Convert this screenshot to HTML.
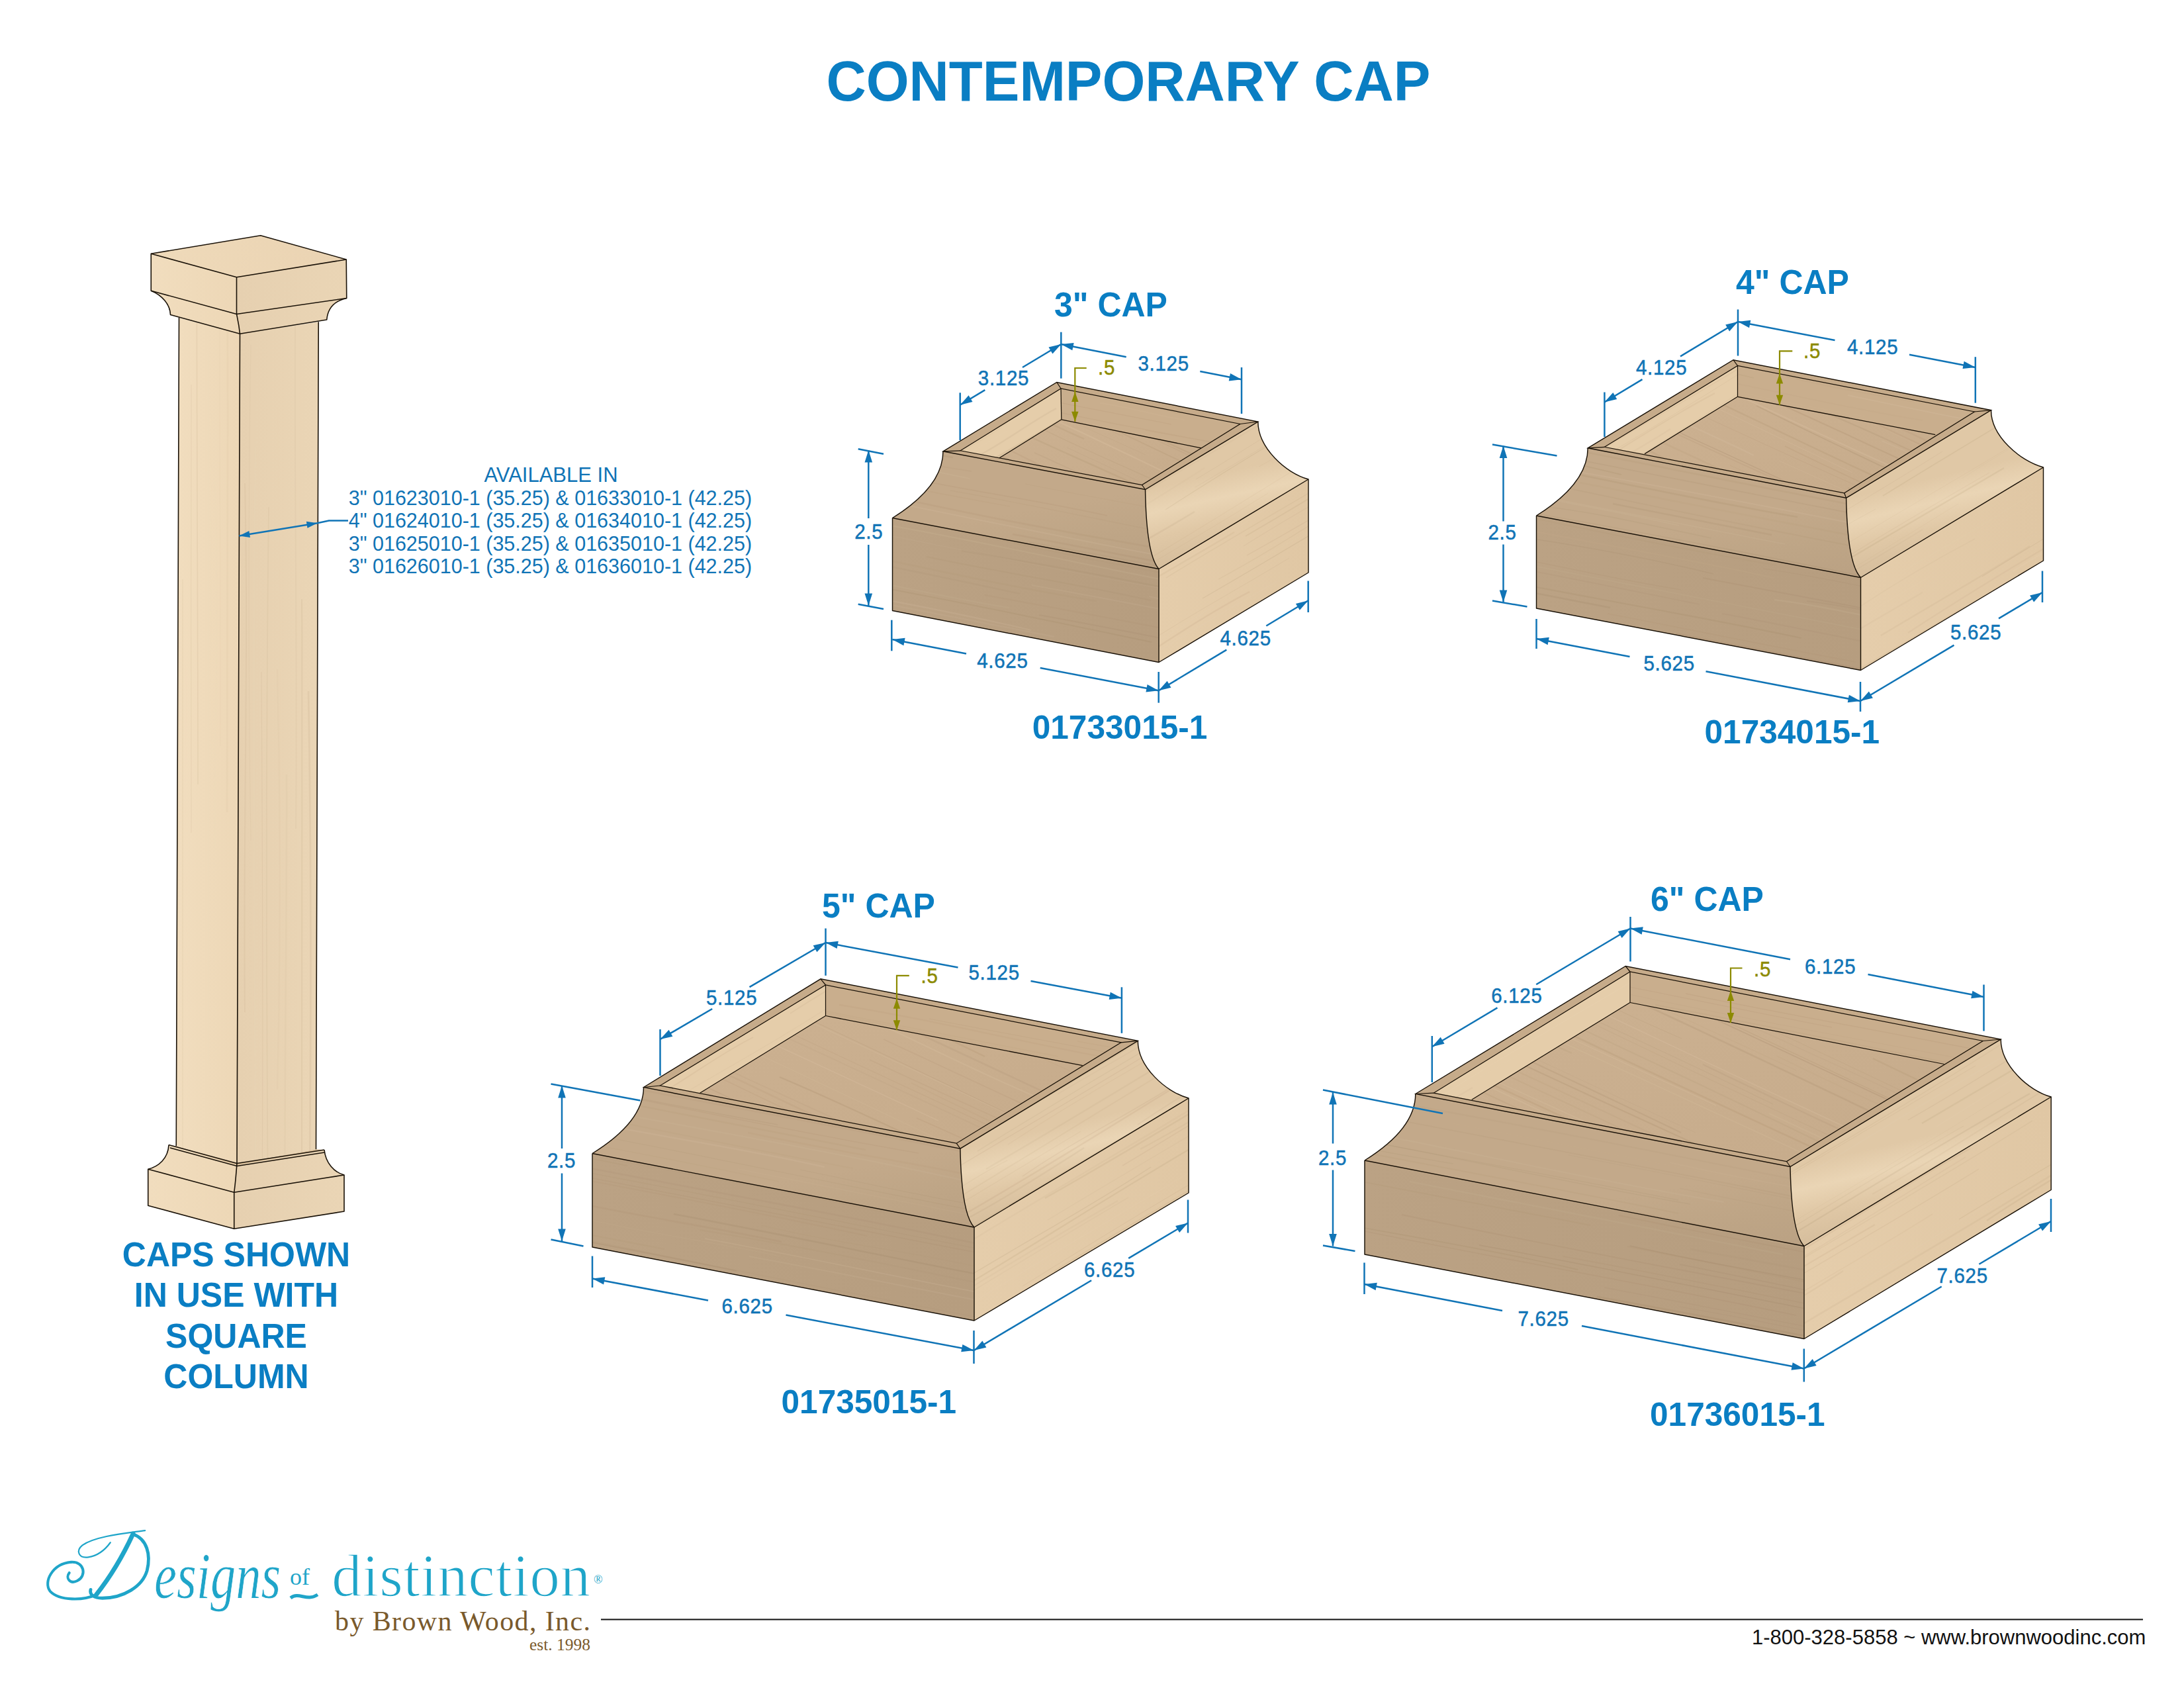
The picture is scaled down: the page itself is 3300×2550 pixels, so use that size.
<!DOCTYPE html>
<html><head><meta charset="utf-8"><title>Contemporary Cap</title>
<style>html,body{margin:0;padding:0;background:#fff;}body{width:3300px;height:2550px;position:relative;overflow:hidden;font-family:"Liberation Sans",sans-serif;}</style>
</head><body>
<svg width="3300" height="2550" viewBox="0 0 3300 2550" style="position:absolute;left:0;top:0"><defs>
<linearGradient id="gL" x1="0" y1="0" x2="1" y2="0"><stop offset="0" stop-color="#bba284"/><stop offset="1" stop-color="#b69d7f"/></linearGradient>
<linearGradient id="gR" x1="0" y1="0" x2="1" y2="0"><stop offset="0" stop-color="#e5cdab"/><stop offset="1" stop-color="#e0c7a4"/></linearGradient>
<linearGradient id="gCL" x1="0" y1="0" x2="0" y2="1"><stop offset="0" stop-color="#c1a788"/><stop offset="1" stop-color="#bfa586"/></linearGradient>
<linearGradient id="gCR" x1="0" y1="0" x2="0" y2="1"><stop offset="0" stop-color="#d9bf9b"/><stop offset="0.45" stop-color="#e6cfac"/><stop offset="1" stop-color="#ddc3a0"/></linearGradient>
<linearGradient id="gFl" x1="0" y1="0" x2="1" y2="1"><stop offset="0" stop-color="#ccb191"/><stop offset="1" stop-color="#c6ab8b"/></linearGradient>
<linearGradient id="gColL" x1="0" y1="0" x2="1" y2="0"><stop offset="0" stop-color="#f1ddbe"/><stop offset="1" stop-color="#edd7b6"/></linearGradient>
<linearGradient id="gColR" x1="0" y1="0" x2="1" y2="0"><stop offset="0" stop-color="#e6d0b0"/><stop offset="1" stop-color="#ead5b5"/></linearGradient>
<linearGradient id="gColT" x1="0" y1="0" x2="1" y2="0"><stop offset="0" stop-color="#efdaba"/><stop offset="1" stop-color="#ead3b2"/></linearGradient>
</defs>
<polygon points="270.5,480.0 362.5,504.2 358.0,1757.5 266.2,1731.2" fill="url(#gColL)" stroke="none" stroke-width="0" />
<polygon points="362.5,504.2 481.2,486.2 477.5,1736.2 358.0,1757.5" fill="url(#gColR)" stroke="none" stroke-width="0" />
<clipPath id="cp1"><path d="M 270.5,480.0 L 362.5,504.2 L 358.0,1757.5 L 266.2,1731.2 Z"/></clipPath>
<g clip-path="url(#cp1)" fill="none"><path d="M951,1340 C954,1471 953,1602 951,1733" stroke="#9c7a55" stroke-opacity="0.03" stroke-width="1.8"/><path d="M943,231 C941,620 941,1009 943,1398" stroke="#8a6a48" stroke-opacity="0.03" stroke-width="2.1"/><path d="M932,707 C936,1055 936,1403 932,1750" stroke="#7e6044" stroke-opacity="0.03" stroke-width="2.3"/><path d="M928,1374 C922,1604 925,1833 928,2062" stroke="#9c7a55" stroke-opacity="0.02" stroke-width="2.5"/><path d="M912,335 C913,517 907,698 912,879" stroke="#9c7a55" stroke-opacity="0.06" stroke-width="2.1"/><path d="M901,1190 C903,1496 907,1802 901,2108" stroke="#9c7a55" stroke-opacity="0.03" stroke-width="1.7"/><path d="M899,1266 C903,1524 893,1781 899,2039" stroke="#8a6a48" stroke-opacity="0.04" stroke-width="2.4"/><path d="M891,875 C895,1072 893,1268 891,1465" stroke="#8a6a48" stroke-opacity="0.03" stroke-width="2.1"/><path d="M879,160 C885,526 877,893 879,1260" stroke="#8a6a48" stroke-opacity="0.04" stroke-width="1.7"/><path d="M870,1062 C872,1208 868,1355 870,1501" stroke="#9c7a55" stroke-opacity="0.05" stroke-width="2.5"/><path d="M862,144 C866,470 862,796 862,1122" stroke="#9c7a55" stroke-opacity="0.07" stroke-width="1.4"/><path d="M854,846 C854,1060 860,1275 854,1489" stroke="#9c7a55" stroke-opacity="0.02" stroke-width="1.7"/><path d="M839,958 C842,1365 836,1772 839,2179" stroke="#f4e2c4" stroke-opacity="0.03" stroke-width="2.2"/><path d="M834,1303 C840,1504 836,1705 834,1905" stroke="#9c7a55" stroke-opacity="0.05" stroke-width="1.1"/><path d="M820,593 C825,874 818,1155 820,1436" stroke="#9c7a55" stroke-opacity="0.07" stroke-width="1.9"/><path d="M813,349 C812,635 818,922 813,1208" stroke="#8a6a48" stroke-opacity="0.05" stroke-width="2.2"/><path d="M808,563 C808,818 808,1074 808,1329" stroke="#7e6044" stroke-opacity="0.06" stroke-width="0.9"/><path d="M794,356 C794,673 795,991 794,1308" stroke="#7e6044" stroke-opacity="0.04" stroke-width="1.9"/><path d="M786,412 C792,684 788,955 786,1227" stroke="#8a6a48" stroke-opacity="0.08" stroke-width="2.0"/><path d="M783,259 C785,567 787,875 783,1182" stroke="#7e6044" stroke-opacity="0.04" stroke-width="2.4"/><path d="M767,639 C764,790 773,940 767,1091" stroke="#7e6044" stroke-opacity="0.03" stroke-width="0.9"/><path d="M764,116 C768,370 763,625 764,880" stroke="#7e6044" stroke-opacity="0.07" stroke-width="1.4"/><path d="M749,800 C748,1000 752,1200 749,1400" stroke="#7e6044" stroke-opacity="0.05" stroke-width="1.1"/><path d="M747,18 C751,406 747,794 747,1183" stroke="#8a6a48" stroke-opacity="0.08" stroke-width="2.6"/><path d="M732,901 C731,1074 728,1247 732,1420" stroke="#8a6a48" stroke-opacity="0.03" stroke-width="1.5"/><path d="M726,773 C724,909 726,1045 726,1181" stroke="#f4e2c4" stroke-opacity="0.06" stroke-width="1.4"/><path d="M720,1172 C725,1394 719,1616 720,1837" stroke="#8a6a48" stroke-opacity="0.03" stroke-width="1.0"/><path d="M711,1413 C713,1593 714,1773 711,1953" stroke="#8a6a48" stroke-opacity="0.03" stroke-width="1.7"/><path d="M699,305 C695,703 700,1101 699,1498" stroke="#f4e2c4" stroke-opacity="0.05" stroke-width="2.6"/><path d="M685,593 C680,990 684,1387 685,1784" stroke="#8a6a48" stroke-opacity="0.03" stroke-width="2.1"/><path d="M679,1407 C684,1557 675,1707 679,1856" stroke="#9c7a55" stroke-opacity="0.03" stroke-width="1.8"/><path d="M667,661 C664,856 665,1051 667,1247" stroke="#8a6a48" stroke-opacity="0.06" stroke-width="2.0"/><path d="M662,750 C660,1031 665,1312 662,1593" stroke="#f4e2c4" stroke-opacity="0.05" stroke-width="0.9"/><path d="M657,565 C656,768 660,970 657,1172" stroke="#f4e2c4" stroke-opacity="0.06" stroke-width="2.5"/><path d="M646,888 C650,1279 652,1671 646,2062" stroke="#f4e2c4" stroke-opacity="0.07" stroke-width="1.3"/><path d="M631,235 C630,570 637,906 631,1241" stroke="#7e6044" stroke-opacity="0.05" stroke-width="1.2"/><path d="M628,137 C623,540 634,943 628,1345" stroke="#9c7a55" stroke-opacity="0.03" stroke-width="1.8"/><path d="M619,1011 C621,1177 621,1343 619,1510" stroke="#f4e2c4" stroke-opacity="0.04" stroke-width="1.5"/><path d="M605,847 C606,1166 605,1485 605,1804" stroke="#8a6a48" stroke-opacity="0.04" stroke-width="1.3"/><path d="M598,751 C593,1169 602,1588 598,2006" stroke="#8a6a48" stroke-opacity="0.05" stroke-width="2.1"/><path d="M592,675 C593,897 597,1119 592,1341" stroke="#f4e2c4" stroke-opacity="0.05" stroke-width="2.0"/><path d="M583,971 C587,1285 589,1598 583,1911" stroke="#9c7a55" stroke-opacity="0.03" stroke-width="2.0"/><path d="M573,951 C575,1172 578,1393 573,1615" stroke="#f4e2c4" stroke-opacity="0.04" stroke-width="1.9"/><path d="M567,624 C566,953 564,1281 567,1610" stroke="#7e6044" stroke-opacity="0.07" stroke-width="2.3"/><path d="M551,807 C557,974 548,1142 551,1309" stroke="#9c7a55" stroke-opacity="0.04" stroke-width="2.6"/><path d="M544,514 C538,743 547,973 544,1203" stroke="#9c7a55" stroke-opacity="0.05" stroke-width="2.4"/><path d="M539,1173 C536,1315 536,1456 539,1598" stroke="#8a6a48" stroke-opacity="0.07" stroke-width="1.0"/><path d="M530,314 C532,506 533,699 530,891" stroke="#7e6044" stroke-opacity="0.05" stroke-width="1.3"/><path d="M519,856 C518,1101 520,1346 519,1591" stroke="#9c7a55" stroke-opacity="0.04" stroke-width="1.3"/><path d="M507,627 C511,956 511,1285 507,1614" stroke="#7e6044" stroke-opacity="0.04" stroke-width="2.3"/><path d="M504,1037 C500,1444 507,1852 504,2260" stroke="#9c7a55" stroke-opacity="0.08" stroke-width="2.3"/><path d="M495,767 C496,938 499,1109 495,1280" stroke="#9c7a55" stroke-opacity="0.03" stroke-width="1.7"/><path d="M482,1198 C479,1358 488,1517 482,1676" stroke="#7e6044" stroke-opacity="0.07" stroke-width="1.4"/><path d="M474,444 C476,635 479,826 474,1018" stroke="#9c7a55" stroke-opacity="0.03" stroke-width="1.7"/><path d="M463,260 C467,428 458,595 463,763" stroke="#7e6044" stroke-opacity="0.03" stroke-width="2.0"/><path d="M451,1073 C451,1277 452,1481 451,1686" stroke="#8a6a48" stroke-opacity="0.05" stroke-width="1.2"/><path d="M442,929 C443,1090 442,1251 442,1411" stroke="#8a6a48" stroke-opacity="0.03" stroke-width="2.3"/><path d="M434,1326 C431,1577 435,1828 434,2079" stroke="#9c7a55" stroke-opacity="0.03" stroke-width="1.3"/><path d="M427,1365 C431,1560 432,1755 427,1951" stroke="#8a6a48" stroke-opacity="0.03" stroke-width="1.2"/><path d="M417,705 C414,1031 416,1358 417,1684" stroke="#7e6044" stroke-opacity="0.04" stroke-width="1.5"/><path d="M414,995 C412,1413 415,1831 414,2249" stroke="#f4e2c4" stroke-opacity="0.05" stroke-width="2.6"/><path d="M401,473 C401,777 395,1080 401,1384" stroke="#9c7a55" stroke-opacity="0.08" stroke-width="0.9"/><path d="M395,215 C390,396 399,576 395,757" stroke="#8a6a48" stroke-opacity="0.08" stroke-width="2.2"/><path d="M385,299 C381,674 391,1050 385,1426" stroke="#8a6a48" stroke-opacity="0.06" stroke-width="1.2"/><path d="M378,126 C379,447 383,768 378,1090" stroke="#7e6044" stroke-opacity="0.05" stroke-width="1.1"/><path d="M360,141 C356,490 362,838 360,1187" stroke="#f4e2c4" stroke-opacity="0.04" stroke-width="2.3"/><path d="M354,1324 C355,1559 360,1794 354,2029" stroke="#f4e2c4" stroke-opacity="0.04" stroke-width="2.5"/><path d="M343,40 C346,436 343,831 343,1227" stroke="#7e6044" stroke-opacity="0.03" stroke-width="2.6"/><path d="M333,300 C330,575 334,851 333,1127" stroke="#9c7a55" stroke-opacity="0.03" stroke-width="1.1"/><path d="M325,726 C331,910 324,1094 325,1278" stroke="#f4e2c4" stroke-opacity="0.05" stroke-width="1.4"/><path d="M320,-55 C318,348 318,750 320,1153" stroke="#f4e2c4" stroke-opacity="0.08" stroke-width="1.0"/><path d="M315,534 C314,892 313,1250 315,1607" stroke="#f4e2c4" stroke-opacity="0.07" stroke-width="1.7"/><path d="M299,-6 C295,391 299,788 299,1185" stroke="#7e6044" stroke-opacity="0.08" stroke-width="1.6"/><path d="M289,581 C288,807 289,1032 289,1258" stroke="#9c7a55" stroke-opacity="0.06" stroke-width="1.6"/><path d="M281,1005 C280,1279 286,1553 281,1827" stroke="#f4e2c4" stroke-opacity="0.04" stroke-width="1.4"/><path d="M276,875 C274,1292 275,1708 276,2124" stroke="#8a6a48" stroke-opacity="0.06" stroke-width="1.4"/><path d="M266,1105 C266,1362 263,1620 266,1877" stroke="#9c7a55" stroke-opacity="0.04" stroke-width="1.2"/><path d="M254,640 C255,905 253,1170 254,1436" stroke="#f4e2c4" stroke-opacity="0.07" stroke-width="2.1"/><path d="M244,1303 C247,1438 250,1573 244,1708" stroke="#8a6a48" stroke-opacity="0.04" stroke-width="2.3"/><path d="M241,1145 C235,1280 239,1416 241,1552" stroke="#7e6044" stroke-opacity="0.04" stroke-width="2.4"/><path d="M226,412 C230,666 227,920 226,1175" stroke="#9c7a55" stroke-opacity="0.07" stroke-width="1.2"/><path d="M218,315 C223,576 212,836 218,1097" stroke="#9c7a55" stroke-opacity="0.07" stroke-width="2.5"/><path d="M215,1271 C213,1553 217,1836 215,2118" stroke="#8a6a48" stroke-opacity="0.03" stroke-width="1.0"/><path d="M200,996 C199,1160 195,1324 200,1488" stroke="#9c7a55" stroke-opacity="0.07" stroke-width="1.7"/><path d="M194,666 C199,921 193,1177 194,1432" stroke="#8a6a48" stroke-opacity="0.06" stroke-width="1.0"/><path d="M180,601 C177,811 180,1021 180,1231" stroke="#8a6a48" stroke-opacity="0.06" stroke-width="2.2"/><path d="M177,1107 C173,1381 173,1654 177,1928" stroke="#8a6a48" stroke-opacity="0.07" stroke-width="2.0"/><path d="M164,999 C170,1308 161,1618 164,1928" stroke="#7e6044" stroke-opacity="0.03" stroke-width="1.2"/><path d="M155,128 C153,390 150,652 155,914" stroke="#8a6a48" stroke-opacity="0.05" stroke-width="1.8"/><path d="M146,735 C140,928 145,1122 146,1315" stroke="#9c7a55" stroke-opacity="0.02" stroke-width="1.0"/><path d="M138,324 C137,542 132,760 138,978" stroke="#f4e2c4" stroke-opacity="0.08" stroke-width="2.1"/><path d="M132,574 C129,827 136,1080 132,1333" stroke="#f4e2c4" stroke-opacity="0.08" stroke-width="1.6"/><path d="M119,781 C115,1203 114,1625 119,2048" stroke="#f4e2c4" stroke-opacity="0.05" stroke-width="2.5"/><path d="M109,951 C109,1134 108,1317 109,1500" stroke="#7e6044" stroke-opacity="0.06" stroke-width="1.7"/><path d="M104,1227 C106,1499 101,1771 104,2044" stroke="#8a6a48" stroke-opacity="0.05" stroke-width="0.8"/><path d="M93,324 C91,564 94,804 93,1044" stroke="#f4e2c4" stroke-opacity="0.05" stroke-width="2.1"/><path d="M83,709 C77,863 78,1016 83,1169" stroke="#f4e2c4" stroke-opacity="0.03" stroke-width="1.8"/><path d="M80,1143 C84,1303 86,1463 80,1624" stroke="#9c7a55" stroke-opacity="0.06" stroke-width="1.4"/><path d="M69,816 C68,1190 73,1565 69,1939" stroke="#f4e2c4" stroke-opacity="0.06" stroke-width="1.0"/><path d="M61,1013 C63,1251 64,1490 61,1728" stroke="#7e6044" stroke-opacity="0.07" stroke-width="0.8"/><path d="M49,404 C51,624 45,844 49,1063" stroke="#8a6a48" stroke-opacity="0.04" stroke-width="2.5"/><path d="M41,526 C41,934 40,1341 41,1748" stroke="#8a6a48" stroke-opacity="0.08" stroke-width="1.7"/><path d="M28,1023 C26,1376 25,1730 28,2083" stroke="#f4e2c4" stroke-opacity="0.03" stroke-width="2.5"/><path d="M26,1029 C32,1255 26,1482 26,1708" stroke="#9c7a55" stroke-opacity="0.03" stroke-width="2.4"/><path d="M14,397 C17,722 8,1046 14,1371" stroke="#7e6044" stroke-opacity="0.04" stroke-width="2.0"/><path d="M8,-10 C4,358 2,727 8,1096" stroke="#8a6a48" stroke-opacity="0.06" stroke-width="1.9"/><path d="M-8,787 C-8,1210 -12,1633 -8,2057" stroke="#f4e2c4" stroke-opacity="0.08" stroke-width="0.8"/><path d="M-17,228 C-12,441 -13,653 -17,866" stroke="#9c7a55" stroke-opacity="0.07" stroke-width="1.0"/><path d="M-19,297 C-20,630 -22,963 -19,1296" stroke="#8a6a48" stroke-opacity="0.06" stroke-width="0.9"/><path d="M-35,228 C-31,463 -35,698 -35,933" stroke="#f4e2c4" stroke-opacity="0.06" stroke-width="2.2"/><path d="M-38,419 C-37,822 -35,1224 -38,1626" stroke="#7e6044" stroke-opacity="0.04" stroke-width="2.4"/><path d="M-52,523 C-53,830 -54,1137 -52,1444" stroke="#8a6a48" stroke-opacity="0.02" stroke-width="1.4"/><path d="M-57,512 C-52,723 -61,933 -57,1144" stroke="#7e6044" stroke-opacity="0.06" stroke-width="2.2"/><path d="M-72,443 C-71,687 -72,931 -72,1174" stroke="#9c7a55" stroke-opacity="0.05" stroke-width="1.5"/><path d="M-76,239 C-72,544 -80,849 -76,1153" stroke="#9c7a55" stroke-opacity="0.07" stroke-width="1.4"/><path d="M-85,677 C-80,847 -90,1018 -85,1188" stroke="#8a6a48" stroke-opacity="0.06" stroke-width="2.3"/><path d="M-95,1138 C-100,1275 -95,1411 -95,1547" stroke="#9c7a55" stroke-opacity="0.03" stroke-width="1.3"/><path d="M-106,647 C-102,993 -109,1339 -106,1685" stroke="#9c7a55" stroke-opacity="0.05" stroke-width="2.4"/><path d="M-115,-36 C-121,372 -120,779 -115,1186" stroke="#8a6a48" stroke-opacity="0.07" stroke-width="1.0"/><path d="M-126,615 C-125,964 -131,1313 -126,1662" stroke="#8a6a48" stroke-opacity="0.06" stroke-width="1.4"/><path d="M-135,1296 C-134,1447 -134,1599 -135,1750" stroke="#7e6044" stroke-opacity="0.07" stroke-width="1.6"/><path d="M-140,1291 C-142,1457 -141,1624 -140,1790" stroke="#f4e2c4" stroke-opacity="0.07" stroke-width="1.5"/><path d="M-153,609 C-150,737 -150,866 -153,994" stroke="#f4e2c4" stroke-opacity="0.03" stroke-width="2.2"/><path d="M-155,1099 C-159,1524 -161,1949 -155,2373" stroke="#f4e2c4" stroke-opacity="0.05" stroke-width="1.7"/><path d="M-165,400 C-166,681 -165,962 -165,1243" stroke="#f4e2c4" stroke-opacity="0.06" stroke-width="1.0"/><path d="M-178,1498 C-182,1646 -181,1795 -178,1943" stroke="#9c7a55" stroke-opacity="0.07" stroke-width="1.7"/><path d="M-190,1031 C-187,1276 -185,1522 -190,1767" stroke="#8a6a48" stroke-opacity="0.04" stroke-width="0.9"/><path d="M-198,439 C-200,645 -201,852 -198,1059" stroke="#8a6a48" stroke-opacity="0.08" stroke-width="2.0"/><path d="M-207,285 C-203,711 -204,1137 -207,1563" stroke="#7e6044" stroke-opacity="0.04" stroke-width="1.6"/><path d="M-212,1002 C-209,1296 -213,1590 -212,1883" stroke="#8a6a48" stroke-opacity="0.03" stroke-width="2.6"/><path d="M-226,1072 C-229,1213 -228,1354 -226,1495" stroke="#8a6a48" stroke-opacity="0.08" stroke-width="2.4"/><path d="M-230,127 C-226,541 -225,955 -230,1368" stroke="#9c7a55" stroke-opacity="0.08" stroke-width="2.2"/><path d="M-238,550 C-232,867 -232,1184 -238,1501" stroke="#7e6044" stroke-opacity="0.03" stroke-width="2.6"/><path d="M-248,492 C-248,624 -243,755 -248,887" stroke="#8a6a48" stroke-opacity="0.06" stroke-width="1.1"/><path d="M-257,329 C-252,653 -259,978 -257,1302" stroke="#8a6a48" stroke-opacity="0.07" stroke-width="1.2"/><path d="M-263,1143 C-262,1425 -265,1706 -263,1987" stroke="#9c7a55" stroke-opacity="0.08" stroke-width="2.2"/><path d="M-279,604 C-274,1004 -280,1403 -279,1802" stroke="#7e6044" stroke-opacity="0.05" stroke-width="0.8"/><path d="M-288,281 C-291,681 -289,1080 -288,1480" stroke="#f4e2c4" stroke-opacity="0.07" stroke-width="2.0"/><path d="M-297,1399 C-291,1615 -300,1831 -297,2047" stroke="#7e6044" stroke-opacity="0.03" stroke-width="2.4"/><path d="M-300,315 C-299,551 -296,788 -300,1025" stroke="#7e6044" stroke-opacity="0.06" stroke-width="1.7"/><path d="M-315,873 C-314,1141 -312,1409 -315,1677" stroke="#7e6044" stroke-opacity="0.03" stroke-width="1.2"/><path d="M-319,1445 C-316,1617 -320,1789 -319,1961" stroke="#7e6044" stroke-opacity="0.05" stroke-width="1.0"/></g>
<clipPath id="cp2"><path d="M 362.5,504.2 L 481.2,486.2 L 477.5,1736.2 L 358.0,1757.5 Z"/></clipPath>
<g clip-path="url(#cp2)" fill="none"><path d="M1059,843 C1057,1133 1065,1424 1059,1715" stroke="#8a6a48" stroke-opacity="0.06" stroke-width="1.3"/><path d="M1047,1207 C1043,1417 1045,1628 1047,1838" stroke="#8a6a48" stroke-opacity="0.03" stroke-width="2.1"/><path d="M1035,528 C1031,824 1030,1120 1035,1416" stroke="#9c7a55" stroke-opacity="0.08" stroke-width="1.3"/><path d="M1026,387 C1023,713 1024,1040 1026,1367" stroke="#9c7a55" stroke-opacity="0.02" stroke-width="2.4"/><path d="M1019,873 C1013,1112 1016,1350 1019,1589" stroke="#9c7a55" stroke-opacity="0.08" stroke-width="1.6"/><path d="M1007,795 C1003,1122 1003,1450 1007,1777" stroke="#9c7a55" stroke-opacity="0.06" stroke-width="0.9"/><path d="M1002,504 C1008,674 1004,845 1002,1015" stroke="#9c7a55" stroke-opacity="0.06" stroke-width="2.6"/><path d="M995,1176 C996,1369 997,1561 995,1754" stroke="#7e6044" stroke-opacity="0.04" stroke-width="2.4"/><path d="M983,504 C985,680 983,857 983,1033" stroke="#9c7a55" stroke-opacity="0.05" stroke-width="1.1"/><path d="M971,1124 C972,1506 977,1887 971,2268" stroke="#7e6044" stroke-opacity="0.03" stroke-width="2.3"/><path d="M962,741 C965,990 960,1240 962,1489" stroke="#f4e2c4" stroke-opacity="0.07" stroke-width="1.5"/><path d="M956,1376 C952,1580 954,1784 956,1988" stroke="#8a6a48" stroke-opacity="0.06" stroke-width="2.1"/><path d="M944,321 C941,502 949,683 944,863" stroke="#8a6a48" stroke-opacity="0.06" stroke-width="2.5"/><path d="M941,158 C942,525 941,892 941,1259" stroke="#9c7a55" stroke-opacity="0.03" stroke-width="1.3"/><path d="M927,977 C923,1107 924,1236 927,1365" stroke="#9c7a55" stroke-opacity="0.04" stroke-width="1.1"/><path d="M919,846 C918,1109 924,1373 919,1637" stroke="#9c7a55" stroke-opacity="0.05" stroke-width="2.4"/><path d="M914,653 C920,964 914,1275 914,1586" stroke="#f4e2c4" stroke-opacity="0.04" stroke-width="0.8"/><path d="M904,507 C904,653 903,798 904,944" stroke="#8a6a48" stroke-opacity="0.08" stroke-width="1.7"/><path d="M894,1193 C897,1478 895,1763 894,2048" stroke="#f4e2c4" stroke-opacity="0.05" stroke-width="1.4"/><path d="M888,174 C883,476 893,779 888,1082" stroke="#9c7a55" stroke-opacity="0.05" stroke-width="2.4"/><path d="M877,1139 C874,1537 881,1934 877,2332" stroke="#8a6a48" stroke-opacity="0.03" stroke-width="1.8"/><path d="M864,1329 C864,1535 870,1741 864,1948" stroke="#7e6044" stroke-opacity="0.05" stroke-width="1.0"/><path d="M857,367 C862,496 858,624 857,753" stroke="#f4e2c4" stroke-opacity="0.06" stroke-width="1.5"/><path d="M846,1125 C846,1430 841,1734 846,2039" stroke="#f4e2c4" stroke-opacity="0.07" stroke-width="0.9"/><path d="M843,293 C841,526 847,760 843,993" stroke="#9c7a55" stroke-opacity="0.03" stroke-width="2.1"/><path d="M828,286 C829,661 828,1037 828,1412" stroke="#f4e2c4" stroke-opacity="0.05" stroke-width="1.6"/><path d="M821,370 C825,777 819,1183 821,1590" stroke="#9c7a55" stroke-opacity="0.04" stroke-width="1.7"/><path d="M813,991 C818,1247 813,1504 813,1761" stroke="#f4e2c4" stroke-opacity="0.06" stroke-width="1.6"/><path d="M805,809 C805,1083 802,1358 805,1632" stroke="#8a6a48" stroke-opacity="0.07" stroke-width="2.2"/><path d="M796,91 C793,352 797,613 796,874" stroke="#8a6a48" stroke-opacity="0.06" stroke-width="1.3"/><path d="M787,642 C786,808 789,974 787,1140" stroke="#7e6044" stroke-opacity="0.03" stroke-width="1.8"/><path d="M777,470 C772,744 771,1019 777,1293" stroke="#8a6a48" stroke-opacity="0.05" stroke-width="1.3"/><path d="M766,850 C766,1211 762,1572 766,1932" stroke="#7e6044" stroke-opacity="0.08" stroke-width="1.2"/><path d="M762,938 C766,1240 761,1542 762,1844" stroke="#8a6a48" stroke-opacity="0.03" stroke-width="1.6"/><path d="M752,1236 C755,1503 748,1769 752,2036" stroke="#8a6a48" stroke-opacity="0.03" stroke-width="1.3"/><path d="M737,684 C739,899 740,1114 737,1329" stroke="#9c7a55" stroke-opacity="0.04" stroke-width="2.3"/><path d="M733,944 C731,1128 727,1312 733,1496" stroke="#7e6044" stroke-opacity="0.02" stroke-width="1.2"/><path d="M722,632 C724,842 716,1052 722,1263" stroke="#f4e2c4" stroke-opacity="0.07" stroke-width="2.2"/><path d="M715,431 C717,793 710,1154 715,1515" stroke="#f4e2c4" stroke-opacity="0.03" stroke-width="0.8"/><path d="M701,1168 C704,1429 695,1691 701,1952" stroke="#7e6044" stroke-opacity="0.06" stroke-width="1.2"/><path d="M695,415 C692,799 690,1182 695,1566" stroke="#9c7a55" stroke-opacity="0.03" stroke-width="2.0"/><path d="M682,755 C679,1008 685,1261 682,1514" stroke="#7e6044" stroke-opacity="0.03" stroke-width="2.3"/><path d="M675,1086 C676,1464 677,1841 675,2219" stroke="#f4e2c4" stroke-opacity="0.06" stroke-width="1.9"/><path d="M665,357 C670,707 663,1056 665,1405" stroke="#9c7a55" stroke-opacity="0.05" stroke-width="2.4"/><path d="M656,1427 C657,1611 650,1796 656,1980" stroke="#8a6a48" stroke-opacity="0.02" stroke-width="0.9"/><path d="M650,270 C652,516 646,761 650,1006" stroke="#8a6a48" stroke-opacity="0.07" stroke-width="1.0"/><path d="M640,612 C640,1027 641,1442 640,1857" stroke="#9c7a55" stroke-opacity="0.06" stroke-width="2.0"/><path d="M630,1168 C629,1438 634,1708 630,1979" stroke="#f4e2c4" stroke-opacity="0.03" stroke-width="2.0"/><path d="M627,83 C629,464 629,845 627,1225" stroke="#8a6a48" stroke-opacity="0.06" stroke-width="0.9"/><path d="M617,284 C614,503 614,721 617,940" stroke="#8a6a48" stroke-opacity="0.03" stroke-width="2.0"/><path d="M603,1348 C608,1482 604,1616 603,1750" stroke="#8a6a48" stroke-opacity="0.05" stroke-width="0.9"/><path d="M600,831 C598,976 596,1120 600,1265" stroke="#9c7a55" stroke-opacity="0.04" stroke-width="1.3"/><path d="M589,1112 C588,1467 586,1822 589,2177" stroke="#7e6044" stroke-opacity="0.04" stroke-width="2.3"/><path d="M575,287 C571,474 579,661 575,848" stroke="#7e6044" stroke-opacity="0.07" stroke-width="1.7"/><path d="M565,607 C560,855 568,1102 565,1350" stroke="#7e6044" stroke-opacity="0.03" stroke-width="2.3"/><path d="M561,795 C562,1164 561,1533 561,1902" stroke="#8a6a48" stroke-opacity="0.08" stroke-width="1.8"/><path d="M549,426 C547,606 554,786 549,965" stroke="#8a6a48" stroke-opacity="0.06" stroke-width="2.5"/><path d="M538,280 C538,572 540,864 538,1156" stroke="#9c7a55" stroke-opacity="0.07" stroke-width="1.3"/><path d="M537,-16 C542,393 536,802 537,1211" stroke="#9c7a55" stroke-opacity="0.07" stroke-width="1.7"/><path d="M521,447 C520,769 521,1091 521,1413" stroke="#8a6a48" stroke-opacity="0.03" stroke-width="1.4"/><path d="M514,595 C519,731 517,867 514,1003" stroke="#9c7a55" stroke-opacity="0.04" stroke-width="2.4"/><path d="M508,643 C509,1024 505,1406 508,1787" stroke="#8a6a48" stroke-opacity="0.08" stroke-width="1.8"/><path d="M494,1123 C494,1437 493,1751 494,2065" stroke="#8a6a48" stroke-opacity="0.07" stroke-width="1.5"/><path d="M487,521 C491,944 483,1368 487,1792" stroke="#f4e2c4" stroke-opacity="0.05" stroke-width="1.0"/><path d="M481,272 C486,661 483,1050 481,1440" stroke="#7e6044" stroke-opacity="0.03" stroke-width="2.6"/><path d="M466,1044 C472,1365 469,1685 466,2005" stroke="#8a6a48" stroke-opacity="0.08" stroke-width="2.6"/><path d="M456,905 C459,1258 454,1611 456,1965" stroke="#7e6044" stroke-opacity="0.08" stroke-width="1.8"/><path d="M454,757 C452,1024 454,1291 454,1558" stroke="#f4e2c4" stroke-opacity="0.04" stroke-width="2.6"/><path d="M447,368 C443,663 450,957 447,1252" stroke="#8a6a48" stroke-opacity="0.04" stroke-width="1.9"/><path d="M433,1170 C434,1443 427,1716 433,1990" stroke="#9c7a55" stroke-opacity="0.04" stroke-width="2.5"/><path d="M420,616 C424,1009 424,1402 420,1796" stroke="#f4e2c4" stroke-opacity="0.03" stroke-width="0.9"/><path d="M419,1011 C424,1222 424,1434 419,1646" stroke="#9c7a55" stroke-opacity="0.03" stroke-width="2.2"/><path d="M406,766 C401,1175 403,1583 406,1992" stroke="#7e6044" stroke-opacity="0.05" stroke-width="1.7"/><path d="M395,1015 C397,1331 398,1647 395,1963" stroke="#8a6a48" stroke-opacity="0.07" stroke-width="1.1"/><path d="M386,676 C381,1074 386,1472 386,1871" stroke="#f4e2c4" stroke-opacity="0.07" stroke-width="2.6"/><path d="M379,521 C375,770 375,1020 379,1270" stroke="#8a6a48" stroke-opacity="0.05" stroke-width="0.8"/><path d="M370,730 C376,996 367,1263 370,1529" stroke="#8a6a48" stroke-opacity="0.06" stroke-width="1.9"/><path d="M359,826 C362,1083 358,1341 359,1598" stroke="#9c7a55" stroke-opacity="0.06" stroke-width="1.8"/><path d="M353,836 C352,1002 354,1169 353,1336" stroke="#f4e2c4" stroke-opacity="0.03" stroke-width="2.5"/><path d="M341,1060 C341,1355 335,1649 341,1943" stroke="#9c7a55" stroke-opacity="0.07" stroke-width="1.5"/><path d="M332,416 C329,563 338,710 332,858" stroke="#f4e2c4" stroke-opacity="0.03" stroke-width="2.1"/><path d="M322,172 C316,511 326,850 322,1189" stroke="#9c7a55" stroke-opacity="0.08" stroke-width="2.2"/><path d="M313,1327 C317,1605 316,1884 313,2162" stroke="#9c7a55" stroke-opacity="0.07" stroke-width="1.6"/><path d="M307,920 C309,1319 313,1717 307,2116" stroke="#f4e2c4" stroke-opacity="0.03" stroke-width="2.1"/><path d="M302,488 C303,803 301,1117 302,1431" stroke="#8a6a48" stroke-opacity="0.06" stroke-width="2.2"/><path d="M289,292 C287,618 291,943 289,1269" stroke="#8a6a48" stroke-opacity="0.03" stroke-width="2.1"/><path d="M277,-91 C271,330 272,752 277,1173" stroke="#9c7a55" stroke-opacity="0.07" stroke-width="0.8"/><path d="M272,877 C271,1132 266,1387 272,1642" stroke="#9c7a55" stroke-opacity="0.03" stroke-width="2.2"/><path d="M266,-25 C265,319 271,663 266,1007" stroke="#9c7a55" stroke-opacity="0.05" stroke-width="1.8"/><path d="M253,676 C251,1082 252,1487 253,1893" stroke="#8a6a48" stroke-opacity="0.08" stroke-width="2.4"/><path d="M244,157 C246,414 239,672 244,929" stroke="#7e6044" stroke-opacity="0.03" stroke-width="1.0"/><path d="M237,829 C234,1134 235,1440 237,1746" stroke="#7e6044" stroke-opacity="0.03" stroke-width="1.1"/><path d="M225,711 C222,1105 220,1498 225,1891" stroke="#8a6a48" stroke-opacity="0.04" stroke-width="1.4"/><path d="M217,-10 C217,343 219,696 217,1048" stroke="#8a6a48" stroke-opacity="0.06" stroke-width="2.1"/><path d="M211,1291 C214,1594 206,1897 211,2200" stroke="#f4e2c4" stroke-opacity="0.08" stroke-width="1.0"/><path d="M200,891 C195,1178 203,1464 200,1751" stroke="#9c7a55" stroke-opacity="0.08" stroke-width="1.5"/><path d="M191,966 C188,1229 196,1491 191,1753" stroke="#7e6044" stroke-opacity="0.03" stroke-width="1.4"/><path d="M181,162 C175,582 182,1002 181,1422" stroke="#f4e2c4" stroke-opacity="0.06" stroke-width="2.0"/><path d="M172,1205 C170,1367 169,1529 172,1691" stroke="#7e6044" stroke-opacity="0.05" stroke-width="1.1"/><path d="M161,607 C159,772 167,938 161,1103" stroke="#8a6a48" stroke-opacity="0.04" stroke-width="1.5"/><path d="M158,981 C164,1191 161,1400 158,1610" stroke="#9c7a55" stroke-opacity="0.07" stroke-width="1.6"/><path d="M149,175 C148,392 143,610 149,828" stroke="#8a6a48" stroke-opacity="0.07" stroke-width="1.3"/><path d="M132,1451 C127,1644 136,1838 132,2032" stroke="#f4e2c4" stroke-opacity="0.07" stroke-width="1.1"/><path d="M125,764 C121,977 129,1190 125,1404" stroke="#9c7a55" stroke-opacity="0.07" stroke-width="1.0"/><path d="M116,194 C121,486 118,778 116,1070" stroke="#8a6a48" stroke-opacity="0.05" stroke-width="1.6"/><path d="M107,1260 C108,1549 105,1837 107,2125" stroke="#f4e2c4" stroke-opacity="0.06" stroke-width="1.3"/><path d="M101,22 C103,410 106,799 101,1187" stroke="#7e6044" stroke-opacity="0.08" stroke-width="1.9"/><path d="M87,-143 C90,274 82,691 87,1108" stroke="#7e6044" stroke-opacity="0.06" stroke-width="1.1"/><path d="M86,1082 C91,1439 84,1796 86,2153" stroke="#8a6a48" stroke-opacity="0.06" stroke-width="2.2"/><path d="M73,750 C74,1071 78,1392 73,1713" stroke="#7e6044" stroke-opacity="0.05" stroke-width="1.7"/><path d="M65,604 C71,914 70,1224 65,1534" stroke="#f4e2c4" stroke-opacity="0.06" stroke-width="1.5"/><path d="M53,735 C59,1073 52,1411 53,1749" stroke="#9c7a55" stroke-opacity="0.07" stroke-width="2.0"/><path d="M42,720 C48,1068 38,1415 42,1763" stroke="#7e6044" stroke-opacity="0.03" stroke-width="2.2"/><path d="M38,738 C35,1142 33,1546 38,1950" stroke="#f4e2c4" stroke-opacity="0.07" stroke-width="0.9"/><path d="M31,1017 C31,1174 26,1332 31,1489" stroke="#9c7a55" stroke-opacity="0.04" stroke-width="1.6"/><path d="M23,321 C29,576 24,831 23,1086" stroke="#7e6044" stroke-opacity="0.06" stroke-width="2.0"/><path d="M12,1320 C17,1531 11,1742 12,1952" stroke="#8a6a48" stroke-opacity="0.03" stroke-width="2.2"/><path d="M3,671 C1,1003 1,1335 3,1667" stroke="#9c7a55" stroke-opacity="0.05" stroke-width="1.3"/><path d="M-10,819 C-10,1066 -14,1314 -10,1562" stroke="#f4e2c4" stroke-opacity="0.08" stroke-width="2.3"/><path d="M-14,92 C-15,488 -12,883 -14,1278" stroke="#8a6a48" stroke-opacity="0.04" stroke-width="1.0"/><path d="M-24,1032 C-28,1424 -24,1817 -24,2210" stroke="#f4e2c4" stroke-opacity="0.05" stroke-width="2.0"/><path d="M-36,1402 C-30,1589 -38,1775 -36,1962" stroke="#9c7a55" stroke-opacity="0.03" stroke-width="1.6"/><path d="M-48,751 C-46,1175 -46,1600 -48,2024" stroke="#f4e2c4" stroke-opacity="0.08" stroke-width="1.3"/><path d="M-51,193 C-57,598 -54,1003 -51,1407" stroke="#8a6a48" stroke-opacity="0.05" stroke-width="1.8"/><path d="M-65,409 C-71,655 -64,901 -65,1147" stroke="#8a6a48" stroke-opacity="0.07" stroke-width="2.1"/><path d="M-69,466 C-71,693 -72,920 -69,1147" stroke="#7e6044" stroke-opacity="0.04" stroke-width="2.3"/><path d="M-81,697 C-78,929 -77,1162 -81,1394" stroke="#9c7a55" stroke-opacity="0.06" stroke-width="2.4"/><path d="M-88,1529 C-94,1676 -90,1823 -88,1969" stroke="#9c7a55" stroke-opacity="0.03" stroke-width="0.8"/><path d="M-101,661 C-105,1076 -100,1490 -101,1905" stroke="#7e6044" stroke-opacity="0.05" stroke-width="1.9"/><path d="M-109,1228 C-110,1372 -110,1516 -109,1659" stroke="#7e6044" stroke-opacity="0.07" stroke-width="0.9"/><path d="M-114,217 C-114,484 -116,752 -114,1019" stroke="#8a6a48" stroke-opacity="0.07" stroke-width="2.0"/><path d="M-127,436 C-132,638 -125,841 -127,1043" stroke="#9c7a55" stroke-opacity="0.07" stroke-width="0.9"/><path d="M-136,301 C-137,567 -141,834 -136,1101" stroke="#7e6044" stroke-opacity="0.04" stroke-width="1.5"/><path d="M-142,531 C-138,853 -142,1175 -142,1497" stroke="#f4e2c4" stroke-opacity="0.03" stroke-width="0.9"/><path d="M-149,499 C-144,658 -153,816 -149,974" stroke="#8a6a48" stroke-opacity="0.03" stroke-width="1.2"/><path d="M-162,142 C-162,559 -157,975 -162,1391" stroke="#f4e2c4" stroke-opacity="0.07" stroke-width="1.8"/><path d="M-167,390 C-166,679 -172,968 -167,1256" stroke="#f4e2c4" stroke-opacity="0.04" stroke-width="1.0"/><path d="M-183,1317 C-185,1609 -177,1901 -183,2193" stroke="#9c7a55" stroke-opacity="0.05" stroke-width="2.6"/><path d="M-186,139 C-190,410 -188,680 -186,950" stroke="#9c7a55" stroke-opacity="0.08" stroke-width="1.0"/><path d="M-200,1020 C-194,1187 -205,1354 -200,1521" stroke="#7e6044" stroke-opacity="0.04" stroke-width="1.9"/><path d="M-204,641 C-198,938 -201,1235 -204,1533" stroke="#7e6044" stroke-opacity="0.05" stroke-width="2.1"/><path d="M-220,485 C-224,783 -223,1081 -220,1378" stroke="#8a6a48" stroke-opacity="0.08" stroke-width="1.3"/></g>
<polygon points="223.8,1766.2 353.8,1801.2 353.8,1856.2 223.8,1821.2" fill="url(#gColL)" stroke="none" stroke-width="0" />
<polygon points="353.8,1801.2 520.0,1775.0 520.0,1830.0 353.8,1856.2" fill="url(#gColR)" stroke="none" stroke-width="0" />
<path d="M 255,1729.5 C 254,1750 240,1762 223.75,1766.25 L 353.75,1801.25 C 356,1785 357,1770 358,1757.5 Z" fill="url(#gColL)" stroke="none" stroke-width="0" />
<path d="M 358,1757.5 C 357,1770 356,1785 353.75,1801.25 L 520,1775 C 505,1771 492,1757 490,1737 Z" fill="url(#gColR)" stroke="none" stroke-width="0" />
<polygon points="255.0,1729.5 266.2,1731.2 358.0,1757.5 477.5,1736.2 490.0,1737.0 358.0,1760.0" fill="#d9bd96" stroke="none" stroke-width="0" />
<path d="M 255,1729.5 C 254,1750 240,1762 223.75,1766.25 L 223.75,1821.25 L 353.75,1856.25 L 520,1830 L 520,1775 C 505,1771 492,1757 490,1737" fill="none" stroke="#1a1208" stroke-width="1.6" stroke-linejoin="round"/>
<path d="M 223.75,1766.25 L 353.75,1801.25 L 520,1775" fill="none" stroke="#1a1208" stroke-width="1.6" stroke-linejoin="round"/>
<path d="M 353.75,1856.25 L 353.75,1801.25 C 356,1785 357,1770 358,1757.5" fill="none" stroke="#1a1208" stroke-width="1.6" stroke-linejoin="round"/>
<path d="M 255,1729.5 L 358,1757.5 L 490,1737" fill="none" stroke="#1a1208" stroke-width="1.6" stroke-linejoin="round"/>
<path d="M 257,1734 L 358,1761.5 L 490,1741" fill="none" stroke="#1a1208" stroke-width="1.6" stroke-linejoin="round"/>
<path d="M 266.25,1731.25 L 270.5,480 M 358,1757.5 L 362.5,504.25 M 477.5,1736.25 L 481.25,486.25" fill="none" stroke="#1a1208" stroke-width="1.6" stroke-linejoin="round"/>
<path d="M 228.25,439.25 C 245,446 257,460 257.5,475.5 L 362.5,504.25 C 361,490 359,482 357.5,474.5 Z" fill="url(#gColL)" stroke="none" stroke-width="0" />
<path d="M 357.5,474.5 C 359,482 361,490 362.5,504.25 L 493.75,483 C 495,468 503,455 523.75,450.5 Z" fill="url(#gColR)" stroke="none" stroke-width="0" />
<polygon points="228.2,383.2 357.5,418.8 357.5,474.5 228.2,439.2" fill="url(#gColL)" stroke="none" stroke-width="0" />
<polygon points="357.5,418.8 523.2,392.0 523.8,450.5 357.5,474.5" fill="url(#gColR)" stroke="none" stroke-width="0" />
<polygon points="228.2,383.2 393.8,355.8 523.2,392.0 357.5,418.8" fill="url(#gColT)" stroke="none" stroke-width="0" />
<path d="M 228.25,383.25 L 393.75,355.75 L 523.25,392 L 523.75,450.5 C 503,455 495,468 493.75,483 L 362.5,504.25 L 257.5,475.5 C 257,460 245,446 228.25,439.25 Z" fill="none" stroke="#1a1208" stroke-width="1.6" stroke-linejoin="round"/>
<path d="M 228.25,383.25 L 357.5,418.75 L 523.25,392 M 357.5,418.75 L 357.5,474.5 C 359,482 361,490 362.5,504.25" fill="none" stroke="#1a1208" stroke-width="1.6" stroke-linejoin="round"/>
<path d="M 228.25,439.25 L 357.5,474.5 L 523.75,450.5" fill="none" stroke="#1a1208" stroke-width="1.6" stroke-linejoin="round"/>
<polyline points="361.4,809.5 479.5,790.2 497,786.5 526,786.5" fill="none" stroke="#1074b6" stroke-width="2.4"/>
<polygon points="361.4,809.5 376.4,802.0 378.0,811.9" fill="#1074b6" stroke="none" stroke-width="0" />
<polygon points="479.5,790.2 464.5,797.7 462.9,787.8" fill="#1074b6" stroke="none" stroke-width="0" />
<linearGradient id="cr3" gradientUnits="userSpaceOnUse" x1="1730.5" y1="739.5" x2="1757.2" y2="859.5"><stop offset="0" stop-color="#e0c8a6"/><stop offset="0.3" stop-color="#ead5b5"/><stop offset="0.6" stop-color="#e0c8a6"/><stop offset="1" stop-color="#d5bd9c"/></linearGradient>
<linearGradient id="cl3" gradientUnits="userSpaceOnUse" x1="1730.5" y1="739.5" x2="1751.0" y2="859.5"><stop offset="0" stop-color="#c3a98a"/><stop offset="0.5" stop-color="#bea586"/><stop offset="1" stop-color="#baa183"/></linearGradient>
<polygon points="1348.5,782.5 1751.0,859.5 1751.0,1000.5 1348.5,922.5" fill="url(#gL)" stroke="none" stroke-width="0" />
<clipPath id="cp4"><path d="M 1348.5,782.5 L 1751.0,859.5 L 1751.0,1000.5 L 1348.5,922.5 Z"/></clipPath>
<g clip-path="url(#cp4)" fill="none"><path d="M1730,605 C1829,619 1925,645 2024,662" stroke="#9c7a55" stroke-opacity="0.09" stroke-width="2.2"/><path d="M1379,546 C1444,553 1508,565 1570,583" stroke="#f4e2c4" stroke-opacity="0.05" stroke-width="1.0"/><path d="M1205,517 C1337,548 1471,573 1605,595" stroke="#9c7a55" stroke-opacity="0.05" stroke-width="1.3"/><path d="M1446,579 C1530,600 1614,617 1700,629" stroke="#9c7a55" stroke-opacity="0.05" stroke-width="0.9"/><path d="M1457,588 C1645,629 1835,659 2024,698" stroke="#f4e2c4" stroke-opacity="0.07" stroke-width="0.9"/><path d="M1266,561 C1428,589 1589,623 1750,654" stroke="#f4e2c4" stroke-opacity="0.03" stroke-width="0.8"/><path d="M1432,605 C1560,632 1687,660 1816,679" stroke="#7e6044" stroke-opacity="0.04" stroke-width="1.1"/><path d="M1166,558 C1302,586 1438,616 1576,638" stroke="#9c7a55" stroke-opacity="0.08" stroke-width="1.8"/><path d="M1373,606 C1549,640 1723,680 1900,709" stroke="#7e6044" stroke-opacity="0.08" stroke-width="0.8"/><path d="M1397,620 C1501,646 1606,666 1713,682" stroke="#f4e2c4" stroke-opacity="0.05" stroke-width="1.3"/><path d="M1591,673 C1736,697 1879,725 2022,757" stroke="#9c7a55" stroke-opacity="0.04" stroke-width="2.1"/><path d="M1586,674 C1768,706 1947,751 2128,780" stroke="#7e6044" stroke-opacity="0.05" stroke-width="2.5"/><path d="M1264,624 C1386,643 1506,668 1626,694" stroke="#9c7a55" stroke-opacity="0.06" stroke-width="1.6"/><path d="M1793,732 C1857,746 1921,761 1985,769" stroke="#f4e2c4" stroke-opacity="0.10" stroke-width="2.1"/><path d="M1128,614 C1285,642 1440,680 1597,705" stroke="#8a6a48" stroke-opacity="0.06" stroke-width="1.9"/><path d="M1001,598 C1206,642 1412,683 1618,718" stroke="#8a6a48" stroke-opacity="0.03" stroke-width="2.4"/><path d="M1687,746 C1819,770 1952,794 2083,823" stroke="#7e6044" stroke-opacity="0.07" stroke-width="2.6"/><path d="M1327,685 C1521,723 1715,758 1909,798" stroke="#9c7a55" stroke-opacity="0.05" stroke-width="1.2"/><path d="M1549,736 C1618,743 1686,759 1754,776" stroke="#9c7a55" stroke-opacity="0.07" stroke-width="1.5"/><path d="M1337,701 C1520,738 1702,774 1885,808" stroke="#8a6a48" stroke-opacity="0.07" stroke-width="1.8"/><path d="M1689,782 C1821,806 1951,837 2083,859" stroke="#9c7a55" stroke-opacity="0.10" stroke-width="1.4"/><path d="M1224,696 C1331,719 1439,738 1546,758" stroke="#9c7a55" stroke-opacity="0.03" stroke-width="2.1"/><path d="M1305,725 C1382,744 1462,755 1540,771" stroke="#9c7a55" stroke-opacity="0.09" stroke-width="2.0"/><path d="M1217,719 C1374,746 1530,777 1686,810" stroke="#8a6a48" stroke-opacity="0.08" stroke-width="1.7"/><path d="M1037,691 C1206,723 1374,754 1542,789" stroke="#7e6044" stroke-opacity="0.07" stroke-width="2.1"/><path d="M1236,739 C1427,772 1616,818 1808,850" stroke="#f4e2c4" stroke-opacity="0.09" stroke-width="2.3"/><path d="M1567,808 C1715,839 1862,870 2011,894" stroke="#8a6a48" stroke-opacity="0.06" stroke-width="2.4"/><path d="M1033,716 C1212,749 1390,784 1567,820" stroke="#8a6a48" stroke-opacity="0.09" stroke-width="1.2"/><path d="M1455,804 C1590,833 1724,862 1860,883" stroke="#9c7a55" stroke-opacity="0.04" stroke-width="1.7"/><path d="M1265,780 C1465,813 1662,859 1861,896" stroke="#f4e2c4" stroke-opacity="0.08" stroke-width="2.1"/><path d="M1291,799 C1446,828 1600,863 1756,889" stroke="#f4e2c4" stroke-opacity="0.06" stroke-width="1.2"/><path d="M1453,832 C1654,865 1853,905 2052,948" stroke="#7e6044" stroke-opacity="0.05" stroke-width="2.3"/><path d="M1736,901 C1821,922 1907,938 1994,951" stroke="#f4e2c4" stroke-opacity="0.07" stroke-width="2.0"/><path d="M1400,841 C1513,865 1627,882 1739,907" stroke="#9c7a55" stroke-opacity="0.08" stroke-width="1.9"/><path d="M1559,884 C1726,914 1893,947 2059,982" stroke="#f4e2c4" stroke-opacity="0.07" stroke-width="2.1"/><path d="M1118,804 C1299,833 1476,879 1657,908" stroke="#9c7a55" stroke-opacity="0.04" stroke-width="2.5"/><path d="M1029,798 C1201,826 1371,860 1541,897" stroke="#7e6044" stroke-opacity="0.04" stroke-width="2.3"/><path d="M1488,899 C1683,934 1877,972 2072,1012" stroke="#9c7a55" stroke-opacity="0.06" stroke-width="2.0"/><path d="M1225,860 C1325,878 1424,902 1525,918" stroke="#f4e2c4" stroke-opacity="0.05" stroke-width="2.4"/><path d="M1570,929 C1738,959 1904,995 2070,1026" stroke="#7e6044" stroke-opacity="0.07" stroke-width="1.9"/><path d="M1137,853 C1339,886 1540,928 1740,970" stroke="#8a6a48" stroke-opacity="0.09" stroke-width="2.0"/><path d="M1158,874 C1292,897 1426,921 1558,952" stroke="#f4e2c4" stroke-opacity="0.09" stroke-width="2.3"/><path d="M1277,901 C1382,920 1487,941 1593,962" stroke="#f4e2c4" stroke-opacity="0.06" stroke-width="2.5"/><path d="M1339,921 C1484,950 1629,981 1775,1005" stroke="#f4e2c4" stroke-opacity="0.09" stroke-width="1.4"/><path d="M1201,904 C1343,933 1486,955 1626,987" stroke="#9c7a55" stroke-opacity="0.03" stroke-width="2.3"/><path d="M1422,956 C1520,977 1620,990 1717,1013" stroke="#f4e2c4" stroke-opacity="0.06" stroke-width="1.6"/><path d="M1174,919 C1373,958 1571,1001 1771,1035" stroke="#8a6a48" stroke-opacity="0.05" stroke-width="2.0"/><path d="M1171,925 C1356,966 1542,997 1728,1034" stroke="#9c7a55" stroke-opacity="0.04" stroke-width="2.6"/><path d="M1172,938 C1346,971 1522,1000 1695,1039" stroke="#9c7a55" stroke-opacity="0.06" stroke-width="2.0"/><path d="M1271,964 C1395,990 1519,1011 1643,1037" stroke="#8a6a48" stroke-opacity="0.04" stroke-width="1.4"/><path d="M1427,1009 C1515,1022 1602,1038 1688,1060" stroke="#7e6044" stroke-opacity="0.05" stroke-width="1.6"/><path d="M1570,1047 C1746,1080 1923,1113 2099,1150" stroke="#f4e2c4" stroke-opacity="0.08" stroke-width="1.8"/><path d="M1241,987 C1306,1006 1374,1015 1441,1026" stroke="#8a6a48" stroke-opacity="0.09" stroke-width="0.9"/><path d="M1319,1011 C1425,1036 1532,1055 1639,1073" stroke="#f4e2c4" stroke-opacity="0.10" stroke-width="0.8"/><path d="M1341,1024 C1477,1044 1612,1072 1746,1103" stroke="#f4e2c4" stroke-opacity="0.03" stroke-width="2.2"/><path d="M1104,989 C1209,1013 1315,1032 1420,1050" stroke="#f4e2c4" stroke-opacity="0.10" stroke-width="2.0"/><path d="M1444,1066 C1507,1079 1572,1090 1635,1103" stroke="#f4e2c4" stroke-opacity="0.08" stroke-width="1.7"/><path d="M1153,1017 C1274,1044 1397,1058 1518,1088" stroke="#9c7a55" stroke-opacity="0.09" stroke-width="1.1"/><path d="M1487,1091 C1595,1116 1705,1132 1814,1154" stroke="#f4e2c4" stroke-opacity="0.05" stroke-width="2.1"/><path d="M1693,1142 C1767,1157 1842,1171 1916,1185" stroke="#9c7a55" stroke-opacity="0.04" stroke-width="1.7"/><path d="M1609,1130 C1719,1147 1828,1174 1938,1194" stroke="#8a6a48" stroke-opacity="0.09" stroke-width="2.0"/><path d="M1415,1108 C1584,1138 1752,1172 1920,1206" stroke="#f4e2c4" stroke-opacity="0.06" stroke-width="1.4"/><path d="M930,1023 C1122,1062 1315,1096 1508,1135" stroke="#f4e2c4" stroke-opacity="0.10" stroke-width="1.6"/><path d="M1547,1152 C1669,1176 1791,1202 1914,1223" stroke="#9c7a55" stroke-opacity="0.05" stroke-width="1.1"/><path d="M1479,1144 C1630,1171 1780,1201 1929,1232" stroke="#9c7a55" stroke-opacity="0.08" stroke-width="2.4"/><path d="M1250,1110 C1365,1132 1480,1154 1594,1176" stroke="#7e6044" stroke-opacity="0.07" stroke-width="2.4"/><path d="M1409,1147 C1495,1168 1583,1181 1670,1198" stroke="#7e6044" stroke-opacity="0.07" stroke-width="0.8"/><path d="M923,1063 C1116,1106 1312,1136 1505,1176" stroke="#8a6a48" stroke-opacity="0.05" stroke-width="0.9"/><path d="M1230,1132 C1366,1158 1504,1181 1639,1212" stroke="#8a6a48" stroke-opacity="0.09" stroke-width="2.3"/><path d="M1289,1154 C1441,1182 1591,1215 1743,1242" stroke="#9c7a55" stroke-opacity="0.05" stroke-width="1.5"/><path d="M1548,1217 C1652,1236 1756,1260 1861,1278" stroke="#9c7a55" stroke-opacity="0.07" stroke-width="2.2"/></g>
<polygon points="1751.0,859.5 1977.0,724.0 1977.0,865.0 1751.0,1000.5" fill="url(#gR)" stroke="none" stroke-width="0" />
<clipPath id="cp5"><path d="M 1751.0,859.5 L 1977.0,724.0 L 1977.0,865.0 L 1751.0,1000.5 Z"/></clipPath>
<g clip-path="url(#cp5)" fill="none"><path d="M1801,638 C1848,611 1896,586 1940,555" stroke="#9c7a55" stroke-opacity="0.09" stroke-width="2.0"/><path d="M1575,789 C1674,731 1769,666 1870,611" stroke="#f4e2c4" stroke-opacity="0.06" stroke-width="1.0"/><path d="M1606,784 C1734,709 1862,635 1986,556" stroke="#f4e2c4" stroke-opacity="0.09" stroke-width="2.4"/><path d="M1731,720 C1799,682 1861,635 1931,600" stroke="#f4e2c4" stroke-opacity="0.04" stroke-width="1.5"/><path d="M1753,708 C1872,636 1994,569 2110,493" stroke="#f4e2c4" stroke-opacity="0.09" stroke-width="1.5"/><path d="M1534,852 C1607,805 1686,767 1757,718" stroke="#8a6a48" stroke-opacity="0.07" stroke-width="1.4"/><path d="M1688,776 C1778,717 1873,665 1965,610" stroke="#f4e2c4" stroke-opacity="0.05" stroke-width="1.4"/><path d="M1560,856 C1627,810 1699,774 1767,732" stroke="#9c7a55" stroke-opacity="0.09" stroke-width="1.7"/><path d="M1642,822 C1762,750 1884,681 2002,605" stroke="#f4e2c4" stroke-opacity="0.07" stroke-width="2.4"/><path d="M1513,912 C1600,861 1689,812 1773,756" stroke="#7e6044" stroke-opacity="0.08" stroke-width="2.5"/><path d="M1575,878 C1704,801 1834,726 1961,646" stroke="#9c7a55" stroke-opacity="0.06" stroke-width="1.0"/><path d="M1571,896 C1687,822 1805,752 1924,684" stroke="#8a6a48" stroke-opacity="0.04" stroke-width="2.2"/><path d="M1748,801 C1840,750 1930,696 2017,639" stroke="#f4e2c4" stroke-opacity="0.06" stroke-width="1.7"/><path d="M1617,888 C1658,864 1700,840 1740,814" stroke="#7e6044" stroke-opacity="0.04" stroke-width="1.4"/><path d="M1841,765 C1933,713 2021,655 2112,602" stroke="#9c7a55" stroke-opacity="0.07" stroke-width="0.8"/><path d="M1751,828 C1817,789 1882,748 1948,709" stroke="#7e6044" stroke-opacity="0.05" stroke-width="1.4"/><path d="M1722,856 C1763,832 1804,808 1844,783" stroke="#9c7a55" stroke-opacity="0.04" stroke-width="2.5"/><path d="M1656,905 C1768,839 1879,769 1992,703" stroke="#7e6044" stroke-opacity="0.07" stroke-width="1.7"/><path d="M1708,891 C1780,851 1852,811 1920,764" stroke="#f4e2c4" stroke-opacity="0.09" stroke-width="1.3"/><path d="M1558,988 C1658,923 1762,865 1865,804" stroke="#9c7a55" stroke-opacity="0.07" stroke-width="2.4"/><path d="M1762,873 C1888,795 2018,724 2143,645" stroke="#9c7a55" stroke-opacity="0.08" stroke-width="1.4"/><path d="M1882,810 C1974,756 2066,701 2156,645" stroke="#7e6044" stroke-opacity="0.08" stroke-width="1.7"/><path d="M1879,825 C1964,771 2053,724 2138,669" stroke="#8a6a48" stroke-opacity="0.05" stroke-width="1.2"/><path d="M1884,839 C1983,784 2080,726 2174,664" stroke="#8a6a48" stroke-opacity="0.08" stroke-width="1.4"/><path d="M1841,875 C1935,825 2023,763 2115,710" stroke="#9c7a55" stroke-opacity="0.08" stroke-width="1.3"/><path d="M1881,858 C1951,817 2023,779 2090,732" stroke="#f4e2c4" stroke-opacity="0.05" stroke-width="1.6"/><path d="M1817,904 C1926,841 2034,776 2141,710" stroke="#7e6044" stroke-opacity="0.09" stroke-width="1.1"/><path d="M1718,981 C1793,932 1872,889 1948,843" stroke="#8a6a48" stroke-opacity="0.08" stroke-width="0.9"/><path d="M1674,1012 C1730,984 1782,948 1835,915" stroke="#f4e2c4" stroke-opacity="0.06" stroke-width="1.5"/><path d="M1744,981 C1791,950 1838,920 1888,894" stroke="#8a6a48" stroke-opacity="0.07" stroke-width="2.5"/><path d="M1602,1075 C1711,1007 1820,940 1932,877" stroke="#f4e2c4" stroke-opacity="0.06" stroke-width="1.6"/><path d="M1975,866 C2016,843 2052,814 2095,794" stroke="#9c7a55" stroke-opacity="0.05" stroke-width="2.1"/><path d="M1752,1008 C1869,943 1983,874 2095,802" stroke="#7e6044" stroke-opacity="0.07" stroke-width="1.4"/><path d="M1774,1009 C1839,974 1899,929 1964,894" stroke="#8a6a48" stroke-opacity="0.04" stroke-width="2.5"/><path d="M1707,1059 C1798,998 1897,951 1988,890" stroke="#9c7a55" stroke-opacity="0.09" stroke-width="1.4"/><path d="M1908,947 C2018,878 2130,813 2242,747" stroke="#f4e2c4" stroke-opacity="0.07" stroke-width="1.2"/><path d="M1898,967 C1957,939 2007,897 2065,867" stroke="#7e6044" stroke-opacity="0.08" stroke-width="0.9"/><path d="M1814,1026 C1857,1002 1898,973 1942,949" stroke="#9c7a55" stroke-opacity="0.08" stroke-width="1.8"/><path d="M1976,934 C2052,892 2122,840 2199,800" stroke="#8a6a48" stroke-opacity="0.06" stroke-width="2.3"/><path d="M1735,1090 C1857,1011 1987,945 2109,865" stroke="#8a6a48" stroke-opacity="0.10" stroke-width="1.6"/><path d="M1682,1135 C1762,1092 1835,1038 1914,996" stroke="#8a6a48" stroke-opacity="0.05" stroke-width="2.1"/><path d="M1676,1145 C1787,1084 1890,1011 2001,950" stroke="#7e6044" stroke-opacity="0.10" stroke-width="1.3"/><path d="M1750,1111 C1872,1033 1998,962 2122,888" stroke="#8a6a48" stroke-opacity="0.05" stroke-width="1.3"/><path d="M1903,1035 C1953,1008 1997,971 2049,947" stroke="#f4e2c4" stroke-opacity="0.04" stroke-width="2.5"/><path d="M1771,1121 C1876,1063 1979,1002 2080,935" stroke="#7e6044" stroke-opacity="0.05" stroke-width="1.2"/><path d="M1737,1153 C1848,1084 1961,1018 2073,951" stroke="#8a6a48" stroke-opacity="0.10" stroke-width="2.4"/><path d="M1965,1027 C2034,987 2102,942 2172,903" stroke="#7e6044" stroke-opacity="0.07" stroke-width="1.5"/><path d="M1949,1047 C2032,998 2115,948 2197,898" stroke="#9c7a55" stroke-opacity="0.03" stroke-width="1.1"/><path d="M1828,1131 C1882,1096 1938,1067 1992,1032" stroke="#7e6044" stroke-opacity="0.10" stroke-width="1.9"/><path d="M1668,1240 C1795,1164 1919,1085 2048,1011" stroke="#7e6044" stroke-opacity="0.03" stroke-width="2.6"/></g>
<path d="M 1348.5,782.5 C 1382.9,761.1 1425.0,727.1 1425.0,681.8 L 1730.5,739.5 C 1731.5,799.5 1737.7,845.1 1751.0,859.5 Z" fill="url(#cl3)" stroke="none" stroke-width="0" />
<clipPath id="cp6"><path d="M 1348.5,782.5 C 1382.9,761.1 1425.0,727.1 1425.0,681.8 L 1730.5,739.5 C 1731.5,799.5 1737.7,845.1 1751.0,859.5 Z"/></clipPath>
<g clip-path="url(#cp6)" fill="none"><path d="M1409,421 C1481,441 1556,450 1630,464" stroke="#9c7a55" stroke-opacity="0.08" stroke-width="2.5"/><path d="M1287,405 C1458,442 1631,470 1803,506" stroke="#f4e2c4" stroke-opacity="0.04" stroke-width="0.9"/><path d="M1795,517 C1875,536 1958,545 2039,565" stroke="#8a6a48" stroke-opacity="0.07" stroke-width="1.9"/><path d="M1292,424 C1428,446 1565,471 1699,503" stroke="#7e6044" stroke-opacity="0.08" stroke-width="1.0"/><path d="M1310,438 C1471,473 1634,500 1796,532" stroke="#f4e2c4" stroke-opacity="0.09" stroke-width="1.7"/><path d="M987,382 C1194,419 1399,466 1607,502" stroke="#9c7a55" stroke-opacity="0.09" stroke-width="0.8"/><path d="M1387,472 C1487,488 1586,514 1686,530" stroke="#f4e2c4" stroke-opacity="0.07" stroke-width="0.8"/><path d="M1560,513 C1643,527 1727,543 1810,562" stroke="#9c7a55" stroke-opacity="0.03" stroke-width="1.7"/><path d="M1443,500 C1629,539 1816,573 2002,608" stroke="#9c7a55" stroke-opacity="0.06" stroke-width="2.3"/><path d="M1604,541 C1670,553 1735,566 1800,579" stroke="#7e6044" stroke-opacity="0.05" stroke-width="2.0"/><path d="M1579,543 C1702,570 1827,586 1949,615" stroke="#f4e2c4" stroke-opacity="0.06" stroke-width="1.2"/><path d="M1613,565 C1747,586 1881,614 2014,643" stroke="#9c7a55" stroke-opacity="0.09" stroke-width="2.1"/><path d="M1315,512 C1466,545 1619,570 1771,601" stroke="#f4e2c4" stroke-opacity="0.05" stroke-width="1.3"/><path d="M1751,604 C1817,621 1884,627 1950,642" stroke="#7e6044" stroke-opacity="0.06" stroke-width="1.3"/><path d="M1068,484 C1221,515 1373,548 1527,574" stroke="#7e6044" stroke-opacity="0.06" stroke-width="2.5"/><path d="M1428,559 C1540,576 1650,599 1760,624" stroke="#f4e2c4" stroke-opacity="0.08" stroke-width="0.8"/><path d="M1406,567 C1488,577 1567,603 1648,615" stroke="#7e6044" stroke-opacity="0.09" stroke-width="0.9"/><path d="M1695,631 C1825,659 1955,684 2085,707" stroke="#7e6044" stroke-opacity="0.05" stroke-width="2.0"/><path d="M1591,619 C1764,654 1936,691 2110,720" stroke="#8a6a48" stroke-opacity="0.05" stroke-width="1.4"/><path d="M1351,589 C1421,604 1492,615 1561,629" stroke="#8a6a48" stroke-opacity="0.07" stroke-width="2.0"/><path d="M1093,542 C1207,560 1320,587 1433,608" stroke="#7e6044" stroke-opacity="0.06" stroke-width="2.0"/><path d="M1584,652 C1755,682 1925,720 2096,752" stroke="#7e6044" stroke-opacity="0.08" stroke-width="2.5"/><path d="M1565,653 C1749,692 1936,723 2120,761" stroke="#8a6a48" stroke-opacity="0.06" stroke-width="2.2"/><path d="M1287,613 C1404,639 1523,659 1641,682" stroke="#9c7a55" stroke-opacity="0.09" stroke-width="1.6"/><path d="M1636,690 C1746,709 1855,738 1967,754" stroke="#9c7a55" stroke-opacity="0.05" stroke-width="0.9"/><path d="M1698,707 C1811,726 1922,753 2035,773" stroke="#9c7a55" stroke-opacity="0.08" stroke-width="1.3"/><path d="M1231,630 C1328,653 1427,663 1524,686" stroke="#8a6a48" stroke-opacity="0.05" stroke-width="2.1"/><path d="M1473,683 C1619,707 1763,737 1907,767" stroke="#f4e2c4" stroke-opacity="0.06" stroke-width="1.0"/><path d="M1012,598 C1204,634 1395,669 1586,710" stroke="#8a6a48" stroke-opacity="0.08" stroke-width="1.1"/><path d="M1232,651 C1301,664 1370,680 1440,691" stroke="#8a6a48" stroke-opacity="0.09" stroke-width="2.6"/><path d="M1156,651 C1260,673 1363,696 1468,712" stroke="#8a6a48" stroke-opacity="0.05" stroke-width="1.8"/><path d="M1549,731 C1724,766 1900,793 2074,833" stroke="#9c7a55" stroke-opacity="0.06" stroke-width="0.9"/><path d="M1092,650 C1217,671 1341,697 1465,723" stroke="#f4e2c4" stroke-opacity="0.07" stroke-width="2.0"/><path d="M1308,708 C1429,737 1552,752 1673,779" stroke="#8a6a48" stroke-opacity="0.07" stroke-width="1.7"/><path d="M1436,741 C1585,767 1733,801 1882,827" stroke="#9c7a55" stroke-opacity="0.06" stroke-width="1.3"/><path d="M1330,727 C1395,742 1461,753 1526,765" stroke="#9c7a55" stroke-opacity="0.05" stroke-width="1.6"/><path d="M1138,702 C1214,712 1288,733 1364,746" stroke="#9c7a55" stroke-opacity="0.10" stroke-width="1.7"/><path d="M1351,751 C1479,779 1608,804 1737,826" stroke="#9c7a55" stroke-opacity="0.09" stroke-width="2.6"/><path d="M1324,754 C1509,791 1693,830 1879,862" stroke="#f4e2c4" stroke-opacity="0.09" stroke-width="2.0"/><path d="M1530,807 C1672,833 1813,861 1954,890" stroke="#8a6a48" stroke-opacity="0.08" stroke-width="2.4"/><path d="M1555,819 C1754,854 1952,894 2149,935" stroke="#7e6044" stroke-opacity="0.05" stroke-width="1.7"/><path d="M1361,791 C1433,807 1505,823 1578,833" stroke="#7e6044" stroke-opacity="0.04" stroke-width="2.4"/><path d="M1371,802 C1581,842 1790,889 2001,924" stroke="#f4e2c4" stroke-opacity="0.07" stroke-width="2.5"/><path d="M1196,778 C1262,795 1330,798 1396,817" stroke="#7e6044" stroke-opacity="0.06" stroke-width="1.8"/><path d="M1585,858 C1698,879 1810,905 1923,924" stroke="#f4e2c4" stroke-opacity="0.04" stroke-width="2.1"/><path d="M1455,842 C1537,854 1617,876 1699,889" stroke="#7e6044" stroke-opacity="0.07" stroke-width="2.3"/><path d="M1253,811 C1435,852 1619,884 1803,918" stroke="#8a6a48" stroke-opacity="0.05" stroke-width="2.1"/><path d="M1464,863 C1553,876 1641,902 1731,915" stroke="#7e6044" stroke-opacity="0.03" stroke-width="1.3"/><path d="M1540,891 C1658,914 1774,941 1893,960" stroke="#f4e2c4" stroke-opacity="0.05" stroke-width="1.0"/><path d="M1104,810 C1187,826 1270,839 1353,858" stroke="#9c7a55" stroke-opacity="0.08" stroke-width="1.1"/><path d="M1533,910 C1674,933 1813,964 1953,992" stroke="#f4e2c4" stroke-opacity="0.06" stroke-width="1.6"/><path d="M1546,916 C1669,940 1792,965 1915,988" stroke="#f4e2c4" stroke-opacity="0.09" stroke-width="0.8"/><path d="M1701,961 C1779,973 1855,996 1934,1006" stroke="#8a6a48" stroke-opacity="0.08" stroke-width="1.1"/><path d="M1343,892 C1484,923 1625,948 1766,974" stroke="#7e6044" stroke-opacity="0.03" stroke-width="2.1"/><path d="M1370,907 C1570,950 1772,986 1973,1025" stroke="#9c7a55" stroke-opacity="0.04" stroke-width="1.2"/><path d="M1225,891 C1298,904 1371,916 1444,933" stroke="#9c7a55" stroke-opacity="0.07" stroke-width="1.4"/><path d="M1216,901 C1345,925 1474,950 1602,976" stroke="#8a6a48" stroke-opacity="0.08" stroke-width="1.5"/><path d="M1193,908 C1395,944 1596,981 1796,1026" stroke="#8a6a48" stroke-opacity="0.05" stroke-width="1.2"/><path d="M1179,907 C1321,933 1462,961 1603,990" stroke="#9c7a55" stroke-opacity="0.09" stroke-width="2.4"/><path d="M1445,973 C1523,993 1601,1010 1681,1019" stroke="#8a6a48" stroke-opacity="0.07" stroke-width="1.3"/><path d="M1063,907 C1261,950 1460,986 1659,1023" stroke="#7e6044" stroke-opacity="0.08" stroke-width="1.4"/><path d="M1481,994 C1690,1039 1900,1079 2111,1117" stroke="#8a6a48" stroke-opacity="0.04" stroke-width="1.0"/><path d="M1411,996 C1539,1022 1667,1047 1795,1070" stroke="#f4e2c4" stroke-opacity="0.05" stroke-width="2.5"/><path d="M1376,991 C1450,1010 1526,1018 1600,1035" stroke="#9c7a55" stroke-opacity="0.03" stroke-width="2.2"/><path d="M1111,955 C1223,972 1332,1002 1444,1020" stroke="#8a6a48" stroke-opacity="0.07" stroke-width="1.9"/><path d="M1454,1032 C1601,1063 1748,1089 1895,1118" stroke="#7e6044" stroke-opacity="0.09" stroke-width="2.0"/><path d="M1189,991 C1368,1022 1545,1059 1723,1095" stroke="#8a6a48" stroke-opacity="0.05" stroke-width="2.1"/><path d="M1518,1057 C1595,1072 1672,1083 1748,1102" stroke="#7e6044" stroke-opacity="0.10" stroke-width="0.8"/><path d="M1212,1014 C1385,1044 1557,1083 1730,1114" stroke="#7e6044" stroke-opacity="0.04" stroke-width="2.5"/><path d="M1590,1092 C1721,1112 1851,1145 1982,1168" stroke="#9c7a55" stroke-opacity="0.04" stroke-width="1.3"/><path d="M1441,1072 C1589,1097 1735,1127 1881,1158" stroke="#7e6044" stroke-opacity="0.05" stroke-width="2.3"/></g>
<path d="M 1751.0,859.5 C 1737.7,845.1 1731.5,799.5 1730.5,739.5 L 1900.8,637.0 C 1900.8,676.1 1942.7,714.9 1977.0,724.0 Z" fill="url(#cr3)" stroke="none" stroke-width="0" />
<clipPath id="cp7"><path d="M 1751.0,859.5 C 1737.7,845.1 1731.5,799.5 1730.5,739.5 L 1900.8,637.0 C 1900.8,676.1 1942.7,714.9 1977.0,724.0 Z"/></clipPath>
<g clip-path="url(#cp7)" fill="none"><path d="M1845,506 C1904,468 1966,435 2025,398" stroke="#8a6a48" stroke-opacity="0.06" stroke-width="0.8"/><path d="M1743,568 C1814,528 1885,490 1951,444" stroke="#f4e2c4" stroke-opacity="0.09" stroke-width="2.0"/><path d="M1615,666 C1736,592 1857,519 1979,447" stroke="#7e6044" stroke-opacity="0.05" stroke-width="2.0"/><path d="M1788,567 C1897,501 2004,433 2115,370" stroke="#7e6044" stroke-opacity="0.08" stroke-width="2.0"/><path d="M1581,707 C1650,669 1717,628 1783,585" stroke="#8a6a48" stroke-opacity="0.10" stroke-width="1.6"/><path d="M1472,773 C1598,700 1725,627 1848,548" stroke="#f4e2c4" stroke-opacity="0.09" stroke-width="1.8"/><path d="M1503,773 C1578,733 1652,691 1721,642" stroke="#9c7a55" stroke-opacity="0.04" stroke-width="1.4"/><path d="M1797,603 C1909,539 2021,475 2130,404" stroke="#f4e2c4" stroke-opacity="0.09" stroke-width="1.3"/><path d="M1538,772 C1664,692 1795,619 1923,540" stroke="#f4e2c4" stroke-opacity="0.08" stroke-width="2.0"/><path d="M1616,730 C1690,681 1766,637 1843,593" stroke="#f4e2c4" stroke-opacity="0.04" stroke-width="2.5"/><path d="M1830,617 C1871,590 1916,571 1955,542" stroke="#f4e2c4" stroke-opacity="0.03" stroke-width="2.5"/><path d="M1586,768 C1636,732 1694,709 1744,673" stroke="#f4e2c4" stroke-opacity="0.07" stroke-width="1.9"/><path d="M1561,799 C1617,765 1671,727 1729,698" stroke="#7e6044" stroke-opacity="0.06" stroke-width="1.8"/><path d="M1734,703 C1787,675 1837,640 1889,610" stroke="#7e6044" stroke-opacity="0.04" stroke-width="1.4"/><path d="M1744,714 C1820,668 1897,623 1973,576" stroke="#7e6044" stroke-opacity="0.03" stroke-width="0.8"/><path d="M1505,860 C1631,778 1764,711 1890,629" stroke="#8a6a48" stroke-opacity="0.05" stroke-width="2.4"/><path d="M1472,893 C1599,816 1731,745 1855,663" stroke="#9c7a55" stroke-opacity="0.07" stroke-width="1.5"/><path d="M1652,793 C1772,714 1899,647 2020,571" stroke="#8a6a48" stroke-opacity="0.04" stroke-width="2.0"/><path d="M1514,890 C1618,833 1720,771 1820,707" stroke="#9c7a55" stroke-opacity="0.03" stroke-width="2.2"/><path d="M1807,724 C1892,674 1973,617 2061,571" stroke="#8a6a48" stroke-opacity="0.08" stroke-width="0.9"/><path d="M1806,736 C1923,668 2038,596 2155,526" stroke="#7e6044" stroke-opacity="0.04" stroke-width="1.3"/><path d="M1761,770 C1887,688 2017,612 2148,538" stroke="#8a6a48" stroke-opacity="0.09" stroke-width="1.2"/><path d="M1616,868 C1744,789 1873,710 2003,635" stroke="#f4e2c4" stroke-opacity="0.05" stroke-width="0.9"/><path d="M1902,705 C1994,655 2080,597 2170,544" stroke="#9c7a55" stroke-opacity="0.04" stroke-width="1.1"/><path d="M1642,871 C1694,835 1751,806 1805,773" stroke="#7e6044" stroke-opacity="0.07" stroke-width="2.6"/><path d="M1987,680 C2033,652 2077,622 2125,597" stroke="#8a6a48" stroke-opacity="0.07" stroke-width="2.4"/><path d="M1620,911 C1744,842 1863,767 1983,693" stroke="#9c7a55" stroke-opacity="0.05" stroke-width="1.1"/><path d="M1644,908 C1735,853 1827,801 1916,745" stroke="#9c7a55" stroke-opacity="0.06" stroke-width="0.9"/><path d="M1964,725 C2022,684 2088,655 2147,615" stroke="#f4e2c4" stroke-opacity="0.05" stroke-width="1.0"/><path d="M1604,957 C1688,912 1768,860 1849,810" stroke="#9c7a55" stroke-opacity="0.05" stroke-width="2.5"/><path d="M1899,787 C2006,722 2113,656 2221,594" stroke="#f4e2c4" stroke-opacity="0.06" stroke-width="1.0"/><path d="M1711,912 C1757,881 1808,859 1853,827" stroke="#7e6044" stroke-opacity="0.07" stroke-width="2.4"/><path d="M1566,1003 C1669,937 1775,876 1880,814" stroke="#8a6a48" stroke-opacity="0.04" stroke-width="2.0"/><path d="M1857,847 C1899,816 1944,791 1990,767" stroke="#f4e2c4" stroke-opacity="0.06" stroke-width="2.2"/><path d="M1932,804 C1997,762 2066,729 2130,685" stroke="#7e6044" stroke-opacity="0.09" stroke-width="2.3"/><path d="M1634,998 C1698,959 1760,916 1828,881" stroke="#f4e2c4" stroke-opacity="0.05" stroke-width="2.0"/><path d="M1709,964 C1758,935 1804,902 1855,876" stroke="#f4e2c4" stroke-opacity="0.08" stroke-width="1.1"/><path d="M1761,943 C1826,901 1893,862 1960,824" stroke="#9c7a55" stroke-opacity="0.09" stroke-width="1.4"/><path d="M1840,905 C1880,880 1921,859 1960,833" stroke="#9c7a55" stroke-opacity="0.05" stroke-width="1.3"/><path d="M1715,995 C1787,956 1856,914 1923,869" stroke="#8a6a48" stroke-opacity="0.04" stroke-width="2.1"/><path d="M1955,859 C2066,793 2173,721 2286,660" stroke="#7e6044" stroke-opacity="0.05" stroke-width="1.1"/><path d="M1905,894 C2003,838 2098,775 2197,719" stroke="#f4e2c4" stroke-opacity="0.07" stroke-width="2.5"/><path d="M2046,827 C2091,797 2137,768 2185,744" stroke="#f4e2c4" stroke-opacity="0.09" stroke-width="1.0"/><path d="M1625,1084 C1744,1010 1867,944 1984,868" stroke="#9c7a55" stroke-opacity="0.06" stroke-width="1.0"/><path d="M2011,861 C2072,826 2131,786 2193,752" stroke="#7e6044" stroke-opacity="0.06" stroke-width="1.6"/><path d="M1886,956 C1955,912 2026,872 2096,830" stroke="#9c7a55" stroke-opacity="0.05" stroke-width="1.3"/><path d="M1690,1085 C1806,1020 1920,952 2031,880" stroke="#8a6a48" stroke-opacity="0.04" stroke-width="2.2"/><path d="M1674,1102 C1777,1041 1877,978 1980,918" stroke="#f4e2c4" stroke-opacity="0.06" stroke-width="2.3"/><path d="M1961,942 C2075,874 2191,809 2302,737" stroke="#9c7a55" stroke-opacity="0.06" stroke-width="2.6"/><path d="M1662,1127 C1764,1063 1869,1004 1972,941" stroke="#f4e2c4" stroke-opacity="0.05" stroke-width="1.9"/></g>
<polygon points="1425.0,681.8 1596.8,577.5 1900.8,637.0 1730.5,739.5" fill="#c6ab8a" stroke="none" stroke-width="0" />
<polygon points="1451.2,680.8 1603.0,587.0 1603.8,633.8 1510.0,691.8" fill="#e5cdaa" stroke="none" stroke-width="0" />
<clipPath id="cp8"><path d="M 1451.2,680.8 L 1603.0,587.0 L 1603.8,633.8 L 1510.0,691.8 Z"/></clipPath>
<g clip-path="url(#cp8)" fill="none"><path d="M1279,598 C1359,548 1439,498 1521,453" stroke="#9c7a55" stroke-opacity="0.07" stroke-width="2.3"/><path d="M1525,462 C1558,439 1590,416 1627,400" stroke="#7e6044" stroke-opacity="0.04" stroke-width="0.8"/><path d="M1266,630 C1365,572 1461,508 1561,453" stroke="#9c7a55" stroke-opacity="0.05" stroke-width="0.9"/><path d="M1455,528 C1539,481 1624,433 1704,379" stroke="#f4e2c4" stroke-opacity="0.09" stroke-width="1.1"/><path d="M1299,627 C1382,570 1470,520 1559,471" stroke="#8a6a48" stroke-opacity="0.07" stroke-width="1.4"/><path d="M1215,686 C1299,630 1388,583 1473,531" stroke="#f4e2c4" stroke-opacity="0.05" stroke-width="1.6"/><path d="M1308,646 C1344,620 1386,604 1422,578" stroke="#7e6044" stroke-opacity="0.05" stroke-width="1.8"/><path d="M1413,589 C1468,556 1520,518 1578,490" stroke="#7e6044" stroke-opacity="0.05" stroke-width="2.0"/><path d="M1367,626 C1451,570 1543,526 1627,470" stroke="#9c7a55" stroke-opacity="0.08" stroke-width="0.9"/><path d="M1382,633 C1469,587 1549,529 1635,481" stroke="#7e6044" stroke-opacity="0.05" stroke-width="1.7"/><path d="M1475,591 C1562,537 1650,482 1740,432" stroke="#f4e2c4" stroke-opacity="0.06" stroke-width="2.0"/><path d="M1289,707 C1356,670 1417,623 1485,589" stroke="#7e6044" stroke-opacity="0.09" stroke-width="2.6"/><path d="M1366,677 C1442,632 1517,586 1592,541" stroke="#9c7a55" stroke-opacity="0.06" stroke-width="1.8"/><path d="M1407,662 C1448,639 1487,613 1527,590" stroke="#8a6a48" stroke-opacity="0.03" stroke-width="1.3"/><path d="M1241,771 C1315,721 1390,675 1469,634" stroke="#9c7a55" stroke-opacity="0.06" stroke-width="0.9"/><path d="M1427,675 C1521,620 1612,559 1707,507" stroke="#7e6044" stroke-opacity="0.07" stroke-width="1.5"/><path d="M1451,667 C1530,617 1610,566 1692,522" stroke="#f4e2c4" stroke-opacity="0.05" stroke-width="0.9"/><path d="M1495,651 C1551,616 1606,579 1665,549" stroke="#9c7a55" stroke-opacity="0.10" stroke-width="1.8"/><path d="M1379,725 C1425,694 1476,673 1521,640" stroke="#7e6044" stroke-opacity="0.06" stroke-width="0.9"/><path d="M1346,757 C1403,719 1463,687 1521,651" stroke="#f4e2c4" stroke-opacity="0.09" stroke-width="1.0"/><path d="M1470,693 C1514,671 1553,640 1596,617" stroke="#7e6044" stroke-opacity="0.07" stroke-width="2.4"/><path d="M1471,711 C1525,679 1581,650 1632,614" stroke="#7e6044" stroke-opacity="0.10" stroke-width="2.5"/><path d="M1483,707 C1520,690 1552,664 1588,643" stroke="#9c7a55" stroke-opacity="0.09" stroke-width="1.6"/><path d="M1590,657 C1651,619 1715,583 1777,545" stroke="#8a6a48" stroke-opacity="0.07" stroke-width="1.9"/><path d="M1600,660 C1661,627 1720,590 1778,553" stroke="#9c7a55" stroke-opacity="0.10" stroke-width="1.0"/><path d="M1390,799 C1426,779 1459,754 1496,736" stroke="#f4e2c4" stroke-opacity="0.10" stroke-width="1.2"/><path d="M1524,730 C1596,687 1666,641 1739,601" stroke="#9c7a55" stroke-opacity="0.05" stroke-width="2.1"/><path d="M1398,817 C1432,793 1468,772 1506,753" stroke="#8a6a48" stroke-opacity="0.04" stroke-width="1.5"/><path d="M1316,879 C1386,836 1456,791 1528,751" stroke="#8a6a48" stroke-opacity="0.04" stroke-width="2.4"/><path d="M1340,866 C1420,825 1492,770 1572,727" stroke="#8a6a48" stroke-opacity="0.05" stroke-width="2.5"/><path d="M1429,824 C1528,767 1625,706 1723,647" stroke="#8a6a48" stroke-opacity="0.10" stroke-width="2.0"/><path d="M1365,878 C1464,816 1565,760 1664,698" stroke="#8a6a48" stroke-opacity="0.06" stroke-width="1.4"/><path d="M1651,713 C1705,675 1762,642 1820,611" stroke="#7e6044" stroke-opacity="0.07" stroke-width="1.3"/><path d="M1425,864 C1466,836 1511,816 1552,788" stroke="#7e6044" stroke-opacity="0.07" stroke-width="2.6"/><path d="M1371,903 C1472,838 1574,775 1680,717" stroke="#8a6a48" stroke-opacity="0.09" stroke-width="0.8"/><path d="M1426,886 C1469,866 1508,838 1549,813" stroke="#8a6a48" stroke-opacity="0.08" stroke-width="2.5"/><path d="M1602,784 C1647,759 1692,735 1734,705" stroke="#7e6044" stroke-opacity="0.08" stroke-width="1.4"/><path d="M1608,796 C1709,735 1810,674 1911,614" stroke="#f4e2c4" stroke-opacity="0.08" stroke-width="1.7"/><path d="M1469,887 C1551,834 1637,789 1719,736" stroke="#7e6044" stroke-opacity="0.04" stroke-width="2.5"/><path d="M1520,873 C1599,823 1682,780 1760,729" stroke="#f4e2c4" stroke-opacity="0.06" stroke-width="1.3"/></g>
<polygon points="1603.0,587.0 1873.8,640.5 1815.0,676.9 1603.8,633.8" fill="#c9ae8d" stroke="none" stroke-width="0" />
<clipPath id="cp9"><path d="M 1603.0,587.0 L 1873.8,640.5 L 1815.0,676.9 L 1603.8,633.8 Z"/></clipPath>
<g clip-path="url(#cp9)" fill="none"><path d="M1584,390 C1716,416 1848,442 1980,467" stroke="#8a6a48" stroke-opacity="0.08" stroke-width="2.2"/><path d="M1679,414 C1759,425 1838,443 1917,460" stroke="#f4e2c4" stroke-opacity="0.09" stroke-width="2.4"/><path d="M1801,451 C1846,455 1889,469 1933,477" stroke="#f4e2c4" stroke-opacity="0.05" stroke-width="1.5"/><path d="M1631,421 C1762,451 1894,474 2027,498" stroke="#8a6a48" stroke-opacity="0.07" stroke-width="1.8"/><path d="M1573,416 C1625,431 1679,442 1733,447" stroke="#f4e2c4" stroke-opacity="0.04" stroke-width="1.3"/><path d="M1653,448 C1789,472 1923,501 2057,526" stroke="#9c7a55" stroke-opacity="0.08" stroke-width="0.9"/><path d="M1436,410 C1522,422 1606,442 1691,459" stroke="#9c7a55" stroke-opacity="0.07" stroke-width="1.2"/><path d="M1551,444 C1692,473 1833,502 1975,527" stroke="#8a6a48" stroke-opacity="0.07" stroke-width="1.8"/><path d="M1699,480 C1814,503 1929,522 2043,547" stroke="#8a6a48" stroke-opacity="0.06" stroke-width="1.3"/><path d="M1457,442 C1533,462 1611,473 1689,487" stroke="#8a6a48" stroke-opacity="0.09" stroke-width="2.2"/><path d="M1457,451 C1526,462 1594,478 1663,491" stroke="#f4e2c4" stroke-opacity="0.05" stroke-width="1.9"/><path d="M1504,469 C1630,498 1756,523 1884,543" stroke="#8a6a48" stroke-opacity="0.10" stroke-width="1.4"/><path d="M1632,502 C1752,521 1872,548 1991,572" stroke="#9c7a55" stroke-opacity="0.05" stroke-width="1.7"/><path d="M1639,519 C1693,528 1745,542 1799,551" stroke="#7e6044" stroke-opacity="0.08" stroke-width="1.7"/><path d="M1399,478 C1538,502 1676,535 1815,559" stroke="#9c7a55" stroke-opacity="0.06" stroke-width="1.1"/><path d="M1486,501 C1615,529 1745,550 1874,576" stroke="#7e6044" stroke-opacity="0.07" stroke-width="1.3"/><path d="M1856,585 C1909,598 1963,603 2017,616" stroke="#9c7a55" stroke-opacity="0.06" stroke-width="1.5"/><path d="M1567,536 C1702,557 1836,586 1970,614" stroke="#9c7a55" stroke-opacity="0.05" stroke-width="2.5"/><path d="M1618,557 C1660,570 1704,571 1746,581" stroke="#f4e2c4" stroke-opacity="0.05" stroke-width="1.0"/><path d="M1699,581 C1830,613 1963,632 2095,658" stroke="#7e6044" stroke-opacity="0.08" stroke-width="2.0"/><path d="M1774,607 C1865,624 1955,641 2046,659" stroke="#f4e2c4" stroke-opacity="0.05" stroke-width="1.7"/><path d="M1591,576 C1676,597 1763,611 1850,626" stroke="#7e6044" stroke-opacity="0.05" stroke-width="0.9"/><path d="M1468,564 C1574,579 1679,599 1783,625" stroke="#9c7a55" stroke-opacity="0.07" stroke-width="1.8"/><path d="M1662,609 C1706,614 1747,629 1790,634" stroke="#f4e2c4" stroke-opacity="0.04" stroke-width="2.4"/><path d="M1378,565 C1508,591 1639,615 1770,641" stroke="#9c7a55" stroke-opacity="0.10" stroke-width="1.1"/><path d="M1532,608 C1672,640 1813,664 1953,690" stroke="#8a6a48" stroke-opacity="0.06" stroke-width="1.4"/><path d="M1730,650 C1864,675 2000,697 2133,728" stroke="#9c7a55" stroke-opacity="0.05" stroke-width="1.0"/><path d="M1591,636 C1716,655 1838,684 1962,708" stroke="#7e6044" stroke-opacity="0.07" stroke-width="1.8"/><path d="M1698,666 C1821,692 1943,714 2066,738" stroke="#9c7a55" stroke-opacity="0.03" stroke-width="1.5"/><path d="M1603,653 C1727,679 1852,701 1977,726" stroke="#7e6044" stroke-opacity="0.06" stroke-width="2.2"/><path d="M1494,640 C1581,651 1666,673 1752,690" stroke="#7e6044" stroke-opacity="0.06" stroke-width="2.6"/><path d="M1832,715 C1898,727 1964,742 2031,753" stroke="#9c7a55" stroke-opacity="0.08" stroke-width="1.5"/><path d="M1766,711 C1828,725 1889,737 1952,747" stroke="#f4e2c4" stroke-opacity="0.07" stroke-width="1.2"/><path d="M1795,731 C1882,746 1968,767 2055,781" stroke="#9c7a55" stroke-opacity="0.06" stroke-width="2.4"/><path d="M1669,717 C1753,731 1836,755 1921,766" stroke="#9c7a55" stroke-opacity="0.04" stroke-width="1.9"/><path d="M1425,680 C1547,701 1668,730 1791,751" stroke="#9c7a55" stroke-opacity="0.06" stroke-width="2.5"/><path d="M1422,687 C1531,703 1637,731 1746,750" stroke="#7e6044" stroke-opacity="0.06" stroke-width="1.4"/><path d="M1727,757 C1790,764 1852,779 1914,794" stroke="#9c7a55" stroke-opacity="0.03" stroke-width="2.0"/><path d="M1564,730 C1676,754 1789,776 1902,795" stroke="#f4e2c4" stroke-opacity="0.09" stroke-width="1.9"/><path d="M1733,771 C1788,779 1841,795 1896,802" stroke="#8a6a48" stroke-opacity="0.05" stroke-width="1.0"/><path d="M1364,715 C1506,738 1647,767 1787,798" stroke="#7e6044" stroke-opacity="0.05" stroke-width="2.2"/><path d="M1489,742 C1599,769 1709,789 1820,806" stroke="#9c7a55" stroke-opacity="0.04" stroke-width="1.8"/><path d="M1370,734 C1510,762 1650,791 1790,816" stroke="#7e6044" stroke-opacity="0.05" stroke-width="2.1"/><path d="M1514,766 C1637,795 1760,820 1884,838" stroke="#7e6044" stroke-opacity="0.09" stroke-width="2.4"/><path d="M1627,801 C1684,816 1743,818 1800,835" stroke="#7e6044" stroke-opacity="0.05" stroke-width="2.0"/><path d="M1642,807 C1765,834 1888,859 2012,879" stroke="#8a6a48" stroke-opacity="0.07" stroke-width="2.3"/><path d="M1304,758 C1440,786 1575,816 1712,837" stroke="#f4e2c4" stroke-opacity="0.06" stroke-width="0.8"/><path d="M1745,853 C1851,867 1955,896 2061,914" stroke="#9c7a55" stroke-opacity="0.05" stroke-width="1.2"/></g>
<polygon points="1510.0,691.8 1603.8,633.8 1815.0,676.9 1725.5,732.5" fill="url(#gFl)" stroke="none" stroke-width="0" />
<clipPath id="cp10"><path d="M 1510.0,691.8 L 1603.8,633.8 L 1815.0,676.9 L 1725.5,732.5 Z"/></clipPath>
<g clip-path="url(#cp10)" fill="none"><path d="M1487,333 C1550,357 1610,390 1671,419" stroke="#f4e2c4" stroke-opacity="0.07" stroke-width="0.8"/><path d="M1619,407 C1669,433 1720,456 1772,478" stroke="#7e6044" stroke-opacity="0.07" stroke-width="0.8"/><path d="M1595,407 C1700,452 1804,498 1905,551" stroke="#7e6044" stroke-opacity="0.11" stroke-width="0.8"/><path d="M1674,448 C1756,487 1840,519 1919,563" stroke="#7e6044" stroke-opacity="0.12" stroke-width="2.4"/><path d="M1711,477 C1799,524 1892,561 1982,604" stroke="#9c7a55" stroke-opacity="0.06" stroke-width="1.0"/><path d="M1847,557 C1922,592 1997,626 2071,662" stroke="#8a6a48" stroke-opacity="0.06" stroke-width="1.6"/><path d="M1459,386 C1585,451 1715,505 1842,565" stroke="#8a6a48" stroke-opacity="0.09" stroke-width="2.1"/><path d="M1425,382 C1508,415 1588,454 1668,495" stroke="#7e6044" stroke-opacity="0.12" stroke-width="1.1"/><path d="M1561,452 C1615,473 1664,506 1719,525" stroke="#f4e2c4" stroke-opacity="0.10" stroke-width="1.2"/><path d="M1534,444 C1641,500 1754,542 1861,596" stroke="#7e6044" stroke-opacity="0.06" stroke-width="1.9"/><path d="M1668,522 C1808,586 1946,655 2087,717" stroke="#8a6a48" stroke-opacity="0.06" stroke-width="0.9"/><path d="M1580,486 C1714,544 1843,615 1979,672" stroke="#8a6a48" stroke-opacity="0.07" stroke-width="2.0"/><path d="M1509,470 C1575,503 1642,532 1708,563" stroke="#9c7a55" stroke-opacity="0.09" stroke-width="2.3"/><path d="M1672,549 C1756,584 1838,626 1920,665" stroke="#8a6a48" stroke-opacity="0.10" stroke-width="1.4"/><path d="M1694,577 C1777,611 1856,655 1938,691" stroke="#9c7a55" stroke-opacity="0.08" stroke-width="1.0"/><path d="M1583,532 C1708,589 1833,645 1956,706" stroke="#7e6044" stroke-opacity="0.05" stroke-width="2.0"/><path d="M1420,460 C1485,495 1555,521 1621,553" stroke="#9c7a55" stroke-opacity="0.07" stroke-width="0.9"/><path d="M1684,597 C1808,655 1933,709 2055,770" stroke="#7e6044" stroke-opacity="0.09" stroke-width="1.3"/><path d="M1399,476 C1499,518 1598,563 1694,613" stroke="#8a6a48" stroke-opacity="0.12" stroke-width="2.5"/><path d="M1430,498 C1578,566 1727,630 1872,704" stroke="#f4e2c4" stroke-opacity="0.13" stroke-width="1.3"/><path d="M1646,612 C1790,685 1940,746 2086,817" stroke="#8a6a48" stroke-opacity="0.11" stroke-width="2.0"/><path d="M1650,619 C1766,674 1883,728 1999,782" stroke="#8a6a48" stroke-opacity="0.08" stroke-width="1.3"/><path d="M1555,587 C1698,655 1840,726 1986,788" stroke="#8a6a48" stroke-opacity="0.10" stroke-width="1.7"/><path d="M1306,477 C1435,540 1564,604 1697,659" stroke="#7e6044" stroke-opacity="0.06" stroke-width="0.9"/><path d="M1424,544 C1525,593 1628,641 1731,687" stroke="#8a6a48" stroke-opacity="0.05" stroke-width="0.9"/><path d="M1459,573 C1571,622 1680,675 1791,728" stroke="#f4e2c4" stroke-opacity="0.13" stroke-width="2.3"/><path d="M1458,580 C1520,604 1577,637 1638,663" stroke="#7e6044" stroke-opacity="0.08" stroke-width="2.4"/><path d="M1526,623 C1617,672 1713,709 1805,754" stroke="#7e6044" stroke-opacity="0.08" stroke-width="1.1"/><path d="M1612,676 C1726,728 1838,786 1953,836" stroke="#7e6044" stroke-opacity="0.06" stroke-width="0.8"/><path d="M1516,641 C1619,690 1725,733 1826,786" stroke="#8a6a48" stroke-opacity="0.09" stroke-width="2.4"/><path d="M1665,721 C1767,773 1872,819 1976,866" stroke="#9c7a55" stroke-opacity="0.08" stroke-width="0.9"/><path d="M1563,684 C1674,733 1781,791 1893,837" stroke="#7e6044" stroke-opacity="0.07" stroke-width="1.9"/><path d="M1356,595 C1404,614 1447,644 1496,661" stroke="#8a6a48" stroke-opacity="0.08" stroke-width="1.4"/><path d="M1442,642 C1513,670 1579,710 1650,739" stroke="#8a6a48" stroke-opacity="0.07" stroke-width="2.3"/><path d="M1463,664 C1577,723 1695,771 1811,826" stroke="#7e6044" stroke-opacity="0.12" stroke-width="2.4"/><path d="M1523,707 C1582,735 1640,765 1701,790" stroke="#9c7a55" stroke-opacity="0.09" stroke-width="1.2"/><path d="M1775,831 C1822,847 1863,878 1911,894" stroke="#9c7a55" stroke-opacity="0.10" stroke-width="1.6"/><path d="M1552,735 C1696,796 1835,866 1975,932" stroke="#7e6044" stroke-opacity="0.07" stroke-width="2.2"/><path d="M1238,603 C1368,668 1499,729 1631,786" stroke="#f4e2c4" stroke-opacity="0.11" stroke-width="2.6"/><path d="M1639,793 C1761,848 1884,901 2003,962" stroke="#8a6a48" stroke-opacity="0.04" stroke-width="2.6"/><path d="M1437,716 C1557,769 1675,824 1792,881" stroke="#f4e2c4" stroke-opacity="0.08" stroke-width="1.2"/><path d="M1658,827 C1766,878 1873,931 1983,979" stroke="#9c7a55" stroke-opacity="0.12" stroke-width="1.8"/><path d="M1511,770 C1632,831 1757,884 1879,942" stroke="#7e6044" stroke-opacity="0.09" stroke-width="1.3"/><path d="M1638,835 C1750,885 1859,939 1971,990" stroke="#8a6a48" stroke-opacity="0.12" stroke-width="1.7"/><path d="M1314,697 C1370,725 1429,745 1483,775" stroke="#f4e2c4" stroke-opacity="0.11" stroke-width="1.6"/><path d="M1668,864 C1718,882 1764,908 1812,932" stroke="#7e6044" stroke-opacity="0.12" stroke-width="2.3"/><path d="M1263,687 C1354,733 1447,775 1540,816" stroke="#f4e2c4" stroke-opacity="0.05" stroke-width="2.3"/><path d="M1390,761 C1445,789 1501,818 1559,840" stroke="#7e6044" stroke-opacity="0.05" stroke-width="1.1"/><path d="M1428,791 C1566,857 1707,916 1844,985" stroke="#7e6044" stroke-opacity="0.08" stroke-width="1.9"/><path d="M1465,816 C1577,865 1689,915 1798,971" stroke="#9c7a55" stroke-opacity="0.06" stroke-width="2.3"/><path d="M1255,728 C1347,772 1441,809 1531,857" stroke="#7e6044" stroke-opacity="0.07" stroke-width="2.2"/><path d="M1406,803 C1543,870 1683,932 1821,996" stroke="#8a6a48" stroke-opacity="0.05" stroke-width="2.4"/><path d="M1527,875 C1643,934 1764,980 1879,1040" stroke="#f4e2c4" stroke-opacity="0.06" stroke-width="1.4"/><path d="M1498,866 C1579,899 1655,940 1734,976" stroke="#7e6044" stroke-opacity="0.12" stroke-width="1.5"/></g>
<path d="M 1348.5,782.5 C 1382.9,761.1 1425.0,727.1 1425.0,681.8" fill="none" stroke="#1a1208" stroke-width="1.45" />
<path d="M 1900.8,637.0 C 1900.8,676.1 1942.7,714.9 1977.0,724.0" fill="none" stroke="#1a1208" stroke-width="1.45" />
<path d="M 1730.5,739.5 C 1731.5,799.5 1737.7,845.1 1751.0,859.5" fill="none" stroke="#1a1208" stroke-width="1.45" />
<polygon points="1425.0,681.8 1596.8,577.5 1900.8,637.0 1730.5,739.5" fill="none" stroke="#1a1208" stroke-width="1.45" />
<polygon points="1451.2,680.8 1603.0,587.0 1873.8,640.5 1725.5,732.5" fill="none" stroke="#1a1208" stroke-width="1.25" />
<line x1="1425.0" y1="681.8" x2="1451.2" y2="680.8" stroke="#1a1208" stroke-width="1.25"/>
<line x1="1596.8" y1="577.5" x2="1603.0" y2="587.0" stroke="#1a1208" stroke-width="1.25"/>
<line x1="1900.8" y1="637.0" x2="1873.8" y2="640.5" stroke="#1a1208" stroke-width="1.25"/>
<line x1="1730.5" y1="739.5" x2="1725.5" y2="732.5" stroke="#1a1208" stroke-width="1.25"/>
<line x1="1510.0" y1="691.8" x2="1603.8" y2="633.8" stroke="#1a1208" stroke-width="1.25"/>
<line x1="1603.8" y1="633.8" x2="1815.0" y2="676.9" stroke="#1a1208" stroke-width="1.25"/>
<line x1="1603.0" y1="587.0" x2="1603.8" y2="633.8" stroke="#1a1208" stroke-width="1.25"/>
<path d="M 1348.5,782.5 L 1348.5,922.5 L 1751.0,1000.5 L 1977.0,865.0 L 1977.0,724.0 L 1751.0,859.5" fill="none" stroke="#1a1208" stroke-width="1.45" stroke-linejoin="round"/>
<line x1="1348.5" y1="782.5" x2="1751.0" y2="859.5" stroke="#1a1208" stroke-width="1.45"/>
<line x1="1751.0" y1="859.5" x2="1751.0" y2="1000.5" stroke="#1a1208" stroke-width="1.45"/>
<linearGradient id="cr11" gradientUnits="userSpaceOnUse" x1="2789.6" y1="752.2" x2="2818.1" y2="872.5"><stop offset="0" stop-color="#e0c8a6"/><stop offset="0.3" stop-color="#ead5b5"/><stop offset="0.6" stop-color="#e0c8a6"/><stop offset="1" stop-color="#d5bd9c"/></linearGradient>
<linearGradient id="cl11" gradientUnits="userSpaceOnUse" x1="2789.6" y1="752.2" x2="2811.5" y2="872.5"><stop offset="0" stop-color="#c3a98a"/><stop offset="0.5" stop-color="#bea586"/><stop offset="1" stop-color="#baa183"/></linearGradient>
<polygon points="2321.5,779.0 2811.5,872.5 2811.5,1012.5 2321.5,919.0" fill="url(#gL)" stroke="none" stroke-width="0" />
<clipPath id="cp12"><path d="M 2321.5,779.0 L 2811.5,872.5 L 2811.5,1012.5 L 2321.5,919.0 Z"/></clipPath>
<g clip-path="url(#cp12)" fill="none"><path d="M2528,493 C2628,507 2725,536 2825,550" stroke="#9c7a55" stroke-opacity="0.09" stroke-width="2.5"/><path d="M2368,474 C2499,498 2630,520 2759,550" stroke="#8a6a48" stroke-opacity="0.03" stroke-width="1.0"/><path d="M2346,480 C2552,524 2758,565 2965,600" stroke="#8a6a48" stroke-opacity="0.08" stroke-width="2.0"/><path d="M2261,466 C2473,505 2684,546 2895,590" stroke="#8a6a48" stroke-opacity="0.04" stroke-width="1.6"/><path d="M2650,557 C2784,580 2917,607 3050,635" stroke="#7e6044" stroke-opacity="0.04" stroke-width="1.8"/><path d="M2639,560 C2764,582 2889,612 3015,633" stroke="#9c7a55" stroke-opacity="0.09" stroke-width="1.6"/><path d="M1939,435 C2192,483 2445,533 2698,583" stroke="#9c7a55" stroke-opacity="0.04" stroke-width="1.1"/><path d="M2693,591 C2849,626 3007,650 3163,683" stroke="#9c7a55" stroke-opacity="0.09" stroke-width="2.4"/><path d="M2639,588 C2798,617 2956,650 3115,681" stroke="#f4e2c4" stroke-opacity="0.10" stroke-width="1.9"/><path d="M2468,561 C2672,603 2878,635 3082,680" stroke="#7e6044" stroke-opacity="0.07" stroke-width="2.2"/><path d="M2549,591 C2672,611 2792,643 2916,662" stroke="#9c7a55" stroke-opacity="0.08" stroke-width="1.6"/><path d="M2777,640 C2855,661 2934,674 3014,686" stroke="#f4e2c4" stroke-opacity="0.03" stroke-width="1.0"/><path d="M2201,540 C2404,585 2610,617 2814,659" stroke="#7e6044" stroke-opacity="0.07" stroke-width="1.8"/><path d="M2545,613 C2714,648 2885,678 3054,713" stroke="#8a6a48" stroke-opacity="0.09" stroke-width="2.5"/><path d="M2626,642 C2767,672 2910,695 3051,725" stroke="#9c7a55" stroke-opacity="0.04" stroke-width="2.0"/><path d="M2298,584 C2410,600 2519,629 2629,648" stroke="#9c7a55" stroke-opacity="0.07" stroke-width="0.8"/><path d="M2553,647 C2792,697 3033,739 3272,787" stroke="#9c7a55" stroke-opacity="0.06" stroke-width="1.9"/><path d="M2354,617 C2584,657 2813,702 3041,751" stroke="#7e6044" stroke-opacity="0.05" stroke-width="1.9"/><path d="M2041,569 C2243,605 2443,649 2644,686" stroke="#7e6044" stroke-opacity="0.08" stroke-width="0.8"/><path d="M2291,623 C2474,663 2659,698 2844,730" stroke="#7e6044" stroke-opacity="0.04" stroke-width="1.4"/><path d="M2471,662 C2697,707 2923,750 3150,794" stroke="#8a6a48" stroke-opacity="0.05" stroke-width="1.8"/><path d="M2333,645 C2566,690 2800,732 3032,781" stroke="#f4e2c4" stroke-opacity="0.10" stroke-width="2.3"/><path d="M2018,597 C2166,622 2313,653 2460,683" stroke="#9c7a55" stroke-opacity="0.04" stroke-width="2.2"/><path d="M2311,666 C2547,713 2784,754 3019,803" stroke="#9c7a55" stroke-opacity="0.04" stroke-width="2.1"/><path d="M2595,725 C2705,742 2814,764 2923,788" stroke="#7e6044" stroke-opacity="0.05" stroke-width="1.7"/><path d="M2500,719 C2727,761 2953,808 3179,851" stroke="#f4e2c4" stroke-opacity="0.03" stroke-width="1.2"/><path d="M2144,655 C2295,681 2444,712 2593,742" stroke="#9c7a55" stroke-opacity="0.04" stroke-width="2.1"/><path d="M2540,747 C2718,788 2899,820 3080,852" stroke="#f4e2c4" stroke-opacity="0.04" stroke-width="2.6"/><path d="M2096,663 C2296,703 2497,737 2696,780" stroke="#9c7a55" stroke-opacity="0.08" stroke-width="1.2"/><path d="M2024,664 C2202,695 2379,733 2557,768" stroke="#9c7a55" stroke-opacity="0.08" stroke-width="1.6"/><path d="M2084,680 C2197,706 2310,729 2425,747" stroke="#f4e2c4" stroke-opacity="0.09" stroke-width="2.4"/><path d="M1998,674 C2224,721 2451,760 2676,806" stroke="#8a6a48" stroke-opacity="0.06" stroke-width="0.9"/><path d="M2726,821 C2830,839 2933,865 3037,882" stroke="#7e6044" stroke-opacity="0.08" stroke-width="1.2"/><path d="M2186,730 C2314,757 2443,775 2570,805" stroke="#7e6044" stroke-opacity="0.04" stroke-width="2.3"/><path d="M2118,727 C2222,745 2325,769 2429,787" stroke="#7e6044" stroke-opacity="0.09" stroke-width="1.7"/><path d="M2501,808 C2622,833 2744,856 2865,879" stroke="#8a6a48" stroke-opacity="0.05" stroke-width="2.1"/><path d="M2155,751 C2332,784 2508,825 2685,854" stroke="#9c7a55" stroke-opacity="0.04" stroke-width="1.7"/><path d="M2664,859 C2760,873 2854,894 2949,915" stroke="#8a6a48" stroke-opacity="0.06" stroke-width="1.1"/><path d="M2296,798 C2424,824 2554,845 2681,873" stroke="#f4e2c4" stroke-opacity="0.03" stroke-width="2.3"/><path d="M2316,814 C2408,828 2499,845 2589,867" stroke="#7e6044" stroke-opacity="0.07" stroke-width="1.6"/><path d="M2573,873 C2730,903 2888,931 3044,965" stroke="#8a6a48" stroke-opacity="0.08" stroke-width="1.9"/><path d="M2730,908 C2811,918 2891,937 2970,955" stroke="#7e6044" stroke-opacity="0.07" stroke-width="1.7"/><path d="M2681,906 C2776,918 2869,943 2964,961" stroke="#f4e2c4" stroke-opacity="0.08" stroke-width="2.5"/><path d="M2173,819 C2296,842 2417,871 2540,891" stroke="#9c7a55" stroke-opacity="0.09" stroke-width="1.2"/><path d="M2245,841 C2487,886 2727,936 2969,981" stroke="#f4e2c4" stroke-opacity="0.05" stroke-width="1.7"/><path d="M2007,804 C2195,838 2381,875 2568,913" stroke="#8a6a48" stroke-opacity="0.05" stroke-width="1.6"/><path d="M2602,927 C2771,958 2938,997 3107,1025" stroke="#8a6a48" stroke-opacity="0.05" stroke-width="2.2"/><path d="M2145,852 C2337,893 2530,923 2722,964" stroke="#8a6a48" stroke-opacity="0.09" stroke-width="2.2"/><path d="M2166,866 C2255,884 2344,901 2433,918" stroke="#7e6044" stroke-opacity="0.09" stroke-width="2.5"/><path d="M2429,927 C2554,951 2679,977 2804,1000" stroke="#9c7a55" stroke-opacity="0.05" stroke-width="1.6"/><path d="M2533,957 C2750,1001 2969,1036 3186,1084" stroke="#8a6a48" stroke-opacity="0.08" stroke-width="2.3"/><path d="M2419,937 C2546,967 2674,988 2802,1011" stroke="#f4e2c4" stroke-opacity="0.04" stroke-width="0.9"/><path d="M2474,958 C2632,991 2792,1016 2950,1051" stroke="#7e6044" stroke-opacity="0.07" stroke-width="2.6"/><path d="M2180,910 C2348,943 2516,977 2685,1008" stroke="#7e6044" stroke-opacity="0.06" stroke-width="1.6"/><path d="M2288,943 C2400,966 2514,983 2626,1008" stroke="#f4e2c4" stroke-opacity="0.08" stroke-width="1.0"/><path d="M2262,945 C2458,989 2656,1021 2853,1060" stroke="#7e6044" stroke-opacity="0.09" stroke-width="1.3"/><path d="M2189,945 C2294,961 2397,985 2501,1006" stroke="#7e6044" stroke-opacity="0.07" stroke-width="2.3"/><path d="M2176,948 C2336,975 2496,1007 2655,1041" stroke="#7e6044" stroke-opacity="0.06" stroke-width="2.5"/><path d="M2124,944 C2364,994 2604,1038 2845,1084" stroke="#f4e2c4" stroke-opacity="0.08" stroke-width="2.0"/><path d="M2581,1049 C2723,1081 2866,1105 3009,1132" stroke="#7e6044" stroke-opacity="0.07" stroke-width="1.8"/><path d="M2388,1019 C2562,1057 2740,1084 2915,1121" stroke="#9c7a55" stroke-opacity="0.03" stroke-width="2.1"/><path d="M2386,1029 C2517,1055 2650,1074 2780,1105" stroke="#8a6a48" stroke-opacity="0.05" stroke-width="1.6"/><path d="M1958,951 C2131,980 2303,1012 2474,1051" stroke="#8a6a48" stroke-opacity="0.10" stroke-width="2.1"/><path d="M2310,1030 C2492,1062 2672,1105 2855,1136" stroke="#8a6a48" stroke-opacity="0.08" stroke-width="1.6"/><path d="M2357,1045 C2511,1080 2666,1106 2820,1135" stroke="#f4e2c4" stroke-opacity="0.04" stroke-width="0.8"/><path d="M2004,985 C2141,1006 2275,1041 2412,1064" stroke="#8a6a48" stroke-opacity="0.07" stroke-width="1.5"/><path d="M2710,1135 C2803,1157 2897,1171 2990,1190" stroke="#7e6044" stroke-opacity="0.03" stroke-width="2.4"/><path d="M2340,1071 C2438,1092 2537,1110 2636,1128" stroke="#9c7a55" stroke-opacity="0.05" stroke-width="1.3"/><path d="M2406,1096 C2591,1128 2775,1166 2959,1204" stroke="#7e6044" stroke-opacity="0.07" stroke-width="1.2"/><path d="M2024,1025 C2234,1061 2442,1103 2650,1147" stroke="#9c7a55" stroke-opacity="0.08" stroke-width="1.8"/><path d="M2526,1138 C2710,1169 2891,1210 3073,1245" stroke="#8a6a48" stroke-opacity="0.06" stroke-width="1.9"/><path d="M2511,1142 C2611,1157 2710,1181 2809,1199" stroke="#7e6044" stroke-opacity="0.04" stroke-width="2.0"/><path d="M2704,1190 C2830,1217 2956,1239 3082,1263" stroke="#8a6a48" stroke-opacity="0.08" stroke-width="0.8"/><path d="M2021,1061 C2099,1082 2180,1089 2259,1107" stroke="#f4e2c4" stroke-opacity="0.08" stroke-width="1.9"/><path d="M2084,1085 C2220,1106 2353,1138 2488,1163" stroke="#9c7a55" stroke-opacity="0.04" stroke-width="1.9"/><path d="M2160,1107 C2342,1137 2521,1178 2701,1212" stroke="#8a6a48" stroke-opacity="0.03" stroke-width="1.6"/><path d="M2162,1116 C2283,1138 2403,1166 2524,1186" stroke="#f4e2c4" stroke-opacity="0.03" stroke-width="1.6"/><path d="M2393,1170 C2623,1215 2853,1257 3083,1304" stroke="#8a6a48" stroke-opacity="0.09" stroke-width="2.5"/><path d="M2215,1148 C2455,1196 2696,1237 2935,1288" stroke="#f4e2c4" stroke-opacity="0.08" stroke-width="2.5"/><path d="M2228,1162 C2470,1206 2709,1261 2951,1303" stroke="#f4e2c4" stroke-opacity="0.09" stroke-width="1.1"/><path d="M2410,1208 C2660,1252 2908,1307 3158,1354" stroke="#f4e2c4" stroke-opacity="0.07" stroke-width="1.1"/><path d="M1940,1120 C2167,1165 2394,1210 2621,1252" stroke="#9c7a55" stroke-opacity="0.08" stroke-width="2.3"/><path d="M2475,1232 C2649,1267 2824,1297 2997,1333" stroke="#8a6a48" stroke-opacity="0.04" stroke-width="1.9"/><path d="M2521,1258 C2681,1290 2841,1318 3001,1351" stroke="#8a6a48" stroke-opacity="0.06" stroke-width="2.1"/><path d="M2405,1238 C2636,1279 2865,1327 3095,1372" stroke="#8a6a48" stroke-opacity="0.03" stroke-width="2.5"/><path d="M2126,1192 C2370,1237 2615,1282 2858,1334" stroke="#9c7a55" stroke-opacity="0.09" stroke-width="1.1"/><path d="M2057,1191 C2162,1208 2266,1227 2369,1252" stroke="#f4e2c4" stroke-opacity="0.10" stroke-width="1.2"/></g>
<polygon points="2811.5,872.5 3087.5,706.0 3087.5,847.0 2811.5,1012.5" fill="url(#gR)" stroke="none" stroke-width="0" />
<clipPath id="cp13"><path d="M 2811.5,872.5 L 3087.5,706.0 L 3087.5,847.0 L 2811.5,1012.5 Z"/></clipPath>
<g clip-path="url(#cp13)" fill="none"><path d="M2498,812 C2603,750 2705,684 2811,624" stroke="#f4e2c4" stroke-opacity="0.03" stroke-width="1.1"/><path d="M2802,638 C2860,599 2924,570 2982,530" stroke="#7e6044" stroke-opacity="0.10" stroke-width="2.6"/><path d="M2719,708 C2806,661 2889,610 2971,556" stroke="#f4e2c4" stroke-opacity="0.08" stroke-width="2.4"/><path d="M2706,721 C2809,661 2913,602 3014,537" stroke="#f4e2c4" stroke-opacity="0.04" stroke-width="1.4"/><path d="M2909,613 C3006,550 3106,491 3207,434" stroke="#f4e2c4" stroke-opacity="0.04" stroke-width="1.1"/><path d="M2705,739 C2832,657 2966,588 3093,506" stroke="#9c7a55" stroke-opacity="0.07" stroke-width="2.2"/><path d="M2783,704 C2837,677 2888,648 2937,612" stroke="#7e6044" stroke-opacity="0.09" stroke-width="1.8"/><path d="M2564,850 C2711,758 2859,668 3010,582" stroke="#f4e2c4" stroke-opacity="0.10" stroke-width="1.0"/><path d="M2618,827 C2739,754 2860,680 2983,608" stroke="#7e6044" stroke-opacity="0.07" stroke-width="2.1"/><path d="M2716,782 C2778,742 2842,707 2905,669" stroke="#8a6a48" stroke-opacity="0.07" stroke-width="2.2"/><path d="M2669,818 C2761,769 2847,711 2935,658" stroke="#9c7a55" stroke-opacity="0.04" stroke-width="1.0"/><path d="M2670,825 C2744,774 2820,728 2899,687" stroke="#f4e2c4" stroke-opacity="0.06" stroke-width="1.0"/><path d="M2719,809 C2785,772 2852,736 2914,692" stroke="#9c7a55" stroke-opacity="0.08" stroke-width="1.1"/><path d="M2655,860 C2727,815 2804,776 2875,728" stroke="#9c7a55" stroke-opacity="0.03" stroke-width="1.3"/><path d="M2716,836 C2816,773 2917,712 3020,653" stroke="#8a6a48" stroke-opacity="0.05" stroke-width="2.0"/><path d="M2655,882 C2717,842 2784,809 2846,767" stroke="#8a6a48" stroke-opacity="0.10" stroke-width="1.9"/><path d="M2669,877 C2800,793 2938,722 3069,637" stroke="#8a6a48" stroke-opacity="0.08" stroke-width="1.4"/><path d="M2547,968 C2632,919 2715,868 2799,817" stroke="#7e6044" stroke-opacity="0.05" stroke-width="2.3"/><path d="M2906,762 C2995,706 3088,657 3176,600" stroke="#7e6044" stroke-opacity="0.05" stroke-width="1.9"/><path d="M2811,824 C2861,799 2908,768 2955,737" stroke="#7e6044" stroke-opacity="0.09" stroke-width="2.1"/><path d="M2736,884 C2894,793 3047,693 3206,602" stroke="#7e6044" stroke-opacity="0.09" stroke-width="1.3"/><path d="M2617,968 C2679,934 2740,896 2801,858" stroke="#f4e2c4" stroke-opacity="0.06" stroke-width="1.6"/><path d="M2815,854 C2898,802 2984,755 3067,703" stroke="#9c7a55" stroke-opacity="0.09" stroke-width="1.9"/><path d="M2558,1022 C2653,959 2753,904 2851,846" stroke="#f4e2c4" stroke-opacity="0.06" stroke-width="1.0"/><path d="M2633,985 C2686,952 2737,917 2793,889" stroke="#8a6a48" stroke-opacity="0.07" stroke-width="1.7"/><path d="M2716,944 C2841,863 2968,786 3098,714" stroke="#f4e2c4" stroke-opacity="0.05" stroke-width="1.0"/><path d="M2876,862 C2943,824 3010,786 3074,743" stroke="#f4e2c4" stroke-opacity="0.05" stroke-width="1.8"/><path d="M2997,803 C3084,758 3164,700 3249,652" stroke="#f4e2c4" stroke-opacity="0.04" stroke-width="1.2"/><path d="M2787,932 C2850,889 2916,850 2984,814" stroke="#7e6044" stroke-opacity="0.03" stroke-width="1.5"/><path d="M2573,1077 C2684,1004 2800,940 2914,872" stroke="#f4e2c4" stroke-opacity="0.04" stroke-width="1.8"/><path d="M2836,931 C2976,846 3116,763 3256,678" stroke="#f4e2c4" stroke-opacity="0.06" stroke-width="1.0"/><path d="M2577,1092 C2684,1024 2794,959 2905,895" stroke="#8a6a48" stroke-opacity="0.04" stroke-width="2.1"/><path d="M3048,822 C3140,767 3230,709 3323,656" stroke="#f4e2c4" stroke-opacity="0.06" stroke-width="1.0"/><path d="M2842,960 C2917,915 2993,872 3067,825" stroke="#8a6a48" stroke-opacity="0.06" stroke-width="2.3"/><path d="M2995,871 C3120,792 3250,721 3376,643" stroke="#7e6044" stroke-opacity="0.09" stroke-width="1.0"/><path d="M2883,956 C3018,868 3158,787 3298,706" stroke="#8a6a48" stroke-opacity="0.05" stroke-width="2.2"/><path d="M3041,863 C3148,797 3259,736 3365,668" stroke="#f4e2c4" stroke-opacity="0.09" stroke-width="2.1"/><path d="M2700,1079 C2786,1020 2880,973 2968,917" stroke="#9c7a55" stroke-opacity="0.07" stroke-width="2.3"/><path d="M2594,1160 C2734,1070 2879,989 3022,903" stroke="#9c7a55" stroke-opacity="0.04" stroke-width="2.3"/><path d="M2711,1097 C2815,1040 2916,976 3016,913" stroke="#9c7a55" stroke-opacity="0.10" stroke-width="2.4"/><path d="M2811,1051 C2960,959 3114,875 3262,780" stroke="#7e6044" stroke-opacity="0.04" stroke-width="0.8"/><path d="M2699,1125 C2765,1081 2833,1039 2904,1002" stroke="#9c7a55" stroke-opacity="0.09" stroke-width="2.5"/><path d="M2668,1158 C2750,1114 2830,1065 2908,1014" stroke="#8a6a48" stroke-opacity="0.08" stroke-width="1.8"/><path d="M2957,996 C3011,961 3068,932 3122,897" stroke="#8a6a48" stroke-opacity="0.07" stroke-width="1.6"/><path d="M2998,982 C3135,896 3274,814 3414,732" stroke="#8a6a48" stroke-opacity="0.09" stroke-width="1.8"/><path d="M3014,979 C3160,892 3308,806 3453,716" stroke="#9c7a55" stroke-opacity="0.03" stroke-width="1.0"/><path d="M2964,1019 C3060,958 3161,907 3255,844" stroke="#9c7a55" stroke-opacity="0.06" stroke-width="1.5"/><path d="M2968,1024 C3119,939 3265,847 3412,757" stroke="#8a6a48" stroke-opacity="0.06" stroke-width="2.0"/><path d="M2891,1080 C3029,994 3172,917 3309,829" stroke="#f4e2c4" stroke-opacity="0.05" stroke-width="1.4"/><path d="M2648,1243 C2802,1149 2957,1057 3111,964" stroke="#9c7a55" stroke-opacity="0.07" stroke-width="1.3"/><path d="M2813,1156 C2912,1101 3004,1036 3103,982" stroke="#7e6044" stroke-opacity="0.05" stroke-width="1.8"/><path d="M2955,1075 C3062,1016 3163,949 3268,887" stroke="#7e6044" stroke-opacity="0.05" stroke-width="1.3"/><path d="M2978,1079 C3045,1037 3113,997 3181,956" stroke="#8a6a48" stroke-opacity="0.08" stroke-width="2.2"/><path d="M3008,1065 C3099,1012 3190,959 3280,902" stroke="#7e6044" stroke-opacity="0.08" stroke-width="1.8"/><path d="M3093,1024 C3165,978 3238,936 3311,893" stroke="#f4e2c4" stroke-opacity="0.07" stroke-width="2.2"/><path d="M3198,977 C3258,935 3325,904 3386,864" stroke="#f4e2c4" stroke-opacity="0.10" stroke-width="1.7"/><path d="M2750,1251 C2822,1205 2895,1161 2970,1119" stroke="#8a6a48" stroke-opacity="0.06" stroke-width="1.7"/><path d="M2750,1260 C2895,1167 3046,1084 3193,994" stroke="#f4e2c4" stroke-opacity="0.09" stroke-width="1.9"/><path d="M3206,1001 C3266,972 3321,938 3375,900" stroke="#f4e2c4" stroke-opacity="0.05" stroke-width="2.3"/><path d="M3036,1113 C3119,1066 3200,1016 3281,966" stroke="#7e6044" stroke-opacity="0.07" stroke-width="0.8"/><path d="M2962,1164 C3062,1099 3164,1038 3268,980" stroke="#8a6a48" stroke-opacity="0.05" stroke-width="2.3"/></g>
<path d="M 2321.5,779.0 C 2356.5,757.2 2399.2,722.8 2399.2,676.8 L 2789.6,752.2 C 2790.7,812.4 2797.3,858.1 2811.5,872.5 Z" fill="url(#cl11)" stroke="none" stroke-width="0" />
<clipPath id="cp14"><path d="M 2321.5,779.0 C 2356.5,757.2 2399.2,722.8 2399.2,676.8 L 2789.6,752.2 C 2790.7,812.4 2797.3,858.1 2811.5,872.5 Z"/></clipPath>
<g clip-path="url(#cp14)" fill="none"><path d="M2199,307 C2406,343 2610,389 2816,427" stroke="#8a6a48" stroke-opacity="0.04" stroke-width="1.6"/><path d="M2513,378 C2606,390 2697,415 2790,432" stroke="#7e6044" stroke-opacity="0.09" stroke-width="1.5"/><path d="M2317,349 C2415,369 2513,391 2612,406" stroke="#8a6a48" stroke-opacity="0.04" stroke-width="2.5"/><path d="M2480,391 C2671,430 2863,461 3053,502" stroke="#9c7a55" stroke-opacity="0.08" stroke-width="2.4"/><path d="M2541,407 C2711,446 2883,469 3053,507" stroke="#8a6a48" stroke-opacity="0.07" stroke-width="1.4"/><path d="M2630,441 C2817,482 3005,517 3194,550" stroke="#9c7a55" stroke-opacity="0.04" stroke-width="2.0"/><path d="M2129,349 C2251,375 2373,398 2495,420" stroke="#8a6a48" stroke-opacity="0.05" stroke-width="1.1"/><path d="M2666,465 C2828,499 2991,528 3153,560" stroke="#7e6044" stroke-opacity="0.05" stroke-width="1.4"/><path d="M2740,486 C2886,508 3029,547 3175,570" stroke="#7e6044" stroke-opacity="0.04" stroke-width="1.2"/><path d="M2611,473 C2744,500 2878,521 3011,551" stroke="#9c7a55" stroke-opacity="0.05" stroke-width="2.5"/><path d="M2630,488 C2836,525 3041,566 3246,608" stroke="#9c7a55" stroke-opacity="0.10" stroke-width="2.0"/><path d="M2728,515 C2819,536 2912,547 3004,569" stroke="#7e6044" stroke-opacity="0.07" stroke-width="1.1"/><path d="M2114,404 C2245,433 2376,460 2508,481" stroke="#f4e2c4" stroke-opacity="0.06" stroke-width="1.4"/><path d="M1942,381 C2137,419 2334,455 2529,495" stroke="#f4e2c4" stroke-opacity="0.07" stroke-width="1.9"/><path d="M2702,531 C2802,549 2901,575 3002,590" stroke="#9c7a55" stroke-opacity="0.05" stroke-width="0.9"/><path d="M2690,544 C2828,572 2966,598 3105,625" stroke="#f4e2c4" stroke-opacity="0.04" stroke-width="1.7"/><path d="M2102,436 C2188,450 2274,466 2359,486" stroke="#f4e2c4" stroke-opacity="0.08" stroke-width="1.3"/><path d="M2181,464 C2307,483 2430,512 2555,537" stroke="#7e6044" stroke-opacity="0.07" stroke-width="1.2"/><path d="M2162,463 C2293,487 2423,519 2555,540" stroke="#7e6044" stroke-opacity="0.09" stroke-width="1.0"/><path d="M2646,570 C2829,607 3012,644 3195,676" stroke="#7e6044" stroke-opacity="0.09" stroke-width="2.5"/><path d="M2137,478 C2285,508 2434,533 2581,564" stroke="#8a6a48" stroke-opacity="0.03" stroke-width="1.2"/><path d="M2437,546 C2538,563 2638,581 2738,604" stroke="#8a6a48" stroke-opacity="0.03" stroke-width="1.0"/><path d="M2046,483 C2179,513 2313,534 2446,560" stroke="#f4e2c4" stroke-opacity="0.09" stroke-width="1.6"/><path d="M2248,526 C2452,560 2654,604 2857,644" stroke="#7e6044" stroke-opacity="0.10" stroke-width="1.2"/><path d="M2012,493 C2214,538 2419,569 2621,612" stroke="#9c7a55" stroke-opacity="0.09" stroke-width="1.7"/><path d="M2215,538 C2364,563 2513,590 2660,624" stroke="#8a6a48" stroke-opacity="0.05" stroke-width="2.1"/><path d="M2040,521 C2170,546 2300,575 2431,597" stroke="#9c7a55" stroke-opacity="0.03" stroke-width="2.3"/><path d="M2250,563 C2430,596 2609,636 2790,668" stroke="#8a6a48" stroke-opacity="0.03" stroke-width="2.1"/><path d="M2263,582 C2357,603 2453,616 2548,637" stroke="#f4e2c4" stroke-opacity="0.05" stroke-width="2.2"/><path d="M2228,578 C2325,597 2422,615 2519,634" stroke="#7e6044" stroke-opacity="0.10" stroke-width="1.0"/><path d="M1894,528 C2125,575 2358,612 2588,663" stroke="#f4e2c4" stroke-opacity="0.10" stroke-width="1.1"/><path d="M2132,582 C2253,609 2376,631 2499,654" stroke="#f4e2c4" stroke-opacity="0.04" stroke-width="0.9"/><path d="M1971,556 C2208,602 2445,649 2683,695" stroke="#7e6044" stroke-opacity="0.06" stroke-width="2.4"/><path d="M1943,562 C2164,602 2385,642 2604,690" stroke="#f4e2c4" stroke-opacity="0.04" stroke-width="2.0"/><path d="M2476,674 C2596,696 2716,722 2836,744" stroke="#f4e2c4" stroke-opacity="0.08" stroke-width="1.9"/><path d="M2291,644 C2448,672 2604,703 2760,735" stroke="#8a6a48" stroke-opacity="0.06" stroke-width="1.9"/><path d="M2426,679 C2659,721 2890,774 3124,814" stroke="#8a6a48" stroke-opacity="0.09" stroke-width="1.1"/><path d="M2180,642 C2420,685 2658,738 2898,781" stroke="#8a6a48" stroke-opacity="0.06" stroke-width="2.6"/><path d="M2264,671 C2518,720 2772,770 3026,820" stroke="#7e6044" stroke-opacity="0.07" stroke-width="1.8"/><path d="M2020,633 C2164,655 2308,683 2450,717" stroke="#8a6a48" stroke-opacity="0.09" stroke-width="2.0"/><path d="M2386,713 C2638,757 2888,808 3138,859" stroke="#f4e2c4" stroke-opacity="0.09" stroke-width="2.2"/><path d="M1987,640 C2231,681 2472,739 2716,781" stroke="#8a6a48" stroke-opacity="0.09" stroke-width="2.6"/><path d="M2387,729 C2572,766 2758,801 2943,837" stroke="#9c7a55" stroke-opacity="0.04" stroke-width="2.5"/><path d="M2348,733 C2601,787 2855,838 3110,882" stroke="#9c7a55" stroke-opacity="0.08" stroke-width="1.8"/><path d="M2437,761 C2517,776 2597,793 2677,808" stroke="#7e6044" stroke-opacity="0.08" stroke-width="2.4"/><path d="M1950,676 C2199,723 2448,772 2697,822" stroke="#f4e2c4" stroke-opacity="0.07" stroke-width="1.7"/><path d="M2116,712 C2256,741 2398,762 2537,794" stroke="#f4e2c4" stroke-opacity="0.07" stroke-width="1.7"/><path d="M2340,766 C2423,776 2504,796 2586,813" stroke="#7e6044" stroke-opacity="0.06" stroke-width="1.7"/><path d="M2322,776 C2563,818 2802,868 3041,916" stroke="#7e6044" stroke-opacity="0.09" stroke-width="1.1"/><path d="M2237,770 C2408,798 2576,839 2746,869" stroke="#7e6044" stroke-opacity="0.05" stroke-width="1.0"/><path d="M2451,817 C2664,860 2877,898 3090,941" stroke="#f4e2c4" stroke-opacity="0.04" stroke-width="1.8"/><path d="M1984,734 C2126,763 2268,789 2410,817" stroke="#9c7a55" stroke-opacity="0.03" stroke-width="1.3"/><path d="M2277,800 C2526,848 2774,899 3023,945" stroke="#7e6044" stroke-opacity="0.05" stroke-width="1.1"/><path d="M1861,727 C2094,770 2326,821 2559,863" stroke="#9c7a55" stroke-opacity="0.04" stroke-width="1.2"/><path d="M2490,861 C2711,904 2932,942 3152,990" stroke="#8a6a48" stroke-opacity="0.08" stroke-width="1.4"/><path d="M2752,922 C2861,939 2970,958 3077,985" stroke="#8a6a48" stroke-opacity="0.07" stroke-width="0.9"/><path d="M2056,799 C2161,813 2262,843 2367,859" stroke="#7e6044" stroke-opacity="0.04" stroke-width="1.8"/><path d="M2096,812 C2337,859 2577,911 2819,953" stroke="#7e6044" stroke-opacity="0.03" stroke-width="2.0"/><path d="M2315,867 C2518,902 2719,949 2922,985" stroke="#7e6044" stroke-opacity="0.09" stroke-width="1.9"/><path d="M2636,933 C2754,954 2872,979 2989,1001" stroke="#8a6a48" stroke-opacity="0.10" stroke-width="2.0"/><path d="M2028,823 C2121,837 2212,862 2304,877" stroke="#8a6a48" stroke-opacity="0.09" stroke-width="2.0"/><path d="M2607,950 C2778,984 2949,1016 3120,1050" stroke="#8a6a48" stroke-opacity="0.06" stroke-width="1.2"/><path d="M2130,862 C2301,900 2474,924 2646,962" stroke="#8a6a48" stroke-opacity="0.09" stroke-width="2.3"/><path d="M1919,835 C2108,866 2296,906 2483,945" stroke="#f4e2c4" stroke-opacity="0.06" stroke-width="2.6"/><path d="M2291,917 C2446,953 2603,976 2759,1008" stroke="#f4e2c4" stroke-opacity="0.06" stroke-width="1.0"/><path d="M2513,970 C2658,1001 2804,1030 2951,1055" stroke="#9c7a55" stroke-opacity="0.05" stroke-width="0.9"/><path d="M1853,848 C2066,893 2281,925 2493,973" stroke="#f4e2c4" stroke-opacity="0.06" stroke-width="1.6"/><path d="M2493,982 C2735,1027 2976,1078 3218,1123" stroke="#8a6a48" stroke-opacity="0.09" stroke-width="1.1"/><path d="M2400,973 C2638,1021 2879,1062 3117,1112" stroke="#f4e2c4" stroke-opacity="0.04" stroke-width="2.5"/><path d="M1955,891 C2090,920 2227,938 2362,970" stroke="#f4e2c4" stroke-opacity="0.03" stroke-width="1.2"/><path d="M2553,1020 C2776,1061 2999,1105 3222,1150" stroke="#9c7a55" stroke-opacity="0.04" stroke-width="2.2"/><path d="M2170,956 C2355,986 2537,1028 2720,1063" stroke="#9c7a55" stroke-opacity="0.05" stroke-width="1.8"/><path d="M2106,955 C2200,970 2293,987 2386,1010" stroke="#7e6044" stroke-opacity="0.07" stroke-width="0.9"/><path d="M1929,930 C2141,972 2354,1013 2567,1054" stroke="#8a6a48" stroke-opacity="0.07" stroke-width="2.5"/><path d="M2199,987 C2341,1011 2481,1045 2623,1070" stroke="#f4e2c4" stroke-opacity="0.05" stroke-width="0.8"/><path d="M2190,999 C2370,1038 2551,1073 2732,1104" stroke="#8a6a48" stroke-opacity="0.05" stroke-width="2.1"/><path d="M2173,1002 C2417,1052 2663,1097 2908,1145" stroke="#9c7a55" stroke-opacity="0.08" stroke-width="1.1"/><path d="M2293,1035 C2399,1060 2506,1082 2614,1098" stroke="#f4e2c4" stroke-opacity="0.08" stroke-width="1.0"/><path d="M1998,985 C2218,1023 2434,1075 2654,1113" stroke="#f4e2c4" stroke-opacity="0.06" stroke-width="2.1"/><path d="M2679,1131 C2766,1149 2854,1164 2941,1182" stroke="#f4e2c4" stroke-opacity="0.07" stroke-width="0.8"/><path d="M2077,1022 C2330,1067 2582,1118 2834,1169" stroke="#7e6044" stroke-opacity="0.05" stroke-width="1.8"/><path d="M2495,1111 C2682,1145 2868,1186 3055,1220" stroke="#f4e2c4" stroke-opacity="0.10" stroke-width="1.2"/><path d="M2190,1063 C2317,1093 2446,1109 2572,1137" stroke="#f4e2c4" stroke-opacity="0.09" stroke-width="1.0"/><path d="M1941,1025 C2128,1059 2315,1095 2501,1134" stroke="#7e6044" stroke-opacity="0.06" stroke-width="2.4"/><path d="M2373,1112 C2547,1142 2720,1179 2893,1213" stroke="#f4e2c4" stroke-opacity="0.10" stroke-width="2.5"/><path d="M2303,1107 C2440,1134 2577,1157 2713,1187" stroke="#f4e2c4" stroke-opacity="0.10" stroke-width="2.3"/><path d="M2266,1110 C2351,1128 2438,1139 2522,1160" stroke="#7e6044" stroke-opacity="0.05" stroke-width="2.0"/></g>
<path d="M 2811.5,872.5 C 2797.3,858.1 2790.7,812.4 2789.6,752.2 L 3008.5,619.7 C 3008.5,658.5 3051.9,696.5 3087.5,706.0 Z" fill="url(#cr11)" stroke="none" stroke-width="0" />
<clipPath id="cp15"><path d="M 2811.5,872.5 C 2797.3,858.1 2790.7,812.4 2789.6,752.2 L 3008.5,619.7 C 3008.5,658.5 3051.9,696.5 3087.5,706.0 Z"/></clipPath>
<g clip-path="url(#cp15)" fill="none"><path d="M2694,578 C2839,493 2981,402 3127,318" stroke="#8a6a48" stroke-opacity="0.06" stroke-width="1.6"/><path d="M2507,709 C2659,615 2816,530 2967,433" stroke="#9c7a55" stroke-opacity="0.10" stroke-width="2.0"/><path d="M2518,709 C2632,635 2750,568 2867,499" stroke="#8a6a48" stroke-opacity="0.08" stroke-width="2.3"/><path d="M2608,669 C2732,591 2857,515 2984,443" stroke="#9c7a55" stroke-opacity="0.06" stroke-width="2.1"/><path d="M2846,532 C2942,480 3030,415 3126,364" stroke="#7e6044" stroke-opacity="0.06" stroke-width="1.2"/><path d="M2732,617 C2844,551 2953,481 3066,417" stroke="#8a6a48" stroke-opacity="0.08" stroke-width="1.9"/><path d="M2590,712 C2708,636 2826,563 2949,496" stroke="#7e6044" stroke-opacity="0.06" stroke-width="1.6"/><path d="M2680,664 C2799,599 2913,526 3028,455" stroke="#9c7a55" stroke-opacity="0.06" stroke-width="0.9"/><path d="M2896,544 C3003,474 3115,414 3223,347" stroke="#8a6a48" stroke-opacity="0.09" stroke-width="2.1"/><path d="M2646,703 C2737,653 2826,599 2914,542" stroke="#f4e2c4" stroke-opacity="0.05" stroke-width="1.1"/><path d="M2547,778 C2700,686 2851,590 3006,502" stroke="#8a6a48" stroke-opacity="0.04" stroke-width="0.9"/><path d="M2800,637 C2939,558 3075,471 3213,389" stroke="#8a6a48" stroke-opacity="0.07" stroke-width="2.2"/><path d="M2528,806 C2660,726 2791,643 2926,566" stroke="#f4e2c4" stroke-opacity="0.08" stroke-width="1.7"/><path d="M2713,706 C2790,653 2870,605 2952,562" stroke="#8a6a48" stroke-opacity="0.04" stroke-width="1.6"/><path d="M2712,719 C2858,626 3008,539 3157,451" stroke="#f4e2c4" stroke-opacity="0.07" stroke-width="0.9"/><path d="M2861,638 C2961,580 3061,521 3158,459" stroke="#8a6a48" stroke-opacity="0.08" stroke-width="0.9"/><path d="M2789,690 C2852,646 2922,614 2986,572" stroke="#f4e2c4" stroke-opacity="0.07" stroke-width="2.6"/><path d="M2668,780 C2754,735 2834,681 2917,630" stroke="#7e6044" stroke-opacity="0.10" stroke-width="1.2"/><path d="M2868,672 C2923,641 2977,608 3030,575" stroke="#9c7a55" stroke-opacity="0.08" stroke-width="1.2"/><path d="M2890,661 C3002,600 3107,527 3218,464" stroke="#f4e2c4" stroke-opacity="0.04" stroke-width="2.0"/><path d="M2523,900 C2665,814 2808,730 2950,644" stroke="#f4e2c4" stroke-opacity="0.05" stroke-width="2.4"/><path d="M2817,733 C2962,640 3115,559 3262,466" stroke="#9c7a55" stroke-opacity="0.06" stroke-width="1.5"/><path d="M2962,650 C3019,610 3083,584 3139,543" stroke="#f4e2c4" stroke-opacity="0.04" stroke-width="2.1"/><path d="M2650,853 C2746,797 2841,741 2935,682" stroke="#8a6a48" stroke-opacity="0.05" stroke-width="1.1"/><path d="M2845,749 C2999,654 3155,562 3311,469" stroke="#8a6a48" stroke-opacity="0.09" stroke-width="1.8"/><path d="M2646,878 C2697,854 2739,815 2790,791" stroke="#9c7a55" stroke-opacity="0.10" stroke-width="1.2"/><path d="M2577,923 C2665,875 2745,816 2834,769" stroke="#7e6044" stroke-opacity="0.05" stroke-width="1.0"/><path d="M3060,645 C3129,602 3198,558 3269,519" stroke="#8a6a48" stroke-opacity="0.08" stroke-width="2.4"/><path d="M2698,879 C2815,804 2936,737 3054,665" stroke="#9c7a55" stroke-opacity="0.07" stroke-width="0.8"/><path d="M2964,723 C3060,661 3161,607 3258,546" stroke="#7e6044" stroke-opacity="0.03" stroke-width="0.9"/><path d="M2717,888 C2811,827 2909,770 3006,714" stroke="#9c7a55" stroke-opacity="0.06" stroke-width="1.3"/><path d="M2570,982 C2720,885 2875,797 3028,707" stroke="#8a6a48" stroke-opacity="0.09" stroke-width="2.2"/><path d="M2521,1025 C2668,938 2814,851 2959,761" stroke="#9c7a55" stroke-opacity="0.05" stroke-width="0.8"/><path d="M2585,992 C2691,928 2799,865 2905,800" stroke="#8a6a48" stroke-opacity="0.04" stroke-width="1.6"/><path d="M2906,819 C2970,782 3031,740 3096,705" stroke="#7e6044" stroke-opacity="0.07" stroke-width="1.8"/><path d="M2930,813 C3038,743 3148,677 3260,615" stroke="#f4e2c4" stroke-opacity="0.03" stroke-width="2.3"/><path d="M2639,992 C2727,938 2818,888 2905,832" stroke="#8a6a48" stroke-opacity="0.07" stroke-width="1.3"/><path d="M2905,845 C2963,811 3022,777 3079,741" stroke="#9c7a55" stroke-opacity="0.05" stroke-width="1.2"/><path d="M2584,1055 C2735,970 2880,875 3030,787" stroke="#f4e2c4" stroke-opacity="0.04" stroke-width="1.5"/><path d="M2766,955 C2910,870 3053,783 3196,697" stroke="#8a6a48" stroke-opacity="0.09" stroke-width="1.3"/><path d="M3044,797 C3147,741 3247,680 3345,616" stroke="#f4e2c4" stroke-opacity="0.09" stroke-width="1.0"/><path d="M2990,841 C3115,767 3239,692 3364,617" stroke="#f4e2c4" stroke-opacity="0.07" stroke-width="2.4"/><path d="M2706,1023 C2804,961 2903,901 3004,844" stroke="#f4e2c4" stroke-opacity="0.08" stroke-width="1.5"/><path d="M2699,1034 C2795,979 2887,919 2982,864" stroke="#7e6044" stroke-opacity="0.03" stroke-width="1.4"/><path d="M2954,895 C3005,871 3049,837 3098,809" stroke="#7e6044" stroke-opacity="0.05" stroke-width="1.5"/><path d="M2988,883 C3066,830 3151,786 3232,736" stroke="#7e6044" stroke-opacity="0.08" stroke-width="1.7"/><path d="M2752,1030 C2810,989 2872,953 2936,920" stroke="#9c7a55" stroke-opacity="0.08" stroke-width="1.4"/><path d="M2900,953 C2947,922 2997,896 3045,865" stroke="#8a6a48" stroke-opacity="0.08" stroke-width="1.8"/><path d="M2657,1115 C2751,1053 2851,999 2947,941" stroke="#f4e2c4" stroke-opacity="0.08" stroke-width="1.4"/><path d="M2625,1138 C2741,1064 2862,998 2979,925" stroke="#8a6a48" stroke-opacity="0.09" stroke-width="1.5"/><path d="M3011,920 C3113,857 3216,795 3319,735" stroke="#9c7a55" stroke-opacity="0.07" stroke-width="2.1"/><path d="M2770,1071 C2851,1026 2926,973 3008,929" stroke="#7e6044" stroke-opacity="0.09" stroke-width="1.8"/><path d="M3153,857 C3240,806 3327,754 3413,700" stroke="#8a6a48" stroke-opacity="0.04" stroke-width="1.8"/><path d="M2871,1036 C3007,958 3139,875 3274,795" stroke="#7e6044" stroke-opacity="0.03" stroke-width="1.3"/><path d="M3017,958 C3078,927 3135,892 3191,853" stroke="#f4e2c4" stroke-opacity="0.03" stroke-width="1.7"/><path d="M2665,1185 C2814,1095 2963,1007 3111,917" stroke="#8a6a48" stroke-opacity="0.09" stroke-width="1.3"/><path d="M2790,1113 C2876,1063 2961,1011 3045,959" stroke="#7e6044" stroke-opacity="0.05" stroke-width="2.2"/><path d="M2829,1106 C2955,1030 3083,956 3207,879" stroke="#f4e2c4" stroke-opacity="0.04" stroke-width="1.5"/><path d="M3192,900 C3277,850 3360,797 3445,748" stroke="#9c7a55" stroke-opacity="0.04" stroke-width="1.7"/><path d="M2795,1146 C2880,1102 2962,1053 3041,998" stroke="#7e6044" stroke-opacity="0.05" stroke-width="1.9"/><path d="M2998,1038 C3067,995 3135,952 3206,913" stroke="#9c7a55" stroke-opacity="0.03" stroke-width="2.3"/></g>
<polygon points="2399.2,676.8 2619.0,543.7 3008.5,619.7 2789.6,752.2" fill="#c6ab8a" stroke="none" stroke-width="0" />
<polygon points="2424.4,675.3 2625.5,552.5 2625.5,599.3 2485.0,685.6" fill="#e5cdaa" stroke="none" stroke-width="0" />
<clipPath id="cp16"><path d="M 2424.4,675.3 L 2625.5,552.5 L 2625.5,599.3 L 2485.0,685.6 Z"/></clipPath>
<g clip-path="url(#cp16)" fill="none"><path d="M2408,432 C2514,365 2626,307 2731,238" stroke="#f4e2c4" stroke-opacity="0.05" stroke-width="1.7"/><path d="M2066,649 C2194,573 2323,497 2450,419" stroke="#7e6044" stroke-opacity="0.06" stroke-width="1.9"/><path d="M2461,425 C2539,381 2614,331 2692,286" stroke="#7e6044" stroke-opacity="0.04" stroke-width="1.8"/><path d="M2309,525 C2403,464 2504,414 2597,352" stroke="#7e6044" stroke-opacity="0.10" stroke-width="2.3"/><path d="M2203,598 C2272,561 2337,519 2404,478" stroke="#7e6044" stroke-opacity="0.07" stroke-width="2.2"/><path d="M2224,597 C2343,523 2466,454 2585,381" stroke="#f4e2c4" stroke-opacity="0.08" stroke-width="1.8"/><path d="M2411,491 C2507,436 2603,382 2695,321" stroke="#9c7a55" stroke-opacity="0.10" stroke-width="2.1"/><path d="M2263,595 C2377,523 2495,457 2610,387" stroke="#9c7a55" stroke-opacity="0.06" stroke-width="1.0"/><path d="M2522,450 C2594,413 2658,364 2729,326" stroke="#9c7a55" stroke-opacity="0.08" stroke-width="2.5"/><path d="M2355,560 C2397,534 2442,514 2481,485" stroke="#7e6044" stroke-opacity="0.09" stroke-width="1.4"/><path d="M2271,617 C2323,580 2380,550 2435,518" stroke="#7e6044" stroke-opacity="0.08" stroke-width="1.4"/><path d="M2418,540 C2527,481 2629,413 2735,350" stroke="#9c7a55" stroke-opacity="0.05" stroke-width="1.6"/><path d="M2155,712 C2245,663 2330,608 2417,555" stroke="#9c7a55" stroke-opacity="0.05" stroke-width="1.7"/><path d="M2361,595 C2421,554 2483,517 2547,483" stroke="#8a6a48" stroke-opacity="0.05" stroke-width="1.6"/><path d="M2239,685 C2296,651 2351,612 2410,582" stroke="#7e6044" stroke-opacity="0.09" stroke-width="2.3"/><path d="M2172,735 C2294,661 2414,584 2539,515" stroke="#7e6044" stroke-opacity="0.05" stroke-width="1.0"/><path d="M2312,656 C2393,604 2478,557 2561,506" stroke="#f4e2c4" stroke-opacity="0.03" stroke-width="1.2"/><path d="M2385,622 C2473,567 2563,518 2650,463" stroke="#f4e2c4" stroke-opacity="0.04" stroke-width="1.4"/><path d="M2293,695 C2355,655 2422,621 2484,581" stroke="#7e6044" stroke-opacity="0.03" stroke-width="1.3"/><path d="M2310,690 C2414,626 2519,562 2625,501" stroke="#8a6a48" stroke-opacity="0.09" stroke-width="1.3"/><path d="M2505,586 C2571,539 2641,498 2712,461" stroke="#f4e2c4" stroke-opacity="0.04" stroke-width="1.3"/><path d="M2396,659 C2528,583 2660,507 2788,423" stroke="#8a6a48" stroke-opacity="0.06" stroke-width="2.5"/><path d="M2503,608 C2632,531 2762,453 2891,374" stroke="#8a6a48" stroke-opacity="0.04" stroke-width="1.1"/><path d="M2254,764 C2367,690 2485,625 2600,556" stroke="#8a6a48" stroke-opacity="0.06" stroke-width="1.1"/><path d="M2367,712 C2469,647 2576,590 2679,525" stroke="#9c7a55" stroke-opacity="0.09" stroke-width="1.2"/><path d="M2274,775 C2412,699 2546,617 2678,533" stroke="#8a6a48" stroke-opacity="0.08" stroke-width="0.8"/><path d="M2301,768 C2399,712 2492,647 2591,594" stroke="#9c7a55" stroke-opacity="0.08" stroke-width="2.1"/><path d="M2310,777 C2380,730 2454,693 2524,648" stroke="#7e6044" stroke-opacity="0.04" stroke-width="2.2"/><path d="M2219,839 C2357,762 2493,681 2626,595" stroke="#8a6a48" stroke-opacity="0.03" stroke-width="1.9"/><path d="M2375,760 C2448,711 2524,665 2601,624" stroke="#f4e2c4" stroke-opacity="0.09" stroke-width="1.0"/><path d="M2402,751 C2518,679 2636,610 2754,540" stroke="#f4e2c4" stroke-opacity="0.05" stroke-width="1.2"/><path d="M2520,689 C2645,621 2766,547 2885,470" stroke="#8a6a48" stroke-opacity="0.04" stroke-width="1.7"/><path d="M2561,676 C2626,642 2690,604 2751,562" stroke="#9c7a55" stroke-opacity="0.08" stroke-width="1.3"/><path d="M2490,736 C2535,712 2578,685 2621,657" stroke="#7e6044" stroke-opacity="0.08" stroke-width="2.3"/><path d="M2270,876 C2333,834 2398,797 2463,760" stroke="#f4e2c4" stroke-opacity="0.03" stroke-width="2.5"/><path d="M2424,792 C2504,737 2593,696 2674,642" stroke="#7e6044" stroke-opacity="0.08" stroke-width="1.4"/><path d="M2668,659 C2725,629 2778,592 2834,560" stroke="#7e6044" stroke-opacity="0.06" stroke-width="1.9"/><path d="M2549,740 C2617,697 2687,656 2757,615" stroke="#9c7a55" stroke-opacity="0.04" stroke-width="1.8"/><path d="M2298,905 C2393,853 2481,789 2577,738" stroke="#8a6a48" stroke-opacity="0.06" stroke-width="0.9"/><path d="M2288,920 C2372,866 2458,817 2544,767" stroke="#f4e2c4" stroke-opacity="0.05" stroke-width="1.6"/><path d="M2256,944 C2373,871 2495,806 2611,731" stroke="#f4e2c4" stroke-opacity="0.05" stroke-width="1.3"/><path d="M2696,698 C2767,661 2836,619 2903,574" stroke="#f4e2c4" stroke-opacity="0.10" stroke-width="2.2"/><path d="M2323,929 C2458,850 2594,771 2726,687" stroke="#9c7a55" stroke-opacity="0.05" stroke-width="1.5"/><path d="M2289,963 C2413,890 2540,819 2661,740" stroke="#f4e2c4" stroke-opacity="0.07" stroke-width="1.6"/><path d="M2451,873 C2498,839 2552,818 2600,784" stroke="#f4e2c4" stroke-opacity="0.03" stroke-width="2.0"/><path d="M2581,808 C2654,770 2724,728 2791,682" stroke="#8a6a48" stroke-opacity="0.08" stroke-width="2.5"/><path d="M2507,857 C2634,782 2759,704 2886,629" stroke="#9c7a55" stroke-opacity="0.07" stroke-width="2.6"/><path d="M2556,842 C2687,759 2823,685 2954,602" stroke="#9c7a55" stroke-opacity="0.04" stroke-width="2.4"/><path d="M2301,1007 C2387,951 2480,906 2565,849" stroke="#7e6044" stroke-opacity="0.05" stroke-width="2.5"/><path d="M2603,836 C2703,777 2801,715 2901,657" stroke="#8a6a48" stroke-opacity="0.06" stroke-width="2.4"/><path d="M2438,943 C2529,892 2619,838 2707,781" stroke="#7e6044" stroke-opacity="0.04" stroke-width="1.6"/><path d="M2415,967 C2493,922 2568,872 2647,828" stroke="#9c7a55" stroke-opacity="0.06" stroke-width="1.6"/><path d="M2506,920 C2627,852 2743,777 2862,707" stroke="#7e6044" stroke-opacity="0.10" stroke-width="1.8"/></g>
<polygon points="2625.5,552.5 2983.4,622.0 2924.2,656.6 2625.5,599.3" fill="#c9ae8d" stroke="none" stroke-width="0" />
<clipPath id="cp17"><path d="M 2625.5,552.5 L 2983.4,622.0 L 2924.2,656.6 L 2625.5,599.3 Z"/></clipPath>
<g clip-path="url(#cp17)" fill="none"><path d="M2878,329 C3008,354 3137,384 3267,404" stroke="#9c7a55" stroke-opacity="0.08" stroke-width="2.0"/><path d="M2558,276 C2639,297 2721,313 2803,324" stroke="#8a6a48" stroke-opacity="0.08" stroke-width="0.8"/><path d="M2662,312 C2746,326 2830,345 2913,361" stroke="#8a6a48" stroke-opacity="0.06" stroke-width="2.0"/><path d="M2528,296 C2678,327 2829,353 2979,384" stroke="#8a6a48" stroke-opacity="0.08" stroke-width="1.7"/><path d="M2974,385 C3069,399 3162,428 3258,440" stroke="#8a6a48" stroke-opacity="0.05" stroke-width="0.8"/><path d="M2724,347 C2879,377 3034,406 3188,438" stroke="#f4e2c4" stroke-opacity="0.07" stroke-width="2.1"/><path d="M2397,297 C2583,332 2769,364 2953,404" stroke="#f4e2c4" stroke-opacity="0.04" stroke-width="1.4"/><path d="M2597,340 C2657,355 2719,363 2780,375" stroke="#7e6044" stroke-opacity="0.05" stroke-width="1.3"/><path d="M2918,414 C3022,433 3126,452 3229,475" stroke="#7e6044" stroke-opacity="0.05" stroke-width="1.9"/><path d="M2392,324 C2523,355 2656,379 2790,401" stroke="#7e6044" stroke-opacity="0.03" stroke-width="1.0"/><path d="M2611,375 C2740,405 2870,427 3000,451" stroke="#f4e2c4" stroke-opacity="0.07" stroke-width="1.2"/><path d="M2850,429 C2955,445 3058,474 3163,490" stroke="#9c7a55" stroke-opacity="0.10" stroke-width="1.7"/><path d="M2610,389 C2733,414 2857,435 2980,461" stroke="#8a6a48" stroke-opacity="0.10" stroke-width="2.4"/><path d="M2841,448 C2936,465 3030,484 3125,503" stroke="#8a6a48" stroke-opacity="0.03" stroke-width="0.9"/><path d="M2893,462 C2967,473 3040,488 3112,505" stroke="#8a6a48" stroke-opacity="0.10" stroke-width="1.9"/><path d="M2814,454 C2891,470 2970,478 3047,499" stroke="#8a6a48" stroke-opacity="0.10" stroke-width="2.6"/><path d="M2754,451 C2941,486 3127,522 3313,560" stroke="#9c7a55" stroke-opacity="0.04" stroke-width="2.0"/><path d="M2462,410 C2569,426 2676,447 2782,472" stroke="#7e6044" stroke-opacity="0.10" stroke-width="2.0"/><path d="M2325,389 C2492,424 2661,451 2828,487" stroke="#8a6a48" stroke-opacity="0.10" stroke-width="2.5"/><path d="M2739,483 C2813,496 2885,517 2959,526" stroke="#7e6044" stroke-opacity="0.09" stroke-width="2.4"/><path d="M2910,527 C2972,542 3034,555 3098,564" stroke="#7e6044" stroke-opacity="0.09" stroke-width="2.0"/><path d="M2494,455 C2650,481 2802,521 2957,545" stroke="#f4e2c4" stroke-opacity="0.07" stroke-width="2.1"/><path d="M2878,538 C2979,552 3078,573 3177,596" stroke="#f4e2c4" stroke-opacity="0.06" stroke-width="2.5"/><path d="M2836,540 C2898,547 2959,560 3020,576" stroke="#9c7a55" stroke-opacity="0.04" stroke-width="2.3"/><path d="M2700,516 C2842,545 2985,568 3126,599" stroke="#8a6a48" stroke-opacity="0.05" stroke-width="1.7"/><path d="M2910,568 C2977,585 3046,600 3115,608" stroke="#8a6a48" stroke-opacity="0.07" stroke-width="1.9"/><path d="M2635,522 C2792,547 2947,581 3102,613" stroke="#9c7a55" stroke-opacity="0.05" stroke-width="2.2"/><path d="M2471,505 C2614,534 2759,558 2902,588" stroke="#9c7a55" stroke-opacity="0.08" stroke-width="1.6"/><path d="M2508,520 C2660,546 2811,578 2963,608" stroke="#7e6044" stroke-opacity="0.08" stroke-width="1.5"/><path d="M2700,569 C2763,585 2828,596 2893,607" stroke="#7e6044" stroke-opacity="0.04" stroke-width="1.4"/><path d="M2792,597 C2897,619 3001,641 3107,658" stroke="#f4e2c4" stroke-opacity="0.09" stroke-width="2.1"/><path d="M2478,538 C2536,547 2593,557 2650,571" stroke="#7e6044" stroke-opacity="0.05" stroke-width="1.5"/><path d="M2596,574 C2699,594 2801,619 2905,635" stroke="#9c7a55" stroke-opacity="0.03" stroke-width="2.0"/><path d="M2633,593 C2694,608 2756,618 2818,629" stroke="#f4e2c4" stroke-opacity="0.06" stroke-width="0.8"/><path d="M2554,585 C2625,596 2694,616 2765,626" stroke="#8a6a48" stroke-opacity="0.07" stroke-width="2.1"/><path d="M2311,546 C2477,582 2644,610 2810,643" stroke="#7e6044" stroke-opacity="0.04" stroke-width="2.1"/><path d="M2350,561 C2489,592 2629,617 2769,642" stroke="#7e6044" stroke-opacity="0.10" stroke-width="2.0"/><path d="M2427,584 C2524,601 2621,621 2717,640" stroke="#f4e2c4" stroke-opacity="0.04" stroke-width="1.8"/><path d="M2518,617 C2585,627 2651,642 2717,656" stroke="#7e6044" stroke-opacity="0.10" stroke-width="1.1"/><path d="M2441,612 C2560,639 2681,652 2800,681" stroke="#8a6a48" stroke-opacity="0.07" stroke-width="2.4"/><path d="M2722,672 C2818,687 2914,706 3008,728" stroke="#7e6044" stroke-opacity="0.08" stroke-width="1.9"/><path d="M2670,675 C2728,688 2785,699 2843,709" stroke="#8a6a48" stroke-opacity="0.03" stroke-width="0.9"/><path d="M2797,701 C2884,713 2968,740 3055,751" stroke="#8a6a48" stroke-opacity="0.07" stroke-width="1.3"/><path d="M2800,713 C2943,735 3083,767 3224,795" stroke="#7e6044" stroke-opacity="0.05" stroke-width="0.9"/><path d="M2650,697 C2773,722 2895,748 3018,769" stroke="#f4e2c4" stroke-opacity="0.04" stroke-width="2.1"/><path d="M2301,641 C2478,673 2653,713 2830,744" stroke="#f4e2c4" stroke-opacity="0.07" stroke-width="1.1"/><path d="M2736,732 C2856,750 2973,784 3094,801" stroke="#9c7a55" stroke-opacity="0.04" stroke-width="1.4"/><path d="M2849,766 C2967,791 3086,812 3205,835" stroke="#f4e2c4" stroke-opacity="0.05" stroke-width="1.1"/><path d="M2471,699 C2572,714 2670,739 2770,757" stroke="#7e6044" stroke-opacity="0.08" stroke-width="0.9"/><path d="M2608,730 C2703,748 2798,772 2894,785" stroke="#f4e2c4" stroke-opacity="0.08" stroke-width="1.6"/><path d="M2712,761 C2852,793 2994,813 3135,843" stroke="#9c7a55" stroke-opacity="0.09" stroke-width="2.1"/><path d="M2467,722 C2632,757 2800,781 2964,819" stroke="#8a6a48" stroke-opacity="0.09" stroke-width="1.9"/><path d="M2423,724 C2545,745 2665,775 2787,795" stroke="#9c7a55" stroke-opacity="0.10" stroke-width="1.9"/><path d="M2579,768 C2760,809 2944,837 3126,875" stroke="#f4e2c4" stroke-opacity="0.07" stroke-width="2.0"/><path d="M2841,826 C2964,856 3089,875 3212,899" stroke="#9c7a55" stroke-opacity="0.09" stroke-width="1.4"/><path d="M2730,808 C2892,839 3054,868 3216,903" stroke="#8a6a48" stroke-opacity="0.06" stroke-width="1.4"/><path d="M2709,815 C2864,846 3019,880 3176,906" stroke="#f4e2c4" stroke-opacity="0.04" stroke-width="1.0"/><path d="M2476,784 C2576,806 2678,819 2777,842" stroke="#9c7a55" stroke-opacity="0.04" stroke-width="0.9"/><path d="M2485,794 C2661,825 2836,861 3012,896" stroke="#9c7a55" stroke-opacity="0.04" stroke-width="1.7"/><path d="M2849,876 C2921,894 2994,904 3067,918" stroke="#f4e2c4" stroke-opacity="0.08" stroke-width="2.6"/><path d="M2564,829 C2653,845 2741,863 2830,881" stroke="#8a6a48" stroke-opacity="0.06" stroke-width="2.2"/><path d="M2424,813 C2587,849 2751,879 2916,908" stroke="#f4e2c4" stroke-opacity="0.08" stroke-width="2.4"/><path d="M2558,846 C2618,855 2678,865 2737,880" stroke="#f4e2c4" stroke-opacity="0.08" stroke-width="1.0"/></g>
<polygon points="2485.0,685.6 2625.5,599.3 2924.2,656.6 2786.7,744.8" fill="url(#gFl)" stroke="none" stroke-width="0" />
<clipPath id="cp18"><path d="M 2485.0,685.6 L 2625.5,599.3 L 2924.2,656.6 L 2786.7,744.8 Z"/></clipPath>
<g clip-path="url(#cp18)" fill="none"><path d="M2393,143 C2563,228 2736,303 2907,383" stroke="#9c7a55" stroke-opacity="0.09" stroke-width="1.9"/><path d="M2820,353 C2884,388 2950,420 3019,446" stroke="#7e6044" stroke-opacity="0.10" stroke-width="1.6"/><path d="M2659,282 C2799,347 2938,410 3076,477" stroke="#7e6044" stroke-opacity="0.06" stroke-width="2.2"/><path d="M2274,122 C2474,214 2673,308 2873,402" stroke="#f4e2c4" stroke-opacity="0.10" stroke-width="1.9"/><path d="M2459,214 C2627,293 2798,369 2966,451" stroke="#8a6a48" stroke-opacity="0.13" stroke-width="2.2"/><path d="M2801,385 C3005,474 3201,578 3405,667" stroke="#9c7a55" stroke-opacity="0.11" stroke-width="2.0"/><path d="M2802,390 C2900,431 2997,474 3090,524" stroke="#f4e2c4" stroke-opacity="0.12" stroke-width="2.2"/><path d="M2391,215 C2569,296 2743,384 2923,462" stroke="#7e6044" stroke-opacity="0.06" stroke-width="1.5"/><path d="M2389,222 C2478,265 2569,304 2658,348" stroke="#8a6a48" stroke-opacity="0.07" stroke-width="1.5"/><path d="M2578,324 C2756,411 2939,490 3118,576" stroke="#7e6044" stroke-opacity="0.12" stroke-width="2.2"/><path d="M2335,216 C2474,275 2609,345 2748,408" stroke="#8a6a48" stroke-opacity="0.12" stroke-width="2.2"/><path d="M2510,303 C2711,396 2911,492 3113,584" stroke="#9c7a55" stroke-opacity="0.09" stroke-width="1.5"/><path d="M2215,184 C2415,280 2617,373 2818,466" stroke="#8a6a48" stroke-opacity="0.13" stroke-width="1.9"/><path d="M2611,376 C2738,441 2870,495 2998,557" stroke="#f4e2c4" stroke-opacity="0.07" stroke-width="1.3"/><path d="M2450,312 C2643,406 2840,491 3034,584" stroke="#f4e2c4" stroke-opacity="0.13" stroke-width="0.9"/><path d="M2609,391 C2704,437 2801,482 2898,525" stroke="#f4e2c4" stroke-opacity="0.09" stroke-width="2.1"/><path d="M2810,492 C2970,568 3132,638 3291,716" stroke="#f4e2c4" stroke-opacity="0.11" stroke-width="2.3"/><path d="M2404,321 C2515,378 2628,431 2743,480" stroke="#7e6044" stroke-opacity="0.10" stroke-width="0.9"/><path d="M2663,453 C2779,508 2897,559 3012,616" stroke="#8a6a48" stroke-opacity="0.07" stroke-width="1.0"/><path d="M2600,425 C2789,511 2974,606 3165,689" stroke="#8a6a48" stroke-opacity="0.04" stroke-width="1.7"/><path d="M2322,311 C2437,359 2546,419 2660,468" stroke="#8a6a48" stroke-opacity="0.09" stroke-width="2.4"/><path d="M2407,360 C2512,412 2617,464 2725,509" stroke="#f4e2c4" stroke-opacity="0.08" stroke-width="1.3"/><path d="M2224,287 C2415,378 2609,464 2800,556" stroke="#8a6a48" stroke-opacity="0.06" stroke-width="1.5"/><path d="M2442,397 C2651,499 2864,593 3075,692" stroke="#7e6044" stroke-opacity="0.10" stroke-width="1.9"/><path d="M2941,633 C3029,668 3109,717 3196,752" stroke="#7e6044" stroke-opacity="0.12" stroke-width="1.5"/><path d="M2239,317 C2443,415 2651,505 2855,604" stroke="#7e6044" stroke-opacity="0.05" stroke-width="2.5"/><path d="M2613,499 C2706,539 2799,581 2889,628" stroke="#8a6a48" stroke-opacity="0.09" stroke-width="0.8"/><path d="M2427,424 C2586,500 2745,575 2906,647" stroke="#f4e2c4" stroke-opacity="0.05" stroke-width="1.1"/><path d="M2711,571 C2820,618 2925,677 3035,722" stroke="#8a6a48" stroke-opacity="0.07" stroke-width="2.6"/><path d="M2507,489 C2719,585 2930,684 3140,785" stroke="#9c7a55" stroke-opacity="0.10" stroke-width="1.9"/><path d="M2704,583 C2897,668 3085,764 3278,851" stroke="#f4e2c4" stroke-opacity="0.04" stroke-width="1.4"/><path d="M2755,622 C2873,671 2986,729 3102,783" stroke="#7e6044" stroke-opacity="0.09" stroke-width="2.0"/><path d="M2843,666 C2927,700 3004,747 3088,781" stroke="#f4e2c4" stroke-opacity="0.07" stroke-width="2.4"/><path d="M2614,576 C2814,666 3012,759 3209,854" stroke="#8a6a48" stroke-opacity="0.12" stroke-width="2.1"/><path d="M2474,523 C2630,600 2787,675 2948,744" stroke="#f4e2c4" stroke-opacity="0.12" stroke-width="2.2"/><path d="M2654,613 C2796,683 2939,751 3085,814" stroke="#7e6044" stroke-opacity="0.12" stroke-width="1.6"/><path d="M2268,440 C2361,490 2457,534 2554,574" stroke="#f4e2c4" stroke-opacity="0.13" stroke-width="2.3"/><path d="M2496,562 C2625,619 2751,684 2880,741" stroke="#8a6a48" stroke-opacity="0.10" stroke-width="2.2"/><path d="M2192,431 C2396,521 2597,618 2799,714" stroke="#f4e2c4" stroke-opacity="0.12" stroke-width="1.0"/><path d="M2697,674 C2902,774 3112,864 3318,963" stroke="#9c7a55" stroke-opacity="0.11" stroke-width="1.5"/><path d="M2253,475 C2445,570 2639,660 2835,747" stroke="#8a6a48" stroke-opacity="0.07" stroke-width="1.0"/><path d="M2792,737 C2908,786 3022,839 3134,896" stroke="#7e6044" stroke-opacity="0.11" stroke-width="1.6"/><path d="M2688,696 C2889,785 3086,880 3284,974" stroke="#f4e2c4" stroke-opacity="0.11" stroke-width="0.9"/><path d="M2394,569 C2478,612 2566,646 2650,688" stroke="#f4e2c4" stroke-opacity="0.09" stroke-width="2.5"/><path d="M2242,515 C2441,614 2643,708 2847,797" stroke="#8a6a48" stroke-opacity="0.08" stroke-width="1.8"/><path d="M2405,592 C2603,684 2802,774 2998,868" stroke="#7e6044" stroke-opacity="0.13" stroke-width="1.4"/><path d="M2614,703 C2740,758 2863,820 2988,877" stroke="#8a6a48" stroke-opacity="0.07" stroke-width="0.8"/><path d="M2726,768 C2832,814 2938,861 3041,915" stroke="#7e6044" stroke-opacity="0.10" stroke-width="1.2"/><path d="M2186,519 C2388,610 2590,703 2790,801" stroke="#9c7a55" stroke-opacity="0.08" stroke-width="2.6"/><path d="M2470,669 C2532,704 2598,729 2663,759" stroke="#7e6044" stroke-opacity="0.07" stroke-width="2.5"/><path d="M2657,768 C2752,818 2853,855 2949,904" stroke="#f4e2c4" stroke-opacity="0.05" stroke-width="2.5"/><path d="M2229,574 C2426,665 2625,754 2820,850" stroke="#f4e2c4" stroke-opacity="0.05" stroke-width="1.7"/><path d="M2129,533 C2280,598 2426,672 2575,741" stroke="#7e6044" stroke-opacity="0.13" stroke-width="0.9"/><path d="M2404,674 C2539,740 2675,804 2813,865" stroke="#9c7a55" stroke-opacity="0.11" stroke-width="1.4"/><path d="M2298,636 C2424,696 2549,760 2679,813" stroke="#f4e2c4" stroke-opacity="0.04" stroke-width="2.6"/><path d="M2208,602 C2344,668 2482,730 2619,793" stroke="#9c7a55" stroke-opacity="0.12" stroke-width="0.9"/><path d="M2097,560 C2247,629 2398,698 2547,770" stroke="#9c7a55" stroke-opacity="0.13" stroke-width="2.1"/><path d="M2320,678 C2452,736 2580,806 2713,862" stroke="#9c7a55" stroke-opacity="0.08" stroke-width="2.2"/><path d="M2530,783 C2736,883 2944,978 3152,1073" stroke="#9c7a55" stroke-opacity="0.04" stroke-width="1.0"/><path d="M2724,880 C2793,912 2863,943 2931,977" stroke="#7e6044" stroke-opacity="0.07" stroke-width="2.1"/><path d="M2443,763 C2608,842 2777,914 2941,995" stroke="#9c7a55" stroke-opacity="0.04" stroke-width="2.6"/><path d="M2487,792 C2564,822 2637,859 2710,896" stroke="#f4e2c4" stroke-opacity="0.12" stroke-width="2.0"/><path d="M2597,854 C2759,934 2926,1002 3088,1083" stroke="#8a6a48" stroke-opacity="0.08" stroke-width="1.2"/><path d="M2522,833 C2648,894 2778,947 2903,1010" stroke="#9c7a55" stroke-opacity="0.10" stroke-width="1.7"/><path d="M2558,857 C2658,900 2755,950 2854,995" stroke="#7e6044" stroke-opacity="0.07" stroke-width="1.2"/><path d="M2444,811 C2642,902 2839,998 3038,1088" stroke="#8a6a48" stroke-opacity="0.11" stroke-width="1.9"/><path d="M2524,857 C2715,943 2905,1029 3092,1123" stroke="#9c7a55" stroke-opacity="0.09" stroke-width="1.0"/><path d="M2503,857 C2677,940 2851,1024 3028,1101" stroke="#7e6044" stroke-opacity="0.08" stroke-width="1.6"/><path d="M2109,685 C2253,758 2403,817 2547,889" stroke="#7e6044" stroke-opacity="0.12" stroke-width="1.9"/><path d="M2068,681 C2249,766 2430,850 2611,935" stroke="#f4e2c4" stroke-opacity="0.05" stroke-width="2.4"/><path d="M2350,818 C2458,870 2567,920 2676,970" stroke="#7e6044" stroke-opacity="0.06" stroke-width="1.7"/><path d="M2234,771 C2413,855 2591,942 2772,1021" stroke="#8a6a48" stroke-opacity="0.07" stroke-width="2.4"/><path d="M2717,1007 C2834,1061 2949,1118 3067,1170" stroke="#8a6a48" stroke-opacity="0.06" stroke-width="1.2"/><path d="M2602,971 C2681,1007 2758,1045 2837,1080" stroke="#7e6044" stroke-opacity="0.08" stroke-width="2.3"/><path d="M2145,762 C2235,799 2321,843 2409,885" stroke="#f4e2c4" stroke-opacity="0.05" stroke-width="2.1"/><path d="M2502,939 C2574,968 2642,1004 2712,1036" stroke="#7e6044" stroke-opacity="0.04" stroke-width="1.9"/><path d="M2300,860 C2382,903 2469,937 2552,978" stroke="#8a6a48" stroke-opacity="0.07" stroke-width="1.2"/><path d="M2217,824 C2313,864 2405,913 2500,956" stroke="#7e6044" stroke-opacity="0.10" stroke-width="1.9"/></g>
<path d="M 2321.5,779.0 C 2356.5,757.2 2399.2,722.8 2399.2,676.8" fill="none" stroke="#1a1208" stroke-width="1.45" />
<path d="M 3008.5,619.7 C 3008.5,658.5 3051.9,696.5 3087.5,706.0" fill="none" stroke="#1a1208" stroke-width="1.45" />
<path d="M 2789.6,752.2 C 2790.7,812.4 2797.3,858.1 2811.5,872.5" fill="none" stroke="#1a1208" stroke-width="1.45" />
<polygon points="2399.2,676.8 2619.0,543.7 3008.5,619.7 2789.6,752.2" fill="none" stroke="#1a1208" stroke-width="1.45" />
<polygon points="2424.4,675.3 2625.5,552.5 2983.4,622.0 2786.7,744.8" fill="none" stroke="#1a1208" stroke-width="1.25" />
<line x1="2399.2" y1="676.8" x2="2424.4" y2="675.3" stroke="#1a1208" stroke-width="1.25"/>
<line x1="2619.0" y1="543.7" x2="2625.5" y2="552.5" stroke="#1a1208" stroke-width="1.25"/>
<line x1="3008.5" y1="619.7" x2="2983.4" y2="622.0" stroke="#1a1208" stroke-width="1.25"/>
<line x1="2789.6" y1="752.2" x2="2786.7" y2="744.8" stroke="#1a1208" stroke-width="1.25"/>
<line x1="2485.0" y1="685.6" x2="2625.5" y2="599.3" stroke="#1a1208" stroke-width="1.25"/>
<line x1="2625.5" y1="599.3" x2="2924.2" y2="656.6" stroke="#1a1208" stroke-width="1.25"/>
<line x1="2625.5" y1="552.5" x2="2625.5" y2="599.3" stroke="#1a1208" stroke-width="1.25"/>
<path d="M 2321.5,779.0 L 2321.5,919.0 L 2811.5,1012.5 L 3087.5,847.0 L 3087.5,706.0 L 2811.5,872.5" fill="none" stroke="#1a1208" stroke-width="1.45" stroke-linejoin="round"/>
<line x1="2321.5" y1="779.0" x2="2811.5" y2="872.5" stroke="#1a1208" stroke-width="1.45"/>
<line x1="2811.5" y1="872.5" x2="2811.5" y2="1012.5" stroke="#1a1208" stroke-width="1.45"/>
<linearGradient id="cr19" gradientUnits="userSpaceOnUse" x1="1450.9" y1="1735.2" x2="1478.3" y2="1854.0"><stop offset="0" stop-color="#e0c8a6"/><stop offset="0.3" stop-color="#ead5b5"/><stop offset="0.6" stop-color="#e0c8a6"/><stop offset="1" stop-color="#d5bd9c"/></linearGradient>
<linearGradient id="cl19" gradientUnits="userSpaceOnUse" x1="1450.9" y1="1735.2" x2="1472.0" y2="1854.0"><stop offset="0" stop-color="#c3a98a"/><stop offset="0.5" stop-color="#bea586"/><stop offset="1" stop-color="#baa183"/></linearGradient>
<polygon points="895.0,1742.5 1472.0,1854.0 1472.0,1995.0 895.0,1884.0" fill="url(#gL)" stroke="none" stroke-width="0" />
<clipPath id="cp20"><path d="M 895.0,1742.5 L 1472.0,1854.0 L 1472.0,1995.0 L 895.0,1884.0 Z"/></clipPath>
<g clip-path="url(#cp20)" fill="none"><path d="M833,1333 C994,1365 1154,1399 1315,1427" stroke="#7e6044" stroke-opacity="0.07" stroke-width="2.4"/><path d="M927,1359 C1024,1373 1118,1401 1214,1415" stroke="#9c7a55" stroke-opacity="0.04" stroke-width="1.3"/><path d="M828,1352 C942,1372 1056,1394 1169,1418" stroke="#f4e2c4" stroke-opacity="0.03" stroke-width="2.4"/><path d="M726,1346 C999,1404 1275,1451 1549,1506" stroke="#9c7a55" stroke-opacity="0.06" stroke-width="1.5"/><path d="M751,1354 C988,1404 1225,1452 1464,1492" stroke="#8a6a48" stroke-opacity="0.09" stroke-width="1.3"/><path d="M1218,1458 C1326,1476 1433,1495 1540,1520" stroke="#f4e2c4" stroke-opacity="0.07" stroke-width="2.4"/><path d="M1366,1495 C1492,1519 1618,1542 1743,1569" stroke="#8a6a48" stroke-opacity="0.10" stroke-width="1.0"/><path d="M669,1367 C855,1398 1037,1442 1222,1475" stroke="#9c7a55" stroke-opacity="0.06" stroke-width="1.9"/><path d="M976,1434 C1145,1473 1315,1499 1484,1533" stroke="#8a6a48" stroke-opacity="0.08" stroke-width="1.7"/><path d="M837,1415 C1097,1459 1355,1510 1613,1566" stroke="#8a6a48" stroke-opacity="0.08" stroke-width="1.5"/><path d="M1396,1536 C1525,1565 1656,1584 1785,1611" stroke="#f4e2c4" stroke-opacity="0.06" stroke-width="1.2"/><path d="M1357,1536 C1549,1570 1739,1608 1930,1647" stroke="#9c7a55" stroke-opacity="0.03" stroke-width="1.6"/><path d="M1372,1554 C1494,1573 1613,1600 1733,1624" stroke="#8a6a48" stroke-opacity="0.03" stroke-width="2.0"/><path d="M913,1466 C1078,1498 1244,1526 1408,1563" stroke="#8a6a48" stroke-opacity="0.06" stroke-width="0.9"/><path d="M841,1466 C1018,1495 1194,1533 1370,1569" stroke="#9c7a55" stroke-opacity="0.06" stroke-width="2.4"/><path d="M1029,1515 C1185,1549 1343,1575 1499,1606" stroke="#7e6044" stroke-opacity="0.08" stroke-width="2.4"/><path d="M893,1497 C996,1517 1099,1535 1202,1557" stroke="#7e6044" stroke-opacity="0.03" stroke-width="1.7"/><path d="M1080,1536 C1284,1570 1487,1610 1690,1654" stroke="#9c7a55" stroke-opacity="0.08" stroke-width="1.3"/><path d="M961,1530 C1146,1564 1330,1605 1516,1638" stroke="#9c7a55" stroke-opacity="0.07" stroke-width="1.9"/><path d="M827,1510 C1110,1563 1391,1623 1674,1675" stroke="#7e6044" stroke-opacity="0.04" stroke-width="1.7"/><path d="M546,1464 C721,1493 895,1526 1067,1566" stroke="#9c7a55" stroke-opacity="0.08" stroke-width="1.2"/><path d="M524,1465 C779,1519 1035,1566 1291,1614" stroke="#f4e2c4" stroke-opacity="0.05" stroke-width="1.1"/><path d="M1161,1601 C1301,1630 1440,1657 1580,1683" stroke="#9c7a55" stroke-opacity="0.10" stroke-width="2.4"/><path d="M1117,1605 C1408,1667 1701,1715 1992,1775" stroke="#7e6044" stroke-opacity="0.05" stroke-width="2.4"/><path d="M1013,1595 C1131,1620 1250,1639 1369,1664" stroke="#7e6044" stroke-opacity="0.09" stroke-width="1.3"/><path d="M624,1525 C838,1571 1052,1613 1268,1650" stroke="#f4e2c4" stroke-opacity="0.04" stroke-width="1.6"/><path d="M786,1564 C1071,1623 1358,1673 1643,1730" stroke="#f4e2c4" stroke-opacity="0.06" stroke-width="1.6"/><path d="M595,1539 C764,1576 935,1603 1104,1638" stroke="#9c7a55" stroke-opacity="0.04" stroke-width="0.8"/><path d="M913,1606 C1156,1651 1399,1695 1641,1748" stroke="#7e6044" stroke-opacity="0.05" stroke-width="1.0"/><path d="M651,1568 C872,1608 1092,1655 1313,1697" stroke="#f4e2c4" stroke-opacity="0.05" stroke-width="1.7"/><path d="M921,1626 C1192,1679 1464,1730 1734,1784" stroke="#7e6044" stroke-opacity="0.07" stroke-width="2.5"/><path d="M1432,1740 C1570,1770 1710,1792 1849,1821" stroke="#f4e2c4" stroke-opacity="0.05" stroke-width="2.3"/><path d="M888,1637 C1064,1672 1241,1705 1418,1740" stroke="#7e6044" stroke-opacity="0.09" stroke-width="1.2"/><path d="M1016,1678 C1180,1706 1341,1744 1504,1773" stroke="#f4e2c4" stroke-opacity="0.04" stroke-width="2.3"/><path d="M698,1627 C905,1664 1110,1709 1316,1747" stroke="#f4e2c4" stroke-opacity="0.04" stroke-width="1.6"/><path d="M719,1634 C947,1676 1173,1726 1401,1767" stroke="#8a6a48" stroke-opacity="0.06" stroke-width="1.8"/><path d="M845,1669 C1069,1712 1295,1751 1519,1800" stroke="#7e6044" stroke-opacity="0.08" stroke-width="2.1"/><path d="M1057,1718 C1197,1746 1337,1773 1477,1800" stroke="#f4e2c4" stroke-opacity="0.06" stroke-width="1.0"/><path d="M789,1677 C1054,1733 1320,1781 1586,1832" stroke="#8a6a48" stroke-opacity="0.04" stroke-width="2.0"/><path d="M753,1681 C887,1707 1022,1728 1155,1760" stroke="#f4e2c4" stroke-opacity="0.10" stroke-width="2.2"/><path d="M613,1664 C757,1692 900,1724 1045,1748" stroke="#8a6a48" stroke-opacity="0.06" stroke-width="2.4"/><path d="M713,1692 C1007,1752 1303,1803 1597,1863" stroke="#9c7a55" stroke-opacity="0.05" stroke-width="1.7"/><path d="M970,1751 C1229,1797 1486,1849 1744,1901" stroke="#f4e2c4" stroke-opacity="0.05" stroke-width="1.1"/><path d="M705,1709 C915,1753 1127,1786 1337,1832" stroke="#7e6044" stroke-opacity="0.03" stroke-width="1.0"/><path d="M585,1690 C707,1711 827,1737 948,1761" stroke="#9c7a55" stroke-opacity="0.07" stroke-width="1.9"/><path d="M726,1733 C989,1785 1253,1830 1515,1887" stroke="#8a6a48" stroke-opacity="0.05" stroke-width="2.5"/><path d="M843,1763 C1094,1809 1343,1861 1594,1909" stroke="#9c7a55" stroke-opacity="0.08" stroke-width="1.2"/><path d="M782,1758 C1077,1816 1372,1870 1666,1929" stroke="#9c7a55" stroke-opacity="0.09" stroke-width="1.5"/><path d="M733,1754 C925,1790 1118,1826 1310,1867" stroke="#9c7a55" stroke-opacity="0.05" stroke-width="2.0"/><path d="M1150,1851 C1265,1879 1382,1891 1496,1918" stroke="#9c7a55" stroke-opacity="0.04" stroke-width="1.0"/><path d="M1018,1834 C1237,1875 1456,1924 1676,1962" stroke="#7e6044" stroke-opacity="0.09" stroke-width="2.3"/><path d="M814,1805 C936,1833 1059,1850 1181,1876" stroke="#9c7a55" stroke-opacity="0.09" stroke-width="2.6"/><path d="M1057,1858 C1236,1887 1413,1925 1591,1961" stroke="#8a6a48" stroke-opacity="0.03" stroke-width="2.0"/><path d="M1065,1871 C1233,1902 1400,1939 1568,1969" stroke="#f4e2c4" stroke-opacity="0.10" stroke-width="1.6"/><path d="M861,1836 C966,1861 1073,1875 1179,1898" stroke="#f4e2c4" stroke-opacity="0.07" stroke-width="0.9"/><path d="M1132,1898 C1393,1946 1651,2000 1911,2050" stroke="#f4e2c4" stroke-opacity="0.07" stroke-width="2.2"/><path d="M545,1798 C697,1830 851,1857 1004,1887" stroke="#9c7a55" stroke-opacity="0.04" stroke-width="2.1"/><path d="M878,1871 C1168,1932 1459,1987 1751,2041" stroke="#8a6a48" stroke-opacity="0.04" stroke-width="0.9"/><path d="M474,1796 C686,1839 900,1876 1113,1920" stroke="#7e6044" stroke-opacity="0.10" stroke-width="2.1"/><path d="M674,1845 C853,1879 1032,1914 1211,1950" stroke="#9c7a55" stroke-opacity="0.04" stroke-width="2.5"/><path d="M1234,1968 C1414,2007 1596,2038 1777,2074" stroke="#f4e2c4" stroke-opacity="0.06" stroke-width="2.4"/><path d="M542,1841 C664,1861 786,1885 907,1912" stroke="#f4e2c4" stroke-opacity="0.05" stroke-width="1.5"/><path d="M841,1904 C951,1923 1059,1949 1169,1968" stroke="#8a6a48" stroke-opacity="0.07" stroke-width="1.5"/><path d="M891,1931 C1082,1963 1271,2007 1461,2042" stroke="#8a6a48" stroke-opacity="0.06" stroke-width="1.4"/><path d="M1050,1966 C1206,2000 1363,2028 1519,2057" stroke="#7e6044" stroke-opacity="0.07" stroke-width="2.1"/><path d="M338,1839 C594,1887 850,1936 1105,1988" stroke="#9c7a55" stroke-opacity="0.04" stroke-width="2.4"/><path d="M1157,2004 C1455,2064 1755,2118 2053,2178" stroke="#8a6a48" stroke-opacity="0.06" stroke-width="0.8"/><path d="M1343,2049 C1452,2074 1563,2091 1673,2113" stroke="#9c7a55" stroke-opacity="0.10" stroke-width="1.4"/><path d="M1321,2059 C1507,2098 1695,2126 1880,2168" stroke="#f4e2c4" stroke-opacity="0.08" stroke-width="1.1"/><path d="M921,1988 C1056,2013 1191,2046 1327,2067" stroke="#7e6044" stroke-opacity="0.07" stroke-width="1.7"/><path d="M605,1937 C733,1958 860,1988 987,2012" stroke="#9c7a55" stroke-opacity="0.08" stroke-width="1.6"/><path d="M1249,2074 C1425,2115 1604,2142 1781,2178" stroke="#7e6044" stroke-opacity="0.04" stroke-width="2.1"/><path d="M339,1903 C621,1962 903,2017 1187,2067" stroke="#8a6a48" stroke-opacity="0.04" stroke-width="2.5"/><path d="M736,1989 C893,2020 1050,2048 1206,2080" stroke="#9c7a55" stroke-opacity="0.10" stroke-width="1.7"/><path d="M1007,2051 C1117,2067 1225,2090 1333,2114" stroke="#f4e2c4" stroke-opacity="0.06" stroke-width="1.1"/><path d="M1157,2085 C1411,2133 1664,2185 1917,2233" stroke="#f4e2c4" stroke-opacity="0.04" stroke-width="0.8"/><path d="M429,1959 C729,2021 1031,2074 1332,2135" stroke="#f4e2c4" stroke-opacity="0.09" stroke-width="0.8"/><path d="M651,2007 C793,2034 936,2057 1078,2090" stroke="#f4e2c4" stroke-opacity="0.09" stroke-width="2.0"/><path d="M1090,2101 C1310,2139 1528,2187 1747,2229" stroke="#7e6044" stroke-opacity="0.10" stroke-width="2.0"/><path d="M1054,2110 C1248,2144 1441,2182 1634,2222" stroke="#f4e2c4" stroke-opacity="0.09" stroke-width="1.8"/><path d="M1114,2132 C1397,2186 1680,2238 1961,2297" stroke="#8a6a48" stroke-opacity="0.06" stroke-width="1.0"/><path d="M1068,2129 C1268,2172 1468,2212 1670,2246" stroke="#7e6044" stroke-opacity="0.06" stroke-width="1.2"/><path d="M815,2084 C949,2113 1086,2131 1219,2163" stroke="#9c7a55" stroke-opacity="0.06" stroke-width="1.4"/><path d="M916,2119 C1154,2162 1389,2211 1626,2257" stroke="#8a6a48" stroke-opacity="0.10" stroke-width="1.3"/><path d="M452,2036 C738,2091 1024,2146 1310,2203" stroke="#9c7a55" stroke-opacity="0.09" stroke-width="1.5"/><path d="M1181,2183 C1273,2200 1366,2218 1458,2237" stroke="#8a6a48" stroke-opacity="0.03" stroke-width="2.4"/><path d="M1189,2194 C1400,2237 1612,2271 1822,2317" stroke="#f4e2c4" stroke-opacity="0.04" stroke-width="2.2"/><path d="M1356,2243 C1472,2264 1587,2289 1703,2311" stroke="#8a6a48" stroke-opacity="0.04" stroke-width="1.1"/><path d="M467,2073 C632,2106 798,2135 963,2169" stroke="#f4e2c4" stroke-opacity="0.08" stroke-width="1.5"/><path d="M718,2130 C817,2149 916,2164 1013,2187" stroke="#7e6044" stroke-opacity="0.06" stroke-width="1.5"/><path d="M842,2171 C940,2190 1038,2207 1136,2228" stroke="#9c7a55" stroke-opacity="0.06" stroke-width="1.3"/><path d="M1019,2208 C1223,2248 1428,2283 1631,2327" stroke="#8a6a48" stroke-opacity="0.06" stroke-width="1.3"/><path d="M457,2107 C697,2159 937,2205 1178,2247" stroke="#9c7a55" stroke-opacity="0.03" stroke-width="1.2"/><path d="M1132,2252 C1319,2285 1505,2325 1692,2361" stroke="#f4e2c4" stroke-opacity="0.07" stroke-width="1.0"/><path d="M524,2141 C750,2179 974,2234 1200,2272" stroke="#f4e2c4" stroke-opacity="0.04" stroke-width="1.1"/><path d="M1268,2294 C1424,2330 1581,2360 1739,2386" stroke="#f4e2c4" stroke-opacity="0.06" stroke-width="1.6"/><path d="M427,2138 C615,2180 805,2213 995,2248" stroke="#f4e2c4" stroke-opacity="0.04" stroke-width="0.8"/><path d="M792,2221 C907,2241 1021,2267 1136,2287" stroke="#9c7a55" stroke-opacity="0.08" stroke-width="1.9"/><path d="M1197,2313 C1427,2356 1657,2402 1888,2448" stroke="#8a6a48" stroke-opacity="0.08" stroke-width="2.4"/><path d="M1053,2290 C1269,2331 1486,2369 1702,2416" stroke="#f4e2c4" stroke-opacity="0.06" stroke-width="1.6"/><path d="M779,2251 C945,2278 1108,2315 1272,2347" stroke="#f4e2c4" stroke-opacity="0.06" stroke-width="0.9"/><path d="M372,2173 C645,2222 916,2284 1189,2332" stroke="#9c7a55" stroke-opacity="0.05" stroke-width="1.0"/></g>
<polygon points="1472.0,1854.0 1796.0,1659.0 1796.0,1802.0 1472.0,1995.0" fill="url(#gR)" stroke="none" stroke-width="0" />
<clipPath id="cp21"><path d="M 1472.0,1854.0 L 1796.0,1659.0 L 1796.0,1802.0 L 1472.0,1995.0 Z"/></clipPath>
<g clip-path="url(#cp21)" fill="none"><path d="M1472,1557 C1558,1511 1640,1458 1723,1407" stroke="#f4e2c4" stroke-opacity="0.08" stroke-width="1.5"/><path d="M1043,1817 C1147,1761 1245,1695 1346,1635" stroke="#8a6a48" stroke-opacity="0.08" stroke-width="1.7"/><path d="M1644,1467 C1718,1429 1789,1386 1858,1338" stroke="#7e6044" stroke-opacity="0.05" stroke-width="1.3"/><path d="M1220,1735 C1388,1633 1557,1533 1725,1432" stroke="#8a6a48" stroke-opacity="0.09" stroke-width="1.5"/><path d="M1257,1727 C1343,1672 1435,1627 1520,1570" stroke="#f4e2c4" stroke-opacity="0.06" stroke-width="1.9"/><path d="M1338,1687 C1409,1644 1479,1599 1552,1559" stroke="#7e6044" stroke-opacity="0.08" stroke-width="2.4"/><path d="M1264,1745 C1402,1662 1539,1574 1680,1495" stroke="#7e6044" stroke-opacity="0.07" stroke-width="2.1"/><path d="M1248,1761 C1415,1662 1580,1558 1748,1460" stroke="#7e6044" stroke-opacity="0.10" stroke-width="2.1"/><path d="M1276,1750 C1450,1646 1624,1543 1796,1437" stroke="#8a6a48" stroke-opacity="0.03" stroke-width="2.3"/><path d="M1151,1842 C1283,1767 1409,1681 1542,1607" stroke="#8a6a48" stroke-opacity="0.08" stroke-width="1.9"/><path d="M1417,1695 C1602,1584 1784,1470 1971,1362" stroke="#9c7a55" stroke-opacity="0.04" stroke-width="1.0"/><path d="M1180,1848 C1346,1743 1517,1644 1686,1544" stroke="#f4e2c4" stroke-opacity="0.04" stroke-width="1.6"/><path d="M1409,1716 C1541,1642 1669,1561 1798,1482" stroke="#f4e2c4" stroke-opacity="0.09" stroke-width="2.3"/><path d="M1599,1608 C1669,1560 1746,1524 1817,1477" stroke="#9c7a55" stroke-opacity="0.08" stroke-width="2.5"/><path d="M1526,1671 C1684,1577 1841,1483 1998,1388" stroke="#9c7a55" stroke-opacity="0.10" stroke-width="1.3"/><path d="M1327,1801 C1498,1695 1672,1596 1843,1490" stroke="#7e6044" stroke-opacity="0.05" stroke-width="2.2"/><path d="M1147,1913 C1290,1825 1437,1744 1579,1654" stroke="#f4e2c4" stroke-opacity="0.08" stroke-width="0.9"/><path d="M1184,1909 C1307,1833 1429,1755 1557,1685" stroke="#f4e2c4" stroke-opacity="0.09" stroke-width="1.8"/><path d="M1402,1782 C1501,1721 1602,1663 1701,1602" stroke="#7e6044" stroke-opacity="0.05" stroke-width="1.6"/><path d="M1332,1833 C1475,1749 1615,1662 1757,1577" stroke="#f4e2c4" stroke-opacity="0.08" stroke-width="2.0"/><path d="M1131,1971 C1252,1897 1373,1821 1497,1751" stroke="#f4e2c4" stroke-opacity="0.05" stroke-width="0.9"/><path d="M1489,1763 C1586,1711 1675,1646 1771,1594" stroke="#8a6a48" stroke-opacity="0.03" stroke-width="1.8"/><path d="M1495,1773 C1669,1665 1844,1559 2022,1456" stroke="#f4e2c4" stroke-opacity="0.09" stroke-width="1.9"/><path d="M1218,1951 C1399,1841 1581,1731 1764,1622" stroke="#f4e2c4" stroke-opacity="0.06" stroke-width="2.0"/><path d="M1600,1730 C1738,1654 1871,1571 2004,1488" stroke="#7e6044" stroke-opacity="0.08" stroke-width="2.6"/><path d="M1690,1681 C1791,1619 1895,1560 1996,1497" stroke="#7e6044" stroke-opacity="0.03" stroke-width="1.5"/><path d="M1201,1984 C1382,1878 1562,1768 1742,1660" stroke="#9c7a55" stroke-opacity="0.08" stroke-width="1.3"/><path d="M1639,1732 C1774,1645 1916,1572 2051,1485" stroke="#f4e2c4" stroke-opacity="0.03" stroke-width="1.7"/><path d="M1284,1958 C1402,1884 1523,1816 1641,1743" stroke="#f4e2c4" stroke-opacity="0.07" stroke-width="2.0"/><path d="M1450,1866 C1537,1808 1626,1754 1719,1705" stroke="#7e6044" stroke-opacity="0.05" stroke-width="1.0"/><path d="M1468,1874 C1639,1770 1812,1670 1982,1565" stroke="#8a6a48" stroke-opacity="0.03" stroke-width="2.4"/><path d="M1579,1810 C1749,1714 1915,1611 2081,1508" stroke="#7e6044" stroke-opacity="0.08" stroke-width="2.3"/><path d="M1723,1736 C1829,1679 1929,1614 2031,1551" stroke="#8a6a48" stroke-opacity="0.06" stroke-width="2.0"/><path d="M1696,1761 C1812,1692 1925,1619 2042,1553" stroke="#8a6a48" stroke-opacity="0.08" stroke-width="1.5"/><path d="M1583,1843 C1767,1732 1953,1626 2134,1512" stroke="#7e6044" stroke-opacity="0.04" stroke-width="1.4"/><path d="M1439,1943 C1538,1882 1641,1827 1739,1763" stroke="#7e6044" stroke-opacity="0.09" stroke-width="1.4"/><path d="M1374,1992 C1532,1902 1684,1800 1842,1710" stroke="#8a6a48" stroke-opacity="0.09" stroke-width="2.1"/><path d="M1214,2100 C1372,2004 1528,1905 1689,1814" stroke="#8a6a48" stroke-opacity="0.04" stroke-width="2.1"/><path d="M1380,2004 C1489,1939 1596,1873 1705,1809" stroke="#7e6044" stroke-opacity="0.03" stroke-width="1.6"/><path d="M1479,1962 C1608,1882 1741,1807 1870,1727" stroke="#f4e2c4" stroke-opacity="0.09" stroke-width="1.1"/><path d="M1349,2044 C1532,1939 1709,1823 1892,1718" stroke="#f4e2c4" stroke-opacity="0.03" stroke-width="0.9"/><path d="M1545,1943 C1648,1879 1751,1815 1857,1755" stroke="#8a6a48" stroke-opacity="0.08" stroke-width="1.0"/><path d="M1593,1920 C1690,1860 1790,1804 1887,1743" stroke="#8a6a48" stroke-opacity="0.10" stroke-width="1.1"/><path d="M1327,2095 C1502,1991 1675,1881 1852,1780" stroke="#9c7a55" stroke-opacity="0.09" stroke-width="1.7"/><path d="M1656,1904 C1755,1838 1858,1779 1961,1721" stroke="#7e6044" stroke-opacity="0.05" stroke-width="2.5"/><path d="M1718,1882 C1852,1800 1986,1716 2123,1639" stroke="#7e6044" stroke-opacity="0.07" stroke-width="0.9"/><path d="M1641,1934 C1799,1835 1960,1740 2121,1645" stroke="#9c7a55" stroke-opacity="0.04" stroke-width="2.5"/><path d="M1376,2100 C1499,2030 1617,1949 1741,1881" stroke="#8a6a48" stroke-opacity="0.04" stroke-width="1.9"/><path d="M1660,1948 C1743,1905 1819,1852 1899,1805" stroke="#8a6a48" stroke-opacity="0.07" stroke-width="1.6"/><path d="M1569,2005 C1654,1958 1735,1902 1820,1854" stroke="#7e6044" stroke-opacity="0.08" stroke-width="2.4"/><path d="M1351,2146 C1428,2103 1504,2059 1577,2010" stroke="#9c7a55" stroke-opacity="0.10" stroke-width="2.5"/><path d="M1826,1873 C1903,1821 1988,1780 2066,1728" stroke="#8a6a48" stroke-opacity="0.06" stroke-width="2.5"/><path d="M1301,2199 C1455,2103 1613,2011 1769,1918" stroke="#9c7a55" stroke-opacity="0.05" stroke-width="2.4"/><path d="M1848,1879 C1935,1829 2022,1780 2105,1725" stroke="#9c7a55" stroke-opacity="0.06" stroke-width="2.0"/><path d="M1323,2206 C1503,2098 1683,1990 1864,1882" stroke="#9c7a55" stroke-opacity="0.04" stroke-width="1.9"/><path d="M1760,1957 C1851,1907 1938,1852 2026,1797" stroke="#8a6a48" stroke-opacity="0.09" stroke-width="1.3"/><path d="M1459,2152 C1600,2063 1746,1982 1887,1894" stroke="#7e6044" stroke-opacity="0.05" stroke-width="1.2"/><path d="M1544,2110 C1718,2004 1893,1898 2069,1795" stroke="#7e6044" stroke-opacity="0.05" stroke-width="1.1"/><path d="M1837,1941 C1899,1910 1956,1868 2016,1833" stroke="#7e6044" stroke-opacity="0.09" stroke-width="1.2"/><path d="M1514,2149 C1596,2098 1681,2053 1762,2000" stroke="#9c7a55" stroke-opacity="0.06" stroke-width="1.5"/><path d="M1493,2171 C1650,2078 1807,1984 1963,1889" stroke="#8a6a48" stroke-opacity="0.03" stroke-width="2.6"/><path d="M1404,2233 C1500,2171 1598,2113 1698,2056" stroke="#8a6a48" stroke-opacity="0.05" stroke-width="0.9"/><path d="M1841,1977 C1936,1914 2036,1859 2134,1801" stroke="#8a6a48" stroke-opacity="0.06" stroke-width="2.2"/><path d="M1366,2278 C1450,2233 1529,2178 1612,2130" stroke="#7e6044" stroke-opacity="0.10" stroke-width="2.3"/><path d="M1724,2078 C1896,1976 2063,1867 2237,1769" stroke="#9c7a55" stroke-opacity="0.07" stroke-width="2.5"/><path d="M1547,2195 C1652,2132 1758,2069 1863,2005" stroke="#8a6a48" stroke-opacity="0.08" stroke-width="1.3"/><path d="M1859,2009 C1950,1956 2038,1900 2129,1847" stroke="#7e6044" stroke-opacity="0.04" stroke-width="1.3"/><path d="M1686,2123 C1839,2035 1990,1943 2140,1851" stroke="#8a6a48" stroke-opacity="0.08" stroke-width="2.5"/><path d="M1695,2135 C1831,2047 1975,1971 2112,1885" stroke="#f4e2c4" stroke-opacity="0.06" stroke-width="2.1"/><path d="M1759,2107 C1929,2000 2102,1899 2275,1797" stroke="#f4e2c4" stroke-opacity="0.08" stroke-width="2.3"/><path d="M1898,2035 C2003,1978 2104,1914 2205,1850" stroke="#f4e2c4" stroke-opacity="0.04" stroke-width="1.9"/><path d="M1677,2175 C1738,2145 1795,2111 1850,2072" stroke="#8a6a48" stroke-opacity="0.05" stroke-width="1.0"/></g>
<path d="M 895.0,1742.5 C 929.9,1720.8 972.5,1687.5 972.5,1642.5 L 1450.9,1735.2 C 1452.0,1794.6 1458.3,1839.7 1472.0,1854.0 Z" fill="url(#cl19)" stroke="none" stroke-width="0" />
<clipPath id="cp22"><path d="M 895.0,1742.5 C 929.9,1720.8 972.5,1687.5 972.5,1642.5 L 1450.9,1735.2 C 1452.0,1794.6 1458.3,1839.7 1472.0,1854.0 Z"/></clipPath>
<g clip-path="url(#cp22)" fill="none"><path d="M1038,1258 C1247,1303 1457,1343 1668,1380" stroke="#7e6044" stroke-opacity="0.09" stroke-width="1.7"/><path d="M1079,1276 C1241,1310 1405,1337 1567,1370" stroke="#8a6a48" stroke-opacity="0.07" stroke-width="1.4"/><path d="M828,1235 C1020,1271 1211,1306 1401,1346" stroke="#f4e2c4" stroke-opacity="0.06" stroke-width="1.5"/><path d="M918,1262 C1195,1316 1470,1375 1748,1423" stroke="#7e6044" stroke-opacity="0.10" stroke-width="0.8"/><path d="M644,1212 C909,1262 1173,1315 1438,1366" stroke="#8a6a48" stroke-opacity="0.10" stroke-width="0.9"/><path d="M736,1241 C974,1293 1214,1331 1453,1381" stroke="#7e6044" stroke-opacity="0.09" stroke-width="1.3"/><path d="M1249,1346 C1467,1393 1686,1433 1905,1474" stroke="#9c7a55" stroke-opacity="0.07" stroke-width="2.4"/><path d="M1243,1356 C1337,1379 1431,1393 1526,1411" stroke="#7e6044" stroke-opacity="0.08" stroke-width="2.5"/><path d="M1125,1347 C1370,1393 1615,1439 1860,1489" stroke="#7e6044" stroke-opacity="0.08" stroke-width="1.4"/><path d="M655,1267 C894,1319 1136,1359 1376,1407" stroke="#8a6a48" stroke-opacity="0.04" stroke-width="1.6"/><path d="M874,1318 C995,1338 1116,1365 1237,1388" stroke="#9c7a55" stroke-opacity="0.08" stroke-width="0.9"/><path d="M722,1290 C928,1330 1134,1366 1339,1410" stroke="#7e6044" stroke-opacity="0.08" stroke-width="1.6"/><path d="M1189,1392 C1339,1423 1488,1454 1638,1479" stroke="#f4e2c4" stroke-opacity="0.08" stroke-width="1.1"/><path d="M487,1263 C700,1309 914,1351 1129,1388" stroke="#7e6044" stroke-opacity="0.09" stroke-width="1.7"/><path d="M702,1322 C957,1373 1213,1420 1469,1471" stroke="#9c7a55" stroke-opacity="0.10" stroke-width="2.6"/><path d="M716,1330 C967,1374 1217,1423 1466,1476" stroke="#9c7a55" stroke-opacity="0.06" stroke-width="2.3"/><path d="M1250,1446 C1448,1484 1648,1518 1846,1561" stroke="#f4e2c4" stroke-opacity="0.06" stroke-width="1.2"/><path d="M708,1349 C814,1372 922,1388 1028,1411" stroke="#9c7a55" stroke-opacity="0.03" stroke-width="1.1"/><path d="M1480,1505 C1575,1523 1670,1541 1765,1560" stroke="#9c7a55" stroke-opacity="0.05" stroke-width="2.2"/><path d="M961,1411 C1154,1448 1347,1488 1540,1524" stroke="#8a6a48" stroke-opacity="0.10" stroke-width="1.2"/><path d="M1177,1470 C1416,1520 1656,1565 1895,1610" stroke="#9c7a55" stroke-opacity="0.09" stroke-width="1.2"/><path d="M584,1362 C800,1401 1016,1441 1230,1488" stroke="#9c7a55" stroke-opacity="0.09" stroke-width="2.1"/><path d="M467,1349 C765,1412 1066,1462 1364,1523" stroke="#8a6a48" stroke-opacity="0.09" stroke-width="1.7"/><path d="M1309,1516 C1497,1554 1687,1587 1876,1626" stroke="#8a6a48" stroke-opacity="0.04" stroke-width="1.6"/><path d="M595,1392 C865,1441 1135,1493 1404,1549" stroke="#9c7a55" stroke-opacity="0.06" stroke-width="2.1"/><path d="M911,1463 C1181,1513 1450,1568 1719,1620" stroke="#9c7a55" stroke-opacity="0.07" stroke-width="1.3"/><path d="M1309,1544 C1521,1589 1734,1629 1947,1668" stroke="#7e6044" stroke-opacity="0.04" stroke-width="0.8"/><path d="M529,1405 C716,1441 904,1474 1091,1514" stroke="#f4e2c4" stroke-opacity="0.09" stroke-width="1.6"/><path d="M751,1455 C971,1502 1192,1546 1414,1584" stroke="#f4e2c4" stroke-opacity="0.03" stroke-width="2.2"/><path d="M613,1443 C745,1471 879,1494 1012,1520" stroke="#9c7a55" stroke-opacity="0.03" stroke-width="0.9"/><path d="M894,1503 C1005,1523 1116,1547 1227,1567" stroke="#9c7a55" stroke-opacity="0.10" stroke-width="2.2"/><path d="M1057,1539 C1321,1595 1585,1648 1851,1694" stroke="#8a6a48" stroke-opacity="0.06" stroke-width="2.2"/><path d="M471,1437 C760,1498 1052,1548 1341,1606" stroke="#7e6044" stroke-opacity="0.09" stroke-width="1.9"/><path d="M993,1551 C1125,1580 1258,1608 1392,1629" stroke="#8a6a48" stroke-opacity="0.07" stroke-width="2.0"/><path d="M973,1553 C1192,1597 1410,1643 1630,1680" stroke="#8a6a48" stroke-opacity="0.04" stroke-width="1.8"/><path d="M1359,1635 C1465,1658 1572,1675 1677,1697" stroke="#9c7a55" stroke-opacity="0.08" stroke-width="0.9"/><path d="M737,1529 C887,1554 1034,1590 1183,1616" stroke="#f4e2c4" stroke-opacity="0.07" stroke-width="1.9"/><path d="M1131,1613 C1254,1636 1377,1656 1499,1684" stroke="#8a6a48" stroke-opacity="0.09" stroke-width="2.4"/><path d="M691,1533 C815,1555 937,1583 1060,1605" stroke="#7e6044" stroke-opacity="0.06" stroke-width="1.8"/><path d="M1082,1619 C1199,1640 1316,1663 1432,1688" stroke="#8a6a48" stroke-opacity="0.07" stroke-width="1.4"/><path d="M1198,1653 C1471,1712 1747,1757 2021,1813" stroke="#8a6a48" stroke-opacity="0.05" stroke-width="1.4"/><path d="M1345,1688 C1460,1706 1573,1732 1688,1755" stroke="#9c7a55" stroke-opacity="0.08" stroke-width="1.6"/><path d="M888,1616 C1055,1648 1221,1685 1389,1714" stroke="#8a6a48" stroke-opacity="0.05" stroke-width="1.2"/><path d="M1322,1702 C1520,1746 1719,1783 1919,1818" stroke="#8a6a48" stroke-opacity="0.07" stroke-width="2.2"/><path d="M748,1605 C1047,1662 1346,1715 1644,1779" stroke="#8a6a48" stroke-opacity="0.05" stroke-width="2.4"/><path d="M848,1635 C956,1658 1065,1679 1175,1699" stroke="#7e6044" stroke-opacity="0.07" stroke-width="1.7"/><path d="M923,1652 C1078,1684 1232,1715 1388,1742" stroke="#8a6a48" stroke-opacity="0.07" stroke-width="1.4"/><path d="M557,1591 C808,1638 1058,1688 1308,1737" stroke="#9c7a55" stroke-opacity="0.07" stroke-width="2.4"/><path d="M1130,1711 C1261,1739 1394,1759 1525,1787" stroke="#9c7a55" stroke-opacity="0.05" stroke-width="2.5"/><path d="M965,1688 C1130,1718 1296,1748 1460,1784" stroke="#f4e2c4" stroke-opacity="0.06" stroke-width="2.4"/><path d="M494,1611 C760,1657 1024,1715 1289,1765" stroke="#9c7a55" stroke-opacity="0.04" stroke-width="2.0"/><path d="M801,1676 C948,1711 1098,1729 1246,1763" stroke="#f4e2c4" stroke-opacity="0.09" stroke-width="2.6"/><path d="M1209,1767 C1321,1790 1433,1816 1547,1832" stroke="#7e6044" stroke-opacity="0.06" stroke-width="1.0"/><path d="M741,1686 C985,1728 1226,1782 1469,1828" stroke="#7e6044" stroke-opacity="0.05" stroke-width="1.1"/><path d="M1115,1766 C1366,1815 1617,1867 1869,1912" stroke="#f4e2c4" stroke-opacity="0.04" stroke-width="1.7"/><path d="M765,1705 C903,1730 1040,1756 1177,1785" stroke="#9c7a55" stroke-opacity="0.04" stroke-width="1.6"/><path d="M1138,1793 C1367,1831 1594,1878 1821,1925" stroke="#8a6a48" stroke-opacity="0.05" stroke-width="1.9"/><path d="M932,1761 C1054,1785 1176,1814 1300,1833" stroke="#9c7a55" stroke-opacity="0.08" stroke-width="1.2"/><path d="M922,1769 C1082,1796 1239,1837 1399,1862" stroke="#f4e2c4" stroke-opacity="0.09" stroke-width="0.9"/><path d="M613,1716 C815,1752 1016,1793 1217,1833" stroke="#f4e2c4" stroke-opacity="0.04" stroke-width="2.4"/><path d="M969,1791 C1085,1813 1199,1841 1315,1859" stroke="#9c7a55" stroke-opacity="0.07" stroke-width="1.5"/><path d="M569,1727 C678,1746 786,1772 895,1791" stroke="#8a6a48" stroke-opacity="0.08" stroke-width="2.1"/><path d="M630,1745 C756,1764 879,1799 1004,1818" stroke="#9c7a55" stroke-opacity="0.09" stroke-width="1.4"/><path d="M714,1774 C856,1804 999,1830 1142,1857" stroke="#9c7a55" stroke-opacity="0.08" stroke-width="1.6"/><path d="M796,1798 C909,1820 1020,1847 1134,1864" stroke="#9c7a55" stroke-opacity="0.09" stroke-width="1.0"/><path d="M1086,1861 C1183,1880 1278,1903 1375,1917" stroke="#7e6044" stroke-opacity="0.04" stroke-width="1.5"/><path d="M420,1738 C657,1789 896,1829 1133,1877" stroke="#7e6044" stroke-opacity="0.06" stroke-width="1.6"/><path d="M1181,1897 C1359,1929 1536,1960 1712,2000" stroke="#7e6044" stroke-opacity="0.09" stroke-width="1.3"/><path d="M641,1808 C862,1851 1083,1895 1304,1937" stroke="#7e6044" stroke-opacity="0.06" stroke-width="1.2"/><path d="M981,1877 C1252,1934 1526,1978 1797,2036" stroke="#7e6044" stroke-opacity="0.07" stroke-width="2.3"/><path d="M1087,1907 C1213,1932 1338,1961 1465,1980" stroke="#f4e2c4" stroke-opacity="0.07" stroke-width="1.0"/><path d="M613,1831 C764,1856 913,1890 1063,1918" stroke="#8a6a48" stroke-opacity="0.04" stroke-width="1.8"/><path d="M840,1882 C954,1899 1067,1926 1180,1948" stroke="#7e6044" stroke-opacity="0.04" stroke-width="2.2"/><path d="M1064,1930 C1161,1944 1256,1963 1351,1986" stroke="#f4e2c4" stroke-opacity="0.03" stroke-width="2.5"/><path d="M1097,1950 C1360,2007 1626,2049 1890,2104" stroke="#f4e2c4" stroke-opacity="0.09" stroke-width="1.8"/><path d="M446,1827 C640,1869 836,1901 1031,1941" stroke="#9c7a55" stroke-opacity="0.08" stroke-width="1.7"/><path d="M413,1831 C602,1862 789,1900 976,1940" stroke="#9c7a55" stroke-opacity="0.10" stroke-width="2.5"/><path d="M1069,1973 C1193,2001 1317,2026 1442,2046" stroke="#f4e2c4" stroke-opacity="0.06" stroke-width="2.1"/><path d="M762,1917 C1008,1966 1256,2008 1502,2061" stroke="#f4e2c4" stroke-opacity="0.05" stroke-width="2.2"/><path d="M539,1884 C815,1936 1091,1990 1366,2045" stroke="#f4e2c4" stroke-opacity="0.08" stroke-width="1.9"/><path d="M518,1893 C627,1917 737,1939 848,1957" stroke="#7e6044" stroke-opacity="0.06" stroke-width="0.9"/><path d="M1116,2019 C1214,2038 1312,2063 1412,2077" stroke="#7e6044" stroke-opacity="0.09" stroke-width="1.8"/><path d="M416,1888 C601,1922 786,1957 971,1996" stroke="#9c7a55" stroke-opacity="0.04" stroke-width="1.1"/><path d="M502,1920 C730,1962 958,2006 1185,2052" stroke="#9c7a55" stroke-opacity="0.10" stroke-width="1.3"/><path d="M942,2009 C1119,2043 1295,2083 1473,2112" stroke="#f4e2c4" stroke-opacity="0.10" stroke-width="1.3"/><path d="M1319,2090 C1453,2116 1588,2143 1722,2168" stroke="#f4e2c4" stroke-opacity="0.07" stroke-width="1.1"/><path d="M308,1907 C605,1965 903,2021 1200,2080" stroke="#9c7a55" stroke-opacity="0.09" stroke-width="1.4"/><path d="M1148,2082 C1370,2121 1591,2166 1813,2211" stroke="#8a6a48" stroke-opacity="0.04" stroke-width="1.3"/><path d="M1025,2064 C1275,2113 1526,2158 1775,2210" stroke="#f4e2c4" stroke-opacity="0.08" stroke-width="1.0"/><path d="M264,1926 C553,1983 841,2042 1131,2095" stroke="#8a6a48" stroke-opacity="0.08" stroke-width="1.0"/><path d="M813,2043 C1110,2103 1409,2154 1706,2216" stroke="#8a6a48" stroke-opacity="0.03" stroke-width="2.1"/><path d="M451,1978 C699,2032 948,2073 1196,2123" stroke="#7e6044" stroke-opacity="0.07" stroke-width="1.8"/><path d="M1026,2097 C1117,2114 1209,2135 1301,2151" stroke="#9c7a55" stroke-opacity="0.09" stroke-width="2.5"/><path d="M854,2081 C1015,2114 1176,2147 1337,2174" stroke="#8a6a48" stroke-opacity="0.04" stroke-width="1.7"/><path d="M1081,2131 C1240,2167 1402,2190 1561,2225" stroke="#7e6044" stroke-opacity="0.04" stroke-width="2.4"/><path d="M534,2035 C695,2071 860,2095 1022,2130" stroke="#8a6a48" stroke-opacity="0.06" stroke-width="0.8"/><path d="M997,2131 C1267,2185 1539,2233 1809,2289" stroke="#8a6a48" stroke-opacity="0.05" stroke-width="1.1"/><path d="M776,2102 C939,2138 1104,2164 1267,2197" stroke="#f4e2c4" stroke-opacity="0.04" stroke-width="1.2"/><path d="M1104,2175 C1394,2232 1686,2286 1976,2344" stroke="#9c7a55" stroke-opacity="0.09" stroke-width="2.2"/><path d="M995,2161 C1164,2198 1336,2223 1505,2260" stroke="#7e6044" stroke-opacity="0.05" stroke-width="1.9"/><path d="M1220,2209 C1415,2242 1608,2287 1803,2322" stroke="#7e6044" stroke-opacity="0.06" stroke-width="2.2"/><path d="M759,2127 C1030,2177 1302,2228 1572,2285" stroke="#8a6a48" stroke-opacity="0.05" stroke-width="2.6"/></g>
<path d="M 1472.0,1854.0 C 1458.3,1839.7 1452.0,1794.6 1450.9,1735.2 L 1719.3,1572.4 C 1719.3,1611.4 1761.5,1649.8 1796.0,1659.0 Z" fill="url(#cr19)" stroke="none" stroke-width="0" />
<clipPath id="cp23"><path d="M 1472.0,1854.0 C 1458.3,1839.7 1452.0,1794.6 1450.9,1735.2 L 1719.3,1572.4 C 1719.3,1611.4 1761.5,1649.8 1796.0,1659.0 Z"/></clipPath>
<g clip-path="url(#cp23)" fill="none"><path d="M955,1753 C1125,1648 1298,1548 1469,1445" stroke="#8a6a48" stroke-opacity="0.04" stroke-width="0.9"/><path d="M1450,1459 C1520,1411 1597,1375 1667,1329" stroke="#9c7a55" stroke-opacity="0.05" stroke-width="2.3"/><path d="M1264,1584 C1322,1547 1383,1514 1442,1477" stroke="#8a6a48" stroke-opacity="0.06" stroke-width="2.5"/><path d="M1388,1520 C1559,1420 1731,1320 1899,1213" stroke="#8a6a48" stroke-opacity="0.04" stroke-width="1.7"/><path d="M1323,1565 C1405,1512 1492,1468 1573,1415" stroke="#8a6a48" stroke-opacity="0.04" stroke-width="2.1"/><path d="M1299,1598 C1423,1524 1544,1447 1669,1375" stroke="#9c7a55" stroke-opacity="0.08" stroke-width="1.3"/><path d="M1329,1585 C1395,1552 1455,1508 1519,1471" stroke="#8a6a48" stroke-opacity="0.06" stroke-width="1.8"/><path d="M1176,1693 C1310,1615 1444,1537 1575,1454" stroke="#7e6044" stroke-opacity="0.04" stroke-width="1.6"/><path d="M1424,1547 C1513,1500 1598,1445 1683,1391" stroke="#7e6044" stroke-opacity="0.10" stroke-width="1.6"/><path d="M1129,1742 C1221,1686 1316,1635 1406,1575" stroke="#8a6a48" stroke-opacity="0.07" stroke-width="1.4"/><path d="M1502,1526 C1567,1484 1634,1445 1702,1406" stroke="#7e6044" stroke-opacity="0.08" stroke-width="2.2"/><path d="M1193,1724 C1375,1614 1561,1509 1741,1395" stroke="#f4e2c4" stroke-opacity="0.05" stroke-width="0.9"/><path d="M1176,1738 C1286,1672 1398,1609 1506,1539" stroke="#9c7a55" stroke-opacity="0.08" stroke-width="1.7"/><path d="M1210,1737 C1358,1654 1500,1561 1646,1475" stroke="#8a6a48" stroke-opacity="0.04" stroke-width="2.5"/><path d="M1665,1472 C1759,1419 1850,1361 1942,1305" stroke="#8a6a48" stroke-opacity="0.04" stroke-width="2.5"/><path d="M1562,1537 C1627,1501 1690,1464 1751,1424" stroke="#9c7a55" stroke-opacity="0.04" stroke-width="1.4"/><path d="M1151,1797 C1287,1711 1426,1630 1564,1548" stroke="#8a6a48" stroke-opacity="0.10" stroke-width="2.1"/><path d="M1090,1841 C1245,1753 1395,1655 1549,1565" stroke="#7e6044" stroke-opacity="0.08" stroke-width="2.4"/><path d="M1355,1700 C1506,1614 1650,1517 1801,1432" stroke="#f4e2c4" stroke-opacity="0.06" stroke-width="1.7"/><path d="M1427,1664 C1504,1614 1587,1573 1664,1522" stroke="#f4e2c4" stroke-opacity="0.10" stroke-width="1.5"/><path d="M1032,1914 C1218,1807 1400,1693 1585,1582" stroke="#8a6a48" stroke-opacity="0.07" stroke-width="1.7"/><path d="M1582,1590 C1694,1524 1805,1457 1916,1390" stroke="#7e6044" stroke-opacity="0.10" stroke-width="2.4"/><path d="M1232,1813 C1318,1759 1408,1713 1493,1657" stroke="#9c7a55" stroke-opacity="0.09" stroke-width="1.0"/><path d="M1234,1818 C1377,1735 1514,1643 1658,1563" stroke="#f4e2c4" stroke-opacity="0.10" stroke-width="1.0"/><path d="M1467,1689 C1597,1615 1726,1537 1852,1458" stroke="#9c7a55" stroke-opacity="0.07" stroke-width="2.4"/><path d="M1250,1830 C1413,1727 1581,1633 1746,1532" stroke="#8a6a48" stroke-opacity="0.04" stroke-width="1.9"/><path d="M1562,1662 C1660,1604 1755,1543 1854,1487" stroke="#9c7a55" stroke-opacity="0.07" stroke-width="1.5"/><path d="M1460,1728 C1638,1626 1813,1517 1989,1411" stroke="#8a6a48" stroke-opacity="0.09" stroke-width="1.9"/><path d="M1598,1653 C1659,1616 1723,1583 1783,1542" stroke="#7e6044" stroke-opacity="0.04" stroke-width="1.7"/><path d="M1477,1739 C1593,1667 1710,1597 1828,1529" stroke="#7e6044" stroke-opacity="0.06" stroke-width="1.5"/><path d="M1358,1816 C1530,1713 1703,1614 1872,1507" stroke="#8a6a48" stroke-opacity="0.08" stroke-width="1.3"/><path d="M1523,1729 C1609,1673 1698,1621 1787,1571" stroke="#9c7a55" stroke-opacity="0.05" stroke-width="1.5"/><path d="M1490,1766 C1669,1662 1844,1553 2021,1447" stroke="#7e6044" stroke-opacity="0.05" stroke-width="2.3"/><path d="M1341,1862 C1403,1829 1458,1785 1522,1753" stroke="#9c7a55" stroke-opacity="0.07" stroke-width="1.1"/><path d="M1422,1825 C1587,1726 1750,1622 1917,1527" stroke="#9c7a55" stroke-opacity="0.07" stroke-width="1.8"/><path d="M1281,1921 C1399,1851 1515,1779 1633,1709" stroke="#9c7a55" stroke-opacity="0.06" stroke-width="1.3"/><path d="M1545,1777 C1620,1725 1703,1685 1780,1636" stroke="#8a6a48" stroke-opacity="0.08" stroke-width="1.5"/><path d="M1384,1876 C1531,1794 1673,1705 1816,1617" stroke="#9c7a55" stroke-opacity="0.10" stroke-width="2.3"/><path d="M1448,1848 C1513,1814 1575,1774 1638,1734" stroke="#7e6044" stroke-opacity="0.07" stroke-width="2.3"/><path d="M1719,1699 C1808,1639 1902,1586 1996,1532" stroke="#8a6a48" stroke-opacity="0.06" stroke-width="1.8"/><path d="M1304,1958 C1477,1848 1653,1741 1833,1640" stroke="#9c7a55" stroke-opacity="0.07" stroke-width="2.1"/><path d="M1434,1894 C1493,1862 1549,1827 1604,1792" stroke="#7e6044" stroke-opacity="0.08" stroke-width="1.8"/><path d="M1579,1815 C1740,1721 1901,1629 2057,1528" stroke="#7e6044" stroke-opacity="0.10" stroke-width="1.4"/><path d="M1351,1961 C1505,1867 1657,1770 1814,1682" stroke="#7e6044" stroke-opacity="0.03" stroke-width="1.7"/><path d="M1379,1953 C1500,1874 1624,1802 1749,1731" stroke="#7e6044" stroke-opacity="0.07" stroke-width="2.3"/><path d="M1546,1865 C1648,1802 1753,1743 1856,1679" stroke="#9c7a55" stroke-opacity="0.05" stroke-width="2.3"/><path d="M1601,1842 C1753,1746 1906,1653 2063,1565" stroke="#7e6044" stroke-opacity="0.07" stroke-width="2.4"/><path d="M1555,1883 C1676,1805 1804,1737 1926,1660" stroke="#f4e2c4" stroke-opacity="0.05" stroke-width="1.1"/><path d="M1325,2035 C1504,1924 1686,1819 1866,1710" stroke="#f4e2c4" stroke-opacity="0.03" stroke-width="2.2"/><path d="M1413,1985 C1585,1883 1757,1782 1927,1676" stroke="#8a6a48" stroke-opacity="0.06" stroke-width="0.9"/><path d="M1577,1900 C1658,1851 1742,1806 1820,1754" stroke="#7e6044" stroke-opacity="0.03" stroke-width="2.4"/><path d="M1327,2065 C1414,2019 1498,1968 1580,1913" stroke="#7e6044" stroke-opacity="0.07" stroke-width="2.4"/><path d="M1688,1849 C1751,1812 1814,1774 1877,1735" stroke="#8a6a48" stroke-opacity="0.05" stroke-width="1.9"/><path d="M1493,1985 C1600,1917 1712,1858 1819,1789" stroke="#7e6044" stroke-opacity="0.09" stroke-width="1.6"/><path d="M1313,2104 C1438,2022 1566,1947 1696,1874" stroke="#7e6044" stroke-opacity="0.08" stroke-width="1.2"/><path d="M1685,1890 C1855,1786 2025,1681 2198,1582" stroke="#9c7a55" stroke-opacity="0.03" stroke-width="2.0"/><path d="M1313,2124 C1448,2039 1584,1955 1724,1877" stroke="#8a6a48" stroke-opacity="0.09" stroke-width="1.5"/><path d="M1638,1939 C1771,1856 1910,1782 2042,1696" stroke="#9c7a55" stroke-opacity="0.09" stroke-width="1.0"/><path d="M1658,1931 C1720,1893 1780,1852 1845,1819" stroke="#9c7a55" stroke-opacity="0.10" stroke-width="2.2"/><path d="M1399,2096 C1475,2052 1551,2008 1625,1960" stroke="#f4e2c4" stroke-opacity="0.10" stroke-width="2.3"/><path d="M1831,1852 C1909,1801 1989,1752 2071,1709" stroke="#9c7a55" stroke-opacity="0.08" stroke-width="2.2"/><path d="M1404,2121 C1584,2017 1760,1905 1939,1800" stroke="#9c7a55" stroke-opacity="0.10" stroke-width="2.2"/><path d="M1797,1895 C1856,1863 1914,1827 1971,1791" stroke="#f4e2c4" stroke-opacity="0.06" stroke-width="1.0"/><path d="M1614,2017 C1741,1942 1864,1861 1993,1789" stroke="#9c7a55" stroke-opacity="0.10" stroke-width="2.4"/><path d="M1653,1998 C1763,1937 1872,1872 1977,1803" stroke="#8a6a48" stroke-opacity="0.04" stroke-width="2.3"/><path d="M1692,1992 C1780,1938 1872,1890 1958,1832" stroke="#f4e2c4" stroke-opacity="0.07" stroke-width="1.0"/><path d="M1612,2050 C1730,1979 1846,1904 1967,1837" stroke="#7e6044" stroke-opacity="0.04" stroke-width="2.3"/><path d="M1432,2169 C1489,2128 1553,2100 1611,2061" stroke="#8a6a48" stroke-opacity="0.09" stroke-width="1.4"/><path d="M1317,2244 C1447,2172 1571,2089 1700,2014" stroke="#8a6a48" stroke-opacity="0.07" stroke-width="1.7"/><path d="M1422,2190 C1601,2082 1781,1978 1958,1868" stroke="#8a6a48" stroke-opacity="0.09" stroke-width="1.3"/><path d="M1813,1963 C1967,1875 2121,1784 2271,1688" stroke="#7e6044" stroke-opacity="0.07" stroke-width="1.8"/><path d="M1684,2061 C1780,2002 1879,1948 1973,1887" stroke="#8a6a48" stroke-opacity="0.03" stroke-width="1.8"/></g>
<polygon points="972.5,1642.5 1240.0,1478.8 1719.3,1572.4 1450.9,1735.2" fill="#c6ab8a" stroke="none" stroke-width="0" />
<polygon points="997.5,1640.0 1247.5,1488.0 1247.5,1534.5 1057.5,1651.2" fill="#e5cdaa" stroke="none" stroke-width="0" />
<clipPath id="cp24"><path d="M 997.5,1640.0 L 1247.5,1488.0 L 1247.5,1534.5 L 1057.5,1651.2 Z"/></clipPath>
<g clip-path="url(#cp24)" fill="none"><path d="M895,1377 C998,1318 1101,1260 1200,1194" stroke="#7e6044" stroke-opacity="0.04" stroke-width="2.0"/><path d="M722,1496 C794,1452 864,1404 939,1366" stroke="#8a6a48" stroke-opacity="0.04" stroke-width="2.0"/><path d="M692,1525 C817,1449 942,1374 1067,1299" stroke="#9c7a55" stroke-opacity="0.08" stroke-width="1.3"/><path d="M924,1389 C977,1351 1038,1325 1092,1288" stroke="#8a6a48" stroke-opacity="0.04" stroke-width="0.8"/><path d="M526,1648 C696,1551 861,1448 1027,1347" stroke="#f4e2c4" stroke-opacity="0.08" stroke-width="1.0"/><path d="M673,1562 C733,1531 787,1490 847,1457" stroke="#8a6a48" stroke-opacity="0.07" stroke-width="2.4"/><path d="M638,1595 C782,1502 931,1418 1078,1330" stroke="#7e6044" stroke-opacity="0.05" stroke-width="1.4"/><path d="M942,1427 C1011,1388 1076,1341 1147,1304" stroke="#8a6a48" stroke-opacity="0.03" stroke-width="2.6"/><path d="M806,1521 C859,1490 915,1463 965,1426" stroke="#7e6044" stroke-opacity="0.04" stroke-width="1.2"/><path d="M912,1467 C1046,1385 1181,1304 1315,1224" stroke="#8a6a48" stroke-opacity="0.05" stroke-width="1.0"/><path d="M769,1561 C861,1513 949,1455 1038,1400" stroke="#7e6044" stroke-opacity="0.03" stroke-width="1.5"/><path d="M1034,1408 C1158,1328 1285,1255 1413,1181" stroke="#9c7a55" stroke-opacity="0.06" stroke-width="1.9"/><path d="M892,1506 C1023,1425 1156,1345 1289,1267" stroke="#8a6a48" stroke-opacity="0.07" stroke-width="1.8"/><path d="M817,1566 C978,1470 1136,1368 1300,1276" stroke="#7e6044" stroke-opacity="0.05" stroke-width="1.8"/><path d="M715,1633 C811,1574 910,1519 1005,1459" stroke="#7e6044" stroke-opacity="0.06" stroke-width="1.5"/><path d="M808,1589 C879,1541 955,1499 1029,1456" stroke="#9c7a55" stroke-opacity="0.09" stroke-width="1.8"/><path d="M794,1607 C913,1534 1034,1464 1153,1390" stroke="#8a6a48" stroke-opacity="0.10" stroke-width="2.6"/><path d="M965,1519 C1077,1451 1193,1388 1303,1316" stroke="#7e6044" stroke-opacity="0.08" stroke-width="1.9"/><path d="M961,1532 C1026,1488 1095,1450 1163,1411" stroke="#f4e2c4" stroke-opacity="0.05" stroke-width="2.3"/><path d="M619,1747 C755,1668 890,1588 1024,1504" stroke="#7e6044" stroke-opacity="0.05" stroke-width="1.5"/><path d="M911,1586 C1049,1506 1186,1426 1320,1340" stroke="#8a6a48" stroke-opacity="0.05" stroke-width="2.2"/><path d="M1010,1533 C1167,1444 1320,1349 1474,1255" stroke="#7e6044" stroke-opacity="0.06" stroke-width="1.6"/><path d="M1030,1527 C1138,1465 1241,1395 1350,1335" stroke="#7e6044" stroke-opacity="0.10" stroke-width="0.9"/><path d="M921,1604 C1032,1529 1153,1470 1265,1397" stroke="#7e6044" stroke-opacity="0.04" stroke-width="1.0"/><path d="M915,1627 C1009,1571 1101,1514 1195,1458" stroke="#9c7a55" stroke-opacity="0.07" stroke-width="1.8"/><path d="M1012,1577 C1103,1516 1200,1466 1293,1408" stroke="#8a6a48" stroke-opacity="0.06" stroke-width="1.3"/><path d="M708,1768 C822,1701 932,1627 1048,1564" stroke="#7e6044" stroke-opacity="0.05" stroke-width="1.6"/><path d="M734,1767 C834,1701 936,1639 1041,1582" stroke="#7e6044" stroke-opacity="0.07" stroke-width="1.0"/><path d="M832,1717 C959,1636 1088,1558 1219,1485" stroke="#f4e2c4" stroke-opacity="0.08" stroke-width="2.4"/><path d="M1078,1579 C1204,1501 1331,1425 1459,1350" stroke="#9c7a55" stroke-opacity="0.07" stroke-width="2.4"/><path d="M892,1699 C1039,1609 1187,1521 1335,1433" stroke="#9c7a55" stroke-opacity="0.08" stroke-width="1.0"/><path d="M1194,1531 C1302,1460 1420,1402 1528,1330" stroke="#9c7a55" stroke-opacity="0.08" stroke-width="1.8"/><path d="M983,1661 C1036,1632 1084,1594 1138,1567" stroke="#9c7a55" stroke-opacity="0.09" stroke-width="1.9"/><path d="M718,1833 C847,1758 972,1676 1103,1602" stroke="#f4e2c4" stroke-opacity="0.05" stroke-width="1.1"/><path d="M886,1741 C1011,1660 1145,1592 1270,1510" stroke="#7e6044" stroke-opacity="0.03" stroke-width="1.5"/><path d="M793,1812 C899,1749 1006,1688 1110,1621" stroke="#8a6a48" stroke-opacity="0.08" stroke-width="1.2"/><path d="M829,1799 C886,1768 940,1734 994,1700" stroke="#8a6a48" stroke-opacity="0.04" stroke-width="2.0"/><path d="M872,1790 C1013,1699 1161,1621 1302,1531" stroke="#9c7a55" stroke-opacity="0.08" stroke-width="2.4"/><path d="M742,1871 C865,1794 992,1724 1115,1647" stroke="#f4e2c4" stroke-opacity="0.04" stroke-width="1.6"/><path d="M1089,1672 C1212,1600 1333,1523 1456,1451" stroke="#9c7a55" stroke-opacity="0.03" stroke-width="2.6"/><path d="M1291,1561 C1371,1515 1448,1466 1528,1419" stroke="#7e6044" stroke-opacity="0.09" stroke-width="2.0"/><path d="M990,1756 C1081,1699 1177,1650 1267,1590" stroke="#f4e2c4" stroke-opacity="0.08" stroke-width="1.1"/><path d="M712,1933 C875,1832 1040,1737 1203,1638" stroke="#f4e2c4" stroke-opacity="0.04" stroke-width="2.3"/><path d="M951,1805 C1075,1736 1192,1657 1315,1586" stroke="#7e6044" stroke-opacity="0.06" stroke-width="1.3"/><path d="M1050,1751 C1155,1684 1261,1618 1370,1559" stroke="#f4e2c4" stroke-opacity="0.08" stroke-width="1.8"/><path d="M874,1870 C1031,1780 1187,1688 1339,1590" stroke="#7e6044" stroke-opacity="0.04" stroke-width="2.1"/><path d="M1044,1775 C1183,1697 1317,1610 1455,1528" stroke="#7e6044" stroke-opacity="0.09" stroke-width="1.1"/><path d="M811,1926 C939,1846 1072,1776 1199,1693" stroke="#8a6a48" stroke-opacity="0.06" stroke-width="2.1"/><path d="M1179,1713 C1328,1626 1475,1535 1624,1446" stroke="#7e6044" stroke-opacity="0.05" stroke-width="1.3"/><path d="M982,1842 C1139,1749 1295,1653 1452,1559" stroke="#8a6a48" stroke-opacity="0.04" stroke-width="1.8"/><path d="M895,1907 C976,1861 1053,1808 1135,1763" stroke="#9c7a55" stroke-opacity="0.06" stroke-width="0.9"/><path d="M1137,1780 C1205,1738 1274,1698 1343,1656" stroke="#8a6a48" stroke-opacity="0.08" stroke-width="0.9"/><path d="M1125,1788 C1185,1756 1238,1714 1299,1683" stroke="#f4e2c4" stroke-opacity="0.08" stroke-width="1.1"/><path d="M1024,1867 C1176,1775 1328,1683 1481,1593" stroke="#f4e2c4" stroke-opacity="0.09" stroke-width="1.8"/><path d="M1154,1794 C1264,1730 1371,1663 1479,1598" stroke="#f4e2c4" stroke-opacity="0.07" stroke-width="1.1"/><path d="M1131,1816 C1229,1757 1328,1703 1424,1640" stroke="#7e6044" stroke-opacity="0.04" stroke-width="1.2"/><path d="M970,1926 C1060,1871 1152,1821 1241,1764" stroke="#7e6044" stroke-opacity="0.04" stroke-width="1.8"/><path d="M1126,1850 C1196,1804 1267,1761 1340,1721" stroke="#8a6a48" stroke-opacity="0.05" stroke-width="1.2"/><path d="M1154,1842 C1222,1807 1284,1761 1351,1724" stroke="#f4e2c4" stroke-opacity="0.06" stroke-width="1.9"/><path d="M1157,1846 C1264,1782 1369,1715 1478,1653" stroke="#9c7a55" stroke-opacity="0.05" stroke-width="1.5"/><path d="M1364,1736 C1453,1683 1541,1630 1629,1577" stroke="#f4e2c4" stroke-opacity="0.08" stroke-width="1.5"/><path d="M1069,1921 C1158,1872 1240,1813 1329,1765" stroke="#f4e2c4" stroke-opacity="0.06" stroke-width="1.6"/><path d="M1135,1889 C1196,1858 1250,1816 1310,1784" stroke="#7e6044" stroke-opacity="0.09" stroke-width="2.4"/><path d="M1386,1756 C1468,1713 1543,1657 1624,1613" stroke="#9c7a55" stroke-opacity="0.07" stroke-width="2.3"/><path d="M961,2023 C1059,1965 1153,1900 1254,1847" stroke="#7e6044" stroke-opacity="0.09" stroke-width="1.6"/><path d="M937,2049 C1076,1969 1211,1880 1350,1800" stroke="#f4e2c4" stroke-opacity="0.09" stroke-width="2.4"/></g>
<polygon points="1247.5,1488.0 1694.0,1574.9 1635.7,1609.6 1247.5,1534.5" fill="#c9ae8d" stroke="none" stroke-width="0" />
<clipPath id="cp25"><path d="M 1247.5,1488.0 L 1694.0,1574.9 L 1635.7,1609.6 L 1247.5,1534.5 Z"/></clipPath>
<g clip-path="url(#cp25)" fill="none"><path d="M1271,1150 C1343,1163 1415,1177 1487,1192" stroke="#9c7a55" stroke-opacity="0.09" stroke-width="2.5"/><path d="M1438,1196 C1670,1241 1903,1280 2134,1331" stroke="#7e6044" stroke-opacity="0.04" stroke-width="1.4"/><path d="M1028,1119 C1197,1153 1367,1181 1535,1217" stroke="#f4e2c4" stroke-opacity="0.06" stroke-width="1.9"/><path d="M841,1091 C1072,1131 1301,1183 1532,1225" stroke="#f4e2c4" stroke-opacity="0.05" stroke-width="2.2"/><path d="M938,1122 C1163,1164 1387,1207 1610,1253" stroke="#9c7a55" stroke-opacity="0.06" stroke-width="2.0"/><path d="M1415,1223 C1551,1251 1689,1270 1825,1303" stroke="#9c7a55" stroke-opacity="0.06" stroke-width="2.5"/><path d="M1135,1176 C1266,1207 1398,1230 1530,1252" stroke="#7e6044" stroke-opacity="0.06" stroke-width="1.2"/><path d="M1387,1235 C1489,1253 1589,1280 1691,1294" stroke="#7e6044" stroke-opacity="0.07" stroke-width="2.2"/><path d="M1725,1311 C1817,1335 1909,1352 2003,1365" stroke="#9c7a55" stroke-opacity="0.06" stroke-width="1.1"/><path d="M1274,1238 C1358,1250 1440,1268 1523,1286" stroke="#7e6044" stroke-opacity="0.10" stroke-width="1.8"/><path d="M1173,1228 C1268,1249 1365,1260 1459,1284" stroke="#7e6044" stroke-opacity="0.10" stroke-width="1.5"/><path d="M1085,1219 C1184,1237 1282,1259 1381,1277" stroke="#9c7a55" stroke-opacity="0.05" stroke-width="2.5"/><path d="M1541,1312 C1615,1327 1690,1341 1765,1355" stroke="#f4e2c4" stroke-opacity="0.04" stroke-width="1.4"/><path d="M1613,1339 C1769,1372 1926,1404 2083,1431" stroke="#8a6a48" stroke-opacity="0.09" stroke-width="1.9"/><path d="M1100,1242 C1229,1266 1358,1291 1487,1318" stroke="#7e6044" stroke-opacity="0.08" stroke-width="1.1"/><path d="M1325,1304 C1445,1325 1564,1355 1685,1374" stroke="#7e6044" stroke-opacity="0.05" stroke-width="1.6"/><path d="M1406,1323 C1599,1359 1792,1401 1986,1436" stroke="#9c7a55" stroke-opacity="0.07" stroke-width="2.4"/><path d="M1385,1327 C1590,1371 1797,1405 2002,1447" stroke="#9c7a55" stroke-opacity="0.07" stroke-width="1.5"/><path d="M1153,1291 C1279,1316 1406,1341 1532,1365" stroke="#7e6044" stroke-opacity="0.07" stroke-width="1.8"/><path d="M923,1258 C1078,1292 1234,1324 1391,1349" stroke="#f4e2c4" stroke-opacity="0.05" stroke-width="1.7"/><path d="M1199,1320 C1304,1338 1409,1360 1514,1381" stroke="#f4e2c4" stroke-opacity="0.03" stroke-width="1.3"/><path d="M1624,1415 C1732,1433 1839,1458 1946,1477" stroke="#f4e2c4" stroke-opacity="0.06" stroke-width="1.8"/><path d="M1193,1339 C1370,1377 1547,1413 1725,1443" stroke="#7e6044" stroke-opacity="0.03" stroke-width="0.9"/><path d="M1425,1393 C1555,1415 1685,1439 1814,1468" stroke="#7e6044" stroke-opacity="0.09" stroke-width="0.9"/><path d="M1340,1382 C1509,1414 1678,1453 1849,1481" stroke="#9c7a55" stroke-opacity="0.07" stroke-width="1.4"/><path d="M986,1323 C1118,1344 1250,1369 1380,1400" stroke="#f4e2c4" stroke-opacity="0.05" stroke-width="1.1"/><path d="M1131,1366 C1207,1386 1283,1400 1360,1410" stroke="#9c7a55" stroke-opacity="0.07" stroke-width="1.6"/><path d="M953,1339 C1141,1370 1329,1406 1516,1449" stroke="#f4e2c4" stroke-opacity="0.04" stroke-width="2.2"/><path d="M1167,1385 C1346,1414 1522,1453 1700,1489" stroke="#9c7a55" stroke-opacity="0.07" stroke-width="2.2"/><path d="M1158,1392 C1328,1423 1497,1454 1665,1491" stroke="#9c7a55" stroke-opacity="0.07" stroke-width="1.4"/><path d="M1286,1432 C1393,1456 1500,1470 1607,1494" stroke="#9c7a55" stroke-opacity="0.03" stroke-width="1.7"/><path d="M860,1360 C1053,1397 1244,1438 1437,1472" stroke="#8a6a48" stroke-opacity="0.04" stroke-width="1.5"/><path d="M1212,1431 C1428,1477 1644,1514 1860,1557" stroke="#8a6a48" stroke-opacity="0.04" stroke-width="1.1"/><path d="M1486,1495 C1633,1520 1777,1556 1924,1580" stroke="#f4e2c4" stroke-opacity="0.05" stroke-width="0.8"/><path d="M886,1391 C1114,1431 1341,1476 1567,1524" stroke="#f4e2c4" stroke-opacity="0.03" stroke-width="2.6"/><path d="M1419,1504 C1532,1524 1645,1545 1757,1569" stroke="#f4e2c4" stroke-opacity="0.09" stroke-width="1.8"/><path d="M1290,1486 C1473,1528 1657,1559 1840,1593" stroke="#f4e2c4" stroke-opacity="0.03" stroke-width="2.1"/><path d="M1007,1437 C1211,1477 1415,1512 1618,1556" stroke="#8a6a48" stroke-opacity="0.09" stroke-width="1.2"/><path d="M1628,1573 C1728,1591 1828,1607 1927,1631" stroke="#9c7a55" stroke-opacity="0.05" stroke-width="1.7"/><path d="M1404,1539 C1583,1574 1764,1604 1943,1644" stroke="#7e6044" stroke-opacity="0.07" stroke-width="0.9"/><path d="M1268,1518 C1431,1544 1590,1586 1752,1612" stroke="#9c7a55" stroke-opacity="0.06" stroke-width="2.4"/><path d="M987,1477 C1191,1518 1395,1558 1599,1596" stroke="#9c7a55" stroke-opacity="0.04" stroke-width="1.6"/><path d="M1054,1494 C1270,1531 1484,1581 1700,1619" stroke="#9c7a55" stroke-opacity="0.03" stroke-width="1.9"/><path d="M1035,1503 C1138,1517 1238,1547 1340,1562" stroke="#9c7a55" stroke-opacity="0.05" stroke-width="1.4"/><path d="M1388,1582 C1524,1614 1661,1635 1798,1662" stroke="#7e6044" stroke-opacity="0.05" stroke-width="1.8"/><path d="M1348,1584 C1578,1627 1806,1678 2036,1717" stroke="#8a6a48" stroke-opacity="0.07" stroke-width="1.5"/><path d="M1082,1536 C1303,1582 1525,1621 1746,1665" stroke="#7e6044" stroke-opacity="0.08" stroke-width="1.5"/><path d="M1300,1585 C1428,1613 1559,1630 1686,1660" stroke="#f4e2c4" stroke-opacity="0.06" stroke-width="1.4"/><path d="M1384,1615 C1554,1642 1724,1675 1892,1713" stroke="#9c7a55" stroke-opacity="0.08" stroke-width="2.2"/><path d="M1316,1610 C1423,1626 1526,1655 1633,1671" stroke="#8a6a48" stroke-opacity="0.10" stroke-width="1.0"/><path d="M1072,1568 C1267,1609 1463,1638 1658,1682" stroke="#8a6a48" stroke-opacity="0.03" stroke-width="0.8"/><path d="M1620,1690 C1732,1712 1846,1729 1958,1756" stroke="#8a6a48" stroke-opacity="0.08" stroke-width="1.9"/><path d="M1265,1628 C1491,1671 1716,1720 1944,1760" stroke="#7e6044" stroke-opacity="0.08" stroke-width="1.2"/><path d="M1202,1624 C1335,1649 1467,1677 1601,1701" stroke="#9c7a55" stroke-opacity="0.03" stroke-width="1.7"/><path d="M1008,1597 C1114,1617 1221,1636 1326,1659" stroke="#7e6044" stroke-opacity="0.08" stroke-width="2.2"/><path d="M918,1585 C1059,1618 1203,1634 1344,1667" stroke="#9c7a55" stroke-opacity="0.06" stroke-width="1.8"/><path d="M924,1596 C1155,1638 1384,1691 1616,1731" stroke="#9c7a55" stroke-opacity="0.06" stroke-width="1.4"/><path d="M1416,1705 C1513,1719 1607,1745 1703,1761" stroke="#7e6044" stroke-opacity="0.07" stroke-width="2.4"/><path d="M1431,1718 C1569,1745 1708,1770 1846,1799" stroke="#9c7a55" stroke-opacity="0.08" stroke-width="1.9"/><path d="M1400,1717 C1512,1733 1623,1759 1733,1781" stroke="#f4e2c4" stroke-opacity="0.08" stroke-width="1.2"/><path d="M1604,1767 C1703,1790 1803,1805 1902,1825" stroke="#8a6a48" stroke-opacity="0.08" stroke-width="1.9"/><path d="M1526,1761 C1619,1775 1710,1802 1804,1815" stroke="#f4e2c4" stroke-opacity="0.08" stroke-width="1.2"/><path d="M1346,1740 C1451,1762 1557,1782 1662,1801" stroke="#8a6a48" stroke-opacity="0.07" stroke-width="1.3"/><path d="M1391,1755 C1520,1777 1648,1803 1776,1830" stroke="#7e6044" stroke-opacity="0.05" stroke-width="2.3"/><path d="M929,1674 C1093,1702 1256,1733 1418,1769" stroke="#7e6044" stroke-opacity="0.09" stroke-width="2.5"/><path d="M1379,1768 C1454,1786 1529,1803 1605,1812" stroke="#7e6044" stroke-opacity="0.10" stroke-width="1.3"/><path d="M968,1701 C1140,1732 1311,1772 1484,1801" stroke="#f4e2c4" stroke-opacity="0.09" stroke-width="1.9"/><path d="M1591,1834 C1704,1861 1821,1874 1934,1901" stroke="#9c7a55" stroke-opacity="0.09" stroke-width="1.9"/><path d="M1269,1777 C1438,1810 1607,1845 1776,1876" stroke="#7e6044" stroke-opacity="0.03" stroke-width="1.9"/><path d="M1447,1823 C1556,1839 1662,1869 1770,1886" stroke="#9c7a55" stroke-opacity="0.05" stroke-width="0.9"/><path d="M996,1743 C1070,1761 1145,1771 1219,1787" stroke="#8a6a48" stroke-opacity="0.08" stroke-width="1.8"/><path d="M752,1707 C964,1754 1178,1789 1390,1831" stroke="#7e6044" stroke-opacity="0.09" stroke-width="1.2"/><path d="M1075,1774 C1274,1816 1474,1849 1673,1890" stroke="#8a6a48" stroke-opacity="0.08" stroke-width="1.7"/><path d="M977,1763 C1164,1795 1350,1839 1538,1872" stroke="#9c7a55" stroke-opacity="0.06" stroke-width="1.3"/><path d="M1381,1857 C1460,1866 1538,1884 1616,1902" stroke="#7e6044" stroke-opacity="0.04" stroke-width="2.2"/><path d="M757,1743 C959,1785 1163,1816 1364,1861" stroke="#9c7a55" stroke-opacity="0.05" stroke-width="2.0"/><path d="M1032,1805 C1242,1844 1452,1886 1662,1927" stroke="#9c7a55" stroke-opacity="0.09" stroke-width="1.1"/><path d="M1111,1825 C1274,1857 1437,1891 1600,1920" stroke="#f4e2c4" stroke-opacity="0.09" stroke-width="0.9"/><path d="M1430,1898 C1517,1912 1602,1934 1689,1949" stroke="#f4e2c4" stroke-opacity="0.06" stroke-width="1.7"/></g>
<polygon points="1057.5,1651.2 1247.5,1534.5 1635.7,1609.6 1445.2,1727.2" fill="url(#gFl)" stroke="none" stroke-width="0" />
<clipPath id="cp26"><path d="M 1057.5,1651.2 L 1247.5,1534.5 L 1635.7,1609.6 L 1445.2,1727.2 Z"/></clipPath>
<g clip-path="url(#cp26)" fill="none"><path d="M1361,1131 C1528,1211 1695,1291 1864,1366" stroke="#f4e2c4" stroke-opacity="0.07" stroke-width="1.2"/><path d="M910,934 C1158,1044 1402,1161 1647,1278" stroke="#9c7a55" stroke-opacity="0.09" stroke-width="1.8"/><path d="M1152,1054 C1310,1125 1466,1199 1622,1273" stroke="#7e6044" stroke-opacity="0.11" stroke-width="0.8"/><path d="M1573,1262 C1744,1348 1919,1427 2094,1505" stroke="#7e6044" stroke-opacity="0.11" stroke-width="2.3"/><path d="M1581,1277 C1815,1391 2052,1500 2289,1607" stroke="#9c7a55" stroke-opacity="0.10" stroke-width="1.4"/><path d="M1127,1074 C1302,1154 1475,1241 1652,1319" stroke="#8a6a48" stroke-opacity="0.10" stroke-width="1.2"/><path d="M1090,1069 C1234,1135 1375,1206 1520,1269" stroke="#f4e2c4" stroke-opacity="0.10" stroke-width="1.6"/><path d="M948,1011 C1162,1116 1381,1210 1596,1313" stroke="#9c7a55" stroke-opacity="0.09" stroke-width="1.7"/><path d="M951,1020 C1176,1122 1397,1232 1622,1333" stroke="#f4e2c4" stroke-opacity="0.08" stroke-width="1.0"/><path d="M1452,1267 C1581,1327 1708,1392 1839,1447" stroke="#f4e2c4" stroke-opacity="0.12" stroke-width="2.3"/><path d="M784,967 C1064,1095 1340,1233 1621,1358" stroke="#7e6044" stroke-opacity="0.05" stroke-width="1.9"/><path d="M1124,1135 C1278,1212 1434,1285 1592,1353" stroke="#7e6044" stroke-opacity="0.09" stroke-width="1.5"/><path d="M1695,1410 C1811,1462 1925,1516 2040,1571" stroke="#7e6044" stroke-opacity="0.09" stroke-width="2.6"/><path d="M932,1063 C1075,1130 1219,1193 1360,1262" stroke="#9c7a55" stroke-opacity="0.12" stroke-width="1.0"/><path d="M1047,1121 C1304,1245 1565,1360 1823,1483" stroke="#9c7a55" stroke-opacity="0.06" stroke-width="1.5"/><path d="M726,985 C997,1115 1271,1237 1542,1366" stroke="#7e6044" stroke-opacity="0.10" stroke-width="2.5"/><path d="M1440,1326 C1700,1445 1955,1572 2217,1688" stroke="#8a6a48" stroke-opacity="0.10" stroke-width="2.1"/><path d="M950,1111 C1039,1153 1125,1198 1215,1235" stroke="#f4e2c4" stroke-opacity="0.06" stroke-width="2.3"/><path d="M1505,1376 C1746,1486 1985,1600 2225,1712" stroke="#f4e2c4" stroke-opacity="0.08" stroke-width="1.7"/><path d="M1478,1375 C1735,1493 1988,1619 2247,1733" stroke="#f4e2c4" stroke-opacity="0.11" stroke-width="1.8"/><path d="M1523,1406 C1652,1473 1784,1532 1917,1590" stroke="#8a6a48" stroke-opacity="0.06" stroke-width="2.1"/><path d="M1314,1318 C1443,1384 1578,1438 1708,1501" stroke="#9c7a55" stroke-opacity="0.13" stroke-width="2.3"/><path d="M1505,1424 C1726,1533 1951,1635 2176,1737" stroke="#9c7a55" stroke-opacity="0.12" stroke-width="1.9"/><path d="M1294,1329 C1545,1447 1795,1569 2049,1681" stroke="#7e6044" stroke-opacity="0.12" stroke-width="2.1"/><path d="M1365,1372 C1512,1441 1661,1505 1806,1577" stroke="#7e6044" stroke-opacity="0.11" stroke-width="2.0"/><path d="M1158,1286 C1380,1386 1598,1498 1821,1596" stroke="#9c7a55" stroke-opacity="0.11" stroke-width="0.8"/><path d="M1639,1523 C1758,1575 1872,1636 1990,1687" stroke="#8a6a48" stroke-opacity="0.06" stroke-width="1.7"/><path d="M1346,1392 C1557,1489 1766,1589 1977,1686" stroke="#f4e2c4" stroke-opacity="0.10" stroke-width="1.5"/><path d="M1489,1473 C1680,1558 1866,1652 2056,1737" stroke="#f4e2c4" stroke-opacity="0.09" stroke-width="1.7"/><path d="M1105,1300 C1367,1421 1630,1540 1889,1666" stroke="#8a6a48" stroke-opacity="0.12" stroke-width="1.9"/><path d="M1371,1439 C1471,1481 1564,1533 1663,1575" stroke="#8a6a48" stroke-opacity="0.04" stroke-width="0.9"/><path d="M1493,1503 C1586,1545 1677,1591 1771,1632" stroke="#f4e2c4" stroke-opacity="0.08" stroke-width="2.5"/><path d="M1170,1361 C1363,1449 1555,1537 1745,1629" stroke="#7e6044" stroke-opacity="0.11" stroke-width="1.7"/><path d="M708,1154 C919,1250 1127,1351 1337,1448" stroke="#9c7a55" stroke-opacity="0.07" stroke-width="1.4"/><path d="M802,1215 C986,1295 1167,1383 1347,1470" stroke="#f4e2c4" stroke-opacity="0.12" stroke-width="1.5"/><path d="M1253,1432 C1521,1557 1788,1681 2055,1806" stroke="#8a6a48" stroke-opacity="0.08" stroke-width="2.4"/><path d="M1288,1462 C1376,1500 1463,1539 1548,1584" stroke="#9c7a55" stroke-opacity="0.10" stroke-width="1.0"/><path d="M1438,1535 C1558,1594 1682,1644 1802,1705" stroke="#9c7a55" stroke-opacity="0.07" stroke-width="0.9"/><path d="M859,1273 C1038,1363 1223,1440 1403,1528" stroke="#9c7a55" stroke-opacity="0.06" stroke-width="2.2"/><path d="M947,1334 C1075,1391 1199,1454 1327,1511" stroke="#8a6a48" stroke-opacity="0.13" stroke-width="1.0"/><path d="M1028,1382 C1182,1452 1336,1522 1488,1596" stroke="#9c7a55" stroke-opacity="0.12" stroke-width="2.5"/><path d="M779,1274 C955,1360 1132,1443 1311,1522" stroke="#f4e2c4" stroke-opacity="0.12" stroke-width="2.0"/><path d="M1072,1416 C1301,1521 1530,1626 1757,1735" stroke="#7e6044" stroke-opacity="0.07" stroke-width="2.5"/><path d="M1246,1508 C1354,1557 1460,1612 1570,1659" stroke="#f4e2c4" stroke-opacity="0.10" stroke-width="2.1"/><path d="M792,1308 C898,1363 1009,1410 1117,1460" stroke="#f4e2c4" stroke-opacity="0.10" stroke-width="1.6"/><path d="M1335,1570 C1522,1657 1710,1744 1897,1832" stroke="#8a6a48" stroke-opacity="0.07" stroke-width="1.6"/><path d="M666,1271 C851,1361 1037,1449 1225,1532" stroke="#f4e2c4" stroke-opacity="0.09" stroke-width="1.5"/><path d="M929,1406 C1187,1528 1446,1648 1705,1768" stroke="#f4e2c4" stroke-opacity="0.10" stroke-width="1.2"/><path d="M1001,1440 C1207,1529 1409,1628 1612,1725" stroke="#7e6044" stroke-opacity="0.12" stroke-width="0.8"/><path d="M1314,1601 C1531,1701 1750,1798 1964,1905" stroke="#9c7a55" stroke-opacity="0.09" stroke-width="1.6"/><path d="M1377,1636 C1583,1739 1795,1827 2002,1928" stroke="#9c7a55" stroke-opacity="0.05" stroke-width="1.7"/><path d="M818,1385 C1057,1498 1295,1610 1534,1719" stroke="#9c7a55" stroke-opacity="0.09" stroke-width="1.1"/><path d="M990,1475 C1201,1574 1414,1670 1624,1771" stroke="#7e6044" stroke-opacity="0.04" stroke-width="1.9"/><path d="M625,1324 C888,1450 1154,1569 1418,1693" stroke="#f4e2c4" stroke-opacity="0.12" stroke-width="1.5"/><path d="M1492,1738 C1663,1814 1832,1895 2002,1976" stroke="#9c7a55" stroke-opacity="0.12" stroke-width="1.7"/><path d="M1385,1689 C1604,1786 1821,1888 2036,1993" stroke="#9c7a55" stroke-opacity="0.10" stroke-width="1.6"/><path d="M870,1466 C1075,1558 1277,1654 1479,1750" stroke="#f4e2c4" stroke-opacity="0.08" stroke-width="1.2"/><path d="M1418,1725 C1543,1784 1669,1842 1795,1901" stroke="#8a6a48" stroke-opacity="0.05" stroke-width="1.4"/><path d="M1178,1627 C1321,1688 1460,1758 1601,1824" stroke="#7e6044" stroke-opacity="0.11" stroke-width="2.2"/><path d="M1401,1743 C1613,1847 1831,1937 2042,2042" stroke="#9c7a55" stroke-opacity="0.09" stroke-width="2.5"/><path d="M1095,1614 C1269,1694 1444,1772 1615,1856" stroke="#8a6a48" stroke-opacity="0.05" stroke-width="1.9"/><path d="M936,1548 C1120,1629 1298,1722 1483,1803" stroke="#8a6a48" stroke-opacity="0.06" stroke-width="2.5"/><path d="M1013,1593 C1114,1639 1213,1691 1316,1734" stroke="#9c7a55" stroke-opacity="0.10" stroke-width="1.3"/><path d="M1394,1782 C1603,1876 1808,1979 2017,2073" stroke="#f4e2c4" stroke-opacity="0.10" stroke-width="1.4"/><path d="M1421,1802 C1526,1849 1631,1896 1734,1948" stroke="#7e6044" stroke-opacity="0.09" stroke-width="2.0"/><path d="M795,1515 C1066,1640 1335,1770 1607,1894" stroke="#7e6044" stroke-opacity="0.10" stroke-width="1.4"/><path d="M929,1590 C1095,1661 1258,1738 1419,1818" stroke="#7e6044" stroke-opacity="0.12" stroke-width="1.2"/><path d="M1185,1718 C1443,1835 1697,1960 1954,2076" stroke="#8a6a48" stroke-opacity="0.06" stroke-width="1.4"/><path d="M884,1592 C1012,1646 1135,1711 1262,1768" stroke="#f4e2c4" stroke-opacity="0.07" stroke-width="1.2"/><path d="M1279,1783 C1510,1897 1743,2006 1979,2110" stroke="#9c7a55" stroke-opacity="0.05" stroke-width="2.5"/><path d="M902,1621 C1009,1677 1120,1725 1230,1774" stroke="#9c7a55" stroke-opacity="0.12" stroke-width="2.1"/><path d="M1392,1855 C1579,1937 1761,2029 1948,2114" stroke="#7e6044" stroke-opacity="0.07" stroke-width="1.8"/><path d="M722,1551 C809,1588 892,1630 977,1670" stroke="#8a6a48" stroke-opacity="0.09" stroke-width="2.0"/><path d="M802,1599 C1050,1720 1301,1833 1551,1948" stroke="#8a6a48" stroke-opacity="0.06" stroke-width="1.4"/><path d="M927,1666 C1191,1785 1450,1915 1715,2033" stroke="#7e6044" stroke-opacity="0.10" stroke-width="1.6"/><path d="M815,1624 C1047,1731 1280,1838 1511,1949" stroke="#f4e2c4" stroke-opacity="0.10" stroke-width="1.4"/><path d="M1000,1726 C1127,1786 1254,1846 1382,1904" stroke="#8a6a48" stroke-opacity="0.04" stroke-width="2.4"/><path d="M1224,1839 C1349,1904 1480,1958 1607,2018" stroke="#8a6a48" stroke-opacity="0.08" stroke-width="1.9"/><path d="M1098,1787 C1186,1830 1273,1875 1364,1911" stroke="#f4e2c4" stroke-opacity="0.05" stroke-width="1.0"/><path d="M1197,1842 C1362,1922 1527,2001 1696,2075" stroke="#9c7a55" stroke-opacity="0.08" stroke-width="1.1"/><path d="M477,1526 C719,1644 965,1751 1208,1866" stroke="#9c7a55" stroke-opacity="0.09" stroke-width="2.5"/><path d="M1018,1783 C1137,1834 1255,1889 1371,1947" stroke="#8a6a48" stroke-opacity="0.12" stroke-width="1.7"/><path d="M866,1725 C1070,1815 1268,1917 1471,2008" stroke="#8a6a48" stroke-opacity="0.09" stroke-width="0.9"/><path d="M1136,1861 C1271,1923 1406,1985 1539,2050" stroke="#f4e2c4" stroke-opacity="0.06" stroke-width="1.1"/><path d="M965,1787 C1099,1850 1234,1911 1367,1975" stroke="#f4e2c4" stroke-opacity="0.13" stroke-width="2.5"/><path d="M1317,1958 C1440,2010 1557,2075 1679,2127" stroke="#8a6a48" stroke-opacity="0.09" stroke-width="1.6"/><path d="M1015,1830 C1177,1909 1343,1979 1504,2058" stroke="#f4e2c4" stroke-opacity="0.07" stroke-width="1.2"/><path d="M863,1776 C1058,1871 1257,1955 1452,2050" stroke="#f4e2c4" stroke-opacity="0.08" stroke-width="2.3"/><path d="M898,1798 C1007,1842 1113,1892 1216,1946" stroke="#8a6a48" stroke-opacity="0.11" stroke-width="1.3"/><path d="M1071,1888 C1269,1985 1469,2078 1670,2167" stroke="#f4e2c4" stroke-opacity="0.11" stroke-width="1.0"/><path d="M649,1702 C791,1763 931,1827 1069,1898" stroke="#9c7a55" stroke-opacity="0.11" stroke-width="2.6"/><path d="M1187,1963 C1463,2092 1741,2216 2015,2349" stroke="#7e6044" stroke-opacity="0.12" stroke-width="0.9"/><path d="M1219,1986 C1307,2022 1393,2062 1477,2107" stroke="#8a6a48" stroke-opacity="0.09" stroke-width="1.6"/><path d="M1089,1936 C1192,1980 1292,2033 1395,2079" stroke="#9c7a55" stroke-opacity="0.09" stroke-width="1.9"/><path d="M1249,2025 C1349,2076 1452,2122 1554,2168" stroke="#f4e2c4" stroke-opacity="0.04" stroke-width="1.3"/><path d="M714,1780 C879,1860 1045,1935 1211,2012" stroke="#7e6044" stroke-opacity="0.10" stroke-width="2.5"/><path d="M1051,1945 C1165,1998 1279,2053 1394,2104" stroke="#8a6a48" stroke-opacity="0.09" stroke-width="1.2"/><path d="M676,1786 C843,1868 1012,1945 1181,2022" stroke="#f4e2c4" stroke-opacity="0.10" stroke-width="1.1"/><path d="M1027,1961 C1192,2044 1363,2116 1530,2196" stroke="#7e6044" stroke-opacity="0.09" stroke-width="2.5"/><path d="M884,1896 C998,1945 1108,2000 1220,2052" stroke="#f4e2c4" stroke-opacity="0.04" stroke-width="2.3"/><path d="M763,1857 C877,1904 986,1960 1096,2012" stroke="#9c7a55" stroke-opacity="0.13" stroke-width="2.6"/><path d="M566,1770 C752,1859 940,1945 1127,2032" stroke="#9c7a55" stroke-opacity="0.06" stroke-width="1.5"/></g>
<path d="M 895.0,1742.5 C 929.9,1720.8 972.5,1687.5 972.5,1642.5" fill="none" stroke="#1a1208" stroke-width="1.45" />
<path d="M 1719.3,1572.4 C 1719.3,1611.4 1761.5,1649.8 1796.0,1659.0" fill="none" stroke="#1a1208" stroke-width="1.45" />
<path d="M 1450.9,1735.2 C 1452.0,1794.6 1458.3,1839.7 1472.0,1854.0" fill="none" stroke="#1a1208" stroke-width="1.45" />
<polygon points="972.5,1642.5 1240.0,1478.8 1719.3,1572.4 1450.9,1735.2" fill="none" stroke="#1a1208" stroke-width="1.45" />
<polygon points="997.5,1640.0 1247.5,1488.0 1694.0,1574.9 1445.2,1727.2" fill="none" stroke="#1a1208" stroke-width="1.25" />
<line x1="972.5" y1="1642.5" x2="997.5" y2="1640.0" stroke="#1a1208" stroke-width="1.25"/>
<line x1="1240.0" y1="1478.8" x2="1247.5" y2="1488.0" stroke="#1a1208" stroke-width="1.25"/>
<line x1="1719.3" y1="1572.4" x2="1694.0" y2="1574.9" stroke="#1a1208" stroke-width="1.25"/>
<line x1="1450.9" y1="1735.2" x2="1445.2" y2="1727.2" stroke="#1a1208" stroke-width="1.25"/>
<line x1="1057.5" y1="1651.2" x2="1247.5" y2="1534.5" stroke="#1a1208" stroke-width="1.25"/>
<line x1="1247.5" y1="1534.5" x2="1635.7" y2="1609.6" stroke="#1a1208" stroke-width="1.25"/>
<line x1="1247.5" y1="1488.0" x2="1247.5" y2="1534.5" stroke="#1a1208" stroke-width="1.25"/>
<path d="M 895.0,1742.5 L 895.0,1884.0 L 1472.0,1995.0 L 1796.0,1802.0 L 1796.0,1659.0 L 1472.0,1854.0" fill="none" stroke="#1a1208" stroke-width="1.45" stroke-linejoin="round"/>
<line x1="895.0" y1="1742.5" x2="1472.0" y2="1854.0" stroke="#1a1208" stroke-width="1.45"/>
<line x1="1472.0" y1="1854.0" x2="1472.0" y2="1995.0" stroke="#1a1208" stroke-width="1.45"/>
<linearGradient id="cr27" gradientUnits="userSpaceOnUse" x1="2705.0" y1="1762.5" x2="2732.3" y2="1882.5"><stop offset="0" stop-color="#e0c8a6"/><stop offset="0.3" stop-color="#ead5b5"/><stop offset="0.6" stop-color="#e0c8a6"/><stop offset="1" stop-color="#d5bd9c"/></linearGradient>
<linearGradient id="cl27" gradientUnits="userSpaceOnUse" x1="2705.0" y1="1762.5" x2="2726.0" y2="1882.5"><stop offset="0" stop-color="#c3a98a"/><stop offset="0.5" stop-color="#bea586"/><stop offset="1" stop-color="#baa183"/></linearGradient>
<polygon points="2062.0,1753.0 2726.0,1882.5 2726.0,2022.5 2062.0,1895.0" fill="url(#gL)" stroke="none" stroke-width="0" />
<clipPath id="cp28"><path d="M 2062.0,1753.0 L 2726.0,1882.5 L 2726.0,2022.5 L 2062.0,1895.0 Z"/></clipPath>
<g clip-path="url(#cp28)" fill="none"><path d="M2264,1328 C2445,1362 2626,1395 2806,1434" stroke="#f4e2c4" stroke-opacity="0.05" stroke-width="2.4"/><path d="M1970,1275 C2204,1324 2440,1368 2676,1412" stroke="#9c7a55" stroke-opacity="0.04" stroke-width="1.5"/><path d="M1918,1276 C2134,1322 2351,1361 2568,1402" stroke="#8a6a48" stroke-opacity="0.03" stroke-width="1.8"/><path d="M2458,1389 C2806,1453 3154,1518 3500,1591" stroke="#7e6044" stroke-opacity="0.09" stroke-width="2.1"/><path d="M1941,1300 C2213,1353 2486,1403 2757,1459" stroke="#7e6044" stroke-opacity="0.08" stroke-width="1.9"/><path d="M2677,1449 C2882,1492 3088,1531 3294,1569" stroke="#f4e2c4" stroke-opacity="0.06" stroke-width="2.4"/><path d="M2594,1446 C2810,1489 3026,1532 3242,1572" stroke="#9c7a55" stroke-opacity="0.08" stroke-width="2.5"/><path d="M2398,1419 C2718,1476 3036,1547 3356,1605" stroke="#9c7a55" stroke-opacity="0.06" stroke-width="2.0"/><path d="M2439,1430 C2752,1492 3066,1552 3380,1613" stroke="#8a6a48" stroke-opacity="0.08" stroke-width="2.1"/><path d="M2020,1360 C2243,1405 2466,1450 2690,1490" stroke="#9c7a55" stroke-opacity="0.07" stroke-width="1.3"/><path d="M2411,1448 C2741,1515 3073,1575 3403,1641" stroke="#7e6044" stroke-opacity="0.06" stroke-width="0.8"/><path d="M2561,1488 C2715,1522 2870,1548 3024,1578" stroke="#9c7a55" stroke-opacity="0.03" stroke-width="1.1"/><path d="M1951,1374 C2178,1420 2405,1464 2632,1507" stroke="#7e6044" stroke-opacity="0.09" stroke-width="1.6"/><path d="M2519,1491 C2777,1539 3035,1588 3292,1641" stroke="#9c7a55" stroke-opacity="0.09" stroke-width="1.5"/><path d="M2648,1530 C2822,1562 2996,1593 3169,1631" stroke="#9c7a55" stroke-opacity="0.04" stroke-width="1.0"/><path d="M2405,1487 C2692,1549 2982,1601 3271,1655" stroke="#9c7a55" stroke-opacity="0.04" stroke-width="1.7"/><path d="M2132,1448 C2308,1477 2481,1519 2657,1550" stroke="#f4e2c4" stroke-opacity="0.05" stroke-width="1.9"/><path d="M1548,1339 C1875,1407 2205,1462 2532,1530" stroke="#8a6a48" stroke-opacity="0.07" stroke-width="1.2"/><path d="M1982,1438 C2267,1491 2551,1547 2836,1604" stroke="#7e6044" stroke-opacity="0.08" stroke-width="1.4"/><path d="M2004,1447 C2154,1481 2304,1510 2455,1535" stroke="#8a6a48" stroke-opacity="0.07" stroke-width="1.8"/><path d="M2096,1480 C2392,1540 2689,1596 2986,1653" stroke="#8a6a48" stroke-opacity="0.06" stroke-width="1.7"/><path d="M2541,1572 C2824,1624 3105,1685 3388,1737" stroke="#f4e2c4" stroke-opacity="0.09" stroke-width="1.3"/><path d="M1708,1421 C2044,1486 2380,1547 2714,1617" stroke="#9c7a55" stroke-opacity="0.04" stroke-width="1.2"/><path d="M2414,1562 C2709,1613 3000,1681 3295,1733" stroke="#9c7a55" stroke-opacity="0.05" stroke-width="2.5"/><path d="M2445,1578 C2630,1614 2813,1656 2999,1686" stroke="#8a6a48" stroke-opacity="0.05" stroke-width="2.3"/><path d="M1647,1440 C1890,1488 2132,1536 2375,1581" stroke="#7e6044" stroke-opacity="0.06" stroke-width="1.8"/><path d="M2590,1630 C2828,1679 3068,1721 3306,1769" stroke="#f4e2c4" stroke-opacity="0.07" stroke-width="1.6"/><path d="M1787,1480 C2064,1533 2340,1593 2619,1642" stroke="#8a6a48" stroke-opacity="0.10" stroke-width="1.3"/><path d="M1672,1472 C1853,1505 2031,1548 2213,1577" stroke="#9c7a55" stroke-opacity="0.06" stroke-width="1.1"/><path d="M2396,1619 C2653,1663 2908,1720 3164,1768" stroke="#7e6044" stroke-opacity="0.10" stroke-width="2.4"/><path d="M2573,1663 C2683,1683 2792,1709 2903,1727" stroke="#7e6044" stroke-opacity="0.06" stroke-width="1.4"/><path d="M2137,1589 C2300,1615 2462,1648 2623,1683" stroke="#7e6044" stroke-opacity="0.05" stroke-width="1.9"/><path d="M2190,1604 C2363,1642 2539,1666 2712,1705" stroke="#7e6044" stroke-opacity="0.03" stroke-width="2.0"/><path d="M1860,1550 C2152,1604 2441,1666 2732,1719" stroke="#9c7a55" stroke-opacity="0.05" stroke-width="0.9"/><path d="M1997,1590 C2172,1623 2347,1662 2523,1692" stroke="#f4e2c4" stroke-opacity="0.10" stroke-width="1.3"/><path d="M1658,1530 C1892,1578 2128,1616 2362,1667" stroke="#9c7a55" stroke-opacity="0.09" stroke-width="1.5"/><path d="M2127,1626 C2368,1679 2612,1715 2852,1767" stroke="#9c7a55" stroke-opacity="0.08" stroke-width="2.4"/><path d="M1559,1530 C1907,1595 2254,1666 2602,1733" stroke="#f4e2c4" stroke-opacity="0.05" stroke-width="1.0"/><path d="M2296,1678 C2613,1735 2928,1800 3243,1862" stroke="#8a6a48" stroke-opacity="0.03" stroke-width="2.6"/><path d="M2079,1644 C2359,1702 2640,1755 2921,1808" stroke="#f4e2c4" stroke-opacity="0.04" stroke-width="1.6"/><path d="M2340,1708 C2557,1745 2774,1786 2989,1834" stroke="#f4e2c4" stroke-opacity="0.06" stroke-width="1.3"/><path d="M1711,1595 C2006,1658 2302,1711 2598,1767" stroke="#f4e2c4" stroke-opacity="0.08" stroke-width="0.9"/><path d="M1726,1602 C1926,1647 2128,1682 2330,1720" stroke="#f4e2c4" stroke-opacity="0.04" stroke-width="1.0"/><path d="M1447,1565 C1751,1621 2053,1682 2356,1742" stroke="#f4e2c4" stroke-opacity="0.09" stroke-width="2.5"/><path d="M1820,1646 C2038,1689 2256,1731 2474,1773" stroke="#7e6044" stroke-opacity="0.06" stroke-width="1.2"/><path d="M1870,1662 C2158,1722 2449,1770 2738,1831" stroke="#f4e2c4" stroke-opacity="0.09" stroke-width="2.5"/><path d="M1946,1682 C2134,1719 2324,1750 2512,1792" stroke="#8a6a48" stroke-opacity="0.10" stroke-width="1.7"/><path d="M1950,1700 C2142,1736 2333,1777 2525,1812" stroke="#9c7a55" stroke-opacity="0.04" stroke-width="2.3"/><path d="M2236,1757 C2549,1821 2863,1882 3177,1940" stroke="#8a6a48" stroke-opacity="0.04" stroke-width="1.2"/><path d="M2309,1781 C2532,1829 2757,1865 2981,1911" stroke="#9c7a55" stroke-opacity="0.06" stroke-width="1.9"/><path d="M1864,1703 C2116,1752 2367,1802 2618,1850" stroke="#7e6044" stroke-opacity="0.05" stroke-width="1.4"/><path d="M2672,1874 C2825,1904 2977,1940 3131,1964" stroke="#f4e2c4" stroke-opacity="0.08" stroke-width="1.8"/><path d="M2446,1836 C2763,1902 3083,1955 3400,2022" stroke="#9c7a55" stroke-opacity="0.09" stroke-width="1.9"/><path d="M2130,1785 C2318,1820 2506,1857 2694,1895" stroke="#f4e2c4" stroke-opacity="0.05" stroke-width="2.6"/><path d="M1708,1716 C1939,1764 2171,1806 2403,1851" stroke="#9c7a55" stroke-opacity="0.07" stroke-width="1.9"/><path d="M2554,1887 C2696,1913 2837,1937 2977,1969" stroke="#8a6a48" stroke-opacity="0.03" stroke-width="2.4"/><path d="M2463,1882 C2655,1925 2851,1951 3044,1995" stroke="#7e6044" stroke-opacity="0.10" stroke-width="1.5"/><path d="M2459,1883 C2698,1930 2937,1979 3176,2023" stroke="#9c7a55" stroke-opacity="0.05" stroke-width="1.8"/><path d="M2538,1910 C2714,1945 2890,1984 3068,2013" stroke="#7e6044" stroke-opacity="0.07" stroke-width="1.7"/><path d="M2118,1835 C2377,1889 2638,1937 2898,1986" stroke="#8a6a48" stroke-opacity="0.08" stroke-width="1.8"/><path d="M2362,1898 C2612,1943 2860,1999 3111,2043" stroke="#9c7a55" stroke-opacity="0.09" stroke-width="1.5"/><path d="M2235,1881 C2410,1912 2584,1949 2759,1983" stroke="#7e6044" stroke-opacity="0.10" stroke-width="1.6"/><path d="M2029,1849 C2148,1871 2267,1891 2384,1918" stroke="#8a6a48" stroke-opacity="0.09" stroke-width="1.8"/><path d="M2057,1859 C2275,1903 2495,1941 2714,1987" stroke="#8a6a48" stroke-opacity="0.07" stroke-width="1.7"/><path d="M2424,1945 C2736,2004 3047,2067 3360,2127" stroke="#8a6a48" stroke-opacity="0.05" stroke-width="1.3"/><path d="M2538,1974 C2692,2000 2845,2036 3000,2064" stroke="#8a6a48" stroke-opacity="0.06" stroke-width="0.9"/><path d="M2413,1959 C2732,2016 3050,2084 3368,2145" stroke="#8a6a48" stroke-opacity="0.10" stroke-width="2.4"/><path d="M2188,1926 C2419,1976 2651,2021 2884,2061" stroke="#9c7a55" stroke-opacity="0.07" stroke-width="1.2"/><path d="M2295,1952 C2541,2004 2790,2047 3037,2096" stroke="#7e6044" stroke-opacity="0.07" stroke-width="2.0"/><path d="M1588,1827 C1790,1865 1992,1905 2193,1944" stroke="#9c7a55" stroke-opacity="0.04" stroke-width="1.0"/><path d="M1635,1847 C1873,1887 2110,1935 2346,1985" stroke="#7e6044" stroke-opacity="0.04" stroke-width="1.0"/><path d="M2260,1976 C2381,2002 2504,2021 2625,2047" stroke="#7e6044" stroke-opacity="0.05" stroke-width="2.0"/><path d="M1797,1891 C1965,1920 2131,1959 2299,1989" stroke="#7e6044" stroke-opacity="0.09" stroke-width="1.5"/><path d="M2093,1964 C2261,1996 2427,2034 2596,2062" stroke="#9c7a55" stroke-opacity="0.10" stroke-width="1.8"/><path d="M2072,1970 C2417,2036 2761,2105 3105,2171" stroke="#8a6a48" stroke-opacity="0.08" stroke-width="1.0"/><path d="M1911,1949 C2124,1990 2337,2027 2549,2073" stroke="#8a6a48" stroke-opacity="0.07" stroke-width="2.0"/><path d="M2451,2061 C2719,2110 2985,2169 3254,2217" stroke="#9c7a55" stroke-opacity="0.07" stroke-width="2.3"/><path d="M1996,1984 C2274,2038 2552,2094 2831,2146" stroke="#9c7a55" stroke-opacity="0.04" stroke-width="1.3"/><path d="M1537,1903 C1744,1950 1953,1987 2162,2025" stroke="#8a6a48" stroke-opacity="0.06" stroke-width="2.2"/><path d="M2051,2006 C2161,2031 2273,2045 2383,2070" stroke="#7e6044" stroke-opacity="0.06" stroke-width="1.8"/><path d="M2092,2028 C2413,2092 2735,2149 3055,2215" stroke="#f4e2c4" stroke-opacity="0.08" stroke-width="2.0"/><path d="M1537,1928 C1775,1980 2014,2020 2253,2067" stroke="#f4e2c4" stroke-opacity="0.05" stroke-width="1.4"/><path d="M2222,2070 C2390,2096 2557,2130 2723,2167" stroke="#f4e2c4" stroke-opacity="0.07" stroke-width="1.1"/><path d="M2291,2091 C2468,2122 2644,2156 2820,2194" stroke="#f4e2c4" stroke-opacity="0.09" stroke-width="2.5"/><path d="M2114,2066 C2237,2095 2361,2116 2486,2138" stroke="#9c7a55" stroke-opacity="0.06" stroke-width="1.3"/><path d="M1345,1930 C1668,1994 1990,2059 2313,2118" stroke="#9c7a55" stroke-opacity="0.09" stroke-width="1.1"/><path d="M1947,2049 C2174,2090 2399,2134 2624,2181" stroke="#7e6044" stroke-opacity="0.05" stroke-width="2.3"/><path d="M2406,2151 C2701,2208 2994,2269 3289,2322" stroke="#9c7a55" stroke-opacity="0.10" stroke-width="2.6"/><path d="M2087,2097 C2361,2146 2633,2200 2905,2256" stroke="#8a6a48" stroke-opacity="0.07" stroke-width="2.5"/><path d="M1932,2075 C2167,2116 2401,2160 2634,2212" stroke="#7e6044" stroke-opacity="0.03" stroke-width="2.0"/><path d="M2132,2122 C2328,2161 2524,2200 2721,2237" stroke="#7e6044" stroke-opacity="0.06" stroke-width="1.3"/><path d="M2211,2150 C2494,2204 2777,2261 3060,2315" stroke="#f4e2c4" stroke-opacity="0.10" stroke-width="2.4"/><path d="M2395,2197 C2507,2219 2620,2238 2732,2263" stroke="#7e6044" stroke-opacity="0.06" stroke-width="1.7"/><path d="M2145,2160 C2312,2198 2479,2231 2649,2258" stroke="#7e6044" stroke-opacity="0.05" stroke-width="2.1"/><path d="M2212,2178 C2439,2218 2665,2266 2892,2310" stroke="#9c7a55" stroke-opacity="0.03" stroke-width="1.4"/><path d="M2406,2226 C2570,2255 2732,2291 2896,2322" stroke="#f4e2c4" stroke-opacity="0.10" stroke-width="1.0"/><path d="M1587,2072 C1895,2138 2206,2193 2516,2253" stroke="#8a6a48" stroke-opacity="0.09" stroke-width="1.5"/><path d="M1485,2068 C1716,2113 1946,2160 2176,2203" stroke="#8a6a48" stroke-opacity="0.07" stroke-width="2.4"/><path d="M1838,2142 C2092,2186 2345,2241 2598,2290" stroke="#8a6a48" stroke-opacity="0.09" stroke-width="2.0"/><path d="M1618,2112 C1796,2147 1974,2181 2153,2216" stroke="#8a6a48" stroke-opacity="0.05" stroke-width="2.3"/><path d="M1748,2143 C2057,2199 2364,2263 2672,2322" stroke="#8a6a48" stroke-opacity="0.05" stroke-width="1.1"/><path d="M2101,2223 C2263,2254 2424,2291 2587,2317" stroke="#7e6044" stroke-opacity="0.10" stroke-width="1.5"/><path d="M2023,2213 C2239,2254 2455,2292 2669,2338" stroke="#9c7a55" stroke-opacity="0.04" stroke-width="2.3"/><path d="M1807,2179 C2059,2224 2310,2274 2561,2326" stroke="#f4e2c4" stroke-opacity="0.07" stroke-width="1.7"/><path d="M2355,2299 C2595,2341 2834,2389 3073,2438" stroke="#9c7a55" stroke-opacity="0.03" stroke-width="1.1"/><path d="M2440,2323 C2702,2371 2963,2421 3224,2475" stroke="#f4e2c4" stroke-opacity="0.08" stroke-width="1.9"/><path d="M1818,2216 C2148,2282 2479,2346 2810,2409" stroke="#f4e2c4" stroke-opacity="0.09" stroke-width="2.6"/><path d="M2386,2336 C2543,2364 2700,2391 2855,2427" stroke="#9c7a55" stroke-opacity="0.07" stroke-width="2.1"/><path d="M2471,2359 C2610,2385 2749,2415 2889,2440" stroke="#7e6044" stroke-opacity="0.09" stroke-width="2.5"/><path d="M1768,2228 C2007,2269 2243,2327 2483,2367" stroke="#f4e2c4" stroke-opacity="0.04" stroke-width="0.8"/><path d="M1901,2267 C2231,2325 2559,2392 2887,2458" stroke="#7e6044" stroke-opacity="0.04" stroke-width="2.5"/><path d="M2019,2293 C2349,2356 2678,2420 3008,2485" stroke="#f4e2c4" stroke-opacity="0.06" stroke-width="1.9"/><path d="M1851,2277 C2157,2335 2464,2393 2769,2456" stroke="#9c7a55" stroke-opacity="0.07" stroke-width="0.9"/><path d="M2224,2354 C2560,2413 2892,2489 3228,2549" stroke="#f4e2c4" stroke-opacity="0.09" stroke-width="2.2"/><path d="M2304,2377 C2454,2404 2603,2437 2752,2464" stroke="#9c7a55" stroke-opacity="0.04" stroke-width="2.1"/><path d="M2578,2438 C2698,2458 2818,2483 2937,2507" stroke="#9c7a55" stroke-opacity="0.05" stroke-width="2.2"/><path d="M1688,2275 C1923,2319 2157,2370 2393,2412" stroke="#7e6044" stroke-opacity="0.09" stroke-width="2.0"/><path d="M1788,2303 C2092,2360 2396,2416 2700,2480" stroke="#7e6044" stroke-opacity="0.09" stroke-width="1.5"/></g>
<polygon points="2726.0,1882.5 3099.2,1657.0 3099.2,1797.5 2726.0,2022.5" fill="url(#gR)" stroke="none" stroke-width="0" />
<clipPath id="cp29"><path d="M 2726.0,1882.5 L 3099.2,1657.0 L 3099.2,1797.5 L 2726.0,2022.5 Z"/></clipPath>
<g clip-path="url(#cp29)" fill="none"><path d="M2447,1690 C2628,1587 2806,1477 2984,1367" stroke="#f4e2c4" stroke-opacity="0.05" stroke-width="1.1"/><path d="M2488,1676 C2686,1562 2879,1438 3076,1322" stroke="#f4e2c4" stroke-opacity="0.09" stroke-width="2.2"/><path d="M2607,1614 C2720,1544 2834,1475 2949,1408" stroke="#7e6044" stroke-opacity="0.05" stroke-width="2.4"/><path d="M2254,1834 C2456,1711 2658,1586 2863,1468" stroke="#f4e2c4" stroke-opacity="0.05" stroke-width="1.6"/><path d="M2723,1571 C2916,1460 3107,1346 3295,1227" stroke="#9c7a55" stroke-opacity="0.07" stroke-width="1.9"/><path d="M2568,1673 C2653,1628 2729,1570 2813,1526" stroke="#9c7a55" stroke-opacity="0.07" stroke-width="2.0"/><path d="M2505,1720 C2714,1590 2925,1465 3137,1340" stroke="#9c7a55" stroke-opacity="0.06" stroke-width="1.4"/><path d="M2329,1840 C2450,1762 2575,1691 2699,1618" stroke="#7e6044" stroke-opacity="0.04" stroke-width="1.8"/><path d="M2305,1864 C2444,1787 2580,1706 2713,1619" stroke="#8a6a48" stroke-opacity="0.07" stroke-width="1.2"/><path d="M2177,1944 C2371,1828 2564,1713 2756,1596" stroke="#8a6a48" stroke-opacity="0.06" stroke-width="0.9"/><path d="M2842,1555 C2949,1490 3059,1428 3165,1361" stroke="#f4e2c4" stroke-opacity="0.05" stroke-width="1.8"/><path d="M2814,1591 C2886,1543 2964,1505 3036,1458" stroke="#9c7a55" stroke-opacity="0.06" stroke-width="1.6"/><path d="M2832,1590 C2999,1488 3165,1383 3336,1287" stroke="#7e6044" stroke-opacity="0.10" stroke-width="2.1"/><path d="M2445,1829 C2655,1702 2866,1579 3075,1451" stroke="#9c7a55" stroke-opacity="0.05" stroke-width="1.4"/><path d="M2864,1592 C2981,1527 3095,1457 3208,1386" stroke="#8a6a48" stroke-opacity="0.06" stroke-width="1.5"/><path d="M2893,1582 C2980,1531 3066,1478 3152,1426" stroke="#f4e2c4" stroke-opacity="0.03" stroke-width="1.2"/><path d="M2600,1766 C2754,1675 2906,1581 3060,1490" stroke="#9c7a55" stroke-opacity="0.03" stroke-width="1.7"/><path d="M2735,1695 C2948,1569 3161,1443 3371,1313" stroke="#8a6a48" stroke-opacity="0.07" stroke-width="1.0"/><path d="M2725,1717 C2925,1600 3125,1483 3321,1359" stroke="#f4e2c4" stroke-opacity="0.09" stroke-width="1.2"/><path d="M2770,1701 C2908,1620 3047,1541 3182,1454" stroke="#8a6a48" stroke-opacity="0.07" stroke-width="1.5"/><path d="M2853,1661 C2957,1597 3059,1531 3166,1473" stroke="#9c7a55" stroke-opacity="0.05" stroke-width="2.1"/><path d="M2407,1932 C2553,1840 2702,1752 2851,1665" stroke="#7e6044" stroke-opacity="0.05" stroke-width="1.6"/><path d="M2398,1954 C2588,1841 2777,1727 2966,1613" stroke="#7e6044" stroke-opacity="0.08" stroke-width="1.2"/><path d="M2599,1841 C2709,1774 2817,1704 2930,1642" stroke="#7e6044" stroke-opacity="0.08" stroke-width="1.5"/><path d="M2500,1913 C2652,1824 2804,1736 2953,1641" stroke="#7e6044" stroke-opacity="0.09" stroke-width="2.6"/><path d="M2590,1867 C2718,1785 2853,1715 2980,1632" stroke="#7e6044" stroke-opacity="0.08" stroke-width="2.5"/><path d="M2435,1973 C2554,1907 2671,1837 2785,1763" stroke="#f4e2c4" stroke-opacity="0.04" stroke-width="1.3"/><path d="M2386,2018 C2566,1907 2748,1799 2930,1691" stroke="#f4e2c4" stroke-opacity="0.09" stroke-width="1.2"/><path d="M2901,1713 C3055,1616 3210,1521 3368,1432" stroke="#f4e2c4" stroke-opacity="0.04" stroke-width="2.3"/><path d="M2730,1823 C2910,1712 3091,1604 3273,1497" stroke="#9c7a55" stroke-opacity="0.08" stroke-width="1.6"/><path d="M2909,1734 C3031,1668 3145,1590 3265,1521" stroke="#7e6044" stroke-opacity="0.07" stroke-width="1.9"/><path d="M2694,1871 C2819,1798 2944,1725 3066,1647" stroke="#9c7a55" stroke-opacity="0.07" stroke-width="1.4"/><path d="M2894,1758 C3009,1688 3124,1619 3239,1550" stroke="#7e6044" stroke-opacity="0.04" stroke-width="1.0"/><path d="M2413,2059 C2530,1990 2643,1914 2762,1848" stroke="#9c7a55" stroke-opacity="0.05" stroke-width="2.2"/><path d="M2606,1958 C2732,1887 2851,1805 2977,1735" stroke="#8a6a48" stroke-opacity="0.08" stroke-width="2.4"/><path d="M2573,1986 C2709,1912 2838,1828 2970,1748" stroke="#8a6a48" stroke-opacity="0.05" stroke-width="1.5"/><path d="M2477,2050 C2673,1928 2875,1816 3071,1693" stroke="#7e6044" stroke-opacity="0.05" stroke-width="1.5"/><path d="M2441,2086 C2570,2004 2701,1927 2833,1850" stroke="#9c7a55" stroke-opacity="0.09" stroke-width="2.1"/><path d="M2487,2068 C2652,1963 2823,1869 2990,1766" stroke="#9c7a55" stroke-opacity="0.09" stroke-width="1.4"/><path d="M2559,2036 C2769,1905 2980,1778 3194,1655" stroke="#f4e2c4" stroke-opacity="0.07" stroke-width="0.9"/><path d="M2543,2060 C2667,1982 2796,1912 2920,1834" stroke="#9c7a55" stroke-opacity="0.05" stroke-width="1.6"/><path d="M2408,2147 C2534,2070 2662,1999 2785,1920" stroke="#8a6a48" stroke-opacity="0.06" stroke-width="2.1"/><path d="M2527,2088 C2676,1992 2828,1900 2983,1814" stroke="#f4e2c4" stroke-opacity="0.07" stroke-width="0.8"/><path d="M2960,1842 C3089,1763 3221,1691 3348,1609" stroke="#8a6a48" stroke-opacity="0.09" stroke-width="1.3"/><path d="M2722,1992 C2847,1917 2969,1837 3096,1766" stroke="#f4e2c4" stroke-opacity="0.06" stroke-width="1.7"/><path d="M2521,2122 C2724,1997 2933,1881 3135,1753" stroke="#8a6a48" stroke-opacity="0.06" stroke-width="2.5"/><path d="M3002,1844 C3078,1792 3159,1749 3237,1702" stroke="#7e6044" stroke-opacity="0.08" stroke-width="2.3"/><path d="M3048,1830 C3150,1771 3251,1711 3350,1648" stroke="#f4e2c4" stroke-opacity="0.06" stroke-width="1.9"/><path d="M2604,2109 C2762,2009 2923,1916 3084,1821" stroke="#8a6a48" stroke-opacity="0.09" stroke-width="0.8"/><path d="M2778,2007 C2897,1932 3019,1862 3139,1790" stroke="#9c7a55" stroke-opacity="0.03" stroke-width="1.9"/><path d="M2895,1957 C3025,1882 3151,1800 3280,1725" stroke="#f4e2c4" stroke-opacity="0.07" stroke-width="1.1"/><path d="M2661,2098 C2816,2003 2972,1912 3127,1818" stroke="#8a6a48" stroke-opacity="0.03" stroke-width="1.0"/><path d="M2853,1994 C3061,1873 3266,1745 3473,1622" stroke="#9c7a55" stroke-opacity="0.07" stroke-width="1.1"/><path d="M2567,2186 C2733,2089 2895,1984 3062,1888" stroke="#9c7a55" stroke-opacity="0.05" stroke-width="2.0"/><path d="M2839,2023 C2995,1924 3154,1832 3313,1738" stroke="#7e6044" stroke-opacity="0.09" stroke-width="2.4"/><path d="M2523,2223 C2671,2133 2820,2043 2969,1955" stroke="#7e6044" stroke-opacity="0.10" stroke-width="2.3"/><path d="M2815,2066 C3025,1940 3235,1816 3444,1689" stroke="#7e6044" stroke-opacity="0.05" stroke-width="1.1"/><path d="M3092,1906 C3165,1862 3241,1823 3312,1774" stroke="#7e6044" stroke-opacity="0.05" stroke-width="2.5"/><path d="M2910,2024 C3110,1906 3310,1787 3508,1665" stroke="#f4e2c4" stroke-opacity="0.10" stroke-width="2.2"/><path d="M2757,2129 C2844,2075 2934,2027 3021,1971" stroke="#7e6044" stroke-opacity="0.10" stroke-width="2.0"/><path d="M2695,2181 C2855,2087 3012,1987 3173,1894" stroke="#9c7a55" stroke-opacity="0.03" stroke-width="2.2"/><path d="M2498,2304 C2653,2208 2812,2122 2965,2023" stroke="#7e6044" stroke-opacity="0.08" stroke-width="1.2"/><path d="M2556,2286 C2681,2208 2809,2136 2934,2058" stroke="#9c7a55" stroke-opacity="0.10" stroke-width="1.4"/><path d="M2480,2342 C2639,2250 2792,2149 2951,2059" stroke="#9c7a55" stroke-opacity="0.10" stroke-width="2.0"/><path d="M2812,2146 C2896,2093 2986,2048 3068,1992" stroke="#9c7a55" stroke-opacity="0.04" stroke-width="1.7"/><path d="M3116,1973 C3267,1889 3412,1793 3561,1706" stroke="#7e6044" stroke-opacity="0.06" stroke-width="2.4"/><path d="M2983,2065 C3158,1955 3334,1848 3514,1746" stroke="#7e6044" stroke-opacity="0.10" stroke-width="2.3"/><path d="M3160,1971 C3250,1921 3336,1865 3424,1812" stroke="#f4e2c4" stroke-opacity="0.05" stroke-width="1.4"/><path d="M2523,2362 C2680,2267 2840,2177 2994,2079" stroke="#9c7a55" stroke-opacity="0.09" stroke-width="0.8"/><path d="M2850,2183 C2952,2120 3058,2064 3159,1998" stroke="#7e6044" stroke-opacity="0.03" stroke-width="2.5"/><path d="M2946,2134 C3110,2036 3270,1933 3437,1839" stroke="#9c7a55" stroke-opacity="0.05" stroke-width="1.1"/><path d="M2719,2285 C2829,2223 2938,2157 3045,2089" stroke="#8a6a48" stroke-opacity="0.04" stroke-width="1.2"/><path d="M2988,2126 C3196,1996 3410,1873 3620,1746" stroke="#7e6044" stroke-opacity="0.08" stroke-width="2.0"/><path d="M2675,2332 C2823,2247 2968,2159 3113,2069" stroke="#9c7a55" stroke-opacity="0.04" stroke-width="1.8"/><path d="M2760,2289 C2833,2242 2911,2202 2984,2154" stroke="#8a6a48" stroke-opacity="0.10" stroke-width="1.4"/><path d="M2896,2217 C3012,2154 3123,2084 3235,2014" stroke="#8a6a48" stroke-opacity="0.06" stroke-width="2.3"/><path d="M2905,2220 C3087,2117 3264,2007 3442,1898" stroke="#7e6044" stroke-opacity="0.06" stroke-width="1.7"/><path d="M2725,2345 C2830,2279 2939,2219 3044,2153" stroke="#8a6a48" stroke-opacity="0.04" stroke-width="0.9"/><path d="M3212,2060 C3303,2004 3395,1952 3485,1896" stroke="#7e6044" stroke-opacity="0.07" stroke-width="1.8"/><path d="M3058,2165 C3181,2090 3304,2015 3429,1942" stroke="#f4e2c4" stroke-opacity="0.09" stroke-width="2.1"/><path d="M2879,2278 C2972,2218 3067,2159 3165,2106" stroke="#f4e2c4" stroke-opacity="0.04" stroke-width="2.6"/><path d="M3140,2134 C3274,2059 3404,1978 3534,1897" stroke="#7e6044" stroke-opacity="0.06" stroke-width="1.8"/></g>
<path d="M 2062.0,1753.0 C 2096.5,1731.5 2138.8,1697.7 2138.8,1652.5 L 2705.0,1762.5 C 2706.1,1822.5 2712.3,1868.1 2726.0,1882.5 Z" fill="url(#cl27)" stroke="none" stroke-width="0" />
<clipPath id="cp30"><path d="M 2062.0,1753.0 C 2096.5,1731.5 2138.8,1697.7 2138.8,1652.5 L 2705.0,1762.5 C 2706.1,1822.5 2712.3,1868.1 2726.0,1882.5 Z"/></clipPath>
<g clip-path="url(#cp30)" fill="none"><path d="M2176,1187 C2372,1224 2569,1260 2765,1301" stroke="#8a6a48" stroke-opacity="0.09" stroke-width="2.1"/><path d="M2253,1214 C2588,1285 2924,1345 3259,1410" stroke="#7e6044" stroke-opacity="0.08" stroke-width="2.3"/><path d="M1733,1118 C1903,1145 2071,1186 2241,1216" stroke="#9c7a55" stroke-opacity="0.04" stroke-width="2.1"/><path d="M1925,1166 C2256,1230 2587,1296 2918,1359" stroke="#8a6a48" stroke-opacity="0.05" stroke-width="0.9"/><path d="M2064,1208 C2206,1240 2350,1262 2492,1291" stroke="#9c7a55" stroke-opacity="0.05" stroke-width="2.4"/><path d="M1891,1175 C2133,1223 2377,1269 2620,1316" stroke="#9c7a55" stroke-opacity="0.09" stroke-width="2.5"/><path d="M2182,1247 C2452,1299 2722,1350 2991,1404" stroke="#f4e2c4" stroke-opacity="0.06" stroke-width="0.8"/><path d="M1672,1151 C1902,1202 2135,1236 2365,1286" stroke="#f4e2c4" stroke-opacity="0.06" stroke-width="1.2"/><path d="M2108,1246 C2258,1274 2408,1302 2557,1333" stroke="#8a6a48" stroke-opacity="0.08" stroke-width="1.4"/><path d="M2109,1258 C2396,1312 2682,1372 2970,1425" stroke="#8a6a48" stroke-opacity="0.04" stroke-width="1.8"/><path d="M1863,1217 C2190,1278 2517,1339 2842,1408" stroke="#f4e2c4" stroke-opacity="0.06" stroke-width="0.8"/><path d="M2403,1337 C2702,1400 3003,1449 3302,1512" stroke="#9c7a55" stroke-opacity="0.05" stroke-width="0.9"/><path d="M2028,1272 C2339,1327 2648,1394 2959,1453" stroke="#7e6044" stroke-opacity="0.10" stroke-width="2.1"/><path d="M1907,1258 C2171,1313 2436,1361 2701,1412" stroke="#f4e2c4" stroke-opacity="0.08" stroke-width="0.9"/><path d="M2317,1348 C2615,1410 2913,1467 3212,1522" stroke="#8a6a48" stroke-opacity="0.05" stroke-width="1.8"/><path d="M2700,1429 C2841,1451 2981,1482 3122,1511" stroke="#7e6044" stroke-opacity="0.05" stroke-width="1.7"/><path d="M1951,1292 C2191,1342 2433,1384 2673,1433" stroke="#8a6a48" stroke-opacity="0.09" stroke-width="1.4"/><path d="M2595,1430 C2702,1449 2808,1471 2914,1492" stroke="#7e6044" stroke-opacity="0.08" stroke-width="1.9"/><path d="M2420,1396 C2676,1442 2932,1492 3187,1546" stroke="#f4e2c4" stroke-opacity="0.07" stroke-width="1.9"/><path d="M2206,1370 C2392,1409 2579,1444 2765,1478" stroke="#9c7a55" stroke-opacity="0.04" stroke-width="1.2"/><path d="M2236,1383 C2397,1415 2559,1440 2719,1476" stroke="#f4e2c4" stroke-opacity="0.09" stroke-width="1.8"/><path d="M2171,1382 C2392,1424 2612,1467 2833,1511" stroke="#8a6a48" stroke-opacity="0.10" stroke-width="1.5"/><path d="M2144,1381 C2458,1447 2775,1497 3088,1564" stroke="#7e6044" stroke-opacity="0.06" stroke-width="1.9"/><path d="M2401,1441 C2652,1489 2904,1535 3154,1587" stroke="#7e6044" stroke-opacity="0.04" stroke-width="2.1"/><path d="M1866,1348 C2090,1391 2314,1434 2537,1479" stroke="#7e6044" stroke-opacity="0.04" stroke-width="2.4"/><path d="M2598,1504 C2742,1529 2884,1565 3029,1588" stroke="#7e6044" stroke-opacity="0.08" stroke-width="2.6"/><path d="M2414,1470 C2670,1517 2926,1569 3181,1619" stroke="#9c7a55" stroke-opacity="0.04" stroke-width="1.4"/><path d="M2646,1527 C2835,1563 3023,1601 3212,1637" stroke="#8a6a48" stroke-opacity="0.06" stroke-width="1.4"/><path d="M2330,1479 C2440,1501 2548,1526 2659,1543" stroke="#8a6a48" stroke-opacity="0.05" stroke-width="2.4"/><path d="M1571,1338 C1836,1386 2099,1445 2364,1492" stroke="#f4e2c4" stroke-opacity="0.07" stroke-width="1.9"/><path d="M2233,1473 C2381,1502 2528,1534 2677,1559" stroke="#f4e2c4" stroke-opacity="0.07" stroke-width="2.2"/><path d="M1613,1364 C1961,1428 2307,1501 2655,1567" stroke="#9c7a55" stroke-opacity="0.04" stroke-width="2.6"/><path d="M2234,1498 C2470,1546 2707,1590 2943,1636" stroke="#9c7a55" stroke-opacity="0.10" stroke-width="1.2"/><path d="M2208,1499 C2469,1552 2731,1600 2992,1651" stroke="#7e6044" stroke-opacity="0.04" stroke-width="1.1"/><path d="M1895,1447 C2090,1481 2283,1520 2477,1560" stroke="#9c7a55" stroke-opacity="0.10" stroke-width="1.6"/><path d="M2044,1480 C2304,1530 2563,1579 2822,1632" stroke="#7e6044" stroke-opacity="0.06" stroke-width="1.9"/><path d="M1755,1433 C2074,1493 2391,1555 2709,1618" stroke="#f4e2c4" stroke-opacity="0.10" stroke-width="2.6"/><path d="M2718,1633 C2851,1662 2986,1682 3119,1711" stroke="#8a6a48" stroke-opacity="0.06" stroke-width="2.0"/><path d="M2527,1606 C2748,1645 2967,1689 3186,1734" stroke="#9c7a55" stroke-opacity="0.07" stroke-width="2.2"/><path d="M1727,1455 C1964,1499 2202,1542 2437,1593" stroke="#7e6044" stroke-opacity="0.04" stroke-width="2.1"/><path d="M2331,1584 C2506,1622 2680,1657 2856,1686" stroke="#9c7a55" stroke-opacity="0.04" stroke-width="2.5"/><path d="M2155,1560 C2345,1592 2533,1631 2722,1670" stroke="#8a6a48" stroke-opacity="0.08" stroke-width="1.5"/><path d="M2164,1573 C2361,1617 2560,1646 2757,1688" stroke="#f4e2c4" stroke-opacity="0.09" stroke-width="1.8"/><path d="M1677,1486 C2007,1551 2336,1619 2668,1679" stroke="#9c7a55" stroke-opacity="0.10" stroke-width="1.3"/><path d="M2375,1633 C2548,1663 2720,1697 2891,1734" stroke="#f4e2c4" stroke-opacity="0.06" stroke-width="1.2"/><path d="M2322,1632 C2647,1701 2974,1764 3301,1822" stroke="#f4e2c4" stroke-opacity="0.07" stroke-width="2.4"/><path d="M2204,1614 C2314,1631 2422,1653 2531,1677" stroke="#9c7a55" stroke-opacity="0.05" stroke-width="1.6"/><path d="M1756,1535 C1899,1567 2045,1588 2188,1619" stroke="#7e6044" stroke-opacity="0.03" stroke-width="2.4"/><path d="M2118,1617 C2318,1658 2518,1693 2717,1734" stroke="#f4e2c4" stroke-opacity="0.06" stroke-width="1.0"/><path d="M2148,1634 C2443,1686 2738,1742 3031,1805" stroke="#7e6044" stroke-opacity="0.09" stroke-width="1.0"/><path d="M2226,1657 C2513,1718 2802,1773 3091,1825" stroke="#f4e2c4" stroke-opacity="0.05" stroke-width="2.4"/><path d="M2385,1693 C2609,1737 2834,1778 3058,1823" stroke="#9c7a55" stroke-opacity="0.07" stroke-width="1.6"/><path d="M2223,1671 C2330,1686 2436,1707 2541,1732" stroke="#8a6a48" stroke-opacity="0.05" stroke-width="1.1"/><path d="M2078,1660 C2383,1714 2687,1778 2991,1837" stroke="#7e6044" stroke-opacity="0.03" stroke-width="2.3"/><path d="M2523,1756 C2659,1788 2798,1806 2935,1836" stroke="#f4e2c4" stroke-opacity="0.04" stroke-width="2.1"/><path d="M2195,1697 C2363,1728 2530,1763 2698,1795" stroke="#f4e2c4" stroke-opacity="0.04" stroke-width="0.8"/><path d="M1825,1636 C2143,1700 2462,1756 2780,1822" stroke="#9c7a55" stroke-opacity="0.08" stroke-width="1.8"/><path d="M2370,1745 C2647,1797 2923,1857 3200,1906" stroke="#8a6a48" stroke-opacity="0.04" stroke-width="1.1"/><path d="M2538,1795 C2788,1848 3040,1890 3291,1941" stroke="#8a6a48" stroke-opacity="0.04" stroke-width="1.3"/><path d="M2067,1711 C2246,1746 2424,1786 2605,1816" stroke="#f4e2c4" stroke-opacity="0.06" stroke-width="2.3"/><path d="M1830,1676 C2065,1727 2301,1766 2536,1813" stroke="#7e6044" stroke-opacity="0.06" stroke-width="1.3"/><path d="M2046,1720 C2216,1752 2384,1790 2554,1819" stroke="#7e6044" stroke-opacity="0.06" stroke-width="1.5"/><path d="M1831,1687 C1952,1714 2074,1738 2196,1758" stroke="#7e6044" stroke-opacity="0.06" stroke-width="1.6"/><path d="M1792,1688 C2039,1739 2289,1782 2536,1833" stroke="#9c7a55" stroke-opacity="0.07" stroke-width="2.1"/><path d="M2478,1833 C2594,1853 2709,1884 2826,1900" stroke="#8a6a48" stroke-opacity="0.08" stroke-width="1.4"/><path d="M2104,1775 C2229,1796 2353,1822 2477,1848" stroke="#8a6a48" stroke-opacity="0.09" stroke-width="0.9"/><path d="M2401,1834 C2611,1877 2823,1914 3033,1957" stroke="#9c7a55" stroke-opacity="0.08" stroke-width="1.0"/><path d="M2019,1777 C2327,1835 2634,1893 2940,1956" stroke="#f4e2c4" stroke-opacity="0.07" stroke-width="2.2"/><path d="M1969,1769 C2200,1810 2430,1854 2659,1904" stroke="#7e6044" stroke-opacity="0.08" stroke-width="1.2"/><path d="M1711,1733 C2054,1795 2393,1869 2735,1933" stroke="#f4e2c4" stroke-opacity="0.04" stroke-width="1.7"/><path d="M2500,1893 C2665,1922 2828,1962 2993,1989" stroke="#7e6044" stroke-opacity="0.08" stroke-width="1.3"/><path d="M1676,1742 C1935,1798 2197,1841 2457,1894" stroke="#9c7a55" stroke-opacity="0.06" stroke-width="1.3"/><path d="M2320,1878 C2443,1906 2569,1922 2692,1950" stroke="#7e6044" stroke-opacity="0.04" stroke-width="1.1"/><path d="M1962,1819 C2112,1846 2261,1875 2411,1906" stroke="#7e6044" stroke-opacity="0.06" stroke-width="2.4"/><path d="M1771,1791 C2059,1849 2349,1903 2639,1959" stroke="#8a6a48" stroke-opacity="0.04" stroke-width="2.4"/><path d="M2183,1879 C2326,1901 2468,1932 2609,1962" stroke="#9c7a55" stroke-opacity="0.05" stroke-width="1.4"/><path d="M2085,1870 C2357,1927 2629,1976 2901,2029" stroke="#9c7a55" stroke-opacity="0.08" stroke-width="2.1"/><path d="M1529,1773 C1851,1840 2173,1903 2495,1961" stroke="#8a6a48" stroke-opacity="0.07" stroke-width="0.8"/><path d="M2302,1926 C2412,1952 2524,1963 2633,1990" stroke="#9c7a55" stroke-opacity="0.09" stroke-width="1.8"/><path d="M2209,1921 C2539,1982 2867,2051 3196,2113" stroke="#7e6044" stroke-opacity="0.06" stroke-width="2.6"/><path d="M2274,1940 C2426,1970 2577,2003 2730,2028" stroke="#f4e2c4" stroke-opacity="0.04" stroke-width="0.8"/><path d="M1582,1814 C1905,1881 2230,1944 2556,2003" stroke="#9c7a55" stroke-opacity="0.08" stroke-width="1.8"/><path d="M1723,1856 C1848,1884 1974,1909 2101,1929" stroke="#f4e2c4" stroke-opacity="0.04" stroke-width="1.9"/><path d="M2481,2013 C2656,2049 2831,2086 3007,2116" stroke="#f4e2c4" stroke-opacity="0.05" stroke-width="2.5"/><path d="M2138,1954 C2353,1999 2569,2039 2785,2080" stroke="#8a6a48" stroke-opacity="0.04" stroke-width="1.1"/><path d="M1881,1915 C2228,1978 2575,2044 2921,2117" stroke="#f4e2c4" stroke-opacity="0.09" stroke-width="1.1"/><path d="M2602,2062 C2754,2090 2906,2117 3056,2150" stroke="#8a6a48" stroke-opacity="0.06" stroke-width="2.1"/><path d="M2454,2038 C2579,2066 2704,2090 2830,2111" stroke="#9c7a55" stroke-opacity="0.03" stroke-width="2.3"/><path d="M2424,2040 C2579,2066 2733,2095 2886,2130" stroke="#9c7a55" stroke-opacity="0.04" stroke-width="1.2"/><path d="M2032,1981 C2332,2039 2633,2094 2932,2156" stroke="#9c7a55" stroke-opacity="0.06" stroke-width="2.5"/><path d="M1709,1920 C1974,1967 2236,2028 2501,2074" stroke="#8a6a48" stroke-opacity="0.09" stroke-width="1.3"/><path d="M1634,1916 C1969,1983 2304,2047 2639,2111" stroke="#8a6a48" stroke-opacity="0.06" stroke-width="0.8"/><path d="M1393,1879 C1724,1940 2054,2005 2385,2072" stroke="#9c7a55" stroke-opacity="0.09" stroke-width="2.0"/><path d="M1790,1967 C1912,1997 2036,2014 2158,2039" stroke="#7e6044" stroke-opacity="0.07" stroke-width="1.4"/><path d="M1839,1987 C2180,2055 2522,2125 2865,2186" stroke="#7e6044" stroke-opacity="0.08" stroke-width="1.9"/><path d="M2364,2092 C2555,2128 2745,2170 2937,2204" stroke="#7e6044" stroke-opacity="0.10" stroke-width="1.7"/><path d="M2262,2090 C2467,2128 2673,2165 2877,2210" stroke="#9c7a55" stroke-opacity="0.08" stroke-width="1.2"/><path d="M1747,2000 C2018,2048 2287,2106 2557,2157" stroke="#9c7a55" stroke-opacity="0.09" stroke-width="2.1"/><path d="M1669,1991 C1803,2015 1935,2042 2068,2069" stroke="#8a6a48" stroke-opacity="0.03" stroke-width="2.0"/><path d="M2018,2070 C2310,2130 2602,2186 2895,2241" stroke="#f4e2c4" stroke-opacity="0.08" stroke-width="1.5"/><path d="M1517,1981 C1790,2040 2066,2088 2341,2141" stroke="#7e6044" stroke-opacity="0.10" stroke-width="2.2"/><path d="M1585,2005 C1921,2074 2258,2132 2594,2201" stroke="#9c7a55" stroke-opacity="0.05" stroke-width="2.2"/><path d="M1967,2081 C2279,2141 2589,2206 2902,2262" stroke="#8a6a48" stroke-opacity="0.03" stroke-width="1.2"/><path d="M1612,2027 C1780,2064 1951,2089 2119,2126" stroke="#7e6044" stroke-opacity="0.05" stroke-width="1.5"/><path d="M2381,2185 C2573,2222 2766,2256 2958,2298" stroke="#8a6a48" stroke-opacity="0.06" stroke-width="2.4"/><path d="M2398,2199 C2611,2234 2824,2276 3035,2323" stroke="#9c7a55" stroke-opacity="0.04" stroke-width="1.1"/><path d="M2261,2176 C2454,2216 2647,2252 2840,2289" stroke="#7e6044" stroke-opacity="0.03" stroke-width="2.1"/><path d="M2200,2173 C2370,2204 2541,2236 2710,2272" stroke="#9c7a55" stroke-opacity="0.07" stroke-width="2.2"/><path d="M1872,2123 C2057,2162 2244,2196 2429,2232" stroke="#9c7a55" stroke-opacity="0.06" stroke-width="1.1"/><path d="M1611,2077 C1749,2099 1884,2132 2021,2156" stroke="#9c7a55" stroke-opacity="0.06" stroke-width="1.8"/><path d="M2461,2255 C2702,2299 2942,2353 3183,2396" stroke="#7e6044" stroke-opacity="0.06" stroke-width="1.4"/><path d="M2023,2177 C2170,2211 2318,2239 2467,2264" stroke="#8a6a48" stroke-opacity="0.09" stroke-width="1.8"/><path d="M2257,2234 C2574,2299 2894,2354 3211,2420" stroke="#f4e2c4" stroke-opacity="0.05" stroke-width="1.0"/><path d="M1668,2129 C1954,2191 2242,2237 2528,2297" stroke="#7e6044" stroke-opacity="0.05" stroke-width="2.4"/><path d="M1593,2124 C1881,2185 2172,2232 2460,2292" stroke="#f4e2c4" stroke-opacity="0.04" stroke-width="1.9"/><path d="M1428,2096 C1699,2148 1970,2202 2241,2254" stroke="#8a6a48" stroke-opacity="0.04" stroke-width="2.3"/><path d="M1586,2141 C1886,2197 2185,2260 2486,2316" stroke="#8a6a48" stroke-opacity="0.08" stroke-width="2.3"/><path d="M1676,2165 C1793,2185 1907,2216 2025,2233" stroke="#7e6044" stroke-opacity="0.03" stroke-width="2.1"/></g>
<path d="M 2726.0,1882.5 C 2712.3,1868.1 2706.1,1822.5 2705.0,1762.5 L 3023.2,1570.0 C 3023.2,1609.2 3065.1,1647.9 3099.2,1657.0 Z" fill="url(#cr27)" stroke="none" stroke-width="0" />
<clipPath id="cp31"><path d="M 2726.0,1882.5 C 2712.3,1868.1 2706.1,1822.5 2705.0,1762.5 L 3023.2,1570.0 C 3023.2,1609.2 3065.1,1647.9 3099.2,1657.0 Z"/></clipPath>
<g clip-path="url(#cp31)" fill="none"><path d="M2775,1383 C2872,1319 2973,1258 3076,1202" stroke="#9c7a55" stroke-opacity="0.03" stroke-width="1.9"/><path d="M2353,1642 C2526,1538 2696,1430 2871,1331" stroke="#7e6044" stroke-opacity="0.05" stroke-width="1.5"/><path d="M2545,1539 C2613,1499 2683,1460 2749,1417" stroke="#f4e2c4" stroke-opacity="0.07" stroke-width="2.0"/><path d="M2448,1611 C2642,1495 2833,1374 3028,1262" stroke="#8a6a48" stroke-opacity="0.07" stroke-width="2.2"/><path d="M2637,1508 C2750,1442 2865,1378 2975,1305" stroke="#9c7a55" stroke-opacity="0.04" stroke-width="2.2"/><path d="M2823,1399 C2958,1313 3099,1237 3234,1151" stroke="#7e6044" stroke-opacity="0.06" stroke-width="1.7"/><path d="M2856,1399 C2927,1361 2995,1319 3062,1275" stroke="#9c7a55" stroke-opacity="0.08" stroke-width="1.7"/><path d="M2828,1423 C2985,1325 3147,1235 3304,1137" stroke="#7e6044" stroke-opacity="0.05" stroke-width="2.5"/><path d="M2262,1768 C2384,1689 2510,1615 2636,1543" stroke="#9c7a55" stroke-opacity="0.06" stroke-width="1.5"/><path d="M2760,1486 C2887,1414 3011,1337 3135,1261" stroke="#f4e2c4" stroke-opacity="0.05" stroke-width="2.0"/><path d="M2759,1493 C2931,1384 3106,1282 3281,1180" stroke="#7e6044" stroke-opacity="0.06" stroke-width="2.6"/><path d="M2517,1654 C2665,1572 2810,1484 2953,1392" stroke="#7e6044" stroke-opacity="0.05" stroke-width="1.5"/><path d="M2395,1736 C2553,1641 2711,1545 2870,1451" stroke="#8a6a48" stroke-opacity="0.07" stroke-width="1.8"/><path d="M2214,1853 C2399,1744 2580,1627 2767,1521" stroke="#f4e2c4" stroke-opacity="0.08" stroke-width="1.9"/><path d="M2718,1558 C2852,1481 2983,1400 3115,1319" stroke="#7e6044" stroke-opacity="0.09" stroke-width="2.4"/><path d="M2789,1534 C2970,1426 3150,1317 3330,1209" stroke="#9c7a55" stroke-opacity="0.06" stroke-width="1.6"/><path d="M2638,1628 C2704,1583 2777,1548 2845,1504" stroke="#7e6044" stroke-opacity="0.09" stroke-width="1.6"/><path d="M2771,1564 C2901,1485 3030,1405 3162,1330" stroke="#9c7a55" stroke-opacity="0.09" stroke-width="2.0"/><path d="M2855,1527 C2949,1469 3047,1419 3138,1357" stroke="#8a6a48" stroke-opacity="0.09" stroke-width="1.4"/><path d="M2580,1702 C2649,1667 2714,1625 2779,1583" stroke="#9c7a55" stroke-opacity="0.09" stroke-width="1.1"/><path d="M2435,1795 C2571,1710 2708,1625 2848,1546" stroke="#9c7a55" stroke-opacity="0.06" stroke-width="2.5"/><path d="M2593,1708 C2770,1603 2943,1494 3120,1391" stroke="#f4e2c4" stroke-opacity="0.05" stroke-width="2.4"/><path d="M2615,1708 C2793,1605 2965,1491 3143,1390" stroke="#9c7a55" stroke-opacity="0.08" stroke-width="2.1"/><path d="M2519,1773 C2673,1677 2828,1582 2986,1493" stroke="#9c7a55" stroke-opacity="0.06" stroke-width="2.3"/><path d="M2308,1909 C2464,1817 2617,1718 2775,1629" stroke="#f4e2c4" stroke-opacity="0.09" stroke-width="1.2"/><path d="M2658,1715 C2852,1596 3049,1484 3243,1364" stroke="#8a6a48" stroke-opacity="0.07" stroke-width="1.2"/><path d="M2964,1543 C3033,1497 3105,1454 3178,1414" stroke="#f4e2c4" stroke-opacity="0.08" stroke-width="2.2"/><path d="M2539,1810 C2683,1722 2830,1639 2973,1549" stroke="#9c7a55" stroke-opacity="0.10" stroke-width="2.0"/><path d="M2505,1836 C2607,1781 2705,1717 2804,1657" stroke="#7e6044" stroke-opacity="0.03" stroke-width="2.1"/><path d="M2897,1617 C3044,1534 3184,1440 3330,1356" stroke="#8a6a48" stroke-opacity="0.03" stroke-width="2.3"/><path d="M2813,1670 C2906,1610 3003,1559 3096,1500" stroke="#f4e2c4" stroke-opacity="0.09" stroke-width="1.8"/><path d="M2533,1852 C2615,1805 2697,1757 2777,1705" stroke="#9c7a55" stroke-opacity="0.09" stroke-width="1.2"/><path d="M2827,1687 C3008,1575 3194,1470 3375,1358" stroke="#7e6044" stroke-opacity="0.08" stroke-width="1.0"/><path d="M2571,1848 C2735,1756 2897,1659 3056,1557" stroke="#9c7a55" stroke-opacity="0.08" stroke-width="1.4"/><path d="M2445,1935 C2622,1822 2804,1717 2985,1610" stroke="#8a6a48" stroke-opacity="0.06" stroke-width="1.1"/><path d="M2724,1779 C2865,1690 3010,1607 3153,1521" stroke="#f4e2c4" stroke-opacity="0.06" stroke-width="2.6"/><path d="M2883,1692 C3005,1623 3120,1544 3242,1476" stroke="#7e6044" stroke-opacity="0.07" stroke-width="1.4"/><path d="M2904,1697 C3062,1604 3220,1512 3375,1414" stroke="#8a6a48" stroke-opacity="0.09" stroke-width="2.4"/><path d="M2413,1996 C2554,1912 2696,1830 2834,1743" stroke="#f4e2c4" stroke-opacity="0.03" stroke-width="1.6"/><path d="M2926,1702 C3077,1608 3228,1514 3384,1427" stroke="#f4e2c4" stroke-opacity="0.07" stroke-width="2.2"/><path d="M2661,1875 C2787,1799 2914,1726 3038,1649" stroke="#8a6a48" stroke-opacity="0.04" stroke-width="0.9"/><path d="M2439,2019 C2615,1913 2788,1803 2967,1701" stroke="#7e6044" stroke-opacity="0.05" stroke-width="1.4"/><path d="M2445,2025 C2652,1900 2857,1772 3067,1652" stroke="#7e6044" stroke-opacity="0.09" stroke-width="2.3"/><path d="M2829,1804 C2951,1737 3065,1657 3186,1589" stroke="#8a6a48" stroke-opacity="0.06" stroke-width="1.9"/><path d="M2332,2116 C2534,1995 2739,1879 2937,1753" stroke="#9c7a55" stroke-opacity="0.09" stroke-width="1.3"/><path d="M2578,1976 C2772,1863 2962,1741 3157,1628" stroke="#9c7a55" stroke-opacity="0.07" stroke-width="1.6"/><path d="M2714,1906 C2788,1856 2866,1811 2945,1767" stroke="#f4e2c4" stroke-opacity="0.05" stroke-width="2.5"/><path d="M2973,1755 C3081,1695 3185,1632 3288,1565" stroke="#f4e2c4" stroke-opacity="0.04" stroke-width="2.1"/><path d="M2880,1827 C2956,1777 3040,1738 3115,1686" stroke="#7e6044" stroke-opacity="0.07" stroke-width="1.4"/><path d="M2638,1979 C2768,1903 2898,1829 3025,1747" stroke="#9c7a55" stroke-opacity="0.08" stroke-width="1.9"/><path d="M2874,1846 C3041,1742 3211,1642 3381,1541" stroke="#f4e2c4" stroke-opacity="0.06" stroke-width="1.9"/><path d="M3047,1761 C3200,1673 3347,1575 3501,1488" stroke="#7e6044" stroke-opacity="0.04" stroke-width="1.1"/><path d="M2602,2035 C2782,1925 2960,1814 3142,1710" stroke="#f4e2c4" stroke-opacity="0.10" stroke-width="0.9"/><path d="M2800,1921 C2926,1848 3053,1777 3174,1697" stroke="#f4e2c4" stroke-opacity="0.04" stroke-width="1.0"/><path d="M3009,1815 C3198,1697 3389,1581 3583,1470" stroke="#f4e2c4" stroke-opacity="0.06" stroke-width="2.0"/><path d="M2792,1953 C2991,1837 3190,1720 3384,1597" stroke="#8a6a48" stroke-opacity="0.04" stroke-width="1.9"/><path d="M2634,2058 C2772,1970 2912,1885 3054,1806" stroke="#8a6a48" stroke-opacity="0.04" stroke-width="1.0"/><path d="M3090,1794 C3170,1747 3247,1694 3330,1651" stroke="#9c7a55" stroke-opacity="0.04" stroke-width="1.7"/><path d="M2611,2095 C2788,1982 2970,1879 3150,1771" stroke="#8a6a48" stroke-opacity="0.07" stroke-width="0.8"/><path d="M3040,1844 C3212,1746 3380,1640 3550,1538" stroke="#7e6044" stroke-opacity="0.07" stroke-width="1.6"/><path d="M2847,1973 C3031,1868 3210,1752 3393,1645" stroke="#9c7a55" stroke-opacity="0.05" stroke-width="0.9"/><path d="M2634,2116 C2716,2069 2796,2020 2876,1971" stroke="#9c7a55" stroke-opacity="0.03" stroke-width="1.3"/><path d="M2838,2001 C2954,1937 3062,1862 3177,1798" stroke="#8a6a48" stroke-opacity="0.07" stroke-width="1.2"/><path d="M2644,2125 C2852,1999 3064,1880 3269,1750" stroke="#f4e2c4" stroke-opacity="0.03" stroke-width="2.2"/><path d="M3143,1841 C3254,1771 3365,1703 3479,1639" stroke="#9c7a55" stroke-opacity="0.04" stroke-width="1.7"/><path d="M2658,2139 C2867,2013 3075,1885 3286,1762" stroke="#f4e2c4" stroke-opacity="0.09" stroke-width="1.0"/><path d="M2858,2027 C2930,1981 3006,1942 3078,1894" stroke="#f4e2c4" stroke-opacity="0.10" stroke-width="2.5"/><path d="M2625,2185 C2797,2086 2963,1977 3135,1879" stroke="#f4e2c4" stroke-opacity="0.04" stroke-width="1.5"/><path d="M2754,2115 C2858,2048 2964,1985 3072,1924" stroke="#f4e2c4" stroke-opacity="0.09" stroke-width="2.1"/><path d="M2640,2190 C2743,2135 2837,2065 2939,2010" stroke="#9c7a55" stroke-opacity="0.05" stroke-width="1.2"/><path d="M2765,2128 C2905,2049 3039,1961 3177,1880" stroke="#9c7a55" stroke-opacity="0.03" stroke-width="1.5"/><path d="M2597,2244 C2727,2170 2851,2088 2981,2014" stroke="#f4e2c4" stroke-opacity="0.08" stroke-width="2.5"/><path d="M2944,2039 C3125,1930 3308,1826 3486,1713" stroke="#8a6a48" stroke-opacity="0.07" stroke-width="1.9"/><path d="M2946,2054 C3017,2008 3089,1965 3163,1924" stroke="#9c7a55" stroke-opacity="0.09" stroke-width="1.8"/><path d="M2955,2060 C3141,1942 3335,1838 3521,1720" stroke="#9c7a55" stroke-opacity="0.06" stroke-width="1.8"/><path d="M3140,1960 C3274,1879 3409,1796 3545,1717" stroke="#f4e2c4" stroke-opacity="0.08" stroke-width="1.7"/><path d="M2670,2254 C2791,2181 2911,2106 3033,2036" stroke="#7e6044" stroke-opacity="0.08" stroke-width="1.1"/><path d="M3069,2025 C3185,1951 3301,1879 3420,1814" stroke="#f4e2c4" stroke-opacity="0.05" stroke-width="1.8"/><path d="M2768,2209 C2921,2124 3069,2029 3219,1938" stroke="#9c7a55" stroke-opacity="0.04" stroke-width="1.2"/><path d="M2819,2196 C2896,2147 2978,2103 3055,2054" stroke="#8a6a48" stroke-opacity="0.07" stroke-width="2.3"/><path d="M3128,2020 C3302,1915 3479,1814 3652,1705" stroke="#9c7a55" stroke-opacity="0.08" stroke-width="2.4"/><path d="M3004,2102 C3111,2040 3218,1978 3322,1911" stroke="#8a6a48" stroke-opacity="0.08" stroke-width="2.1"/></g>
<polygon points="2138.8,1652.5 2456.2,1459.5 3023.2,1570.0 2705.0,1762.5" fill="#c6ab8a" stroke="none" stroke-width="0" />
<polygon points="2166.2,1651.2 2463.0,1468.0 2463.0,1514.5 2223.8,1661.2" fill="#e5cdaa" stroke="none" stroke-width="0" />
<clipPath id="cp32"><path d="M 2166.2,1651.2 L 2463.0,1468.0 L 2463.0,1514.5 L 2223.8,1661.2 Z"/></clipPath>
<g clip-path="url(#cp32)" fill="none"><path d="M1641,1583 C1778,1497 1920,1418 2057,1332" stroke="#f4e2c4" stroke-opacity="0.03" stroke-width="1.4"/><path d="M1654,1575 C1774,1502 1896,1432 2015,1358" stroke="#f4e2c4" stroke-opacity="0.05" stroke-width="1.7"/><path d="M2225,1249 C2290,1211 2351,1168 2418,1133" stroke="#9c7a55" stroke-opacity="0.10" stroke-width="2.6"/><path d="M1982,1407 C2137,1308 2298,1218 2455,1123" stroke="#9c7a55" stroke-opacity="0.08" stroke-width="1.2"/><path d="M1833,1507 C1894,1468 1958,1435 2019,1395" stroke="#f4e2c4" stroke-opacity="0.06" stroke-width="2.1"/><path d="M1749,1560 C1952,1443 2149,1315 2352,1198" stroke="#f4e2c4" stroke-opacity="0.07" stroke-width="1.1"/><path d="M2069,1384 C2204,1297 2344,1216 2483,1135" stroke="#8a6a48" stroke-opacity="0.08" stroke-width="1.4"/><path d="M2102,1370 C2271,1268 2440,1167 2609,1065" stroke="#8a6a48" stroke-opacity="0.03" stroke-width="1.9"/><path d="M2157,1351 C2313,1260 2463,1161 2620,1073" stroke="#7e6044" stroke-opacity="0.03" stroke-width="1.9"/><path d="M2223,1318 C2335,1254 2445,1186 2555,1118" stroke="#8a6a48" stroke-opacity="0.06" stroke-width="2.2"/><path d="M2170,1366 C2237,1322 2310,1288 2377,1243" stroke="#7e6044" stroke-opacity="0.04" stroke-width="1.2"/><path d="M2211,1350 C2301,1291 2396,1239 2488,1184" stroke="#8a6a48" stroke-opacity="0.06" stroke-width="1.0"/><path d="M2135,1403 C2274,1325 2405,1235 2544,1158" stroke="#9c7a55" stroke-opacity="0.09" stroke-width="1.5"/><path d="M1624,1721 C1802,1610 1986,1510 2162,1398" stroke="#7e6044" stroke-opacity="0.10" stroke-width="1.0"/><path d="M2124,1433 C2213,1382 2300,1328 2388,1274" stroke="#9c7a55" stroke-opacity="0.06" stroke-width="1.6"/><path d="M2281,1347 C2394,1277 2507,1206 2623,1141" stroke="#8a6a48" stroke-opacity="0.08" stroke-width="2.4"/><path d="M1775,1664 C1885,1603 1994,1538 2100,1469" stroke="#8a6a48" stroke-opacity="0.06" stroke-width="2.2"/><path d="M2175,1435 C2333,1334 2496,1244 2655,1146" stroke="#9c7a55" stroke-opacity="0.05" stroke-width="1.6"/><path d="M1807,1669 C1928,1597 2050,1526 2170,1452" stroke="#8a6a48" stroke-opacity="0.07" stroke-width="1.1"/><path d="M2232,1426 C2350,1358 2463,1283 2581,1216" stroke="#f4e2c4" stroke-opacity="0.03" stroke-width="2.3"/><path d="M1794,1693 C1914,1621 2033,1546 2154,1477" stroke="#8a6a48" stroke-opacity="0.04" stroke-width="2.3"/><path d="M2052,1556 C2172,1491 2286,1415 2403,1345" stroke="#9c7a55" stroke-opacity="0.05" stroke-width="1.7"/><path d="M2229,1460 C2338,1397 2447,1333 2552,1265" stroke="#9c7a55" stroke-opacity="0.08" stroke-width="1.4"/><path d="M2146,1517 C2297,1430 2443,1336 2593,1248" stroke="#8a6a48" stroke-opacity="0.08" stroke-width="1.6"/><path d="M1874,1692 C1987,1630 2094,1558 2205,1492" stroke="#8a6a48" stroke-opacity="0.05" stroke-width="1.6"/><path d="M2222,1496 C2301,1449 2377,1400 2456,1355" stroke="#7e6044" stroke-opacity="0.04" stroke-width="1.8"/><path d="M2136,1558 C2281,1465 2432,1383 2578,1293" stroke="#7e6044" stroke-opacity="0.05" stroke-width="1.0"/><path d="M1853,1732 C2021,1631 2187,1527 2357,1429" stroke="#7e6044" stroke-opacity="0.05" stroke-width="1.9"/><path d="M2211,1533 C2387,1422 2569,1320 2746,1212" stroke="#f4e2c4" stroke-opacity="0.05" stroke-width="2.3"/><path d="M2305,1480 C2388,1430 2470,1378 2555,1329" stroke="#f4e2c4" stroke-opacity="0.09" stroke-width="2.3"/><path d="M2210,1554 C2319,1491 2426,1428 2532,1361" stroke="#f4e2c4" stroke-opacity="0.06" stroke-width="0.8"/><path d="M1998,1686 C2075,1634 2159,1595 2235,1543" stroke="#8a6a48" stroke-opacity="0.04" stroke-width="2.3"/><path d="M1920,1749 C2091,1653 2259,1552 2424,1446" stroke="#7e6044" stroke-opacity="0.07" stroke-width="2.5"/><path d="M2165,1613 C2290,1538 2417,1465 2540,1387" stroke="#9c7a55" stroke-opacity="0.03" stroke-width="1.8"/><path d="M1917,1764 C2119,1642 2320,1518 2525,1399" stroke="#8a6a48" stroke-opacity="0.04" stroke-width="2.4"/><path d="M2348,1516 C2501,1430 2646,1332 2798,1246" stroke="#9c7a55" stroke-opacity="0.09" stroke-width="2.4"/><path d="M2245,1594 C2361,1524 2475,1450 2594,1385" stroke="#7e6044" stroke-opacity="0.05" stroke-width="1.2"/><path d="M1942,1785 C2018,1741 2094,1696 2169,1648" stroke="#f4e2c4" stroke-opacity="0.03" stroke-width="1.3"/><path d="M2174,1658 C2333,1556 2501,1467 2661,1365" stroke="#f4e2c4" stroke-opacity="0.10" stroke-width="1.4"/><path d="M1742,1925 C1928,1817 2110,1701 2297,1592" stroke="#f4e2c4" stroke-opacity="0.08" stroke-width="0.9"/><path d="M1911,1831 C2014,1767 2120,1706 2225,1643" stroke="#7e6044" stroke-opacity="0.04" stroke-width="2.6"/><path d="M2053,1761 C2194,1675 2335,1585 2480,1504" stroke="#f4e2c4" stroke-opacity="0.04" stroke-width="1.1"/><path d="M1957,1827 C2020,1788 2084,1751 2148,1712" stroke="#f4e2c4" stroke-opacity="0.04" stroke-width="1.5"/><path d="M1872,1887 C2002,1813 2127,1730 2257,1655" stroke="#f4e2c4" stroke-opacity="0.06" stroke-width="1.8"/><path d="M1875,1897 C2044,1795 2215,1696 2383,1592" stroke="#8a6a48" stroke-opacity="0.04" stroke-width="1.4"/><path d="M2184,1726 C2368,1622 2547,1509 2727,1400" stroke="#f4e2c4" stroke-opacity="0.05" stroke-width="1.5"/><path d="M2292,1674 C2408,1602 2525,1531 2643,1463" stroke="#7e6044" stroke-opacity="0.09" stroke-width="2.0"/><path d="M1949,1884 C2077,1813 2200,1734 2324,1659" stroke="#f4e2c4" stroke-opacity="0.09" stroke-width="1.1"/><path d="M1932,1906 C2034,1839 2140,1778 2246,1718" stroke="#8a6a48" stroke-opacity="0.06" stroke-width="1.0"/><path d="M2285,1705 C2423,1626 2556,1539 2694,1459" stroke="#9c7a55" stroke-opacity="0.08" stroke-width="2.4"/><path d="M2323,1689 C2438,1616 2556,1549 2672,1480" stroke="#7e6044" stroke-opacity="0.07" stroke-width="2.5"/><path d="M2133,1816 C2270,1740 2398,1651 2535,1574" stroke="#7e6044" stroke-opacity="0.09" stroke-width="2.2"/><path d="M2327,1707 C2466,1626 2602,1539 2742,1458" stroke="#f4e2c4" stroke-opacity="0.06" stroke-width="0.8"/><path d="M2213,1791 C2334,1718 2457,1649 2576,1573" stroke="#9c7a55" stroke-opacity="0.10" stroke-width="1.0"/><path d="M1971,1948 C2133,1847 2297,1749 2462,1653" stroke="#9c7a55" stroke-opacity="0.03" stroke-width="2.2"/><path d="M2244,1789 C2408,1689 2574,1592 2739,1492" stroke="#9c7a55" stroke-opacity="0.06" stroke-width="1.6"/><path d="M2391,1720 C2581,1609 2765,1488 2957,1380" stroke="#9c7a55" stroke-opacity="0.04" stroke-width="1.4"/><path d="M2196,1843 C2387,1723 2580,1605 2777,1494" stroke="#7e6044" stroke-opacity="0.08" stroke-width="1.6"/><path d="M2294,1791 C2412,1720 2531,1648 2650,1578" stroke="#f4e2c4" stroke-opacity="0.03" stroke-width="2.4"/><path d="M2019,1970 C2077,1928 2140,1893 2203,1859" stroke="#8a6a48" stroke-opacity="0.06" stroke-width="0.9"/><path d="M2400,1752 C2595,1636 2788,1515 2983,1401" stroke="#8a6a48" stroke-opacity="0.05" stroke-width="1.8"/><path d="M2527,1692 C2629,1635 2726,1572 2826,1512" stroke="#9c7a55" stroke-opacity="0.10" stroke-width="1.4"/><path d="M2056,1978 C2135,1929 2215,1884 2293,1835" stroke="#9c7a55" stroke-opacity="0.07" stroke-width="1.1"/><path d="M2094,1970 C2208,1895 2326,1826 2445,1760" stroke="#7e6044" stroke-opacity="0.04" stroke-width="2.5"/><path d="M2142,1947 C2235,1897 2325,1842 2413,1784" stroke="#8a6a48" stroke-opacity="0.09" stroke-width="1.6"/><path d="M1993,2044 C2094,1982 2195,1919 2298,1861" stroke="#f4e2c4" stroke-opacity="0.06" stroke-width="1.8"/><path d="M2384,1821 C2573,1702 2769,1597 2957,1477" stroke="#7e6044" stroke-opacity="0.10" stroke-width="2.5"/><path d="M2430,1805 C2519,1747 2611,1694 2703,1641" stroke="#8a6a48" stroke-opacity="0.06" stroke-width="1.7"/><path d="M2171,1976 C2319,1883 2468,1793 2620,1706" stroke="#f4e2c4" stroke-opacity="0.05" stroke-width="2.6"/><path d="M2174,1986 C2316,1902 2454,1812 2597,1731" stroke="#9c7a55" stroke-opacity="0.03" stroke-width="2.4"/><path d="M2280,1928 C2378,1876 2470,1811 2567,1756" stroke="#8a6a48" stroke-opacity="0.08" stroke-width="1.0"/><path d="M2191,1997 C2261,1959 2328,1916 2396,1875" stroke="#7e6044" stroke-opacity="0.03" stroke-width="1.7"/><path d="M2066,2083 C2222,1989 2380,1897 2535,1801" stroke="#7e6044" stroke-opacity="0.05" stroke-width="2.5"/><path d="M2297,1949 C2468,1847 2638,1742 2811,1640" stroke="#9c7a55" stroke-opacity="0.08" stroke-width="1.9"/><path d="M1995,2144 C2145,2054 2296,1963 2447,1873" stroke="#f4e2c4" stroke-opacity="0.09" stroke-width="2.1"/><path d="M2380,1924 C2506,1852 2629,1774 2754,1699" stroke="#9c7a55" stroke-opacity="0.08" stroke-width="1.3"/><path d="M2372,1936 C2492,1868 2607,1792 2726,1723" stroke="#f4e2c4" stroke-opacity="0.08" stroke-width="1.7"/><path d="M2087,2118 C2274,2006 2463,1897 2648,1782" stroke="#9c7a55" stroke-opacity="0.03" stroke-width="2.1"/><path d="M2426,1928 C2549,1856 2671,1783 2793,1708" stroke="#f4e2c4" stroke-opacity="0.05" stroke-width="1.2"/></g>
<polygon points="2463.0,1468.0 2996.2,1572.5 2937.5,1607.5 2463.0,1514.5" fill="#c9ae8d" stroke="none" stroke-width="0" />
<clipPath id="cp33"><path d="M 2463.0,1468.0 L 2996.2,1572.5 L 2937.5,1607.5 L 2463.0,1514.5 Z"/></clipPath>
<g clip-path="url(#cp33)" fill="none"><path d="M2203,1003 C2390,1039 2576,1081 2765,1112" stroke="#8a6a48" stroke-opacity="0.08" stroke-width="1.0"/><path d="M2867,1147 C2999,1172 3132,1197 3263,1224" stroke="#8a6a48" stroke-opacity="0.06" stroke-width="2.1"/><path d="M2691,1123 C2906,1164 3120,1210 3335,1248" stroke="#9c7a55" stroke-opacity="0.07" stroke-width="1.9"/><path d="M2466,1087 C2661,1121 2856,1160 3051,1201" stroke="#7e6044" stroke-opacity="0.06" stroke-width="1.2"/><path d="M2663,1136 C2832,1166 3001,1201 3171,1235" stroke="#f4e2c4" stroke-opacity="0.06" stroke-width="2.5"/><path d="M2431,1095 C2676,1145 2921,1190 3167,1238" stroke="#7e6044" stroke-opacity="0.05" stroke-width="2.4"/><path d="M2851,1187 C2964,1212 3080,1226 3193,1253" stroke="#7e6044" stroke-opacity="0.07" stroke-width="1.7"/><path d="M2312,1089 C2534,1137 2759,1173 2982,1219" stroke="#8a6a48" stroke-opacity="0.04" stroke-width="2.2"/><path d="M2427,1120 C2516,1135 2603,1158 2692,1171" stroke="#f4e2c4" stroke-opacity="0.06" stroke-width="1.6"/><path d="M2843,1214 C3004,1240 3165,1271 3324,1307" stroke="#9c7a55" stroke-opacity="0.06" stroke-width="1.4"/><path d="M2394,1134 C2499,1154 2603,1178 2709,1195" stroke="#9c7a55" stroke-opacity="0.04" stroke-width="2.5"/><path d="M2416,1147 C2533,1163 2648,1193 2764,1214" stroke="#f4e2c4" stroke-opacity="0.09" stroke-width="2.2"/><path d="M2351,1144 C2571,1190 2793,1227 3013,1273" stroke="#9c7a55" stroke-opacity="0.03" stroke-width="1.9"/><path d="M2934,1267 C3074,1291 3213,1321 3353,1348" stroke="#8a6a48" stroke-opacity="0.07" stroke-width="1.0"/><path d="M2806,1249 C2971,1285 3138,1313 3304,1345" stroke="#9c7a55" stroke-opacity="0.05" stroke-width="1.7"/><path d="M2937,1288 C3090,1311 3240,1347 3392,1376" stroke="#9c7a55" stroke-opacity="0.07" stroke-width="1.3"/><path d="M2388,1192 C2584,1229 2778,1272 2975,1306" stroke="#9c7a55" stroke-opacity="0.05" stroke-width="2.5"/><path d="M2840,1285 C3078,1337 3319,1378 3558,1425" stroke="#f4e2c4" stroke-opacity="0.05" stroke-width="0.8"/><path d="M2137,1156 C2339,1197 2542,1230 2743,1274" stroke="#7e6044" stroke-opacity="0.06" stroke-width="1.2"/><path d="M2312,1200 C2497,1231 2681,1269 2865,1307" stroke="#f4e2c4" stroke-opacity="0.05" stroke-width="2.4"/><path d="M2895,1326 C3052,1359 3211,1385 3368,1418" stroke="#f4e2c4" stroke-opacity="0.04" stroke-width="1.4"/><path d="M2632,1280 C2877,1332 3122,1381 3368,1423" stroke="#8a6a48" stroke-opacity="0.03" stroke-width="1.5"/><path d="M2549,1272 C2698,1307 2849,1330 2999,1360" stroke="#8a6a48" stroke-opacity="0.03" stroke-width="0.8"/><path d="M2269,1235 C2516,1281 2762,1328 3008,1379" stroke="#f4e2c4" stroke-opacity="0.08" stroke-width="1.9"/><path d="M2035,1199 C2302,1256 2572,1302 2840,1356" stroke="#8a6a48" stroke-opacity="0.07" stroke-width="1.6"/><path d="M2616,1319 C2735,1343 2855,1366 2975,1389" stroke="#f4e2c4" stroke-opacity="0.04" stroke-width="1.0"/><path d="M2389,1280 C2562,1316 2736,1349 2910,1381" stroke="#f4e2c4" stroke-opacity="0.07" stroke-width="1.4"/><path d="M2267,1264 C2400,1295 2535,1313 2668,1342" stroke="#f4e2c4" stroke-opacity="0.08" stroke-width="1.0"/><path d="M2189,1264 C2343,1293 2497,1329 2652,1354" stroke="#9c7a55" stroke-opacity="0.10" stroke-width="1.9"/><path d="M2672,1362 C2825,1397 2981,1416 3133,1451" stroke="#f4e2c4" stroke-opacity="0.03" stroke-width="2.0"/><path d="M2263,1292 C2390,1318 2518,1337 2645,1366" stroke="#7e6044" stroke-opacity="0.07" stroke-width="1.5"/><path d="M2383,1327 C2629,1376 2876,1419 3121,1471" stroke="#9c7a55" stroke-opacity="0.06" stroke-width="2.2"/><path d="M2534,1369 C2687,1403 2842,1427 2995,1458" stroke="#7e6044" stroke-opacity="0.05" stroke-width="1.5"/><path d="M2637,1394 C2874,1437 3111,1482 3346,1532" stroke="#f4e2c4" stroke-opacity="0.05" stroke-width="1.8"/><path d="M2156,1315 C2387,1356 2617,1407 2848,1449" stroke="#7e6044" stroke-opacity="0.03" stroke-width="1.1"/><path d="M2540,1399 C2763,1444 2986,1488 3210,1529" stroke="#f4e2c4" stroke-opacity="0.10" stroke-width="1.6"/><path d="M2408,1382 C2570,1414 2732,1450 2895,1477" stroke="#f4e2c4" stroke-opacity="0.07" stroke-width="1.6"/><path d="M2205,1349 C2396,1385 2587,1418 2777,1460" stroke="#7e6044" stroke-opacity="0.05" stroke-width="2.2"/><path d="M2291,1374 C2454,1409 2618,1441 2783,1469" stroke="#7e6044" stroke-opacity="0.04" stroke-width="1.1"/><path d="M1973,1322 C2228,1370 2482,1417 2735,1470" stroke="#8a6a48" stroke-opacity="0.06" stroke-width="1.1"/><path d="M2935,1520 C3065,1540 3193,1573 3323,1595" stroke="#9c7a55" stroke-opacity="0.08" stroke-width="1.9"/><path d="M2669,1474 C2863,1513 3058,1549 3253,1587" stroke="#7e6044" stroke-opacity="0.07" stroke-width="2.0"/><path d="M2464,1440 C2565,1466 2668,1486 2772,1500" stroke="#f4e2c4" stroke-opacity="0.07" stroke-width="2.0"/><path d="M2532,1466 C2665,1497 2798,1523 2932,1544" stroke="#8a6a48" stroke-opacity="0.07" stroke-width="0.9"/><path d="M2536,1473 C2796,1525 3056,1575 3316,1625" stroke="#8a6a48" stroke-opacity="0.04" stroke-width="1.1"/><path d="M2467,1469 C2582,1490 2697,1508 2811,1536" stroke="#f4e2c4" stroke-opacity="0.07" stroke-width="2.0"/><path d="M2547,1501 C2738,1541 2931,1572 3122,1613" stroke="#8a6a48" stroke-opacity="0.08" stroke-width="1.5"/><path d="M2006,1404 C2261,1449 2514,1502 2768,1552" stroke="#8a6a48" stroke-opacity="0.07" stroke-width="1.3"/><path d="M2433,1496 C2659,1545 2886,1583 3112,1628" stroke="#8a6a48" stroke-opacity="0.04" stroke-width="0.9"/><path d="M2501,1518 C2736,1561 2969,1614 3204,1655" stroke="#7e6044" stroke-opacity="0.06" stroke-width="1.3"/><path d="M2958,1618 C3043,1634 3127,1656 3213,1667" stroke="#8a6a48" stroke-opacity="0.08" stroke-width="2.1"/><path d="M2155,1466 C2405,1514 2653,1568 2904,1611" stroke="#7e6044" stroke-opacity="0.07" stroke-width="1.0"/><path d="M2737,1588 C2830,1606 2924,1626 3017,1642" stroke="#8a6a48" stroke-opacity="0.05" stroke-width="1.8"/><path d="M2141,1481 C2291,1510 2440,1545 2591,1569" stroke="#9c7a55" stroke-opacity="0.05" stroke-width="2.0"/><path d="M2418,1544 C2585,1572 2751,1603 2916,1640" stroke="#8a6a48" stroke-opacity="0.07" stroke-width="2.0"/><path d="M1956,1465 C2213,1520 2473,1563 2730,1616" stroke="#7e6044" stroke-opacity="0.10" stroke-width="1.5"/><path d="M2222,1525 C2308,1539 2392,1563 2478,1575" stroke="#8a6a48" stroke-opacity="0.07" stroke-width="2.6"/><path d="M2336,1561 C2422,1573 2505,1597 2591,1611" stroke="#7e6044" stroke-opacity="0.05" stroke-width="2.4"/><path d="M2790,1655 C2926,1676 3060,1709 3195,1733" stroke="#7e6044" stroke-opacity="0.04" stroke-width="1.4"/><path d="M2273,1560 C2387,1587 2502,1606 2617,1627" stroke="#9c7a55" stroke-opacity="0.10" stroke-width="1.4"/><path d="M2604,1642 C2704,1662 2805,1681 2906,1701" stroke="#9c7a55" stroke-opacity="0.09" stroke-width="1.2"/><path d="M2600,1643 C2784,1673 2965,1716 3148,1750" stroke="#f4e2c4" stroke-opacity="0.04" stroke-width="2.5"/><path d="M2236,1587 C2387,1620 2540,1646 2692,1676" stroke="#7e6044" stroke-opacity="0.09" stroke-width="1.3"/><path d="M2487,1640 C2701,1676 2913,1721 3126,1764" stroke="#8a6a48" stroke-opacity="0.03" stroke-width="0.9"/><path d="M2378,1627 C2602,1674 2827,1713 3051,1758" stroke="#9c7a55" stroke-opacity="0.08" stroke-width="1.0"/><path d="M2337,1630 C2537,1664 2734,1709 2933,1746" stroke="#8a6a48" stroke-opacity="0.07" stroke-width="1.1"/><path d="M2845,1737 C3022,1768 3196,1807 3373,1839" stroke="#f4e2c4" stroke-opacity="0.05" stroke-width="1.7"/><path d="M2271,1636 C2467,1677 2665,1708 2861,1750" stroke="#7e6044" stroke-opacity="0.05" stroke-width="1.1"/><path d="M2292,1652 C2498,1690 2703,1731 2909,1772" stroke="#f4e2c4" stroke-opacity="0.08" stroke-width="1.9"/><path d="M2002,1600 C2235,1646 2469,1685 2701,1736" stroke="#f4e2c4" stroke-opacity="0.09" stroke-width="2.5"/><path d="M1894,1592 C2167,1643 2441,1692 2713,1751" stroke="#7e6044" stroke-opacity="0.04" stroke-width="0.8"/><path d="M2498,1720 C2658,1755 2820,1784 2981,1813" stroke="#f4e2c4" stroke-opacity="0.05" stroke-width="1.3"/><path d="M2616,1751 C2771,1783 2926,1812 3081,1841" stroke="#f4e2c4" stroke-opacity="0.05" stroke-width="1.5"/><path d="M2773,1791 C2959,1823 3143,1863 3328,1899" stroke="#f4e2c4" stroke-opacity="0.05" stroke-width="0.8"/><path d="M2096,1666 C2332,1705 2565,1754 2799,1802" stroke="#9c7a55" stroke-opacity="0.08" stroke-width="0.9"/><path d="M2352,1724 C2543,1760 2733,1797 2924,1835" stroke="#8a6a48" stroke-opacity="0.04" stroke-width="1.0"/><path d="M2175,1704 C2355,1734 2534,1771 2713,1809" stroke="#9c7a55" stroke-opacity="0.06" stroke-width="2.2"/><path d="M1946,1669 C2156,1709 2366,1747 2575,1791" stroke="#8a6a48" stroke-opacity="0.04" stroke-width="1.9"/><path d="M2420,1768 C2631,1806 2841,1855 3053,1891" stroke="#f4e2c4" stroke-opacity="0.04" stroke-width="1.8"/><path d="M2288,1755 C2432,1777 2573,1814 2717,1838" stroke="#7e6044" stroke-opacity="0.06" stroke-width="0.8"/><path d="M2046,1716 C2226,1754 2405,1790 2586,1821" stroke="#8a6a48" stroke-opacity="0.07" stroke-width="0.9"/><path d="M2538,1820 C2645,1840 2751,1860 2857,1882" stroke="#7e6044" stroke-opacity="0.07" stroke-width="2.3"/><path d="M2757,1869 C2975,1910 3192,1957 3410,1996" stroke="#8a6a48" stroke-opacity="0.06" stroke-width="1.5"/><path d="M2692,1864 C2809,1886 2928,1904 3044,1933" stroke="#9c7a55" stroke-opacity="0.05" stroke-width="1.5"/><path d="M2205,1779 C2309,1796 2412,1820 2515,1839" stroke="#7e6044" stroke-opacity="0.03" stroke-width="1.1"/><path d="M2382,1831 C2521,1861 2661,1889 2802,1912" stroke="#9c7a55" stroke-opacity="0.09" stroke-width="2.5"/><path d="M2447,1849 C2553,1871 2660,1886 2765,1911" stroke="#9c7a55" stroke-opacity="0.07" stroke-width="1.9"/><path d="M2733,1909 C2824,1922 2913,1943 3003,1961" stroke="#7e6044" stroke-opacity="0.09" stroke-width="1.7"/><path d="M2298,1842 C2433,1866 2568,1889 2701,1920" stroke="#7e6044" stroke-opacity="0.04" stroke-width="2.3"/><path d="M2695,1927 C2907,1962 3117,2010 3328,2050" stroke="#9c7a55" stroke-opacity="0.07" stroke-width="2.5"/><path d="M2227,1844 C2441,1890 2657,1933 2873,1969" stroke="#f4e2c4" stroke-opacity="0.08" stroke-width="1.4"/><path d="M2644,1930 C2903,1983 3164,2031 3423,2081" stroke="#8a6a48" stroke-opacity="0.07" stroke-width="1.7"/><path d="M2688,1951 C2911,2000 3135,2042 3360,2082" stroke="#f4e2c4" stroke-opacity="0.03" stroke-width="1.6"/><path d="M2452,1913 C2689,1959 2924,2010 3162,2051" stroke="#9c7a55" stroke-opacity="0.03" stroke-width="2.5"/></g>
<polygon points="2223.8,1661.2 2463.0,1514.5 2937.5,1607.5 2699.5,1754.5" fill="url(#gFl)" stroke="none" stroke-width="0" />
<clipPath id="cp34"><path d="M 2223.8,1661.2 L 2463.0,1514.5 L 2937.5,1607.5 L 2699.5,1754.5 Z"/></clipPath>
<g clip-path="url(#cp34)" fill="none"><path d="M2190,827 C2313,888 2440,938 2562,1000" stroke="#8a6a48" stroke-opacity="0.07" stroke-width="0.9"/><path d="M2607,1030 C2826,1137 3047,1241 3271,1339" stroke="#8a6a48" stroke-opacity="0.08" stroke-width="1.5"/><path d="M2609,1046 C2815,1137 3018,1235 3222,1332" stroke="#8a6a48" stroke-opacity="0.06" stroke-width="1.9"/><path d="M2237,882 C2410,966 2587,1040 2759,1126" stroke="#9c7a55" stroke-opacity="0.08" stroke-width="1.0"/><path d="M2457,992 C2650,1085 2846,1173 3039,1264" stroke="#f4e2c4" stroke-opacity="0.08" stroke-width="2.1"/><path d="M2142,855 C2444,995 2744,1141 3047,1277" stroke="#7e6044" stroke-opacity="0.06" stroke-width="1.7"/><path d="M2249,910 C2370,964 2487,1026 2609,1078" stroke="#8a6a48" stroke-opacity="0.13" stroke-width="0.8"/><path d="M2339,968 C2657,1117 2976,1264 3294,1414" stroke="#f4e2c4" stroke-opacity="0.08" stroke-width="1.5"/><path d="M2684,1142 C2807,1199 2929,1256 3051,1313" stroke="#9c7a55" stroke-opacity="0.10" stroke-width="2.5"/><path d="M2771,1185 C2888,1244 3006,1301 3126,1351" stroke="#7e6044" stroke-opacity="0.09" stroke-width="1.1"/><path d="M2324,989 C2556,1094 2785,1207 3017,1312" stroke="#8a6a48" stroke-opacity="0.05" stroke-width="2.5"/><path d="M2154,918 C2396,1024 2636,1136 2873,1253" stroke="#f4e2c4" stroke-opacity="0.07" stroke-width="1.4"/><path d="M2083,892 C2278,980 2471,1075 2666,1164" stroke="#f4e2c4" stroke-opacity="0.09" stroke-width="2.1"/><path d="M1807,775 C2136,924 2460,1085 2789,1233" stroke="#f4e2c4" stroke-opacity="0.05" stroke-width="1.0"/><path d="M2259,1003 C2462,1103 2668,1195 2873,1289" stroke="#9c7a55" stroke-opacity="0.08" stroke-width="1.5"/><path d="M2089,926 C2292,1027 2502,1112 2706,1213" stroke="#9c7a55" stroke-opacity="0.04" stroke-width="2.2"/><path d="M2201,991 C2533,1147 2864,1303 3198,1455" stroke="#7e6044" stroke-opacity="0.06" stroke-width="1.9"/><path d="M2398,1093 C2615,1197 2835,1298 3054,1399" stroke="#9c7a55" stroke-opacity="0.11" stroke-width="0.9"/><path d="M2907,1341 C3121,1442 3336,1542 3552,1641" stroke="#9c7a55" stroke-opacity="0.06" stroke-width="2.4"/><path d="M2889,1346 C3055,1424 3223,1499 3389,1579" stroke="#8a6a48" stroke-opacity="0.05" stroke-width="1.0"/><path d="M2710,1272 C3024,1417 3335,1566 3649,1710" stroke="#f4e2c4" stroke-opacity="0.08" stroke-width="1.0"/><path d="M2713,1281 C2831,1341 2956,1389 3075,1450" stroke="#8a6a48" stroke-opacity="0.08" stroke-width="2.5"/><path d="M2529,1200 C2685,1271 2840,1347 2996,1418" stroke="#8a6a48" stroke-opacity="0.11" stroke-width="2.4"/><path d="M2081,1005 C2363,1139 2647,1272 2932,1402" stroke="#9c7a55" stroke-opacity="0.08" stroke-width="0.8"/><path d="M2165,1058 C2273,1110 2385,1156 2492,1210" stroke="#9c7a55" stroke-opacity="0.10" stroke-width="1.0"/><path d="M2232,1095 C2462,1198 2687,1309 2916,1413" stroke="#8a6a48" stroke-opacity="0.10" stroke-width="1.9"/><path d="M2210,1099 C2410,1190 2609,1283 2807,1377" stroke="#8a6a48" stroke-opacity="0.08" stroke-width="1.6"/><path d="M2780,1376 C3064,1504 3346,1638 3628,1772" stroke="#7e6044" stroke-opacity="0.07" stroke-width="2.2"/><path d="M2224,1125 C2495,1247 2762,1377 3032,1501" stroke="#7e6044" stroke-opacity="0.06" stroke-width="2.2"/><path d="M2350,1195 C2633,1329 2915,1465 3201,1592" stroke="#8a6a48" stroke-opacity="0.11" stroke-width="1.2"/><path d="M2278,1167 C2611,1320 2940,1481 3274,1631" stroke="#f4e2c4" stroke-opacity="0.05" stroke-width="1.2"/><path d="M2647,1354 C2863,1457 3083,1551 3298,1657" stroke="#f4e2c4" stroke-opacity="0.05" stroke-width="2.3"/><path d="M2724,1398 C2957,1501 3187,1611 3417,1721" stroke="#f4e2c4" stroke-opacity="0.09" stroke-width="2.4"/><path d="M2260,1191 C2371,1235 2477,1288 2584,1341" stroke="#9c7a55" stroke-opacity="0.10" stroke-width="1.3"/><path d="M2710,1405 C2857,1474 3004,1542 3150,1610" stroke="#f4e2c4" stroke-opacity="0.12" stroke-width="1.3"/><path d="M1961,1071 C2164,1168 2368,1263 2573,1357" stroke="#f4e2c4" stroke-opacity="0.06" stroke-width="2.3"/><path d="M1851,1031 C2065,1131 2279,1233 2494,1331" stroke="#f4e2c4" stroke-opacity="0.04" stroke-width="1.1"/><path d="M1906,1061 C2095,1154 2289,1236 2479,1328" stroke="#8a6a48" stroke-opacity="0.13" stroke-width="1.5"/><path d="M2300,1261 C2602,1399 2898,1547 3201,1681" stroke="#7e6044" stroke-opacity="0.11" stroke-width="1.1"/><path d="M2615,1414 C2842,1522 3073,1621 3298,1733" stroke="#f4e2c4" stroke-opacity="0.07" stroke-width="1.2"/><path d="M2515,1377 C2638,1434 2762,1487 2883,1548" stroke="#9c7a55" stroke-opacity="0.12" stroke-width="2.1"/><path d="M2017,1159 C2134,1208 2245,1269 2361,1319" stroke="#f4e2c4" stroke-opacity="0.05" stroke-width="1.6"/><path d="M2151,1224 C2279,1279 2405,1342 2531,1401" stroke="#7e6044" stroke-opacity="0.12" stroke-width="2.6"/><path d="M2501,1398 C2765,1515 3025,1639 3286,1764" stroke="#f4e2c4" stroke-opacity="0.05" stroke-width="2.5"/><path d="M2215,1282 C2424,1382 2632,1483 2845,1576" stroke="#7e6044" stroke-opacity="0.06" stroke-width="1.3"/><path d="M2154,1263 C2383,1376 2615,1481 2847,1586" stroke="#f4e2c4" stroke-opacity="0.10" stroke-width="2.4"/><path d="M2269,1324 C2416,1393 2565,1459 2711,1530" stroke="#f4e2c4" stroke-opacity="0.12" stroke-width="0.8"/><path d="M2830,1599 C3035,1699 3247,1787 3451,1888" stroke="#8a6a48" stroke-opacity="0.09" stroke-width="2.5"/><path d="M1846,1144 C2105,1268 2368,1381 2626,1508" stroke="#8a6a48" stroke-opacity="0.04" stroke-width="0.9"/><path d="M2258,1351 C2361,1401 2469,1443 2570,1497" stroke="#8a6a48" stroke-opacity="0.04" stroke-width="1.2"/><path d="M2002,1242 C2302,1385 2605,1519 2905,1663" stroke="#7e6044" stroke-opacity="0.05" stroke-width="1.1"/><path d="M2280,1380 C2513,1494 2752,1594 2984,1708" stroke="#7e6044" stroke-opacity="0.04" stroke-width="1.5"/><path d="M2279,1392 C2572,1523 2860,1663 3151,1799" stroke="#8a6a48" stroke-opacity="0.10" stroke-width="1.3"/><path d="M2381,1441 C2690,1584 2996,1731 3306,1873" stroke="#7e6044" stroke-opacity="0.13" stroke-width="1.8"/><path d="M2684,1595 C2964,1731 3250,1854 3530,1990" stroke="#9c7a55" stroke-opacity="0.04" stroke-width="1.7"/><path d="M1958,1265 C2208,1387 2463,1499 2714,1617" stroke="#9c7a55" stroke-opacity="0.04" stroke-width="1.3"/><path d="M2188,1383 C2437,1493 2683,1611 2929,1728" stroke="#7e6044" stroke-opacity="0.10" stroke-width="2.5"/><path d="M1906,1266 C2058,1335 2207,1411 2360,1478" stroke="#8a6a48" stroke-opacity="0.07" stroke-width="2.4"/><path d="M2102,1365 C2250,1430 2393,1505 2541,1569" stroke="#7e6044" stroke-opacity="0.08" stroke-width="1.0"/><path d="M2127,1391 C2453,1545 2778,1701 3108,1848" stroke="#f4e2c4" stroke-opacity="0.12" stroke-width="1.7"/><path d="M2573,1608 C2804,1719 3036,1826 3269,1932" stroke="#7e6044" stroke-opacity="0.07" stroke-width="2.0"/><path d="M1880,1295 C2144,1423 2415,1539 2679,1668" stroke="#7e6044" stroke-opacity="0.06" stroke-width="1.3"/><path d="M2384,1535 C2716,1696 3052,1848 3387,2003" stroke="#9c7a55" stroke-opacity="0.08" stroke-width="1.2"/><path d="M2673,1682 C2830,1756 2989,1828 3145,1902" stroke="#f4e2c4" stroke-opacity="0.08" stroke-width="2.2"/><path d="M1823,1293 C2139,1439 2456,1582 2769,1735" stroke="#7e6044" stroke-opacity="0.05" stroke-width="2.0"/><path d="M2184,1472 C2523,1636 2867,1793 3210,1950" stroke="#9c7a55" stroke-opacity="0.13" stroke-width="2.5"/><path d="M2195,1485 C2327,1548 2460,1608 2593,1670" stroke="#f4e2c4" stroke-opacity="0.13" stroke-width="1.1"/><path d="M2296,1545 C2638,1702 2980,1859 3319,2022" stroke="#f4e2c4" stroke-opacity="0.08" stroke-width="1.8"/><path d="M2010,1421 C2135,1472 2253,1537 2375,1591" stroke="#7e6044" stroke-opacity="0.05" stroke-width="2.4"/><path d="M2800,1799 C2959,1878 3120,1951 3281,2024" stroke="#9c7a55" stroke-opacity="0.06" stroke-width="2.4"/><path d="M2742,1789 C2850,1839 2956,1893 3065,1940" stroke="#8a6a48" stroke-opacity="0.11" stroke-width="1.1"/><path d="M1583,1254 C1911,1404 2234,1562 2562,1711" stroke="#7e6044" stroke-opacity="0.04" stroke-width="1.0"/><path d="M1773,1353 C2029,1472 2286,1588 2540,1711" stroke="#7e6044" stroke-opacity="0.10" stroke-width="1.9"/><path d="M2159,1541 C2445,1679 2737,1804 3023,1943" stroke="#7e6044" stroke-opacity="0.11" stroke-width="2.0"/><path d="M1593,1293 C1931,1457 2276,1607 2615,1769" stroke="#9c7a55" stroke-opacity="0.07" stroke-width="2.0"/><path d="M2544,1741 C2822,1875 3105,1999 3383,2132" stroke="#7e6044" stroke-opacity="0.07" stroke-width="1.0"/><path d="M2282,1627 C2411,1687 2540,1747 2669,1807" stroke="#9c7a55" stroke-opacity="0.08" stroke-width="1.8"/><path d="M2167,1591 C2506,1744 2843,1900 3178,2062" stroke="#f4e2c4" stroke-opacity="0.10" stroke-width="1.5"/><path d="M1915,1479 C2107,1574 2304,1658 2497,1751" stroke="#9c7a55" stroke-opacity="0.12" stroke-width="2.4"/><path d="M2178,1608 C2422,1721 2662,1839 2907,1948" stroke="#f4e2c4" stroke-opacity="0.10" stroke-width="1.9"/><path d="M1688,1395 C1990,1535 2293,1671 2591,1817" stroke="#7e6044" stroke-opacity="0.08" stroke-width="1.9"/><path d="M1794,1449 C1946,1519 2095,1595 2249,1661" stroke="#f4e2c4" stroke-opacity="0.06" stroke-width="1.4"/><path d="M2496,1791 C2611,1850 2730,1903 2848,1955" stroke="#8a6a48" stroke-opacity="0.05" stroke-width="1.5"/><path d="M2231,1674 C2351,1730 2473,1781 2590,1842" stroke="#7e6044" stroke-opacity="0.07" stroke-width="1.8"/><path d="M2425,1778 C2766,1932 3102,2094 3441,2252" stroke="#7e6044" stroke-opacity="0.08" stroke-width="0.8"/><path d="M2183,1676 C2337,1750 2491,1825 2649,1893" stroke="#9c7a55" stroke-opacity="0.08" stroke-width="2.1"/><path d="M2156,1667 C2290,1725 2422,1787 2552,1852" stroke="#9c7a55" stroke-opacity="0.06" stroke-width="1.0"/><path d="M2450,1814 C2582,1880 2719,1934 2850,2001" stroke="#7e6044" stroke-opacity="0.06" stroke-width="2.2"/><path d="M2411,1811 C2522,1862 2634,1913 2744,1966" stroke="#9c7a55" stroke-opacity="0.08" stroke-width="1.8"/><path d="M2092,1672 C2223,1739 2361,1791 2492,1858" stroke="#9c7a55" stroke-opacity="0.05" stroke-width="2.5"/><path d="M2076,1670 C2265,1761 2457,1845 2646,1935" stroke="#f4e2c4" stroke-opacity="0.09" stroke-width="1.7"/><path d="M1714,1512 C1885,1598 2058,1679 2234,1755" stroke="#7e6044" stroke-opacity="0.05" stroke-width="1.2"/><path d="M1931,1631 C2216,1763 2501,1896 2785,2029" stroke="#9c7a55" stroke-opacity="0.11" stroke-width="2.4"/><path d="M1928,1636 C2066,1702 2204,1771 2346,1831" stroke="#f4e2c4" stroke-opacity="0.07" stroke-width="1.4"/><path d="M2564,1943 C2774,2043 2984,2142 3196,2238" stroke="#f4e2c4" stroke-opacity="0.06" stroke-width="1.3"/><path d="M2296,1831 C2599,1975 2904,2113 3208,2256" stroke="#7e6044" stroke-opacity="0.06" stroke-width="2.5"/><path d="M2307,1844 C2453,1909 2598,1976 2741,2047" stroke="#f4e2c4" stroke-opacity="0.05" stroke-width="1.4"/><path d="M1977,1696 C2129,1767 2279,1840 2432,1908" stroke="#9c7a55" stroke-opacity="0.12" stroke-width="1.2"/><path d="M1992,1715 C2152,1786 2310,1862 2468,1937" stroke="#f4e2c4" stroke-opacity="0.07" stroke-width="1.3"/><path d="M1927,1694 C2175,1813 2425,1927 2675,2042" stroke="#7e6044" stroke-opacity="0.13" stroke-width="1.6"/><path d="M2088,1778 C2312,1886 2539,1987 2764,2094" stroke="#8a6a48" stroke-opacity="0.06" stroke-width="0.9"/><path d="M1922,1716 C2034,1768 2145,1823 2258,1873" stroke="#f4e2c4" stroke-opacity="0.07" stroke-width="2.4"/><path d="M1829,1675 C2142,1821 2456,1964 2768,2113" stroke="#9c7a55" stroke-opacity="0.12" stroke-width="1.4"/><path d="M2170,1846 C2425,1960 2674,2086 2928,2200" stroke="#7e6044" stroke-opacity="0.05" stroke-width="2.4"/><path d="M1435,1513 C1770,1666 2104,1820 2435,1980" stroke="#7e6044" stroke-opacity="0.09" stroke-width="1.1"/><path d="M1892,1737 C2226,1889 2558,2042 2888,2201" stroke="#9c7a55" stroke-opacity="0.07" stroke-width="2.5"/><path d="M2604,2082 C2766,2155 2925,2233 3087,2307" stroke="#f4e2c4" stroke-opacity="0.10" stroke-width="1.2"/><path d="M2035,1827 C2180,1897 2330,1960 2474,2032" stroke="#7e6044" stroke-opacity="0.07" stroke-width="1.7"/><path d="M2677,2136 C2818,2198 2956,2265 3095,2331" stroke="#8a6a48" stroke-opacity="0.11" stroke-width="2.5"/><path d="M2014,1839 C2286,1962 2553,2094 2824,2216" stroke="#f4e2c4" stroke-opacity="0.12" stroke-width="2.0"/><path d="M2501,2075 C2702,2166 2903,2256 3101,2355" stroke="#9c7a55" stroke-opacity="0.11" stroke-width="2.5"/><path d="M2140,1911 C2355,2007 2567,2107 2779,2209" stroke="#8a6a48" stroke-opacity="0.08" stroke-width="1.0"/><path d="M2035,1873 C2282,1991 2530,2109 2780,2221" stroke="#f4e2c4" stroke-opacity="0.08" stroke-width="2.3"/><path d="M2147,1938 C2450,2078 2752,2223 3056,2362" stroke="#7e6044" stroke-opacity="0.07" stroke-width="2.2"/><path d="M2194,1969 C2300,2017 2405,2064 2509,2116" stroke="#8a6a48" stroke-opacity="0.07" stroke-width="2.5"/><path d="M1929,1855 C2216,1985 2498,2126 2785,2254" stroke="#8a6a48" stroke-opacity="0.06" stroke-width="2.1"/><path d="M2452,2114 C2693,2221 2927,2341 3167,2448" stroke="#f4e2c4" stroke-opacity="0.04" stroke-width="1.7"/><path d="M2358,2080 C2562,2171 2765,2265 2966,2363" stroke="#8a6a48" stroke-opacity="0.13" stroke-width="1.1"/><path d="M2325,2072 C2640,2223 2956,2373 3276,2515" stroke="#8a6a48" stroke-opacity="0.12" stroke-width="2.4"/><path d="M1592,1737 C1767,1819 1940,1904 2116,1982" stroke="#f4e2c4" stroke-opacity="0.09" stroke-width="1.2"/><path d="M2264,2062 C2606,2221 2949,2378 3290,2540" stroke="#8a6a48" stroke-opacity="0.07" stroke-width="2.1"/><path d="M1587,1752 C1835,1867 2084,1982 2331,2099" stroke="#9c7a55" stroke-opacity="0.08" stroke-width="2.6"/><path d="M2349,2120 C2485,2179 2617,2248 2753,2309" stroke="#8a6a48" stroke-opacity="0.13" stroke-width="1.5"/><path d="M1564,1768 C1897,1921 2228,2081 2562,2233" stroke="#7e6044" stroke-opacity="0.12" stroke-width="1.4"/><path d="M2463,2193 C2572,2242 2678,2294 2786,2344" stroke="#7e6044" stroke-opacity="0.10" stroke-width="1.0"/><path d="M2478,2215 C2688,2315 2900,2409 3110,2509" stroke="#f4e2c4" stroke-opacity="0.10" stroke-width="2.0"/></g>
<path d="M 2062.0,1753.0 C 2096.5,1731.5 2138.8,1697.7 2138.8,1652.5" fill="none" stroke="#1a1208" stroke-width="1.45" />
<path d="M 3023.2,1570.0 C 3023.2,1609.2 3065.1,1647.9 3099.2,1657.0" fill="none" stroke="#1a1208" stroke-width="1.45" />
<path d="M 2705.0,1762.5 C 2706.1,1822.5 2712.3,1868.1 2726.0,1882.5" fill="none" stroke="#1a1208" stroke-width="1.45" />
<polygon points="2138.8,1652.5 2456.2,1459.5 3023.2,1570.0 2705.0,1762.5" fill="none" stroke="#1a1208" stroke-width="1.45" />
<polygon points="2166.2,1651.2 2463.0,1468.0 2996.2,1572.5 2699.5,1754.5" fill="none" stroke="#1a1208" stroke-width="1.25" />
<line x1="2138.8" y1="1652.5" x2="2166.2" y2="1651.2" stroke="#1a1208" stroke-width="1.25"/>
<line x1="2456.2" y1="1459.5" x2="2463.0" y2="1468.0" stroke="#1a1208" stroke-width="1.25"/>
<line x1="3023.2" y1="1570.0" x2="2996.2" y2="1572.5" stroke="#1a1208" stroke-width="1.25"/>
<line x1="2705.0" y1="1762.5" x2="2699.5" y2="1754.5" stroke="#1a1208" stroke-width="1.25"/>
<line x1="2223.8" y1="1661.2" x2="2463.0" y2="1514.5" stroke="#1a1208" stroke-width="1.25"/>
<line x1="2463.0" y1="1514.5" x2="2937.5" y2="1607.5" stroke="#1a1208" stroke-width="1.25"/>
<line x1="2463.0" y1="1468.0" x2="2463.0" y2="1514.5" stroke="#1a1208" stroke-width="1.25"/>
<path d="M 2062.0,1753.0 L 2062.0,1895.0 L 2726.0,2022.5 L 3099.2,1797.5 L 3099.2,1657.0 L 2726.0,1882.5" fill="none" stroke="#1a1208" stroke-width="1.45" stroke-linejoin="round"/>
<line x1="2062.0" y1="1753.0" x2="2726.0" y2="1882.5" stroke="#1a1208" stroke-width="1.45"/>
<line x1="2726.0" y1="1882.5" x2="2726.0" y2="2022.5" stroke="#1a1208" stroke-width="1.45"/>
<line x1="1312.3" y1="680.0" x2="1312.3" y2="783.0" stroke="#1074b6" stroke-width="2.5"/>
<line x1="1312.3" y1="823.0" x2="1312.3" y2="915.0" stroke="#1074b6" stroke-width="2.5"/>
<polygon points="1312.3,680.0 1318.1,698.5 1306.5,698.5" fill="#1074b6" stroke="none" stroke-width="0" />
<polygon points="1312.3,915.0 1306.5,896.5 1318.1,896.5" fill="#1074b6" stroke="none" stroke-width="0" />
<line x1="1296.7" y1="678.3" x2="1335.0" y2="685.7" stroke="#1074b6" stroke-width="2.5"/>
<line x1="1296.7" y1="912.7" x2="1335.0" y2="920.0" stroke="#1074b6" stroke-width="2.5"/>
<text transform="translate(1291.2,814.3) scale(1,1.070)" font-family="Liberation Sans" font-size="29.5" font-weight="normal" fill="#1074b6" text-anchor="start" letter-spacing="0.7" stroke="#1074b6" stroke-width="0.5">2.5</text>
<line x1="1450.7" y1="593.3" x2="1450.7" y2="665.0" stroke="#1074b6" stroke-width="2.5"/>
<line x1="1603.3" y1="501.7" x2="1603.3" y2="571.7" stroke="#1074b6" stroke-width="2.5"/>
<line x1="1450.7" y1="611.7" x2="1488.3" y2="589.1" stroke="#1074b6" stroke-width="2.5"/>
<line x1="1545.0" y1="555.0" x2="1603.3" y2="520.0" stroke="#1074b6" stroke-width="2.5"/>
<polygon points="1450.7,611.7 1463.6,597.2 1469.5,607.1" fill="#1074b6" stroke="none" stroke-width="0" />
<polygon points="1603.3,520.0 1590.4,534.5 1584.5,524.6" fill="#1074b6" stroke="none" stroke-width="0" />
<text transform="translate(1477.8,582.3) scale(1,1.070)" font-family="Liberation Sans" font-size="29.5" font-weight="normal" fill="#1074b6" text-anchor="start" letter-spacing="0.7" stroke="#1074b6" stroke-width="0.5">3.125</text>
<line x1="1876.0" y1="555.0" x2="1876.0" y2="625.0" stroke="#1074b6" stroke-width="2.5"/>
<line x1="1603.3" y1="520.0" x2="1701.7" y2="539.2" stroke="#1074b6" stroke-width="2.5"/>
<line x1="1813.3" y1="561.0" x2="1876.0" y2="573.3" stroke="#1074b6" stroke-width="2.5"/>
<polygon points="1603.3,520.0 1622.6,517.9 1620.3,529.2" fill="#1074b6" stroke="none" stroke-width="0" />
<polygon points="1876.0,573.3 1856.7,575.4 1859.0,564.1" fill="#1074b6" stroke="none" stroke-width="0" />
<text transform="translate(1719.5,560.0) scale(1,1.070)" font-family="Liberation Sans" font-size="29.5" font-weight="normal" fill="#1074b6" text-anchor="start" letter-spacing="0.7" stroke="#1074b6" stroke-width="0.5">3.125</text>
<line x1="1347.3" y1="936.7" x2="1347.3" y2="983.3" stroke="#1074b6" stroke-width="2.5"/>
<line x1="1750.7" y1="1015.0" x2="1750.7" y2="1061.7" stroke="#1074b6" stroke-width="2.5"/>
<line x1="1348.3" y1="966.0" x2="1460.0" y2="987.5" stroke="#1074b6" stroke-width="2.5"/>
<line x1="1571.7" y1="1008.9" x2="1750.7" y2="1043.3" stroke="#1074b6" stroke-width="2.5"/>
<polygon points="1348.3,966.0 1367.6,963.8 1365.4,975.2" fill="#1074b6" stroke="none" stroke-width="0" />
<polygon points="1750.7,1043.3 1731.4,1045.5 1733.6,1034.1" fill="#1074b6" stroke="none" stroke-width="0" />
<text transform="translate(1476.2,1009.0) scale(1,1.070)" font-family="Liberation Sans" font-size="29.5" font-weight="normal" fill="#1074b6" text-anchor="start" letter-spacing="0.7" stroke="#1074b6" stroke-width="0.5">4.625</text>
<line x1="1976.7" y1="877.5" x2="1976.7" y2="925.0" stroke="#1074b6" stroke-width="2.5"/>
<line x1="1750.7" y1="1043.3" x2="1853.3" y2="981.6" stroke="#1074b6" stroke-width="2.5"/>
<line x1="1913.3" y1="945.5" x2="1976.7" y2="907.3" stroke="#1074b6" stroke-width="2.5"/>
<polygon points="1750.7,1043.3 1763.6,1028.8 1769.5,1038.7" fill="#1074b6" stroke="none" stroke-width="0" />
<polygon points="1976.7,907.3 1963.8,921.8 1957.9,911.9" fill="#1074b6" stroke="none" stroke-width="0" />
<text transform="translate(1843.5,975.0) scale(1,1.070)" font-family="Liberation Sans" font-size="29.5" font-weight="normal" fill="#1074b6" text-anchor="start" letter-spacing="0.7" stroke="#1074b6" stroke-width="0.5">4.625</text>
<polyline points="1641.7,556.0 1624.3,556.0 1624.3,636.7" fill="none" stroke="#8c8a00" stroke-width="2.2"/>
<polygon points="1624.3,592.0 1629.5,607.0 1619.1,607.0" fill="#8c8a00" stroke="none" stroke-width="0" />
<polygon points="1624.3,636.7 1619.1,621.7 1629.5,621.7" fill="#8c8a00" stroke="none" stroke-width="0" />
<text transform="translate(1659.0,565.7) scale(1,1.070)" font-family="Liberation Sans" font-size="29.5" font-weight="normal" fill="#8c8a00" text-anchor="start" letter-spacing="0.7" stroke="#8c8a00" stroke-width="0.5">.5</text>
<text transform="translate(1593.0,478.3) scale(1,1.020)" font-family="Liberation Sans" font-size="50" font-weight="bold" fill="#0a7ec3" text-anchor="start" >3&quot; CAP</text>
<text transform="translate(1559.7,1116.0) scale(1,1.020)" font-family="Liberation Sans" font-size="49.6" font-weight="bold" fill="#0a7ec3" text-anchor="start" >01733015-1</text>
<line x1="2271.5" y1="673.5" x2="2271.5" y2="787.5" stroke="#1074b6" stroke-width="2.5"/>
<line x1="2271.5" y1="822.5" x2="2271.5" y2="910.0" stroke="#1074b6" stroke-width="2.5"/>
<polygon points="2271.5,673.5 2277.3,692.0 2265.7,692.0" fill="#1074b6" stroke="none" stroke-width="0" />
<polygon points="2271.5,910.0 2265.7,891.5 2277.3,891.5" fill="#1074b6" stroke="none" stroke-width="0" />
<line x1="2255.0" y1="671.5" x2="2352.5" y2="688.5" stroke="#1074b6" stroke-width="2.5"/>
<line x1="2255.0" y1="907.5" x2="2307.5" y2="916.5" stroke="#1074b6" stroke-width="2.5"/>
<text transform="translate(2248.5,815.0) scale(1,1.070)" font-family="Liberation Sans" font-size="29.5" font-weight="normal" fill="#1074b6" text-anchor="start" letter-spacing="0.7" stroke="#1074b6" stroke-width="0.5">2.5</text>
<line x1="2424.4" y1="592.5" x2="2424.4" y2="660.0" stroke="#1074b6" stroke-width="2.5"/>
<line x1="2626.0" y1="467.5" x2="2626.0" y2="537.5" stroke="#1074b6" stroke-width="2.5"/>
<line x1="2424.4" y1="607.5" x2="2481.5" y2="573.1" stroke="#1074b6" stroke-width="2.5"/>
<line x1="2539.0" y1="538.4" x2="2626.0" y2="486.0" stroke="#1074b6" stroke-width="2.5"/>
<polygon points="2424.4,607.5 2437.3,593.0 2443.2,602.9" fill="#1074b6" stroke="none" stroke-width="0" />
<polygon points="2626.0,486.0 2613.1,500.5 2607.2,490.6" fill="#1074b6" stroke="none" stroke-width="0" />
<text transform="translate(2472.0,566.0) scale(1,1.070)" font-family="Liberation Sans" font-size="29.5" font-weight="normal" fill="#1074b6" text-anchor="start" letter-spacing="0.7" stroke="#1074b6" stroke-width="0.5">4.125</text>
<line x1="2984.8" y1="539.2" x2="2984.8" y2="608.7" stroke="#1074b6" stroke-width="2.5"/>
<line x1="2626.0" y1="486.0" x2="2772.5" y2="514.1" stroke="#1074b6" stroke-width="2.5"/>
<line x1="2885.0" y1="535.7" x2="2984.8" y2="554.9" stroke="#1074b6" stroke-width="2.5"/>
<polygon points="2626.0,486.0 2645.3,483.8 2643.1,495.2" fill="#1074b6" stroke="none" stroke-width="0" />
<polygon points="2984.8,554.9 2965.5,557.1 2967.7,545.7" fill="#1074b6" stroke="none" stroke-width="0" />
<text transform="translate(2791.0,535.0) scale(1,1.070)" font-family="Liberation Sans" font-size="29.5" font-weight="normal" fill="#1074b6" text-anchor="start" letter-spacing="0.7" stroke="#1074b6" stroke-width="0.5">4.125</text>
<line x1="2321.5" y1="935.0" x2="2321.5" y2="980.0" stroke="#1074b6" stroke-width="2.5"/>
<line x1="2811.0" y1="1030.0" x2="2811.0" y2="1075.0" stroke="#1074b6" stroke-width="2.5"/>
<line x1="2321.5" y1="965.0" x2="2462.5" y2="992.1" stroke="#1074b6" stroke-width="2.5"/>
<line x1="2577.5" y1="1014.2" x2="2811.0" y2="1059.0" stroke="#1074b6" stroke-width="2.5"/>
<polygon points="2321.5,965.0 2340.8,962.8 2338.6,974.2" fill="#1074b6" stroke="none" stroke-width="0" />
<polygon points="2811.0,1059.0 2791.7,1061.2 2793.9,1049.8" fill="#1074b6" stroke="none" stroke-width="0" />
<text transform="translate(2483.5,1012.5) scale(1,1.070)" font-family="Liberation Sans" font-size="29.5" font-weight="normal" fill="#1074b6" text-anchor="start" letter-spacing="0.7" stroke="#1074b6" stroke-width="0.5">5.625</text>
<line x1="3086.0" y1="862.5" x2="3086.0" y2="910.0" stroke="#1074b6" stroke-width="2.5"/>
<line x1="2811.0" y1="1059.0" x2="2952.5" y2="974.6" stroke="#1074b6" stroke-width="2.5"/>
<line x1="3020.0" y1="934.4" x2="3086.0" y2="895.0" stroke="#1074b6" stroke-width="2.5"/>
<polygon points="2811.0,1059.0 2823.9,1044.5 2829.9,1054.5" fill="#1074b6" stroke="none" stroke-width="0" />
<polygon points="3086.0,895.0 3073.1,909.5 3067.1,899.5" fill="#1074b6" stroke="none" stroke-width="0" />
<text transform="translate(2947.0,966.0) scale(1,1.070)" font-family="Liberation Sans" font-size="29.5" font-weight="normal" fill="#1074b6" text-anchor="start" letter-spacing="0.7" stroke="#1074b6" stroke-width="0.5">5.625</text>
<polyline points="2708.3,530.4 2689.0,530.4 2689.0,611.7" fill="none" stroke="#8c8a00" stroke-width="2.2"/>
<polygon points="2689.0,564.4 2694.2,579.4 2683.8,579.4" fill="#8c8a00" stroke="none" stroke-width="0" />
<polygon points="2689.0,611.7 2683.8,596.7 2694.2,596.7" fill="#8c8a00" stroke="none" stroke-width="0" />
<text transform="translate(2725.0,540.7) scale(1,1.070)" font-family="Liberation Sans" font-size="29.5" font-weight="normal" fill="#8c8a00" text-anchor="start" letter-spacing="0.7" stroke="#8c8a00" stroke-width="0.5">.5</text>
<text transform="translate(2623.0,444.0) scale(1,1.020)" font-family="Liberation Sans" font-size="50" font-weight="bold" fill="#0a7ec3" text-anchor="start" >4&quot; CAP</text>
<text transform="translate(2575.5,1122.5) scale(1,1.020)" font-family="Liberation Sans" font-size="49.6" font-weight="bold" fill="#0a7ec3" text-anchor="start" >01734015-1</text>
<line x1="849.0" y1="1640.0" x2="849.0" y2="1735.0" stroke="#1074b6" stroke-width="2.5"/>
<line x1="849.0" y1="1772.5" x2="849.0" y2="1875.0" stroke="#1074b6" stroke-width="2.5"/>
<polygon points="849.0,1640.0 854.8,1658.5 843.2,1658.5" fill="#1074b6" stroke="none" stroke-width="0" />
<polygon points="849.0,1875.0 843.2,1856.5 854.8,1856.5" fill="#1074b6" stroke="none" stroke-width="0" />
<line x1="832.5" y1="1637.5" x2="967.5" y2="1662.5" stroke="#1074b6" stroke-width="2.5"/>
<line x1="832.5" y1="1872.5" x2="881.5" y2="1882.5" stroke="#1074b6" stroke-width="2.5"/>
<text transform="translate(827.0,1764.0) scale(1,1.070)" font-family="Liberation Sans" font-size="29.5" font-weight="normal" fill="#1074b6" text-anchor="start" letter-spacing="0.7" stroke="#1074b6" stroke-width="0.5">2.5</text>
<line x1="997.5" y1="1555.0" x2="997.5" y2="1625.0" stroke="#1074b6" stroke-width="2.5"/>
<line x1="1247.5" y1="1402.5" x2="1247.5" y2="1473.8" stroke="#1074b6" stroke-width="2.5"/>
<line x1="997.5" y1="1570.0" x2="1076.2" y2="1524.0" stroke="#1074b6" stroke-width="2.5"/>
<line x1="1132.5" y1="1491.2" x2="1247.5" y2="1424.0" stroke="#1074b6" stroke-width="2.5"/>
<polygon points="997.5,1570.0 1010.6,1555.7 1016.4,1565.7" fill="#1074b6" stroke="none" stroke-width="0" />
<polygon points="1247.5,1424.0 1234.4,1438.3 1228.6,1428.3" fill="#1074b6" stroke="none" stroke-width="0" />
<text transform="translate(1067.0,1518.0) scale(1,1.070)" font-family="Liberation Sans" font-size="29.5" font-weight="normal" fill="#1074b6" text-anchor="start" letter-spacing="0.7" stroke="#1074b6" stroke-width="0.5">5.125</text>
<line x1="1694.9" y1="1491.3" x2="1694.9" y2="1560.8" stroke="#1074b6" stroke-width="2.5"/>
<line x1="1247.5" y1="1424.0" x2="1447.5" y2="1461.5" stroke="#1074b6" stroke-width="2.5"/>
<line x1="1557.5" y1="1482.1" x2="1694.9" y2="1507.8" stroke="#1074b6" stroke-width="2.5"/>
<polygon points="1247.5,1424.0 1266.8,1421.7 1264.6,1433.1" fill="#1074b6" stroke="none" stroke-width="0" />
<polygon points="1694.9,1507.8 1675.6,1510.1 1677.8,1498.7" fill="#1074b6" stroke="none" stroke-width="0" />
<text transform="translate(1463.5,1480.0) scale(1,1.070)" font-family="Liberation Sans" font-size="29.5" font-weight="normal" fill="#1074b6" text-anchor="start" letter-spacing="0.7" stroke="#1074b6" stroke-width="0.5">5.125</text>
<line x1="895.0" y1="1897.5" x2="895.0" y2="1945.0" stroke="#1074b6" stroke-width="2.5"/>
<line x1="1471.5" y1="2010.0" x2="1471.5" y2="2060.0" stroke="#1074b6" stroke-width="2.5"/>
<line x1="895.0" y1="1931.5" x2="1070.0" y2="1964.4" stroke="#1074b6" stroke-width="2.5"/>
<line x1="1187.5" y1="1986.5" x2="1471.5" y2="2040.0" stroke="#1074b6" stroke-width="2.5"/>
<polygon points="895.0,1931.5 914.3,1929.2 912.1,1940.6" fill="#1074b6" stroke="none" stroke-width="0" />
<polygon points="1471.5,2040.0 1452.2,2042.3 1454.4,2030.9" fill="#1074b6" stroke="none" stroke-width="0" />
<text transform="translate(1090.5,1984.0) scale(1,1.070)" font-family="Liberation Sans" font-size="29.5" font-weight="normal" fill="#1074b6" text-anchor="start" letter-spacing="0.7" stroke="#1074b6" stroke-width="0.5">6.625</text>
<line x1="1795.0" y1="1812.5" x2="1795.0" y2="1862.5" stroke="#1074b6" stroke-width="2.5"/>
<line x1="1471.5" y1="2040.0" x2="1649.1" y2="1934.3" stroke="#1074b6" stroke-width="2.5"/>
<line x1="1705.2" y1="1900.9" x2="1795.0" y2="1847.5" stroke="#1074b6" stroke-width="2.5"/>
<polygon points="1471.5,2040.0 1484.4,2025.6 1490.4,2035.5" fill="#1074b6" stroke="none" stroke-width="0" />
<polygon points="1795.0,1847.5 1782.1,1861.9 1776.1,1852.0" fill="#1074b6" stroke="none" stroke-width="0" />
<text transform="translate(1638.0,1928.5) scale(1,1.070)" font-family="Liberation Sans" font-size="29.5" font-weight="normal" fill="#1074b6" text-anchor="start" letter-spacing="0.7" stroke="#1074b6" stroke-width="0.5">6.625</text>
<polyline points="1373.8,1473.8 1355.0,1473.8 1355.0,1556.2" fill="none" stroke="#8c8a00" stroke-width="2.2"/>
<polygon points="1355.0,1508.8 1360.2,1523.8 1349.8,1523.8" fill="#8c8a00" stroke="none" stroke-width="0" />
<polygon points="1355.0,1556.2 1349.8,1541.2 1360.2,1541.2" fill="#8c8a00" stroke="none" stroke-width="0" />
<text transform="translate(1391.5,1485.0) scale(1,1.070)" font-family="Liberation Sans" font-size="29.5" font-weight="normal" fill="#8c8a00" text-anchor="start" letter-spacing="0.7" stroke="#8c8a00" stroke-width="0.5">.5</text>
<text transform="translate(1242.0,1386.0) scale(1,1.020)" font-family="Liberation Sans" font-size="50" font-weight="bold" fill="#0a7ec3" text-anchor="start" >5&quot; CAP</text>
<text transform="translate(1180.5,2135.2) scale(1,1.020)" font-family="Liberation Sans" font-size="49.6" font-weight="bold" fill="#0a7ec3" text-anchor="start" >01735015-1</text>
<line x1="2014.0" y1="1650.0" x2="2014.0" y2="1727.5" stroke="#1074b6" stroke-width="2.5"/>
<line x1="2014.0" y1="1767.5" x2="2014.0" y2="1882.5" stroke="#1074b6" stroke-width="2.5"/>
<polygon points="2014.0,1650.0 2019.8,1668.5 2008.2,1668.5" fill="#1074b6" stroke="none" stroke-width="0" />
<polygon points="2014.0,1882.5 2008.2,1864.0 2019.8,1864.0" fill="#1074b6" stroke="none" stroke-width="0" />
<line x1="1999.0" y1="1646.5" x2="2180.0" y2="1682.0" stroke="#1074b6" stroke-width="2.5"/>
<line x1="1999.0" y1="1881.5" x2="2047.5" y2="1890.0" stroke="#1074b6" stroke-width="2.5"/>
<text transform="translate(1992.0,1760.0) scale(1,1.070)" font-family="Liberation Sans" font-size="29.5" font-weight="normal" fill="#1074b6" text-anchor="start" letter-spacing="0.7" stroke="#1074b6" stroke-width="0.5">2.5</text>
<line x1="2163.8" y1="1565.0" x2="2163.8" y2="1635.0" stroke="#1074b6" stroke-width="2.5"/>
<line x1="2463.5" y1="1385.0" x2="2463.5" y2="1452.5" stroke="#1074b6" stroke-width="2.5"/>
<line x1="2163.8" y1="1581.2" x2="2262.5" y2="1522.4" stroke="#1074b6" stroke-width="2.5"/>
<line x1="2321.2" y1="1487.3" x2="2463.5" y2="1402.5" stroke="#1074b6" stroke-width="2.5"/>
<polygon points="2163.8,1581.2 2176.7,1566.8 2182.6,1576.8" fill="#1074b6" stroke="none" stroke-width="0" />
<polygon points="2463.5,1402.5 2450.6,1417.0 2444.6,1407.0" fill="#1074b6" stroke="none" stroke-width="0" />
<text transform="translate(2253.2,1515.0) scale(1,1.070)" font-family="Liberation Sans" font-size="29.5" font-weight="normal" fill="#1074b6" text-anchor="start" letter-spacing="0.7" stroke="#1074b6" stroke-width="0.5">6.125</text>
<line x1="2997.5" y1="1487.5" x2="2997.5" y2="1557.5" stroke="#1074b6" stroke-width="2.5"/>
<line x1="2463.5" y1="1402.5" x2="2705.0" y2="1449.3" stroke="#1074b6" stroke-width="2.5"/>
<line x1="2822.5" y1="1472.1" x2="2997.5" y2="1506.0" stroke="#1074b6" stroke-width="2.5"/>
<polygon points="2463.5,1402.5 2482.8,1400.3 2480.6,1411.7" fill="#1074b6" stroke="none" stroke-width="0" />
<polygon points="2997.5,1506.0 2978.2,1508.2 2980.4,1496.8" fill="#1074b6" stroke="none" stroke-width="0" />
<text transform="translate(2727.0,1471.0) scale(1,1.070)" font-family="Liberation Sans" font-size="29.5" font-weight="normal" fill="#1074b6" text-anchor="start" letter-spacing="0.7" stroke="#1074b6" stroke-width="0.5">6.125</text>
<line x1="2061.5" y1="1907.5" x2="2061.5" y2="1955.0" stroke="#1074b6" stroke-width="2.5"/>
<line x1="2725.8" y1="2037.5" x2="2725.8" y2="2087.5" stroke="#1074b6" stroke-width="2.5"/>
<line x1="2061.5" y1="1940.0" x2="2270.0" y2="1980.0" stroke="#1074b6" stroke-width="2.5"/>
<line x1="2390.0" y1="2003.1" x2="2725.8" y2="2067.5" stroke="#1074b6" stroke-width="2.5"/>
<polygon points="2061.5,1940.0 2080.8,1937.8 2078.6,1949.2" fill="#1074b6" stroke="none" stroke-width="0" />
<polygon points="2725.8,2067.5 2706.5,2069.7 2708.7,2058.3" fill="#1074b6" stroke="none" stroke-width="0" />
<text transform="translate(2293.5,2002.5) scale(1,1.070)" font-family="Liberation Sans" font-size="29.5" font-weight="normal" fill="#1074b6" text-anchor="start" letter-spacing="0.7" stroke="#1074b6" stroke-width="0.5">7.625</text>
<line x1="3099.0" y1="1811.0" x2="3099.0" y2="1861.0" stroke="#1074b6" stroke-width="2.5"/>
<line x1="2725.8" y1="2067.5" x2="2933.7" y2="1943.5" stroke="#1074b6" stroke-width="2.5"/>
<line x1="2990.4" y1="1909.7" x2="3099.0" y2="1845.0" stroke="#1074b6" stroke-width="2.5"/>
<polygon points="2725.8,2067.5 2738.7,2053.0 2744.6,2063.0" fill="#1074b6" stroke="none" stroke-width="0" />
<polygon points="3099.0,1845.0 3086.1,1859.5 3080.1,1849.5" fill="#1074b6" stroke="none" stroke-width="0" />
<text transform="translate(2926.5,1937.7) scale(1,1.070)" font-family="Liberation Sans" font-size="29.5" font-weight="normal" fill="#1074b6" text-anchor="start" letter-spacing="0.7" stroke="#1074b6" stroke-width="0.5">7.625</text>
<polyline points="2632.5,1462.5 2615.0,1462.5 2615.0,1545.0" fill="none" stroke="#8c8a00" stroke-width="2.2"/>
<polygon points="2615.0,1497.0 2620.2,1512.0 2609.8,1512.0" fill="#8c8a00" stroke="none" stroke-width="0" />
<polygon points="2615.0,1545.0 2609.8,1530.0 2620.2,1530.0" fill="#8c8a00" stroke="none" stroke-width="0" />
<text transform="translate(2650.0,1475.0) scale(1,1.070)" font-family="Liberation Sans" font-size="29.5" font-weight="normal" fill="#8c8a00" text-anchor="start" letter-spacing="0.7" stroke="#8c8a00" stroke-width="0.5">.5</text>
<text transform="translate(2494.0,1376.0) scale(1,1.020)" font-family="Liberation Sans" font-size="50" font-weight="bold" fill="#0a7ec3" text-anchor="start" >6&quot; CAP</text>
<text transform="translate(2493.0,2153.8) scale(1,1.020)" font-family="Liberation Sans" font-size="49.6" font-weight="bold" fill="#0a7ec3" text-anchor="start" >01736015-1</text>
<text transform="translate(1248.5,151.5) scale(1,1.030)" font-family="Liberation Sans" font-size="83.4" font-weight="bold" fill="#0a7ec3" text-anchor="start" >CONTEMPORARY CAP</text>
<text x="832.5" y="728.4" font-family="Liberation Sans" font-size="31" font-weight="normal" fill="#1074b6" text-anchor="middle" >AVAILABLE IN</text>
<text x="831.4" y="763.1" font-family="Liberation Sans" font-size="30.5" font-weight="normal" fill="#1074b6" text-anchor="middle" >3&quot; 01623010-1 (35.25) &amp; 01633010-1 (42.25)</text>
<text x="831.4" y="797.3" font-family="Liberation Sans" font-size="30.5" font-weight="normal" fill="#1074b6" text-anchor="middle" >4&quot; 01624010-1 (35.25) &amp; 01634010-1 (42.25)</text>
<text x="831.4" y="832.0" font-family="Liberation Sans" font-size="30.5" font-weight="normal" fill="#1074b6" text-anchor="middle" >3&quot; 01625010-1 (35.25) &amp; 01635010-1 (42.25)</text>
<text x="831.4" y="866.2" font-family="Liberation Sans" font-size="30.5" font-weight="normal" fill="#1074b6" text-anchor="middle" >3&quot; 01626010-1 (35.25) &amp; 01636010-1 (42.25)</text>
<text transform="translate(357.0,1912.5) scale(1,1.020)" font-family="Liberation Sans" font-size="50" font-weight="bold" fill="#0a7ec3" text-anchor="middle" >CAPS SHOWN</text>
<text transform="translate(357.0,1973.8) scale(1,1.020)" font-family="Liberation Sans" font-size="50" font-weight="bold" fill="#0a7ec3" text-anchor="middle" >IN USE WITH</text>
<text transform="translate(357.0,2036.2) scale(1,1.020)" font-family="Liberation Sans" font-size="50" font-weight="bold" fill="#0a7ec3" text-anchor="middle" >SQUARE</text>
<text transform="translate(357.0,2097.0) scale(1,1.020)" font-family="Liberation Sans" font-size="50" font-weight="bold" fill="#0a7ec3" text-anchor="middle" >COLUMN</text>
<line x1="908" y1="2446.5" x2="3238" y2="2446.5" stroke="#111" stroke-width="2.2"/>
<text x="2647.0" y="2484.0" font-family="Liberation Sans" font-size="31" font-weight="normal" fill="#111" text-anchor="start" >1-800-328-5858 ~ www.brownwoodinc.com</text>
<g transform="translate(60,2295) scale(0.20145)" fill="none" stroke="#1fa5c9" stroke-linecap="round">
<path d="M 790,85 C 650,105 420,125 320,195 C 270,235 290,295 365,285 C 430,275 490,230 530,175" stroke-width="11"/>
<path d="M 700,112 C 805,150 835,265 805,385 C 770,505 630,590 470,592 C 405,592 372,565 382,528" stroke-width="24"/>
<path d="M 700,110 C 640,240 540,420 425,565" stroke-width="34"/>
<path d="M 425,565 C 330,610 150,615 78,540 C 25,470 95,335 235,322 C 335,315 355,425 282,462 C 225,490 192,440 222,402" stroke-width="20"/>
</g>
<text transform="translate(233,2414) scale(0.765,1)" font-family="Liberation Serif" font-style="italic" font-size="100" fill="#1fa5c9" stroke="#fff" stroke-width="0.8">esigns</text>
<text x="438.0" y="2394.0" font-family="Liberation Serif" font-size="36" font-weight="normal" fill="#1fa5c9" text-anchor="start" >of</text>
<path d="M 439,2414 C 452,2404 463,2420 480,2409" fill="none" stroke="#1fa5c9" stroke-width="5" />
<text x="501.0" y="2411.0" font-family="Liberation Serif" font-size="91.5" font-weight="normal" fill="#1fa5c9" text-anchor="start" stroke="#fff" stroke-width="1.6" letter-spacing="0.5">distinction</text>
<text x="897.0" y="2392.0" font-family="Liberation Serif" font-size="18" font-weight="normal" fill="#1fa5c9" text-anchor="start" >®</text>
<text x="506.0" y="2463.0" font-family="Liberation Serif" font-size="42" font-weight="normal" fill="#7a5a2c" text-anchor="start" textLength="386" lengthAdjust="spacing">by Brown Wood, Inc.</text>
<text x="800.0" y="2493.0" font-family="Liberation Serif" font-size="25.5" font-weight="normal" fill="#7a5a2c" text-anchor="start" >est. 1998</text></svg>
</body></html>
